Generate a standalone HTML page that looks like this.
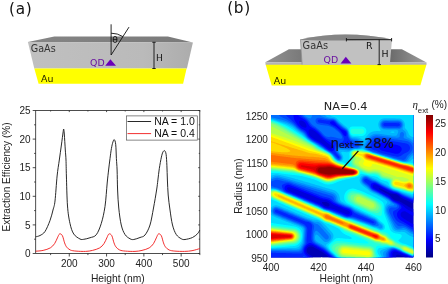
<!DOCTYPE html>
<html><head><meta charset="utf-8"><title>Figure</title>
<style>
html,body{margin:0;padding:0;background:#fff}
svg{display:block}
.dj{font-family:"DejaVu Sans","Liberation Sans",sans-serif}
.ar{font-family:"Liberation Sans",Arial,sans-serif}
</style></head><body>
<svg width="448" height="284" viewBox="0 0 448 284">
<defs>
<linearGradient id="jet" x1="0" y1="1" x2="0" y2="0">
<stop offset="0" stop-color="#000080"/><stop offset="0.125" stop-color="#0000ff"/><stop offset="0.375" stop-color="#00ffff"/><stop offset="0.625" stop-color="#ffff00"/><stop offset="0.875" stop-color="#ff0000"/><stop offset="1" stop-color="#800000"/>
</linearGradient>
<linearGradient id="gfront" x1="0" y1="0" x2="1" y2="0"><stop offset="0" stop-color="#c0c0c0"/><stop offset="0.7" stop-color="#bababa"/><stop offset="1" stop-color="#acacac"/></linearGradient>
<linearGradient id="gtop" x1="0" y1="0" x2="1" y2="0"><stop offset="0" stop-color="#858585"/><stop offset="1" stop-color="#7a7a7a"/></linearGradient>
<linearGradient id="gtopb" x1="0" y1="0" x2="1" y2="0"><stop offset="0" stop-color="#929292"/><stop offset="0.22" stop-color="#7a7a7a"/><stop offset="0.78" stop-color="#6c6c6c"/><stop offset="1" stop-color="#9c9c9c"/></linearGradient>
<linearGradient id="gtopc" x1="0" y1="0" x2="1" y2="0"><stop offset="0" stop-color="#6e6e6e"/><stop offset="1" stop-color="#929292"/></linearGradient>
<clipPath id="hc"><rect x="0" y="0" width="143" height="143"/></clipPath>
</defs>
<rect width="448" height="284" fill="#fff"/>
<g id="schemA">
<polygon points="27.9,42.1 54.3,36.4 167.9,36.4 192.9,42.4" fill="url(#gtop)"/>
<polygon points="27.9,42.1 192.9,42.4 186.9,68.6 34.3,68.4" fill="url(#gfront)"/>
<polygon points="34.3,68.4 186.6,68.6 183.1,83.7 38.6,83.7" fill="#ffff00"/>
<g stroke="#111" stroke-width="0.9" fill="none">
<line x1="111.1" y1="24.3" x2="111.1" y2="55"/>
<line x1="111.1" y1="55" x2="129" y2="27.1"/>
<path d="M111.1,33.2 A21.8,21.8 0 0 1 122.9,36.6"/>
<line x1="154" y1="42.3" x2="154" y2="68.5"/>
<line x1="152.3" y1="42.3" x2="155.7" y2="42.3"/>
<line x1="152.3" y1="68.5" x2="155.7" y2="68.5"/>
</g>
<polygon points="110.4,59.2 105.2,65.8 116,65.8" fill="#6a00b8"/>
<text class="dj" x="9.1" y="14" font-size="15.3" letter-spacing="0.7" fill="#111">(a)</text>
<text class="dj" x="30.8" y="52.2" font-size="9.6" fill="#333">GaAs</text>
<text class="dj" x="41" y="82.2" font-size="9.4" fill="#222200">Au</text>
<text class="dj" x="90" y="65.7" font-size="9.4" fill="#6a12a0">QD</text>
<text class="dj" x="112.3" y="42.8" font-size="9.2" fill="#111">θ</text>
<text class="dj" x="156" y="61" font-size="9" fill="#111">H</text>
</g>
<g id="schemB">
<polygon points="265.3,62.3 288.9,49.3 401.9,49.3 426.6,62.6" fill="url(#gtopb)"/>
<polygon points="265.3,62.2 426.6,62.4 426.4,64.9 265.7,64.9" fill="#b4b4b4"/>
<polygon points="265.7,64.8 426.4,64.8 420.4,85.3 271.7,85.5" fill="#ffff00"/>
<path d="M300.3,39.6 Q345.3,29.6 392,39.6 L389.8,64.8 L302,64.8 Z" fill="#c1c1c1"/>
<path d="M300.3,39.6 Q345.3,29.6 392,39.6 Q345.3,41.4 300.3,39.9 Z" fill="#858585"/>
<path d="M300.5,39.6 L302.1,64.6" stroke="#8a8a8a" stroke-width="0.7" fill="none"/>
<g stroke="#111" stroke-width="0.9" fill="none">
<line x1="346.4" y1="39.7" x2="391.6" y2="39.7"/>
<line x1="346.4" y1="38" x2="346.4" y2="41.4"/>
<line x1="391.6" y1="38" x2="391.6" y2="41.4"/>
<line x1="379.2" y1="39.7" x2="379.2" y2="64.6"/>
<line x1="377.5" y1="64.6" x2="380.9" y2="64.6"/>
</g>
<polygon points="345.8,56.7 340.6,63.4 351.4,63.4" fill="#6a00b8"/>
<text class="dj" x="227.2" y="12.7" font-size="15.3" letter-spacing="0.7" fill="#111">(b)</text>
<text class="dj" x="302.6" y="48.6" font-size="9.8" fill="#333">GaAs</text>
<text class="dj" x="273.8" y="84" font-size="9.4" fill="#222200">Au</text>
<text class="dj" x="323.5" y="63.2" font-size="9.4" fill="#6a12a0">QD</text>
<text class="dj" x="366" y="48.7" font-size="9.4" fill="#111">R</text>
<text class="dj" x="381.6" y="56.7" font-size="9.4" fill="#111">H</text>
</g>
<g id="chartA">
<rect x="35.7" y="110.5" width="164.1" height="143.0" fill="#fff" stroke="#222" stroke-width="0.8"/>
<path d="M50.62,253.5v1.6M50.62,110.5v1.0M69.27,253.5v3.0M69.27,110.5v1.6M87.92,253.5v1.6M87.92,110.5v1.0M106.57,253.5v3.0M106.57,110.5v1.6M125.22,253.5v1.6M125.22,110.5v1.0M143.87,253.5v3.0M143.87,110.5v1.6M162.52,253.5v1.6M162.52,110.5v1.0M181.17,253.5v3.0M181.17,110.5v1.6M199.82,253.5v1.6M199.82,110.5v1.0M35.7,253.50h-3.0M199.8,253.50h-1.6M35.7,239.20h-1.6M199.8,239.20h-1.0M35.7,224.90h-3.0M199.8,224.90h-1.6M35.7,210.60h-1.6M199.8,210.60h-1.0M35.7,196.30h-3.0M199.8,196.30h-1.6M35.7,182.00h-1.6M199.8,182.00h-1.0M35.7,167.70h-3.0M199.8,167.70h-1.6M35.7,153.40h-1.6M199.8,153.40h-1.0M35.7,139.10h-3.0M199.8,139.10h-1.6M35.7,124.80h-1.6M199.8,124.80h-1.0M35.7,110.50h-3.0M199.8,110.50h-1.6" stroke="#222" stroke-width="0.8" fill="none"/>
<path d="M35.70,236.80C36.42,236.58 38.45,236.38 40.00,235.50C41.55,234.62 43.33,234.00 45.00,231.50C46.67,229.00 48.67,224.08 50.00,220.50C51.33,216.92 52.17,213.25 53.00,210.00C53.83,206.75 54.32,206.67 55.00,201.00C55.68,195.33 56.38,182.83 57.10,176.00C57.82,169.17 58.58,165.17 59.30,160.00C60.02,154.83 60.75,149.75 61.40,145.00C62.05,140.25 62.82,134.13 63.20,131.50C63.58,128.87 63.52,128.78 63.70,129.20C63.88,129.62 64.03,130.53 64.30,134.00C64.57,137.47 65.02,145.67 65.30,150.00C65.58,154.33 65.82,155.67 66.00,160.00C66.18,164.33 66.15,168.33 66.40,176.00C66.65,183.67 66.90,198.08 67.50,206.00C68.10,213.92 68.96,218.83 70.00,223.50C71.04,228.17 72.08,231.42 73.75,234.00C75.42,236.58 78.33,238.12 80.00,239.00C81.67,239.88 82.08,239.51 83.75,239.30C85.42,239.09 87.92,238.51 90.00,237.75C92.08,236.99 94.38,237.12 96.25,234.75C98.12,232.38 99.79,228.21 101.25,223.50C102.71,218.79 104.01,213.25 105.00,206.50C105.99,199.75 106.60,189.08 107.20,183.00C107.80,176.92 108.13,174.07 108.60,170.00C109.07,165.93 109.53,162.17 110.00,158.60C110.47,155.03 110.92,151.35 111.40,148.60C111.88,145.85 112.42,143.58 112.90,142.10C113.38,140.62 113.83,139.33 114.30,139.70C114.77,140.07 115.35,141.15 115.70,144.30C116.05,147.45 116.17,154.32 116.40,158.60C116.63,162.88 116.90,164.77 117.10,170.00C117.30,175.23 117.32,183.67 117.60,190.00C117.88,196.33 118.14,202.17 118.75,208.00C119.36,213.83 120.21,220.58 121.25,225.00C122.29,229.42 123.54,232.21 125.00,234.50C126.46,236.79 128.54,237.92 130.00,238.75C131.46,239.58 132.08,239.71 133.75,239.50C135.42,239.29 138.12,238.25 140.00,237.50C141.88,236.75 143.33,237.08 145.00,235.00C146.67,232.92 148.58,229.50 150.00,225.00C151.42,220.50 152.40,213.83 153.50,208.00C154.60,202.17 155.87,194.67 156.60,190.00C157.33,185.33 157.45,183.57 157.90,180.00C158.35,176.43 158.72,172.42 159.30,168.60C159.88,164.78 160.80,159.85 161.40,157.10C162.00,154.35 162.37,153.17 162.90,152.10C163.43,151.03 164.07,150.33 164.60,150.70C165.13,151.07 165.72,151.80 166.10,154.30C166.48,156.80 166.68,161.42 166.90,165.70C167.12,169.98 167.18,175.12 167.40,180.00C167.62,184.88 167.77,190.00 168.20,195.00C168.63,200.00 169.28,205.00 170.00,210.00C170.72,215.00 171.46,220.92 172.50,225.00C173.54,229.08 174.79,232.21 176.25,234.50C177.71,236.79 179.79,237.92 181.25,238.75C182.71,239.58 183.12,239.71 185.00,239.50C186.88,239.29 190.42,238.46 192.50,237.50C194.58,236.54 196.28,235.00 197.50,233.75C198.72,232.50 199.42,230.62 199.80,230.00" stroke="#111" stroke-width="0.9" fill="none" stroke-linejoin="round"/>
<path d="M35.70,251.20C36.93,251.07 40.67,250.95 43.10,250.40C45.53,249.85 48.38,249.03 50.30,247.90C52.22,246.77 53.42,245.27 54.60,243.60C55.78,241.93 56.57,239.52 57.40,237.90C58.23,236.28 58.77,234.27 59.60,233.90C60.43,233.53 61.57,234.20 62.40,235.70C63.23,237.20 63.88,241.00 64.60,242.90C65.32,244.80 65.75,245.92 66.70,247.10C67.65,248.28 68.75,249.33 70.30,250.00C71.85,250.67 73.45,250.87 76.00,251.10C78.55,251.33 82.85,251.52 85.60,251.40C88.35,251.28 90.15,250.98 92.50,250.40C94.85,249.82 97.78,249.03 99.70,247.90C101.62,246.77 102.82,245.27 104.00,243.60C105.18,241.93 105.97,239.52 106.80,237.90C107.63,236.28 108.17,234.27 109.00,233.90C109.83,233.53 110.97,234.20 111.80,235.70C112.63,237.20 113.28,241.00 114.00,242.90C114.72,244.80 115.15,245.92 116.10,247.10C117.05,248.28 118.15,249.33 119.70,250.00C121.25,250.67 122.85,250.87 125.40,251.10C127.95,251.33 132.23,251.52 135.00,251.40C137.77,251.28 139.63,250.98 142.00,250.40C144.37,249.82 147.28,249.03 149.20,247.90C151.12,246.77 152.32,245.27 153.50,243.60C154.68,241.93 155.47,239.52 156.30,237.90C157.13,236.28 157.67,234.27 158.50,233.90C159.33,233.53 160.47,234.20 161.30,235.70C162.13,237.20 162.78,241.00 163.50,242.90C164.22,244.80 164.65,245.92 165.60,247.10C166.55,248.28 167.65,249.33 169.20,250.00C170.75,250.67 172.35,250.87 174.90,251.10C177.45,251.33 181.65,251.47 184.50,251.40C187.35,251.33 189.45,251.17 192.00,250.70C194.55,250.23 198.50,248.95 199.80,248.60" stroke="#f01818" stroke-width="0.9" fill="none" stroke-linejoin="round"/>
<text class="ar" x="69.3" y="266.6" font-size="10" text-anchor="middle" fill="#222">200</text>
<text class="ar" x="106.6" y="266.6" font-size="10" text-anchor="middle" fill="#222">300</text>
<text class="ar" x="143.9" y="266.6" font-size="10" text-anchor="middle" fill="#222">400</text>
<text class="ar" x="181.2" y="266.6" font-size="10" text-anchor="middle" fill="#222">500</text>
<text class="ar" x="30.6" y="257.1" font-size="10" text-anchor="end" fill="#222">0</text>
<text class="ar" x="30.6" y="228.5" font-size="10" text-anchor="end" fill="#222">5</text>
<text class="ar" x="30.6" y="199.9" font-size="10" text-anchor="end" fill="#222">10</text>
<text class="ar" x="30.6" y="171.3" font-size="10" text-anchor="end" fill="#222">15</text>
<text class="ar" x="30.6" y="142.7" font-size="10" text-anchor="end" fill="#222">20</text>
<text class="ar" x="30.6" y="114.1" font-size="10" text-anchor="end" fill="#222">25</text>
<text class="ar" x="117.8" y="282" font-size="10.3" text-anchor="middle" fill="#222">Height (nm)</text>
<text class="ar" transform="translate(10,177) rotate(-90)" font-size="10.1" text-anchor="middle" fill="#222">Extraction Efficiency (%)</text>
<rect x="126.5" y="115.9" width="70.8" height="24.2" fill="#fff" stroke="#555" stroke-width="0.7"/>
<line x1="127.5" y1="121.5" x2="151.1" y2="121.5" stroke="#111" stroke-width="0.9"/>
<line x1="127.5" y1="133.6" x2="151.1" y2="133.6" stroke="#f01818" stroke-width="0.9"/>
<text class="ar" x="154.2" y="125.1" font-size="10.5" fill="#111">NA = 1.0</text>
<text class="ar" x="154.2" y="137.2" font-size="10.5" fill="#111">NA = 0.4</text>
</g>
<g id="chartB">
<g transform="translate(271.0,115.0) scale(0.99650,0.99650)" clip-path="url(#hc)">
<rect x="0" y="0" width="143" height="143" fill="#000092"/>
<path fill="#0000b6" d="M0.5,0.0 1.5,0.0 2.5,0.0 3.5,0.0 4.5,0.0 5.5,0.0 6.5,0.0 7.5,0.0 8.5,0.0 9.5,0.0 10.5,0.0 11.5,0.0 12.5,0.0 13.5,0.0 14.5,0.0 15.5,0.0 16.5,0.0 17.5,0.0 18.5,0.0 19.5,0.0 20.5,0.0 21.5,0.0 22.5,0.0 23.5,0.0 24.5,0.0 25.5,0.0 26.5,0.0 27.5,0.0 28.5,0.0 29.5,0.0 30.5,0.0 31.5,0.0 32.5,0.0 33.5,0.0 34.5,0.0 35.5,0.0 36.5,0.0 37.5,0.0 38.5,0.0 39.5,0.0 40.5,0.0 41.5,0.0 42.5,0.0 43.5,0.0 44.5,0.0 45.5,0.0 46.5,0.0 47.5,0.0 48.5,0.0 49.5,0.0 50.5,0.0 51.5,0.0 52.5,0.0 53.5,0.0 54.5,0.0 55.5,0.0 56.5,0.0 57.5,0.0 58.5,0.0 59.5,0.0 60.5,0.0 61.5,0.0 62.5,0.0 63.5,0.0 64.5,0.0 65.5,0.0 66.5,0.0 67.5,0.0 68.5,0.0 69.5,0.0 70.5,0.0 71.5,0.0 72.5,0.0 73.5,0.0 74.5,0.0 75.5,0.0 76.5,0.0 77.5,0.0 78.5,0.0 79.5,0.0 80.5,0.0 81.5,0.0 82.5,0.0 83.5,0.0 84.5,0.0 85.5,0.0 86.5,0.0 87.5,0.0 88.5,0.0 89.5,0.0 90.5,0.0 91.5,0.0 92.5,0.0 93.5,0.0 94.5,0.0 95.5,0.0 96.5,0.0 97.5,0.0 98.5,0.0 99.5,0.0 100.5,0.0 101.5,0.0 102.5,0.0 103.5,0.0 104.5,0.0 105.5,0.0 106.5,0.0 107.5,0.0 108.5,0.0 109.5,0.0 110.5,0.0 111.5,0.0 112.5,0.0 113.5,0.0 114.5,0.0 115.5,0.0 116.5,0.0 117.5,0.0 118.5,0.0 119.5,0.0 120.5,0.0 121.5,0.0 122.5,0.0 123.5,0.0 124.5,0.0 125.5,0.0 126.5,0.0 127.5,0.0 128.5,0.0 129.5,0.0 130.5,0.0 131.5,0.0 132.5,0.0 133.5,0.0 134.5,0.0 135.5,0.0 136.5,0.0 137.5,0.0 138.5,0.0 139.5,0.0 140.5,0.0 141.5,0.0 142.5,0.0 143.0,0.0 143.0,0.5 143.0,1.5 143.0,2.5 143.0,3.5 143.0,4.5 143.0,5.5 143.0,6.5 143.0,7.5 143.0,8.5 143.0,9.5 143.0,10.5 143.0,11.5 143.0,12.5 143.0,13.5 143.0,14.5 143.0,15.5 143.0,16.5 143.0,17.5 143.0,18.5 143.0,19.5 143.0,20.5 143.0,21.5 143.0,22.5 143.0,23.5 143.0,24.5 143.0,25.5 143.0,26.5 143.0,27.5 143.0,28.5 143.0,29.5 143.0,30.5 143.0,31.5 143.0,32.5 143.0,33.5 143.0,34.5 143.0,35.5 143.0,36.5 143.0,37.5 143.0,38.5 143.0,39.5 143.0,40.5 143.0,41.5 143.0,42.5 143.0,43.5 143.0,44.5 143.0,45.5 143.0,46.5 143.0,47.5 143.0,48.5 143.0,49.5 143.0,50.5 143.0,51.5 143.0,52.5 143.0,53.5 143.0,54.5 143.0,55.5 143.0,56.5 143.0,57.5 143.0,58.5 143.0,59.5 143.0,60.5 143.0,61.5 143.0,62.5 143.0,63.5 143.0,64.5 143.0,65.5 143.0,66.5 143.0,67.5 143.0,68.5 143.0,69.5 143.0,70.5 143.0,71.5 143.0,72.5 143.0,73.5 143.0,74.5 143.0,75.5 143.0,76.5 143.0,77.5 143.0,78.5 143.0,79.5 143.0,80.5 143.0,81.5 143.0,82.5 143.0,83.5 143.0,84.5 143.0,85.5 143.0,86.5 143.0,87.5 143.0,88.5 143.0,89.5 143.0,90.5 143.0,91.5 143.0,92.5 143.0,93.5 143.0,94.5 143.0,95.5 143.0,96.5 143.0,97.5 143.0,98.5 143.0,99.5 143.0,100.5 143.0,101.5 143.0,102.5 143.0,103.5 143.0,104.5 143.0,105.5 143.0,106.5 143.0,107.5 143.0,108.5 143.0,109.5 143.0,110.5 143.0,111.5 143.0,112.5 143.0,113.5 143.0,114.5 143.0,115.5 143.0,116.5 143.0,117.5 143.0,118.5 143.0,119.5 143.0,120.5 143.0,121.5 143.0,122.5 143.0,123.5 143.0,124.5 143.0,125.5 143.0,126.5 143.0,127.5 143.0,128.5 143.0,129.5 143.0,130.5 143.0,131.5 143.0,132.5 143.0,133.5 143.0,134.5 143.0,135.5 143.0,136.5 143.0,137.5 143.0,138.5 143.0,139.5 143.0,140.5 143.0,141.5 143.0,142.5 143.0,143.0 142.5,143.0 141.5,143.0 140.5,143.0 139.5,143.0 138.5,143.0 137.5,143.0 136.5,143.0 135.5,143.0 134.5,143.0 133.5,143.0 132.5,143.0 131.5,143.0 130.5,143.0 129.5,143.0 128.5,143.0 127.5,143.0 126.5,143.0 125.5,143.0 124.5,143.0 123.5,143.0 122.5,143.0 121.5,143.0 120.5,143.0 119.5,143.0 118.5,143.0 117.5,143.0 116.5,143.0 115.5,143.0 114.5,143.0 113.5,143.0 112.5,143.0 111.5,143.0 110.5,143.0 109.5,143.0 108.5,143.0 107.5,143.0 106.5,143.0 105.5,143.0 104.5,143.0 103.5,143.0 102.5,143.0 101.5,143.0 100.5,143.0 99.5,143.0 98.5,143.0 97.5,143.0 96.5,143.0 95.5,143.0 94.5,143.0 93.5,143.0 92.5,143.0 91.5,143.0 90.5,143.0 89.5,143.0 88.5,143.0 87.5,143.0 86.5,143.0 85.5,143.0 84.5,143.0 83.5,143.0 82.5,143.0 81.5,143.0 80.5,143.0 79.5,143.0 78.5,143.0 77.5,143.0 76.5,143.0 75.5,143.0 74.5,143.0 73.5,143.0 72.5,143.0 71.5,143.0 70.5,143.0 69.5,143.0 68.5,143.0 67.5,143.0 66.5,143.0 65.5,143.0 64.5,143.0 63.5,143.0 62.5,143.0 61.5,143.0 60.5,143.0 59.5,143.0 58.5,143.0 57.5,143.0 56.5,143.0 55.5,143.0 54.5,143.0 53.5,143.0 52.5,143.0 51.5,143.0 51.4,143.0 51.4,142.5 50.5,142.1 50.2,142.5 50.2,143.0 49.5,143.0 48.5,143.0 47.5,143.0 46.5,143.0 45.5,143.0 44.5,143.0 43.5,143.0 42.5,143.0 41.5,143.0 40.5,143.0 39.5,143.0 38.5,143.0 37.5,143.0 36.5,143.0 35.5,143.0 34.5,143.0 33.5,143.0 32.5,143.0 31.5,143.0 30.5,143.0 29.5,143.0 28.5,143.0 27.5,143.0 26.5,143.0 25.5,143.0 24.5,143.0 23.5,143.0 22.5,143.0 21.5,143.0 20.5,143.0 19.5,143.0 18.5,143.0 17.5,143.0 16.5,143.0 15.5,143.0 14.5,143.0 13.5,143.0 12.5,143.0 11.5,143.0 10.5,143.0 9.5,143.0 8.5,143.0 7.5,143.0 6.5,143.0 5.5,143.0 4.5,143.0 3.5,143.0 2.5,143.0 1.5,143.0 0.5,143.0 0.0,143.0 0.0,142.5 0.0,141.5 0.0,140.5 0.0,139.5 0.0,138.5 0.0,137.5 0.0,136.5 0.0,135.5 0.0,134.5 0.0,133.5 0.0,132.5 0.0,131.5 0.0,130.5 0.0,129.5 0.0,128.5 0.0,127.5 0.0,126.5 0.0,125.5 0.0,124.5 0.0,123.5 0.0,122.5 0.0,121.5 0.0,120.5 0.0,119.5 0.0,118.5 0.0,117.5 0.0,116.5 0.0,115.5 0.0,114.5 0.0,113.5 0.0,112.5 0.0,111.5 0.0,110.5 0.0,109.5 0.0,108.5 0.0,107.5 0.0,106.5 0.0,105.5 0.0,104.5 0.0,103.5 0.0,102.5 0.0,101.5 0.0,100.5 0.0,99.5 0.0,98.5 0.0,97.5 0.0,96.5 0.0,95.5 0.0,94.5 0.0,93.5 0.0,92.5 0.0,91.5 0.0,90.5 0.0,89.5 0.0,88.5 0.0,87.5 0.0,86.5 0.0,85.5 0.0,84.5 0.0,83.5 0.0,82.5 0.0,81.5 0.0,80.5 0.0,79.5 0.0,78.5 0.0,77.5 0.0,76.5 0.0,75.5 0.0,74.5 0.0,73.5 0.0,72.5 0.0,71.5 0.0,70.5 0.0,69.5 0.0,68.5 0.0,67.5 0.0,66.5 0.0,65.5 0.0,64.5 0.0,63.5 0.0,62.5 0.0,61.5 0.0,60.5 0.0,59.5 0.0,58.5 0.0,57.5 0.0,56.5 0.0,55.5 0.0,54.5 0.0,53.5 0.0,52.5 0.0,51.5 0.0,50.5 0.0,49.5 0.0,48.5 0.0,47.5 0.0,46.5 0.0,45.5 0.0,44.5 0.0,43.5 0.0,42.5 0.0,41.5 0.0,40.5 0.0,39.5 0.0,38.5 0.0,37.5 0.0,36.5 0.0,35.5 0.0,34.5 0.0,33.5 0.0,32.5 0.0,31.5 0.0,30.5 0.0,29.5 0.0,28.5 0.0,27.5 0.0,26.5 0.0,25.5 0.0,24.5 0.0,23.5 0.0,22.5 0.0,21.5 0.0,20.5 0.0,19.5 0.0,18.5 0.0,17.5 0.0,16.5 0.0,15.5 0.0,14.5 0.0,13.5 0.0,12.5 0.0,11.5 0.0,10.5 0.0,9.5 0.0,8.5 0.0,7.5 0.0,6.5 0.0,5.5 0.0,4.5 0.0,3.5 0.0,2.5 0.0,1.5 0.0,0.5 0.0,0.0ZM42.3,137.5 42.5,137.6 42.9,137.5 42.5,137.4ZM44.3,138.5 44.5,138.6 44.7,138.5 44.5,138.4ZM46.3,139.5 46.5,139.6 46.6,139.5 46.5,139.5Z"/>
<path fill="#0000db" d="M0.5,0.0 1.5,0.0 2.5,0.0 3.5,0.0 4.5,0.0 5.5,0.0 6.5,0.0 7.5,0.0 8.5,0.0 9.5,0.0 10.5,0.0 11.5,0.0 12.5,0.0 13.5,0.0 14.5,0.0 15.5,0.0 16.5,0.0 17.5,0.0 18.5,0.0 19.5,0.0 20.5,0.0 21.5,0.0 22.5,0.0 23.5,0.0 24.5,0.0 25.5,0.0 26.5,0.0 27.5,0.0 28.5,0.0 29.5,0.0 30.5,0.0 31.5,0.0 32.5,0.0 33.5,0.0 34.5,0.0 35.5,0.0 36.5,0.0 37.5,0.0 38.5,0.0 39.5,0.0 40.5,0.0 41.5,0.0 42.5,0.0 43.5,0.0 44.5,0.0 45.5,0.0 46.5,0.0 47.5,0.0 48.5,0.0 49.5,0.0 50.5,0.0 51.5,0.0 52.5,0.0 53.5,0.0 54.5,0.0 55.5,0.0 56.5,0.0 57.5,0.0 58.5,0.0 59.5,0.0 60.5,0.0 61.5,0.0 62.5,0.0 63.5,0.0 64.5,0.0 65.5,0.0 66.5,0.0 67.5,0.0 68.5,0.0 69.5,0.0 70.5,0.0 71.5,0.0 72.5,0.0 73.5,0.0 74.5,0.0 75.5,0.0 76.5,0.0 77.5,0.0 78.5,0.0 79.5,0.0 80.5,0.0 81.5,0.0 82.5,0.0 83.5,0.0 84.5,0.0 85.5,0.0 86.5,0.0 87.5,0.0 88.5,0.0 89.5,0.0 90.5,0.0 91.5,0.0 92.5,0.0 93.5,0.0 94.5,0.0 95.5,0.0 96.5,0.0 97.5,0.0 98.5,0.0 99.5,0.0 100.5,0.0 101.5,0.0 102.5,0.0 103.5,0.0 104.5,0.0 105.5,0.0 106.5,0.0 107.5,0.0 108.5,0.0 109.5,0.0 110.5,0.0 111.5,0.0 112.5,0.0 113.5,0.0 114.5,0.0 115.5,0.0 116.5,0.0 117.5,0.0 118.5,0.0 119.5,0.0 120.5,0.0 121.5,0.0 122.5,0.0 123.5,0.0 124.5,0.0 125.5,0.0 126.5,0.0 127.5,0.0 128.5,0.0 129.5,0.0 130.5,0.0 131.5,0.0 132.5,0.0 133.5,0.0 134.5,0.0 135.5,0.0 136.5,0.0 137.5,0.0 138.5,0.0 139.5,0.0 140.5,0.0 141.5,0.0 142.5,0.0 143.0,0.0 143.0,0.5 143.0,1.5 143.0,2.5 143.0,3.5 143.0,4.5 143.0,5.5 143.0,6.5 143.0,7.5 143.0,8.5 143.0,9.5 143.0,10.5 143.0,11.5 143.0,12.5 143.0,13.5 143.0,14.5 143.0,15.5 143.0,16.5 143.0,17.5 143.0,18.5 143.0,19.5 143.0,20.5 143.0,21.5 143.0,22.5 143.0,23.5 143.0,24.5 143.0,25.5 143.0,26.5 143.0,27.5 143.0,28.5 143.0,29.5 143.0,30.5 143.0,31.5 143.0,32.5 143.0,33.5 143.0,34.5 143.0,35.5 143.0,36.5 143.0,37.5 143.0,38.5 143.0,39.5 143.0,40.5 143.0,41.5 143.0,42.5 143.0,43.5 143.0,44.5 143.0,45.5 143.0,46.5 143.0,47.5 143.0,48.5 143.0,49.5 143.0,50.5 143.0,51.5 143.0,52.5 143.0,53.5 143.0,54.5 143.0,55.5 143.0,56.5 143.0,57.5 143.0,58.5 143.0,59.5 143.0,60.5 143.0,61.5 143.0,62.5 143.0,63.5 143.0,64.5 143.0,65.5 143.0,66.5 143.0,67.5 143.0,68.5 143.0,69.5 143.0,70.5 143.0,71.5 143.0,72.5 143.0,73.5 143.0,74.5 143.0,75.5 143.0,76.5 143.0,77.5 143.0,78.5 143.0,79.5 143.0,80.5 143.0,81.5 143.0,82.5 143.0,83.5 143.0,84.5 143.0,85.5 143.0,86.5 143.0,87.5 143.0,88.4 142.5,88.4 141.5,88.2 140.5,87.7 140.1,87.5 139.5,87.3 138.5,86.8 137.9,86.5 137.5,86.4 136.5,85.9 135.7,85.5 135.5,85.4 134.5,85.0 133.5,84.5 133.5,84.5 132.5,84.1 131.5,83.5 131.5,83.5 130.5,83.0 129.9,82.5 129.5,82.2 128.7,81.5 128.5,81.4 127.5,80.6 127.3,80.5 126.5,80.1 125.5,79.6 125.1,79.5 124.5,79.4 123.5,79.2 122.5,79.1 121.5,79.0 120.5,78.8 119.6,78.5 119.5,78.5 118.5,78.1 117.5,77.6 117.4,77.5 116.5,77.2 115.5,76.6 115.4,76.5 114.5,76.2 113.5,75.5 113.5,75.5 112.5,75.1 111.5,74.5 111.5,74.5 110.5,74.2 109.5,73.7 108.9,73.5 108.5,73.4 108.1,73.5 108.5,74.5 108.5,74.5 109.5,75.1 110.0,75.5 110.5,75.7 111.5,76.3 111.8,76.5 112.5,76.8 113.5,77.4 113.6,77.5 114.5,77.9 115.5,78.5 115.5,78.5 116.5,78.9 117.3,79.5 117.5,79.6 118.5,80.2 118.8,80.5 119.5,81.0 120.0,81.5 120.5,82.0 120.9,82.5 121.5,83.2 121.8,83.5 122.5,84.2 122.9,84.5 123.5,84.9 124.5,85.5 124.6,85.5 125.5,85.8 126.5,86.0 127.5,86.3 128.0,86.5 128.5,86.6 129.5,87.0 130.4,87.5 130.5,87.6 131.5,88.1 132.1,88.5 132.5,88.7 133.5,89.3 133.8,89.5 134.5,89.9 135.4,90.5 135.5,90.6 136.5,91.1 137.1,91.5 137.5,91.7 138.5,92.3 138.9,92.5 139.5,92.8 140.5,93.3 140.8,93.5 141.5,93.9 142.5,94.3 143.0,94.3 143.0,94.5 143.0,95.5 143.0,96.5 143.0,97.5 143.0,98.5 143.0,99.5 143.0,100.5 143.0,101.5 143.0,102.5 143.0,103.5 143.0,104.5 143.0,105.5 143.0,106.5 143.0,107.5 143.0,108.5 143.0,109.5 143.0,110.5 143.0,111.5 143.0,112.5 143.0,113.5 143.0,114.5 143.0,115.5 143.0,116.5 143.0,117.5 143.0,118.5 143.0,119.5 143.0,120.5 143.0,121.5 143.0,122.5 143.0,123.5 143.0,124.5 143.0,125.5 143.0,126.5 143.0,127.5 143.0,128.5 143.0,129.5 143.0,130.5 143.0,131.5 143.0,132.5 143.0,133.5 143.0,134.5 143.0,135.5 143.0,136.5 143.0,137.5 143.0,138.5 143.0,139.5 143.0,140.5 143.0,141.5 143.0,142.5 143.0,143.0 142.5,143.0 141.5,143.0 140.5,143.0 139.5,143.0 138.5,143.0 137.5,143.0 136.5,143.0 135.5,143.0 134.5,143.0 134.0,143.0 134.0,142.5 133.5,142.2 132.5,141.7 132.0,141.5 131.5,141.3 130.5,140.9 129.5,140.5 129.4,140.5 128.5,140.3 127.5,140.1 126.5,140.2 125.9,140.5 125.5,141.5 125.6,142.5 125.6,143.0 125.5,143.0 124.5,143.0 123.5,143.0 122.5,143.0 121.5,143.0 120.5,143.0 119.5,143.0 118.5,143.0 117.5,143.0 116.5,143.0 115.5,143.0 114.5,143.0 113.5,143.0 112.5,143.0 111.5,143.0 110.5,143.0 109.5,143.0 108.5,143.0 107.5,143.0 106.5,143.0 105.5,143.0 104.5,143.0 103.5,143.0 102.5,143.0 101.5,143.0 100.5,143.0 99.5,143.0 98.5,143.0 97.5,143.0 96.5,143.0 95.5,143.0 94.5,143.0 93.5,143.0 92.5,143.0 91.5,143.0 90.5,143.0 89.5,143.0 88.5,143.0 87.5,143.0 86.5,143.0 85.5,143.0 84.5,143.0 83.5,143.0 82.5,143.0 81.5,143.0 80.5,143.0 79.5,143.0 78.5,143.0 77.5,143.0 76.5,143.0 75.5,143.0 74.5,143.0 73.5,143.0 72.5,143.0 71.5,143.0 70.5,143.0 69.5,143.0 68.5,143.0 67.5,143.0 66.5,143.0 65.5,143.0 64.5,143.0 63.5,143.0 62.5,143.0 61.5,143.0 60.5,143.0 59.5,143.0 58.5,143.0 57.8,143.0 57.8,142.5 57.5,142.2 56.7,141.5 56.5,141.3 55.5,140.5 55.5,140.5 54.5,139.7 54.2,139.5 53.5,139.0 52.8,138.5 52.5,138.3 51.5,137.7 51.3,137.5 50.5,137.1 49.6,136.5 49.5,136.4 48.5,135.9 47.9,135.5 47.5,135.3 46.5,134.8 46.1,134.5 45.5,134.2 44.5,133.6 44.3,133.5 43.5,133.1 42.5,132.5 42.4,132.5 41.5,132.1 40.5,131.9 39.5,131.9 38.5,132.1 37.8,132.5 37.5,132.7 36.7,133.5 36.5,133.8 36.1,134.5 35.9,135.5 35.9,136.5 36.2,137.5 36.5,138.2 36.7,138.5 37.5,139.3 37.7,139.5 38.5,140.0 39.3,140.5 39.5,140.6 40.5,141.2 41.0,141.5 41.5,141.9 42.2,142.5 42.2,143.0 41.5,143.0 40.5,143.0 39.5,143.0 38.5,143.0 37.5,143.0 36.5,143.0 35.5,143.0 34.5,143.0 33.5,143.0 32.5,143.0 31.5,143.0 30.5,143.0 29.5,143.0 28.5,143.0 27.5,143.0 26.5,143.0 25.5,143.0 24.5,143.0 23.5,143.0 22.5,143.0 21.5,143.0 20.5,143.0 19.5,143.0 18.5,143.0 17.5,143.0 16.5,143.0 15.5,143.0 14.5,143.0 13.5,143.0 12.5,143.0 11.5,143.0 10.5,143.0 9.5,143.0 8.5,143.0 7.5,143.0 6.5,143.0 5.5,143.0 4.5,143.0 3.5,143.0 2.5,143.0 1.5,143.0 0.5,143.0 0.0,143.0 0.0,142.5 0.0,141.5 0.0,140.5 0.0,139.5 0.0,138.5 0.0,137.5 0.0,136.5 0.0,135.5 0.0,134.5 0.0,133.5 0.0,132.5 0.0,131.5 0.0,130.5 0.0,129.5 0.0,128.5 0.0,127.5 0.0,126.5 0.0,125.5 0.0,124.5 0.0,123.5 0.0,122.5 0.0,121.5 0.0,120.5 0.0,119.5 0.0,118.5 0.0,117.5 0.0,116.5 0.0,115.5 0.0,114.5 0.0,113.5 0.0,112.5 0.0,111.5 0.0,110.5 0.0,109.5 0.0,108.5 0.0,107.5 0.0,106.5 0.0,105.5 0.0,104.5 0.0,103.5 0.0,102.5 0.0,101.5 0.0,100.5 0.0,99.5 0.0,98.5 0.0,97.5 0.0,96.5 0.0,95.5 0.0,94.5 0.0,93.5 0.0,92.5 0.0,91.5 0.0,90.5 0.0,89.5 0.0,88.5 0.0,87.5 0.0,86.5 0.0,85.5 0.0,84.5 0.0,83.5 0.0,82.5 0.0,81.5 0.0,80.5 0.0,79.5 0.0,78.5 0.0,77.5 0.0,76.5 0.0,75.5 0.0,74.5 0.0,73.5 0.0,72.5 0.0,71.5 0.0,70.5 0.0,69.5 0.0,68.5 0.0,67.5 0.0,66.5 0.0,65.5 0.0,64.5 0.0,63.5 0.0,62.5 0.0,61.5 0.0,60.5 0.0,59.5 0.0,58.5 0.0,57.5 0.0,56.5 0.0,55.5 0.0,54.5 0.0,53.5 0.0,52.5 0.0,51.5 0.0,50.5 0.0,49.5 0.0,48.5 0.0,47.5 0.0,46.5 0.0,45.5 0.0,44.5 0.0,43.5 0.0,42.5 0.0,41.5 0.0,40.5 0.0,39.5 0.0,38.5 0.0,37.5 0.0,36.5 0.0,35.5 0.0,34.5 0.0,33.5 0.0,32.5 0.0,31.5 0.0,30.5 0.0,29.5 0.0,28.5 0.0,27.5 0.0,26.5 0.0,25.5 0.0,24.5 0.0,23.5 0.0,22.5 0.0,21.5 0.0,20.5 0.0,19.5 0.0,18.5 0.0,17.5 0.0,16.5 0.0,15.5 0.0,14.5 0.0,13.5 0.0,12.5 0.0,11.5 0.0,10.5 0.0,9.5 0.0,8.5 0.0,7.5 0.0,6.5 0.0,5.5 0.0,4.5 0.0,3.5 0.0,2.5 0.0,1.5 0.0,0.5 0.0,0.0ZM51.1,87.5 51.3,88.5 51.5,88.6 52.2,89.5 52.5,89.7 53.4,90.5 53.5,90.6 54.5,91.2 55.1,91.5 55.5,91.6 56.5,91.7 57.5,91.7 58.0,91.5 58.5,91.0 58.8,90.5 58.6,89.5 58.5,89.4 57.8,88.5 57.5,88.3 56.5,87.8 55.8,87.5 55.5,87.4 54.5,87.3 53.5,87.3 52.5,87.3 51.5,87.4Z"/>
<path fill="#0000ff" d="M0.5,0.0 1.5,0.0 2.5,0.0 3.5,0.0 4.5,0.0 5.5,0.0 6.5,0.0 7.5,0.0 8.5,0.0 9.5,0.0 10.5,0.0 11.5,0.0 12.5,0.0 13.5,0.0 14.5,0.0 15.5,0.0 16.5,0.0 17.5,0.0 18.5,0.0 19.5,0.0 20.5,0.0 21.5,0.0 22.5,0.0 23.5,0.0 24.5,0.0 25.5,0.0 26.5,0.0 27.5,0.0 28.5,0.0 29.5,0.0 30.5,0.0 31.5,0.0 32.5,0.0 33.5,0.0 34.5,0.0 35.5,0.0 36.5,0.0 37.5,0.0 38.5,0.0 39.5,0.0 40.5,0.0 41.5,0.0 42.5,0.0 43.5,0.0 44.5,0.0 45.5,0.0 46.5,0.0 47.5,0.0 48.5,0.0 49.5,0.0 50.5,0.0 51.5,0.0 52.5,0.0 53.5,0.0 54.5,0.0 55.5,0.0 56.5,0.0 57.5,0.0 58.5,0.0 59.5,0.0 60.5,0.0 61.5,0.0 62.5,0.0 63.5,0.0 64.5,0.0 65.5,0.0 66.5,0.0 67.5,0.0 68.5,0.0 69.5,0.0 70.5,0.0 71.5,0.0 72.5,0.0 73.5,0.0 74.5,0.0 75.5,0.0 76.5,0.0 77.5,0.0 78.5,0.0 79.5,0.0 80.5,0.0 81.5,0.0 82.5,0.0 83.5,0.0 84.5,0.0 85.5,0.0 86.5,0.0 87.5,0.0 88.5,0.0 89.5,0.0 90.5,0.0 91.5,0.0 92.5,0.0 93.5,0.0 94.5,0.0 95.5,0.0 96.5,0.0 97.5,0.0 98.5,0.0 99.5,0.0 100.5,0.0 101.5,0.0 102.5,0.0 103.5,0.0 104.5,0.0 105.5,0.0 106.5,0.0 107.5,0.0 108.5,0.0 109.5,0.0 110.5,0.0 111.5,0.0 112.5,0.0 113.5,0.0 114.5,0.0 115.5,0.0 116.5,0.0 117.5,0.0 118.5,0.0 119.5,0.0 120.5,0.0 121.5,0.0 122.5,0.0 123.5,0.0 124.5,0.0 125.5,0.0 126.5,0.0 127.5,0.0 128.5,0.0 129.5,0.0 130.5,0.0 131.5,0.0 132.5,0.0 133.5,0.0 134.5,0.0 135.5,0.0 136.5,0.0 137.5,0.0 138.5,0.0 139.5,0.0 140.5,0.0 141.5,0.0 142.5,0.0 143.0,0.0 143.0,0.5 143.0,1.5 143.0,2.5 143.0,3.5 143.0,4.5 143.0,5.5 143.0,6.5 143.0,7.5 143.0,8.5 143.0,9.5 143.0,10.5 143.0,11.5 143.0,12.5 143.0,13.5 143.0,14.5 143.0,15.5 143.0,16.5 143.0,17.5 143.0,18.5 143.0,19.5 143.0,20.5 143.0,21.5 143.0,22.5 143.0,23.5 143.0,24.5 143.0,25.5 143.0,26.5 143.0,27.5 143.0,28.5 143.0,29.5 143.0,30.5 143.0,31.5 143.0,32.5 143.0,33.5 143.0,34.5 143.0,35.5 143.0,36.5 143.0,37.5 143.0,38.5 143.0,39.5 143.0,40.5 143.0,41.5 143.0,42.5 143.0,43.5 143.0,44.5 143.0,45.5 143.0,46.5 143.0,47.5 143.0,48.5 143.0,49.5 143.0,50.5 143.0,51.5 143.0,52.5 143.0,53.5 143.0,54.5 143.0,55.5 143.0,56.5 143.0,57.5 143.0,58.5 143.0,59.5 143.0,60.5 143.0,61.5 143.0,62.5 143.0,63.5 143.0,64.5 143.0,65.5 143.0,66.5 143.0,67.5 143.0,68.5 143.0,69.5 143.0,70.5 143.0,71.5 143.0,72.5 143.0,73.5 143.0,74.5 143.0,75.5 143.0,76.5 143.0,77.5 143.0,78.5 143.0,79.5 143.0,80.5 143.0,81.5 143.0,82.5 143.0,83.5 143.0,84.5 143.0,85.5 143.0,86.5 143.0,86.7 142.5,86.7 141.9,86.5 141.5,86.4 140.5,86.0 139.5,85.5 139.5,85.5 138.5,85.1 137.5,84.7 137.1,84.5 136.5,84.3 135.5,83.8 134.8,83.5 134.5,83.4 133.5,83.0 132.6,82.5 132.5,82.5 131.5,82.0 130.6,81.5 130.5,81.4 129.5,80.8 129.1,80.5 128.5,80.1 127.5,79.5 127.5,79.5 126.5,79.0 125.5,78.6 125.1,78.5 124.5,78.4 123.5,78.2 122.5,77.9 121.5,77.6 121.2,77.5 120.5,77.3 119.5,76.8 118.9,76.5 118.5,76.3 117.5,75.8 116.9,75.5 116.5,75.3 115.5,74.8 114.9,74.5 114.5,74.3 113.5,73.8 112.9,73.5 112.5,73.3 111.5,72.8 110.9,72.5 110.5,72.3 109.5,71.8 108.9,71.5 108.5,71.3 107.5,70.8 106.8,70.5 106.5,70.3 105.5,69.9 104.5,69.5 103.5,69.5 102.5,70.1 102.2,70.5 102.0,71.5 102.3,72.5 102.5,72.8 103.3,73.5 103.5,73.6 104.5,74.2 104.9,74.5 105.5,74.8 106.5,75.4 106.7,75.5 107.5,75.9 108.5,76.5 108.5,76.5 109.5,77.0 110.3,77.5 110.5,77.6 111.5,78.1 112.2,78.5 112.5,78.7 113.5,79.2 114.0,79.5 114.5,79.7 115.5,80.3 115.8,80.5 116.5,80.8 117.5,81.4 117.6,81.5 118.5,82.0 119.1,82.5 119.5,82.8 120.3,83.5 120.5,83.7 121.3,84.5 121.5,84.6 122.5,85.4 122.6,85.5 123.5,86.0 124.5,86.5 124.5,86.5 125.5,86.9 126.5,87.3 127.1,87.5 127.5,87.7 128.5,88.2 129.1,88.5 129.5,88.8 130.5,89.5 130.5,89.5 131.5,90.2 131.9,90.5 132.5,91.1 133.1,91.5 133.5,92.0 134.1,92.5 134.5,92.9 135.2,93.5 135.5,93.8 136.5,94.4 136.6,94.5 137.5,95.1 138.3,95.5 138.5,95.6 139.5,96.2 140.1,96.5 140.5,96.8 141.5,97.3 142.1,97.5 142.5,97.7 143.0,97.7 143.0,98.5 143.0,99.5 143.0,100.5 143.0,101.2 142.5,101.2 141.5,100.7 141.1,100.5 140.5,100.1 139.5,99.5 139.4,99.5 138.5,98.9 137.8,98.5 137.5,98.3 136.5,97.7 136.1,97.5 135.5,97.1 134.5,96.7 133.5,96.6 132.5,96.8 131.5,97.2 131.1,97.5 130.5,98.2 130.3,98.5 130.0,99.5 130.1,100.5 130.4,101.5 130.5,101.6 131.3,102.5 131.5,102.7 132.5,103.4 132.6,103.5 133.5,104.1 134.1,104.5 134.5,104.7 135.5,105.4 135.7,105.5 136.5,106.0 137.3,106.5 137.5,106.6 138.5,107.2 138.9,107.5 139.5,107.8 140.5,108.5 140.5,108.5 141.5,109.0 142.4,109.5 142.5,109.5 143.0,109.5 143.0,110.5 143.0,111.5 143.0,112.5 143.0,113.5 143.0,114.5 143.0,115.5 143.0,116.5 143.0,117.5 143.0,118.5 143.0,119.5 143.0,120.5 143.0,121.5 143.0,122.5 143.0,123.5 143.0,124.5 143.0,125.5 143.0,126.5 143.0,127.5 143.0,128.5 143.0,129.5 143.0,130.5 143.0,131.5 143.0,132.5 143.0,133.5 143.0,134.5 143.0,135.5 143.0,136.5 143.0,137.5 143.0,138.5 143.0,139.5 143.0,140.5 143.0,141.5 143.0,142.5 143.0,143.0 142.5,143.0 141.5,143.0 140.5,143.0 139.5,143.0 138.6,143.0 138.6,142.5 138.5,142.5 137.5,142.0 136.6,141.5 136.5,141.5 135.5,141.1 134.5,140.6 134.2,140.5 133.5,140.3 132.5,139.8 131.8,139.5 131.5,139.4 130.5,139.0 129.5,138.5 129.4,138.5 128.5,138.2 127.5,137.8 126.7,137.5 126.5,137.4 125.5,137.2 124.5,137.1 123.5,137.2 122.9,137.5 122.5,137.8 122.0,138.5 121.7,139.5 121.7,140.5 121.9,141.5 122.1,142.5 122.1,143.0 121.5,143.0 120.5,143.0 119.5,143.0 118.5,143.0 117.5,143.0 116.5,143.0 115.5,143.0 114.5,143.0 113.5,143.0 112.5,143.0 111.5,143.0 110.5,143.0 109.5,143.0 108.5,143.0 107.5,143.0 106.5,143.0 105.5,143.0 104.5,143.0 103.5,143.0 102.5,143.0 101.5,143.0 100.5,143.0 99.5,143.0 98.5,143.0 97.5,143.0 96.5,143.0 95.5,143.0 94.5,143.0 93.5,143.0 92.5,143.0 91.5,143.0 90.5,143.0 89.5,143.0 88.5,143.0 87.5,143.0 86.5,143.0 85.5,143.0 84.5,143.0 83.5,143.0 82.5,143.0 81.5,143.0 80.5,143.0 79.5,143.0 78.5,143.0 77.5,143.0 76.5,143.0 75.5,143.0 74.5,143.0 73.5,143.0 72.5,143.0 71.5,143.0 70.5,143.0 69.5,143.0 68.5,143.0 67.5,143.0 66.5,143.0 65.5,143.0 64.5,143.0 63.5,143.0 62.5,143.0 61.5,143.0 60.5,143.0 59.8,143.0 59.8,142.5 59.5,142.2 58.8,141.5 58.5,141.3 57.6,140.5 57.5,140.4 56.5,139.6 56.4,139.5 55.5,138.8 55.1,138.5 54.5,138.0 53.8,137.5 53.5,137.3 52.5,136.6 52.4,136.5 51.5,136.0 50.8,135.5 50.5,135.4 49.5,134.8 49.0,134.5 48.5,134.2 47.5,133.6 47.3,133.5 46.5,133.1 45.5,132.5 45.5,132.5 44.5,132.0 43.7,131.5 43.5,131.4 42.5,130.9 41.6,130.5 41.5,130.5 40.5,130.3 39.5,130.2 38.5,130.4 38.2,130.5 37.5,130.8 36.5,131.5 36.5,131.5 35.5,132.5 35.5,132.6 34.9,133.5 34.5,134.5 34.5,134.7 34.4,135.5 34.3,136.5 34.5,137.5 34.5,137.5 34.9,138.5 35.5,139.5 35.5,139.5 36.5,140.5 36.5,140.5 37.5,141.2 38.0,141.5 38.5,141.9 39.2,142.5 39.2,143.0 38.5,143.0 37.5,143.0 36.5,143.0 35.5,143.0 34.5,143.0 33.5,143.0 32.5,143.0 31.5,143.0 30.5,143.0 29.5,143.0 28.5,143.0 27.5,143.0 26.5,143.0 25.5,143.0 24.5,143.0 23.5,143.0 22.5,143.0 21.5,143.0 20.5,143.0 19.5,143.0 18.5,143.0 17.5,143.0 16.5,143.0 15.5,143.0 14.5,143.0 13.5,143.0 12.5,143.0 11.5,143.0 10.5,143.0 9.5,143.0 8.5,143.0 7.5,143.0 6.5,143.0 5.5,143.0 4.5,143.0 3.5,143.0 2.5,143.0 1.5,143.0 0.5,143.0 0.0,143.0 0.0,142.5 0.0,141.5 0.0,140.5 0.0,139.5 0.0,138.5 0.0,137.5 0.0,136.5 0.0,135.5 0.0,134.5 0.0,133.5 0.0,132.5 0.0,131.5 0.0,130.5 0.0,129.5 0.0,128.5 0.0,127.5 0.0,126.5 0.0,125.5 0.0,124.5 0.0,123.5 0.0,122.5 0.0,121.5 0.0,120.5 0.0,119.5 0.0,118.5 0.0,117.5 0.0,116.5 0.0,115.5 0.0,114.5 0.0,113.5 0.0,112.5 0.0,111.5 0.0,110.5 0.0,109.5 0.0,108.5 0.0,107.5 0.0,106.5 0.0,105.5 0.0,104.5 0.0,103.5 0.0,102.5 0.0,101.5 0.0,100.5 0.0,99.5 0.0,98.5 0.0,97.5 0.0,96.5 0.0,95.5 0.0,94.5 0.0,93.5 0.0,92.5 0.0,91.5 0.0,90.5 0.0,89.5 0.0,88.5 0.0,87.5 0.0,86.5 0.0,85.5 0.0,84.5 0.0,83.5 0.0,82.5 0.0,81.5 0.0,80.5 0.0,79.5 0.0,78.5 0.0,77.5 0.0,76.5 0.0,75.5 0.0,74.5 0.0,73.5 0.0,72.5 0.0,71.5 0.0,70.5 0.0,69.5 0.0,68.5 0.0,67.5 0.0,66.5 0.0,65.5 0.0,64.5 0.0,63.5 0.0,62.5 0.0,61.5 0.0,60.5 0.0,59.5 0.0,58.5 0.0,57.5 0.0,56.5 0.0,55.5 0.0,54.5 0.0,53.5 0.0,52.5 0.0,51.5 0.0,50.5 0.0,49.5 0.0,48.5 0.0,47.5 0.0,46.5 0.0,45.5 0.0,44.5 0.0,43.5 0.0,42.5 0.0,41.5 0.0,40.5 0.0,39.5 0.0,38.5 0.0,37.5 0.0,36.5 0.0,35.5 0.0,34.5 0.0,33.5 0.0,32.5 0.0,31.5 0.0,30.5 0.0,29.5 0.0,28.5 0.0,27.5 0.0,26.5 0.0,25.5 0.0,24.5 0.0,23.5 0.0,22.5 0.0,21.5 0.0,20.5 0.0,19.5 0.0,18.5 0.0,17.5 0.0,16.5 0.0,15.5 0.0,14.5 0.0,13.5 0.0,12.5 0.0,11.5 0.0,10.5 0.0,9.5 0.0,8.5 0.0,7.5 0.0,6.5 0.0,5.5 0.0,4.5 0.0,3.5 0.0,2.5 0.0,1.5 0.0,0.5 0.0,0.0ZM29.2,5.5 28.5,5.9 28.2,6.5 28.2,7.5 28.4,8.5 28.5,8.7 28.9,9.5 29.5,10.3 29.7,10.5 30.5,11.2 30.8,11.5 31.5,11.9 32.5,12.3 33.2,12.5 33.5,12.6 34.5,12.7 35.2,12.5 35.5,12.3 35.7,11.5 35.6,10.5 35.5,10.2 35.3,9.5 34.8,8.5 34.5,8.0 34.1,7.5 33.5,6.9 33.0,6.5 32.5,6.2 31.5,5.7 30.7,5.5 30.5,5.4 29.5,5.4ZM38.5,14.5 38.5,14.5 37.7,15.5 37.7,16.5 37.8,17.5 38.0,18.5 38.3,19.5 38.5,19.8 38.9,20.5 39.5,21.3 39.7,21.5 40.5,22.1 40.9,22.5 41.5,22.9 42.3,23.5 42.5,23.6 43.5,24.3 43.8,24.5 44.5,24.9 45.5,25.4 45.7,25.5 46.5,25.8 47.5,26.4 47.7,26.5 48.5,26.9 49.4,27.5 49.5,27.6 50.5,28.2 50.9,28.5 51.5,28.9 52.4,29.5 52.5,29.6 53.5,30.3 53.8,30.5 54.5,31.0 55.2,31.5 55.5,31.8 56.4,32.5 56.5,32.6 57.5,33.3 57.8,33.5 58.5,33.9 59.5,34.5 59.5,34.5 60.5,34.6 60.7,34.5 61.5,33.8 61.7,33.5 61.7,32.5 61.5,31.9 61.3,31.5 60.5,30.7 60.2,30.5 59.5,30.0 58.8,29.5 58.5,29.3 57.5,28.6 57.4,28.5 56.5,27.8 56.2,27.5 55.5,27.0 55.0,26.5 54.5,26.1 53.8,25.5 53.5,25.2 52.7,24.5 52.5,24.3 51.6,23.5 51.5,23.4 50.6,22.5 50.5,22.4 49.7,21.5 49.5,21.3 48.8,20.5 48.5,20.1 47.9,19.5 47.5,19.1 46.9,18.5 46.5,18.2 45.8,17.5 45.5,17.3 44.6,16.5 44.5,16.4 43.5,15.7 43.2,15.5 42.5,15.2 41.5,14.8 40.5,14.5 40.1,14.5 39.5,14.4ZM17.3,72.5 16.5,72.8 16.1,73.5 16.3,74.5 16.5,74.8 17.3,75.5 17.5,75.6 18.5,76.2 18.9,76.5 19.5,76.8 20.5,77.4 20.7,77.5 21.5,77.8 22.5,78.3 22.9,78.5 23.5,78.7 24.5,79.1 25.2,79.5 25.5,79.6 26.5,80.0 27.5,80.4 27.6,80.5 28.5,80.8 29.5,81.2 30.1,81.5 30.5,81.6 31.5,82.0 32.5,82.5 32.5,82.5 33.5,82.9 34.5,83.3 34.9,83.5 35.5,83.7 36.5,84.1 37.4,84.5 37.5,84.6 38.5,84.9 39.5,85.4 39.8,85.5 40.5,85.7 41.5,86.2 42.2,86.5 42.5,86.6 43.5,87.0 44.5,87.4 44.6,87.5 45.5,87.8 46.5,88.2 47.1,88.5 47.5,88.7 48.5,89.1 49.2,89.5 49.5,89.6 50.5,90.2 50.8,90.5 51.5,90.9 52.3,91.5 52.5,91.6 53.5,92.3 53.9,92.5 54.5,92.7 55.5,93.1 56.5,93.3 57.5,93.5 58.0,93.5 58.5,93.5 59.5,93.6 60.5,93.8 61.5,94.0 62.5,94.4 62.8,94.5 63.5,94.7 64.5,95.1 65.4,95.5 65.5,95.5 66.5,95.9 67.5,96.3 67.9,96.5 68.5,96.7 69.5,97.1 70.4,97.5 70.5,97.5 71.5,97.9 72.5,98.4 72.8,98.5 73.5,98.8 74.5,99.2 75.2,99.5 75.5,99.6 76.5,99.8 77.5,99.8 78.5,99.5 78.5,99.5 79.1,98.5 79.1,97.5 78.5,96.6 78.4,96.5 77.5,96.0 76.6,95.5 76.5,95.5 75.5,95.2 74.5,94.8 73.8,94.5 73.5,94.4 72.5,94.1 71.5,93.6 71.2,93.5 70.5,93.2 69.5,92.8 68.8,92.5 68.5,92.4 67.5,92.0 66.5,91.5 66.4,91.5 65.5,91.2 64.5,90.7 64.0,90.5 63.5,90.3 62.5,89.8 62.1,89.5 61.5,89.1 60.8,88.5 60.5,88.3 59.5,87.5 59.5,87.5 58.5,86.8 58.0,86.5 57.5,86.2 56.5,85.9 55.5,85.6 54.8,85.5 54.5,85.4 53.5,85.3 52.5,85.1 51.5,84.9 50.5,84.6 50.2,84.5 49.5,84.3 48.5,83.9 47.6,83.5 47.5,83.5 46.5,83.1 45.5,82.7 45.1,82.5 44.5,82.3 43.5,81.9 42.6,81.5 42.5,81.5 41.5,81.1 40.5,80.7 40.1,80.5 39.5,80.3 38.5,79.9 37.6,79.5 37.5,79.5 36.5,79.1 35.5,78.7 35.1,78.5 34.5,78.3 33.5,77.9 32.6,77.5 32.5,77.5 31.5,77.1 30.5,76.7 30.1,76.5 29.5,76.3 28.5,75.9 27.6,75.5 27.5,75.5 26.5,75.1 25.5,74.7 25.1,74.5 24.5,74.3 23.5,73.9 22.5,73.5 22.4,73.5 21.5,73.3 20.5,73.0 19.5,72.8 18.5,72.6 17.8,72.5 17.5,72.5Z"/>
<path fill="#0024ff" d="M0.5,0.0 1.5,0.0 2.5,0.0 3.5,0.0 4.5,0.0 5.5,0.0 6.5,0.0 7.5,0.0 8.5,0.0 9.5,0.0 10.5,0.0 11.5,0.0 12.5,0.0 13.5,0.0 14.5,0.0 15.5,0.0 16.5,0.0 17.5,0.0 18.5,0.0 19.5,0.0 20.5,0.0 21.5,0.0 22.5,0.0 22.6,0.0 22.6,0.5 22.6,1.5 22.8,2.5 23.0,3.5 23.3,4.5 23.5,4.8 23.8,5.5 24.4,6.5 24.5,6.7 25.0,7.5 25.5,8.1 25.7,8.5 26.4,9.5 26.5,9.6 27.2,10.5 27.5,10.8 28.1,11.5 28.5,11.9 29.2,12.5 29.5,12.8 30.5,13.5 30.6,13.5 31.5,14.0 32.4,14.5 32.5,14.6 33.5,15.1 34.1,15.5 34.5,15.8 35.2,16.5 35.5,16.8 35.9,17.5 36.4,18.5 36.5,18.6 36.9,19.5 37.5,20.5 37.5,20.6 38.2,21.5 38.5,21.8 39.2,22.5 39.5,22.8 40.4,23.5 40.5,23.6 41.5,24.3 41.8,24.5 42.5,24.9 43.4,25.5 43.5,25.6 44.5,26.1 45.2,26.5 45.5,26.6 46.5,27.1 47.1,27.5 47.5,27.7 48.5,28.3 48.8,28.5 49.5,28.9 50.3,29.5 50.5,29.6 51.5,30.3 51.8,30.5 52.5,31.0 53.1,31.5 53.5,31.8 54.4,32.5 54.5,32.6 55.5,33.4 55.6,33.5 56.5,34.1 57.1,34.5 57.5,34.8 58.5,35.4 58.6,35.5 59.5,35.9 60.5,36.3 61.5,36.5 62.5,36.2 62.9,35.5 63.1,34.5 63.3,33.5 63.3,32.5 63.2,31.5 62.8,30.5 62.5,30.1 62.0,29.5 61.5,29.0 60.9,28.5 60.5,28.2 59.5,27.5 59.5,27.5 58.5,26.8 58.0,26.5 57.5,26.2 56.5,25.5 56.4,25.5 55.5,24.9 55.0,24.5 54.5,24.2 53.7,23.5 53.5,23.4 52.5,22.5 52.5,22.5 51.5,21.6 51.4,21.5 50.5,20.5 50.5,20.5 49.7,19.5 49.5,19.3 48.7,18.5 48.5,18.3 47.7,17.5 47.5,17.3 46.6,16.5 46.5,16.4 45.5,15.6 45.4,15.5 44.5,14.8 44.1,14.5 43.5,14.1 42.5,13.5 42.4,13.5 41.5,13.0 40.6,12.5 40.5,12.4 39.5,11.7 39.2,11.5 38.5,10.7 38.4,10.5 37.7,9.5 37.5,9.2 37.1,8.5 36.5,7.5 36.5,7.5 35.7,6.5 35.5,6.3 34.7,5.5 34.5,5.3 33.5,4.5 33.5,4.5 32.5,3.9 31.8,3.5 31.5,3.3 30.5,2.8 30.0,2.5 29.5,2.2 28.5,1.5 28.5,1.5 27.5,0.6 27.4,0.5 27.4,0.0 27.5,0.0 28.5,0.0 29.5,0.0 30.5,0.0 31.5,0.0 32.5,0.0 33.5,0.0 34.5,0.0 35.5,0.0 36.5,0.0 37.5,0.0 38.5,0.0 39.5,0.0 40.5,0.0 41.5,0.0 42.5,0.0 43.5,0.0 44.5,0.0 45.5,0.0 46.5,0.0 47.5,0.0 48.5,0.0 49.5,0.0 50.5,0.0 51.5,0.0 52.5,0.0 53.5,0.0 54.5,0.0 55.5,0.0 56.5,0.0 57.5,0.0 58.5,0.0 59.5,0.0 60.5,0.0 61.5,0.0 62.5,0.0 63.5,0.0 64.5,0.0 65.5,0.0 66.5,0.0 67.5,0.0 68.5,0.0 69.5,0.0 70.5,0.0 71.5,0.0 72.5,0.0 73.5,0.0 74.5,0.0 75.5,0.0 76.5,0.0 77.5,0.0 78.5,0.0 79.5,0.0 80.5,0.0 81.5,0.0 82.5,0.0 83.5,0.0 84.5,0.0 85.5,0.0 86.5,0.0 87.5,0.0 88.5,0.0 89.5,0.0 90.5,0.0 91.5,0.0 92.5,0.0 93.5,0.0 94.5,0.0 95.5,0.0 96.5,0.0 97.5,0.0 98.5,0.0 99.5,0.0 100.5,0.0 101.5,0.0 102.5,0.0 103.5,0.0 104.5,0.0 105.5,0.0 106.5,0.0 107.5,0.0 108.5,0.0 109.5,0.0 110.5,0.0 111.5,0.0 112.5,0.0 113.5,0.0 114.5,0.0 115.5,0.0 116.5,0.0 117.5,0.0 118.5,0.0 119.5,0.0 120.5,0.0 121.5,0.0 122.5,0.0 123.5,0.0 124.5,0.0 125.5,0.0 126.5,0.0 127.5,0.0 128.5,0.0 129.5,0.0 130.5,0.0 131.5,0.0 132.5,0.0 133.5,0.0 134.5,0.0 135.5,0.0 136.5,0.0 137.5,0.0 138.5,0.0 139.5,0.0 140.5,0.0 141.5,0.0 142.5,0.0 143.0,0.0 143.0,0.5 143.0,1.5 143.0,2.5 143.0,3.5 143.0,4.5 143.0,5.5 143.0,6.5 143.0,7.5 143.0,8.5 143.0,9.5 143.0,10.5 143.0,11.5 143.0,12.5 143.0,13.5 143.0,14.5 143.0,15.5 143.0,16.5 143.0,17.5 143.0,18.5 143.0,19.5 143.0,20.5 143.0,21.5 143.0,22.5 143.0,23.5 143.0,24.5 143.0,25.5 143.0,26.5 143.0,27.5 143.0,28.5 143.0,29.5 143.0,30.5 143.0,31.5 143.0,32.5 143.0,33.5 143.0,34.5 143.0,35.5 143.0,36.5 143.0,37.5 143.0,38.5 143.0,39.5 143.0,40.5 143.0,41.5 143.0,42.5 143.0,43.5 143.0,44.5 143.0,45.5 143.0,46.5 143.0,47.5 143.0,48.5 143.0,49.5 143.0,50.5 143.0,51.5 143.0,52.5 143.0,53.5 143.0,54.5 143.0,55.5 143.0,56.5 143.0,57.5 143.0,58.5 143.0,59.5 143.0,60.5 143.0,61.5 143.0,62.5 143.0,63.5 143.0,64.5 143.0,65.5 143.0,66.5 143.0,67.5 143.0,68.5 143.0,69.5 143.0,70.5 143.0,71.5 143.0,72.5 143.0,73.5 143.0,74.5 143.0,75.5 143.0,76.5 143.0,77.5 143.0,78.5 143.0,79.5 143.0,80.5 143.0,81.5 143.0,82.5 143.0,83.5 143.0,84.5 143.0,85.5 143.0,85.6 142.5,85.6 142.1,85.5 141.5,85.3 140.5,85.0 139.5,84.5 139.5,84.5 138.5,84.1 137.5,83.7 137.1,83.5 136.5,83.3 135.5,82.9 134.7,82.5 134.5,82.4 133.5,82.0 132.5,81.6 132.4,81.5 131.5,81.1 130.5,80.5 130.5,80.5 129.5,79.9 128.8,79.5 128.5,79.3 127.5,78.8 127.0,78.5 126.5,78.3 125.5,78.0 124.5,77.7 123.9,77.5 123.5,77.4 122.5,77.1 121.5,76.8 120.9,76.5 120.5,76.4 119.5,75.9 118.7,75.5 118.5,75.4 117.5,74.9 116.7,74.5 116.5,74.4 115.5,73.9 114.7,73.5 114.5,73.4 113.5,72.9 112.7,72.5 112.5,72.4 111.5,71.9 110.7,71.5 110.5,71.4 109.5,70.9 108.8,70.5 108.5,70.3 107.5,69.8 107.0,69.5 106.5,69.2 105.5,68.7 105.0,68.5 104.5,68.4 103.5,68.2 102.5,68.2 101.5,68.4 101.2,68.5 100.5,69.1 100.2,69.5 100.2,70.5 100.4,71.5 100.5,71.7 100.9,72.5 101.5,73.4 101.6,73.5 102.5,74.3 102.9,74.5 103.5,74.8 104.5,75.3 104.8,75.5 105.5,75.8 106.5,76.3 106.8,76.5 107.5,76.8 108.5,77.4 108.7,77.5 109.5,77.9 110.5,78.5 110.5,78.5 111.5,79.0 112.3,79.5 112.5,79.6 113.5,80.1 114.1,80.5 114.5,80.7 115.5,81.2 116.0,81.5 116.5,81.8 117.5,82.4 117.7,82.5 118.5,83.0 119.1,83.5 119.5,83.8 120.3,84.5 120.5,84.7 121.5,85.5 121.5,85.5 122.5,86.2 122.9,86.5 123.5,86.8 124.5,87.3 125.0,87.5 125.5,87.7 126.5,88.2 127.1,88.5 127.5,88.7 128.5,89.4 128.7,89.5 129.5,90.2 129.8,90.5 130.5,91.4 130.6,91.5 131.0,92.5 130.8,93.5 130.5,93.8 129.8,94.5 129.5,94.7 128.6,95.5 128.5,95.6 127.7,96.5 127.5,96.8 127.0,97.5 126.6,98.5 126.5,99.2 126.5,99.5 126.5,100.5 126.5,100.6 126.7,101.5 127.1,102.5 127.5,103.2 127.7,103.5 128.5,104.4 128.6,104.5 129.5,105.2 129.9,105.5 130.5,105.9 131.5,106.5 131.5,106.5 132.5,107.1 133.2,107.5 133.5,107.7 134.5,108.3 134.9,108.5 135.5,108.9 136.5,109.5 136.5,109.5 137.5,110.1 138.2,110.5 138.5,110.7 139.5,111.3 139.8,111.5 140.5,111.9 141.4,112.5 141.5,112.5 142.5,113.0 143.0,113.0 143.0,113.5 143.0,114.5 143.0,115.5 143.0,116.5 143.0,117.5 143.0,118.5 143.0,119.5 143.0,120.5 143.0,121.5 143.0,122.5 143.0,123.5 143.0,124.5 143.0,125.5 143.0,126.5 143.0,127.5 143.0,128.5 143.0,129.5 143.0,130.5 143.0,131.5 143.0,132.5 143.0,133.5 143.0,134.5 143.0,135.5 143.0,136.5 143.0,137.5 143.0,138.5 143.0,139.5 143.0,140.5 143.0,141.5 143.0,142.5 143.0,143.0 142.5,143.0 141.5,143.0 140.7,143.0 140.7,142.5 140.5,142.4 139.5,142.0 138.7,141.5 138.5,141.4 137.5,141.1 136.5,140.6 136.3,140.5 135.5,140.2 134.5,139.8 133.9,139.5 133.5,139.4 132.5,139.0 131.6,138.5 131.5,138.5 130.5,138.1 129.5,137.5 129.4,137.5 128.5,137.2 127.5,136.7 127.0,136.5 126.5,136.3 125.5,136.0 124.5,135.8 123.5,135.8 122.5,136.0 121.5,136.5 121.5,136.5 120.6,137.5 120.5,137.6 120.1,138.5 119.9,139.5 119.8,140.5 119.9,141.5 120.0,142.5 120.0,143.0 119.5,143.0 118.5,143.0 117.5,143.0 116.5,143.0 115.5,143.0 114.5,143.0 113.5,143.0 112.5,143.0 111.5,143.0 110.5,143.0 109.5,143.0 108.5,143.0 107.5,143.0 106.5,143.0 105.5,143.0 104.5,143.0 103.5,143.0 102.5,143.0 101.5,143.0 100.5,143.0 99.5,143.0 98.5,143.0 97.5,143.0 96.5,143.0 95.5,143.0 94.5,143.0 93.5,143.0 92.5,143.0 91.5,143.0 90.5,143.0 89.5,143.0 88.5,143.0 87.5,143.0 86.5,143.0 85.5,143.0 84.5,143.0 83.5,143.0 82.5,143.0 81.5,143.0 80.5,143.0 79.5,143.0 78.5,143.0 77.5,143.0 76.5,143.0 75.5,143.0 74.5,143.0 73.5,143.0 72.5,143.0 71.5,143.0 70.5,143.0 69.5,143.0 68.5,143.0 67.5,143.0 66.5,143.0 65.5,143.0 64.5,143.0 63.5,143.0 62.5,143.0 61.5,143.0 61.2,143.0 61.2,142.5 60.5,141.8 60.2,141.5 59.5,140.9 59.0,140.5 58.5,140.1 57.8,139.5 57.5,139.3 56.6,138.5 56.5,138.4 55.5,137.6 55.4,137.5 54.5,136.8 54.1,136.5 53.5,136.1 52.7,135.5 52.5,135.4 51.5,134.7 51.1,134.5 50.5,134.1 49.5,133.5 49.4,133.5 48.5,133.0 47.7,132.5 47.5,132.4 46.5,131.9 45.9,131.5 45.5,131.3 44.5,130.7 44.1,130.5 43.5,130.2 42.5,129.6 42.2,129.5 41.5,129.1 40.5,128.7 39.6,128.5 39.5,128.5 38.5,128.5 38.5,128.5 37.5,128.9 36.9,129.5 36.5,129.8 35.8,130.5 35.5,130.8 34.9,131.5 34.5,132.1 34.2,132.5 33.7,133.5 33.5,134.2 33.4,134.5 33.2,135.5 33.1,136.5 33.2,137.5 33.4,138.5 33.5,138.7 33.8,139.5 34.5,140.3 34.7,140.5 35.5,141.2 35.9,141.5 36.5,142.1 37.0,142.5 37.0,143.0 36.5,143.0 35.5,143.0 34.5,143.0 33.5,143.0 32.5,143.0 31.5,143.0 30.5,143.0 29.5,143.0 28.5,143.0 27.5,143.0 26.5,143.0 25.5,143.0 24.5,143.0 23.5,143.0 22.5,143.0 21.5,143.0 20.5,143.0 19.5,143.0 18.5,143.0 17.5,143.0 16.5,143.0 15.5,143.0 14.5,143.0 13.5,143.0 12.5,143.0 11.5,143.0 10.5,143.0 9.5,143.0 8.5,143.0 7.5,143.0 6.5,143.0 5.5,143.0 4.5,143.0 3.5,143.0 2.5,143.0 1.5,143.0 0.5,143.0 0.0,143.0 0.0,142.5 0.0,141.5 0.0,140.5 0.0,139.5 0.0,138.5 0.0,137.5 0.0,136.5 0.0,135.5 0.0,134.5 0.0,133.5 0.0,132.5 0.0,131.5 0.0,130.5 0.0,129.5 0.0,128.5 0.0,127.5 0.0,126.5 0.0,125.5 0.0,124.5 0.0,123.5 0.0,122.5 0.0,121.5 0.0,120.5 0.0,119.5 0.0,118.5 0.0,117.5 0.0,116.5 0.0,115.5 0.0,114.5 0.0,113.5 0.0,112.5 0.0,111.5 0.0,110.5 0.0,109.5 0.0,108.5 0.0,107.5 0.0,106.5 0.0,105.5 0.0,104.5 0.0,103.5 0.0,102.5 0.0,101.5 0.0,100.5 0.0,99.5 0.0,98.5 0.0,97.5 0.0,96.5 0.0,95.5 0.0,94.5 0.0,93.5 0.0,92.5 0.0,91.5 0.0,90.5 0.0,89.5 0.0,88.5 0.0,87.5 0.0,86.5 0.0,85.5 0.0,84.5 0.0,83.5 0.0,82.5 0.0,81.5 0.0,80.5 0.0,79.5 0.0,78.5 0.0,77.5 0.0,76.5 0.0,75.5 0.0,74.5 0.0,73.5 0.0,72.5 0.0,71.5 0.0,70.5 0.0,69.5 0.0,68.5 0.0,67.5 0.0,66.5 0.0,65.5 0.0,64.5 0.0,63.5 0.0,62.5 0.0,61.5 0.0,60.5 0.0,59.5 0.0,58.5 0.0,57.5 0.0,56.5 0.0,55.5 0.0,54.5 0.0,53.5 0.0,52.5 0.0,51.5 0.0,50.5 0.0,49.5 0.0,48.5 0.0,47.5 0.0,46.5 0.0,45.5 0.0,44.5 0.0,43.5 0.0,42.5 0.0,41.5 0.0,40.5 0.0,39.5 0.0,38.5 0.0,37.5 0.0,36.5 0.0,35.5 0.0,34.5 0.0,33.5 0.0,32.5 0.0,31.5 0.0,30.5 0.0,29.5 0.0,28.5 0.0,27.5 0.0,26.5 0.0,25.5 0.0,24.5 0.0,23.5 0.0,22.5 0.0,21.5 0.0,20.5 0.0,19.5 0.0,18.5 0.0,17.5 0.0,16.5 0.0,15.5 0.0,14.5 0.0,13.5 0.0,12.5 0.0,11.5 0.0,10.5 0.0,9.5 0.0,8.5 0.0,7.5 0.0,6.5 0.0,5.5 0.0,4.5 0.0,3.5 0.0,2.5 0.0,1.5 0.0,0.5 0.0,0.0ZM60.2,6.5 59.5,7.1 59.1,7.5 59.5,8.4 59.5,8.5 60.5,9.3 60.8,9.5 61.5,9.9 62.5,10.4 62.8,10.5 63.5,10.8 64.5,11.3 64.9,11.5 65.5,11.9 66.3,12.5 66.5,12.7 67.4,13.5 67.5,13.5 68.5,14.4 68.6,14.5 69.5,15.3 69.7,15.5 70.5,16.5 70.5,16.6 71.2,17.5 71.5,18.0 71.9,18.5 72.5,19.4 72.5,19.5 73.4,20.5 73.5,20.6 74.5,21.4 75.5,20.9 75.6,20.5 75.7,19.5 75.8,18.5 75.6,17.5 75.5,17.3 74.9,16.5 74.5,16.1 73.5,15.5 73.5,15.5 72.5,15.1 71.5,14.5 71.5,14.5 70.5,14.0 69.9,13.5 69.5,13.2 68.7,12.5 68.5,12.4 67.5,11.5 67.5,11.5 66.5,10.6 66.4,10.5 65.5,9.5 65.5,9.4 64.8,8.5 64.5,8.1 64.0,7.5 63.5,6.9 62.9,6.5 62.5,6.3 61.5,6.3 60.5,6.4ZM76.3,26.5 76.1,27.5 76.5,28.4 77.5,27.6 77.5,27.5 77.5,27.5 76.7,26.5 76.5,26.2ZM112.4,27.5 111.5,27.6 110.5,27.9 109.5,28.4 109.3,28.5 108.5,29.4 108.4,29.5 108.0,30.5 108.0,31.5 108.3,32.5 108.5,32.9 108.8,33.5 109.5,34.5 109.5,34.5 110.5,35.3 110.8,35.5 111.5,35.8 112.5,36.2 113.5,36.4 113.9,36.5 114.5,36.6 115.5,36.8 116.5,37.1 117.5,37.3 118.4,37.5 118.5,37.5 119.5,37.7 120.5,37.9 121.5,38.2 122.5,38.4 123.0,38.5 123.5,38.6 124.5,38.8 125.5,39.0 126.5,39.0 127.5,38.8 128.2,38.5 128.5,38.3 129.5,37.6 129.6,37.5 130.4,36.5 130.5,36.3 130.9,35.5 131.2,34.5 131.1,33.5 130.7,32.5 130.5,32.3 129.8,31.5 129.5,31.3 128.5,30.8 127.8,30.5 127.5,30.4 126.5,30.1 125.5,29.9 124.5,29.7 123.5,29.5 123.5,29.5 122.5,29.3 121.5,29.1 120.5,28.9 119.5,28.7 118.7,28.5 118.5,28.5 117.5,28.3 116.5,28.1 115.5,27.9 114.5,27.7 113.5,27.5 113.0,27.5 112.5,27.5ZM15.3,70.5 14.5,71.1 14.1,71.5 13.7,72.5 13.6,73.5 13.8,74.5 14.4,75.5 14.5,75.6 15.5,76.4 15.6,76.5 16.5,76.9 17.5,77.3 17.8,77.5 18.5,77.7 19.5,78.2 20.1,78.5 20.5,78.6 21.5,79.0 22.5,79.5 22.5,79.5 23.5,79.8 24.5,80.3 25.0,80.5 25.5,80.7 26.5,81.1 27.4,81.5 27.5,81.5 28.5,81.9 29.5,82.3 29.9,82.5 30.5,82.7 31.5,83.1 32.4,83.5 32.5,83.6 33.5,83.9 34.5,84.4 34.8,84.5 35.5,84.7 36.5,85.2 37.3,85.5 37.5,85.6 38.5,86.0 39.5,86.4 39.7,86.5 40.5,86.8 41.5,87.2 42.2,87.5 42.5,87.6 43.5,88.0 44.5,88.5 44.6,88.5 45.5,88.8 46.5,89.3 47.0,89.5 47.5,89.7 48.5,90.1 49.1,90.5 49.5,90.7 50.5,91.3 50.8,91.5 51.5,91.9 52.3,92.5 52.5,92.6 53.5,93.1 54.2,93.5 54.5,93.6 55.5,93.9 56.5,94.1 57.5,94.4 58.2,94.5 58.5,94.6 59.5,94.8 60.5,95.0 61.5,95.4 61.7,95.5 62.5,95.8 63.5,96.1 64.3,96.5 64.5,96.6 65.5,96.9 66.5,97.3 66.9,97.5 67.5,97.7 68.5,98.1 69.4,98.5 69.5,98.5 70.5,98.9 71.5,99.4 71.8,99.5 72.5,99.8 73.5,100.2 74.0,100.5 74.5,100.7 75.5,101.0 76.5,101.2 77.5,101.3 78.5,101.2 79.5,101.0 80.5,100.6 80.8,100.5 81.5,99.8 81.7,99.5 81.6,98.5 81.5,98.2 81.2,97.5 80.6,96.5 80.5,96.4 79.6,95.5 79.5,95.4 78.5,94.8 77.9,94.5 77.5,94.4 76.5,94.0 75.5,93.7 75.0,93.5 74.5,93.3 73.5,93.0 72.5,92.6 72.3,92.5 71.5,92.2 70.5,91.8 69.9,91.5 69.5,91.4 68.5,91.0 67.5,90.5 67.5,90.5 66.5,90.1 65.5,89.6 65.3,89.5 64.5,89.1 63.5,88.6 63.3,88.5 62.5,88.0 61.8,87.5 61.5,87.3 60.5,86.5 60.5,86.5 59.5,85.8 59.0,85.5 58.5,85.2 57.5,84.8 56.5,84.5 56.5,84.5 55.5,84.2 54.5,84.1 53.5,83.9 52.5,83.7 51.9,83.5 51.5,83.4 50.5,83.0 49.5,82.7 49.1,82.5 48.5,82.2 47.5,81.8 46.6,81.5 46.5,81.4 45.5,81.0 44.5,80.6 44.2,80.5 43.5,80.2 42.5,79.8 41.7,79.5 41.5,79.4 40.5,79.0 39.5,78.6 39.3,78.5 38.5,78.2 37.5,77.8 36.8,77.5 36.5,77.4 35.5,77.0 34.5,76.6 34.3,76.5 33.5,76.2 32.5,75.8 31.9,75.5 31.5,75.4 30.5,75.0 29.5,74.6 29.4,74.5 28.5,74.2 27.5,73.8 26.9,73.5 26.5,73.3 25.5,73.0 24.5,72.5 24.4,72.5 23.5,72.2 22.5,71.8 21.8,71.5 21.5,71.4 20.5,71.0 19.5,70.7 19.1,70.5 18.5,70.3 17.5,70.1 16.5,70.1 15.5,70.4Z"/>
<path fill="#0049ff" d="M0.5,0.0 1.5,0.0 2.5,0.0 3.5,0.0 4.5,0.0 5.5,0.0 6.5,0.0 7.5,0.0 8.5,0.0 9.5,0.0 10.5,0.0 11.5,0.0 12.5,0.0 13.5,0.0 14.5,0.0 15.3,0.0 15.3,0.5 15.5,0.7 16.2,1.5 16.5,1.7 17.4,2.5 17.5,2.6 18.5,3.4 18.6,3.5 19.5,4.3 19.7,4.5 20.5,5.2 20.7,5.5 21.5,6.2 21.8,6.5 22.5,7.1 22.8,7.5 23.5,8.1 23.9,8.5 24.5,9.1 24.8,9.5 25.5,10.3 25.7,10.5 26.5,11.4 26.6,11.5 27.5,12.4 27.6,12.5 28.5,13.3 28.7,13.5 29.5,14.0 30.2,14.5 30.5,14.7 31.5,15.3 31.9,15.5 32.5,15.9 33.4,16.5 33.5,16.6 34.5,17.5 34.5,17.5 35.2,18.5 35.5,18.9 35.9,19.5 36.5,20.5 36.5,20.6 37.2,21.5 37.5,21.9 38.0,22.5 38.5,22.9 39.2,23.5 39.5,23.7 40.5,24.5 40.5,24.5 41.5,25.2 42.0,25.5 42.5,25.8 43.5,26.4 43.6,26.5 44.5,26.9 45.5,27.5 45.5,27.5 46.5,28.0 47.3,28.5 47.5,28.6 48.5,29.2 48.9,29.5 49.5,29.9 50.4,30.5 50.5,30.6 51.5,31.2 51.9,31.5 52.5,31.9 53.2,32.5 53.5,32.7 54.5,33.5 54.5,33.5 55.5,34.2 55.8,34.5 56.5,34.9 57.3,35.5 57.5,35.6 58.5,36.2 59.0,36.5 59.5,36.7 60.5,37.3 61.0,37.5 61.5,37.8 62.4,38.5 62.5,38.6 63.5,39.5 63.5,39.6 64.4,40.5 64.5,40.6 65.3,41.5 65.5,41.7 66.3,42.5 66.5,42.7 67.5,43.5 67.5,43.5 67.7,43.5 68.5,43.2 68.6,42.5 68.5,42.2 68.0,41.5 67.5,40.7 67.3,40.5 66.5,39.5 66.5,39.5 65.7,38.5 65.5,38.2 65.0,37.5 64.6,36.5 64.5,36.2 64.3,35.5 64.3,34.5 64.4,33.5 64.5,32.6 64.5,32.5 64.7,31.5 64.9,30.5 65.3,29.5 65.5,29.0 66.4,28.5 66.5,28.1 67.0,27.5 66.5,27.5 65.5,27.3 64.5,26.9 63.6,26.5 63.5,26.5 62.5,26.1 61.5,25.7 61.1,25.5 60.5,25.3 59.5,24.9 58.5,24.6 58.3,24.5 57.5,24.3 56.5,23.9 55.8,23.5 55.5,23.4 54.5,22.7 54.2,22.5 53.5,21.9 53.0,21.5 52.5,21.0 52.0,20.5 51.5,20.0 51.0,19.5 50.5,18.9 50.2,18.5 49.5,17.8 49.2,17.5 48.5,16.8 48.1,16.5 47.5,15.9 47.0,15.5 46.5,15.0 45.9,14.5 45.5,14.2 44.6,13.5 44.5,13.4 43.5,12.8 43.0,12.5 42.5,12.2 41.5,11.5 41.5,11.5 40.5,10.7 40.3,10.5 39.5,9.7 39.4,9.5 38.6,8.5 38.5,8.3 38.0,7.5 37.5,6.9 37.2,6.5 36.5,5.6 36.4,5.5 35.5,4.6 35.4,4.5 34.5,3.8 34.1,3.5 33.5,3.1 32.6,2.5 32.5,2.5 31.5,1.8 31.1,1.5 30.5,0.8 30.2,0.5 30.2,0.0 30.5,0.0 31.5,0.0 32.5,0.0 33.5,0.0 34.5,0.0 35.5,0.0 36.5,0.0 37.5,0.0 38.5,0.0 39.5,0.0 40.5,0.0 41.5,0.0 42.5,0.0 43.5,0.0 44.5,0.0 45.5,0.0 46.5,0.0 47.5,0.0 48.5,0.0 49.5,0.0 50.5,0.0 51.5,0.0 52.5,0.0 53.5,0.0 54.5,0.0 55.5,0.0 56.5,0.0 57.5,0.0 58.5,0.0 59.5,0.0 60.5,0.0 61.5,0.0 62.5,0.0 63.5,0.0 64.5,0.0 65.5,0.0 66.5,0.0 67.5,0.0 68.5,0.0 69.5,0.0 70.5,0.0 71.5,0.0 72.5,0.0 73.5,0.0 74.5,0.0 75.5,0.0 76.5,0.0 77.5,0.0 78.5,0.0 79.5,0.0 80.5,0.0 81.5,0.0 82.5,0.0 83.5,0.0 84.5,0.0 85.5,0.0 86.5,0.0 87.5,0.0 88.5,0.0 89.5,0.0 90.5,0.0 91.5,0.0 92.5,0.0 93.5,0.0 94.5,0.0 95.5,0.0 96.5,0.0 97.5,0.0 98.5,0.0 99.5,0.0 100.5,0.0 101.5,0.0 102.5,0.0 103.5,0.0 104.5,0.0 105.5,0.0 106.5,0.0 107.5,0.0 108.5,0.0 109.5,0.0 110.5,0.0 111.5,0.0 112.5,0.0 113.5,0.0 114.5,0.0 115.5,0.0 116.5,0.0 117.5,0.0 118.5,0.0 119.5,0.0 120.5,0.0 121.5,0.0 122.5,0.0 123.5,0.0 124.5,0.0 125.5,0.0 126.5,0.0 127.5,0.0 128.5,0.0 129.5,0.0 130.5,0.0 131.5,0.0 132.5,0.0 133.5,0.0 134.5,0.0 135.5,0.0 136.5,0.0 137.5,0.0 138.5,0.0 139.5,0.0 140.5,0.0 141.5,0.0 142.5,0.0 143.0,0.0 143.0,0.5 143.0,1.5 143.0,2.5 143.0,3.5 143.0,4.5 143.0,5.5 143.0,6.5 143.0,7.5 143.0,8.5 143.0,9.5 143.0,10.5 143.0,11.5 143.0,12.5 143.0,13.5 143.0,14.5 143.0,15.5 143.0,16.5 143.0,17.5 143.0,18.5 143.0,19.5 143.0,20.5 143.0,21.5 143.0,22.5 143.0,23.5 143.0,24.5 143.0,25.5 143.0,26.5 143.0,27.5 143.0,28.5 143.0,29.5 143.0,30.5 143.0,31.5 143.0,32.5 143.0,33.5 143.0,34.5 143.0,35.5 143.0,36.5 143.0,37.5 143.0,38.5 143.0,39.5 143.0,40.5 143.0,41.5 143.0,42.5 143.0,43.5 143.0,44.5 143.0,45.5 143.0,46.5 143.0,47.5 143.0,48.5 143.0,49.5 143.0,50.5 143.0,51.5 143.0,52.5 143.0,53.5 143.0,54.5 143.0,55.5 143.0,56.5 143.0,57.5 143.0,58.5 143.0,59.5 143.0,60.5 143.0,61.5 143.0,62.5 143.0,63.5 143.0,64.5 143.0,65.5 143.0,66.5 143.0,67.5 143.0,68.5 143.0,69.5 143.0,70.5 143.0,71.5 143.0,72.5 143.0,73.5 143.0,74.5 143.0,75.5 143.0,76.5 143.0,77.5 143.0,78.5 143.0,79.5 143.0,80.5 143.0,81.5 143.0,82.5 143.0,83.5 143.0,84.5 143.0,84.8 142.5,84.8 141.5,84.5 141.5,84.5 140.5,84.1 139.5,83.7 139.0,83.5 138.5,83.3 137.5,82.9 136.5,82.5 136.5,82.5 135.5,82.1 134.5,81.7 134.1,81.5 133.5,81.3 132.5,80.8 131.9,80.5 131.5,80.3 130.5,79.8 130.0,79.5 129.5,79.2 128.5,78.6 128.2,78.5 127.5,78.1 126.5,77.7 125.9,77.5 125.5,77.4 124.5,77.1 123.5,76.8 122.6,76.5 122.5,76.5 121.5,76.1 120.5,75.7 120.2,75.5 119.5,75.2 118.5,74.7 118.2,74.5 117.5,74.2 116.5,73.7 116.2,73.5 115.5,73.2 114.5,72.7 114.1,72.5 113.5,72.2 112.5,71.7 112.1,71.5 111.5,71.2 110.5,70.7 110.2,70.5 109.5,70.1 108.5,69.6 108.4,69.5 107.5,69.0 106.7,68.5 106.5,68.4 105.5,67.9 104.5,67.5 104.4,67.5 103.5,67.3 102.5,67.1 101.5,66.9 100.5,66.6 100.2,66.5 99.5,66.2 98.5,65.6 98.4,65.5 97.5,65.0 96.7,64.5 96.5,64.4 95.5,64.0 94.5,64.1 93.9,64.5 93.5,65.2 93.4,65.5 93.5,65.8 93.8,66.5 94.5,67.3 94.7,67.5 95.5,68.0 96.1,68.5 96.5,68.7 97.4,69.5 97.5,69.6 98.4,70.5 98.5,70.6 99.2,71.5 99.5,72.0 99.8,72.5 100.5,73.5 100.5,73.5 101.5,74.5 101.5,74.5 102.5,75.1 103.2,75.5 103.5,75.6 104.5,76.1 105.4,76.5 105.5,76.6 106.5,77.0 107.4,77.5 107.5,77.6 108.5,78.1 109.2,78.5 109.5,78.7 110.5,79.2 111.0,79.5 111.5,79.8 112.5,80.3 112.8,80.5 113.5,80.9 114.5,81.4 114.6,81.5 115.5,82.0 116.4,82.5 116.5,82.6 117.5,83.1 118.0,83.5 118.5,83.8 119.4,84.5 119.5,84.6 120.5,85.5 120.5,85.5 121.5,86.3 121.8,86.5 122.5,87.0 123.5,87.5 123.5,87.5 124.5,88.0 125.5,88.5 125.5,88.5 126.5,89.1 127.1,89.5 127.5,89.8 128.2,90.5 128.5,91.1 128.7,91.5 128.6,92.5 128.5,92.7 127.8,93.5 127.5,93.8 126.5,94.5 126.5,94.5 125.5,95.1 124.7,95.5 124.5,95.7 123.5,96.2 122.9,96.5 122.5,97.2 122.4,97.5 122.4,98.5 122.5,98.9 122.6,99.5 122.9,100.5 123.3,101.5 123.5,102.0 123.7,102.5 124.3,103.5 124.5,103.9 124.9,104.5 125.5,105.3 125.6,105.5 126.5,106.4 126.6,106.5 127.5,107.2 128.0,107.5 128.5,107.8 129.5,108.2 130.2,108.5 130.5,108.6 131.5,109.0 132.5,109.5 132.6,109.5 133.5,109.9 134.5,110.4 134.7,110.5 135.5,110.9 136.4,111.5 136.5,111.5 137.5,112.1 138.1,112.5 138.5,112.7 139.5,113.4 139.7,113.5 140.5,114.0 141.4,114.5 141.5,114.6 142.5,115.0 143.0,115.0 143.0,115.5 143.0,116.5 143.0,117.5 143.0,118.5 143.0,119.5 143.0,120.5 143.0,121.5 143.0,122.5 143.0,123.5 143.0,124.5 143.0,125.5 143.0,126.5 143.0,127.5 143.0,128.5 143.0,129.5 143.0,130.5 143.0,131.5 143.0,132.5 143.0,133.5 143.0,134.5 143.0,135.5 143.0,136.5 143.0,137.5 143.0,138.5 143.0,139.5 143.0,140.5 143.0,141.5 143.0,142.5 143.0,143.0 142.5,143.0 142.3,143.0 142.3,142.5 141.5,142.3 140.5,141.8 139.9,141.5 139.5,141.3 138.5,140.9 137.6,140.5 137.5,140.5 136.5,140.1 135.5,139.6 135.2,139.5 134.5,139.2 133.5,138.8 132.9,138.5 132.5,138.4 131.5,137.9 130.8,137.5 130.5,137.4 129.5,136.9 128.7,136.5 128.5,136.4 127.5,136.0 126.5,135.6 126.2,135.5 125.5,135.3 124.5,135.0 123.5,134.9 122.5,135.0 121.5,135.3 121.0,135.5 120.5,135.9 119.8,136.5 119.5,136.9 119.1,137.5 118.7,138.5 118.5,139.3 118.5,139.5 118.4,140.5 118.4,141.5 118.4,142.5 118.4,143.0 117.5,143.0 116.5,143.0 115.5,143.0 114.5,143.0 113.5,143.0 112.5,143.0 111.5,143.0 110.5,143.0 109.5,143.0 108.5,143.0 107.5,143.0 106.5,143.0 105.5,143.0 104.5,143.0 103.5,143.0 102.5,143.0 101.5,143.0 100.5,143.0 99.5,143.0 98.5,143.0 97.5,143.0 96.5,143.0 95.5,143.0 94.5,143.0 93.5,143.0 92.5,143.0 91.5,143.0 90.5,143.0 89.5,143.0 88.5,143.0 87.5,143.0 86.5,143.0 85.5,143.0 84.5,143.0 83.5,143.0 82.5,143.0 81.5,143.0 80.5,143.0 79.5,143.0 78.5,143.0 77.5,143.0 76.5,143.0 75.5,143.0 74.5,143.0 73.5,143.0 72.5,143.0 71.5,143.0 70.5,143.0 69.5,143.0 68.5,143.0 67.5,143.0 66.5,143.0 65.5,143.0 64.5,143.0 63.5,143.0 62.5,143.0 62.2,143.0 62.2,142.5 61.5,141.7 61.3,141.5 60.5,140.8 60.1,140.5 59.5,140.0 58.9,139.5 58.5,139.2 57.7,138.5 57.5,138.3 56.6,137.5 56.5,137.4 55.5,136.6 55.4,136.5 54.5,135.8 54.2,135.5 53.5,135.0 52.8,134.5 52.5,134.3 51.5,133.7 51.2,133.5 50.5,133.1 49.5,132.5 49.5,132.5 48.5,131.9 47.8,131.5 47.5,131.4 46.5,130.8 46.0,130.5 45.5,130.2 44.5,129.7 44.2,129.5 43.5,129.0 42.7,128.5 42.5,128.4 41.5,127.5 41.5,127.5 40.9,126.5 40.7,125.5 40.5,124.5 40.5,123.8 40.5,123.5 40.5,122.5 40.5,121.5 40.5,121.5 40.5,120.5 40.6,119.5 40.7,118.5 40.7,117.5 40.8,116.5 40.9,115.5 41.0,114.5 41.2,113.5 41.3,112.5 41.3,111.5 41.0,110.5 40.5,109.5 40.5,109.5 39.5,108.5 39.5,108.5 38.5,107.9 37.5,107.5 37.5,107.5 36.5,107.3 35.5,107.1 34.5,106.8 33.7,106.5 33.5,106.4 32.5,106.1 31.5,105.7 31.1,105.5 30.5,105.3 29.5,104.9 28.7,104.5 28.5,104.4 27.5,104.1 26.5,103.6 26.2,103.5 25.5,103.2 24.5,102.9 23.8,102.5 23.5,102.4 22.5,102.0 21.5,101.6 21.4,101.5 20.5,101.2 19.5,100.8 18.9,100.5 18.5,100.4 17.5,100.0 16.5,99.5 16.5,99.5 15.5,99.2 14.5,98.7 14.0,98.5 13.5,98.3 12.5,97.9 11.6,97.5 11.5,97.5 10.5,97.1 9.5,96.7 9.1,96.5 8.5,96.3 7.5,95.9 6.7,95.5 6.5,95.4 5.5,95.2 4.5,95.4 4.3,95.5 3.9,96.5 4.4,97.5 4.5,97.6 5.5,98.1 6.2,98.5 6.5,98.6 7.5,98.9 8.5,99.4 8.7,99.5 9.5,99.8 10.5,100.2 11.1,100.5 11.5,100.6 12.5,101.0 13.5,101.5 13.5,101.5 14.5,101.8 15.5,102.2 16.0,102.5 16.5,102.7 17.5,103.0 18.4,103.5 18.5,103.5 19.5,103.9 20.5,104.3 20.9,104.5 21.5,104.7 22.5,105.1 23.3,105.5 23.5,105.6 24.5,105.9 25.5,106.4 25.8,106.5 26.5,106.7 27.5,107.1 28.2,107.5 28.5,107.6 29.5,108.0 30.5,108.4 30.6,108.5 31.5,108.8 32.5,109.3 32.7,109.5 33.5,109.9 34.1,110.5 34.5,110.9 35.0,111.5 35.5,112.2 35.7,112.5 36.2,113.5 36.4,114.5 36.5,115.5 36.5,116.5 36.4,117.5 36.3,118.5 36.3,119.5 36.2,120.5 36.1,121.5 36.0,122.5 35.9,123.5 35.8,124.5 35.7,125.5 35.7,126.5 35.8,127.5 35.6,128.5 35.5,128.7 35.2,129.5 34.5,130.4 34.4,130.5 33.8,131.5 33.5,131.9 33.2,132.5 32.7,133.5 32.5,134.2 32.4,134.5 32.1,135.5 31.9,136.5 31.6,137.5 31.5,138.0 31.0,138.5 30.5,138.9 29.5,138.9 28.5,138.9 27.5,138.9 26.5,139.0 25.5,139.0 24.5,139.0 23.5,138.9 22.5,138.9 21.5,138.9 20.5,138.8 19.5,138.8 18.5,138.8 17.5,138.7 16.5,138.7 15.5,138.7 14.5,138.6 13.5,138.6 12.5,138.6 11.5,138.5 11.1,138.5 10.5,138.5 9.5,138.5 8.5,138.4 7.5,138.4 6.5,138.4 5.5,138.4 4.5,138.3 3.5,138.3 2.5,138.3 1.5,138.3 0.5,138.3 0.0,138.3 0.0,137.5 0.0,136.5 0.0,135.5 0.0,134.5 0.0,133.5 0.0,132.5 0.0,131.5 0.0,130.5 0.0,129.5 0.0,128.5 0.0,127.5 0.0,126.5 0.0,125.5 0.0,124.5 0.0,123.5 0.0,122.5 0.0,121.5 0.0,120.5 0.0,119.5 0.0,118.5 0.0,117.5 0.0,116.5 0.0,115.5 0.0,114.5 0.0,113.5 0.0,112.5 0.0,111.5 0.0,110.5 0.0,109.5 0.0,108.5 0.0,107.5 0.0,106.5 0.0,105.5 0.0,104.5 0.0,103.5 0.0,102.5 0.0,101.5 0.0,100.5 0.0,99.5 0.0,98.5 0.0,97.5 0.0,96.5 0.0,95.5 0.0,94.5 0.0,93.5 0.0,92.5 0.0,91.5 0.0,90.5 0.0,89.5 0.0,88.5 0.0,87.5 0.0,86.5 0.0,85.5 0.0,84.5 0.0,83.5 0.0,82.5 0.0,81.5 0.0,80.5 0.0,79.5 0.0,78.5 0.0,77.5 0.0,76.5 0.0,75.5 0.0,74.5 0.0,73.5 0.0,72.5 0.0,71.5 0.0,70.5 0.0,69.5 0.0,68.5 0.0,67.5 0.0,66.5 0.0,65.5 0.0,64.5 0.0,63.5 0.0,62.5 0.0,61.5 0.0,60.5 0.0,59.5 0.0,58.5 0.0,57.5 0.0,56.5 0.0,55.5 0.0,54.5 0.0,53.5 0.0,52.5 0.0,51.5 0.0,50.5 0.0,49.5 0.0,48.5 0.0,47.5 0.0,46.5 0.0,45.5 0.0,44.5 0.0,43.5 0.0,42.5 0.0,41.5 0.0,40.5 0.0,39.5 0.0,38.5 0.0,37.5 0.0,36.5 0.0,35.5 0.0,34.5 0.0,33.5 0.0,32.5 0.0,31.5 0.0,30.5 0.0,29.5 0.0,28.5 0.0,27.5 0.0,26.5 0.0,25.5 0.0,24.5 0.0,23.5 0.0,22.5 0.0,21.5 0.0,20.5 0.0,19.5 0.0,18.5 0.0,17.5 0.0,16.5 0.0,15.5 0.0,14.5 0.0,13.5 0.0,12.5 0.0,11.5 0.0,10.5 0.0,9.5 0.0,8.5 0.0,7.5 0.0,6.5 0.0,5.5 0.0,4.5 0.0,3.5 0.0,2.5 0.0,1.5 0.0,0.5 0.0,0.0ZM46.8,5.5 46.8,6.5 47.5,7.3 48.0,7.5 48.5,7.7 49.5,7.8 50.5,8.0 51.5,8.1 52.5,8.3 53.5,8.5 53.7,8.5 54.5,8.6 55.5,8.8 56.5,9.0 57.5,9.3 58.0,9.5 58.5,9.7 59.5,10.2 60.1,10.5 60.5,10.7 61.5,11.2 62.1,11.5 62.5,11.7 63.5,12.3 63.8,12.5 64.5,13.0 65.1,13.5 65.5,13.8 66.4,14.5 66.5,14.6 67.5,15.4 67.6,15.5 68.5,16.3 68.7,16.5 69.5,17.3 69.7,17.5 70.5,18.5 70.5,18.5 71.2,19.5 71.5,19.9 71.9,20.5 72.5,21.5 72.5,21.6 72.9,22.5 73.1,23.5 73.0,24.5 72.7,25.5 72.5,26.0 72.0,26.5 71.5,27.2 70.5,27.5 70.3,27.5 69.5,27.9 68.5,28.5 69.5,28.6 70.5,28.8 71.5,29.2 71.8,29.5 72.5,29.7 73.5,30.3 73.8,30.5 74.5,30.8 75.5,31.2 76.5,31.4 77.5,31.5 78.5,31.4 79.5,31.2 80.5,30.9 81.5,30.6 82.4,30.5 82.5,30.5 83.5,30.3 84.5,29.9 84.7,29.5 84.5,29.4 83.5,29.2 82.5,28.8 82.3,28.5 81.5,28.1 81.0,27.5 80.5,27.1 80.0,26.5 79.5,26.0 79.1,25.5 78.5,24.7 78.4,24.5 77.8,23.5 77.5,22.9 77.3,22.5 77.0,21.5 76.8,20.5 76.8,19.5 76.7,18.5 76.5,17.6 76.5,17.5 76.0,16.5 75.5,15.8 75.2,15.5 74.5,15.0 73.7,14.5 73.5,14.4 72.5,13.8 72.0,13.5 71.5,13.1 70.7,12.5 70.5,12.3 69.5,11.5 69.5,11.5 68.5,10.7 68.3,10.5 67.5,9.8 67.2,9.5 66.5,8.9 66.2,8.5 65.5,7.7 65.3,7.5 64.5,6.5 64.5,6.5 63.5,5.8 63.0,5.5 62.5,5.3 61.5,5.2 60.5,5.3 59.5,5.4 58.7,5.5 58.5,5.5 57.5,5.6 56.5,5.5 56.3,5.5 55.5,5.4 54.5,5.3 53.5,5.2 52.5,5.1 51.5,4.9 50.5,4.8 49.5,4.6 48.5,4.5 47.5,4.8ZM113.2,8.5 112.6,9.5 113.0,10.5 113.5,10.9 114.5,11.2 115.5,11.3 116.5,11.3 117.5,11.3 118.5,11.3 119.5,11.3 120.5,11.3 121.5,11.4 122.5,11.4 123.5,11.4 124.5,11.4 125.5,11.4 126.5,11.5 127.5,11.4 128.5,11.1 129.2,10.5 129.4,9.5 128.6,8.5 128.5,8.4 127.5,8.2 126.5,8.2 125.5,8.1 124.5,8.1 123.5,8.1 122.5,8.1 121.5,8.1 120.5,8.1 119.5,8.1 118.5,8.1 117.5,8.0 116.5,8.0 115.5,8.0 114.5,8.0 113.5,8.3ZM105.4,24.5 104.5,24.7 103.5,25.2 103.1,25.5 102.5,26.0 102.0,26.5 101.5,27.2 101.3,27.5 100.7,28.5 100.5,28.9 100.2,29.5 99.9,30.5 99.7,31.5 99.8,32.5 100.4,33.5 100.5,33.5 101.5,34.3 101.8,34.5 102.5,34.8 103.5,35.3 103.9,35.5 104.5,35.7 105.5,36.0 106.5,36.5 106.5,36.5 107.5,36.8 108.5,37.3 108.9,37.5 109.5,37.7 110.5,38.0 111.5,38.4 111.9,38.5 112.5,38.6 113.5,38.8 114.5,39.1 115.5,39.4 116.0,39.5 116.5,39.6 117.5,39.8 118.5,40.1 119.5,40.3 120.1,40.5 120.5,40.6 121.5,40.8 122.5,41.1 123.5,41.3 124.3,41.5 124.5,41.5 125.5,41.7 126.5,41.8 127.5,41.8 128.5,41.7 129.2,41.5 129.5,41.4 130.5,40.9 131.1,40.5 131.5,40.3 132.4,39.5 132.5,39.5 133.5,38.9 134.2,38.5 134.5,38.4 135.5,38.0 136.5,37.5 136.5,37.5 137.5,36.8 137.9,36.5 138.5,35.8 138.7,35.5 139.2,34.5 139.5,33.5 139.5,32.5 139.2,31.5 138.7,30.5 138.5,30.2 137.8,29.5 137.5,29.3 136.5,28.8 135.7,28.5 135.5,28.5 134.5,28.3 133.5,28.1 132.5,28.0 131.5,27.8 130.5,27.6 130.0,27.5 129.5,27.4 128.5,27.3 127.5,27.1 126.5,26.9 125.5,26.8 124.5,26.6 123.8,26.5 123.5,26.5 122.5,26.3 121.5,26.1 120.5,26.0 119.5,25.8 118.5,25.7 117.6,25.5 117.5,25.5 116.5,25.3 115.5,25.2 114.5,25.0 113.5,24.9 112.5,24.8 111.5,24.7 110.5,24.7 109.5,24.6 108.5,24.6 107.7,24.5 107.5,24.5 106.5,24.4 105.5,24.5ZM12.3,69.5 11.5,70.1 11.0,70.5 10.9,71.5 11.1,72.5 11.5,73.2 11.6,73.5 12.1,74.5 12.5,74.9 12.9,75.5 13.5,76.0 14.0,76.5 14.5,76.8 15.5,77.4 15.8,77.5 16.5,77.8 17.5,78.2 18.2,78.5 18.5,78.6 19.5,79.0 20.5,79.4 20.7,79.5 21.5,79.8 22.5,80.2 23.2,80.5 23.5,80.6 24.5,81.0 25.5,81.4 25.7,81.5 26.5,81.8 27.5,82.2 28.1,82.5 28.5,82.6 29.5,83.0 30.5,83.5 30.6,83.5 31.5,83.8 32.5,84.3 33.0,84.5 33.5,84.7 34.5,85.1 35.5,85.5 35.5,85.5 36.5,85.9 37.5,86.3 37.9,86.5 38.5,86.7 39.5,87.1 40.4,87.5 40.5,87.5 41.5,87.9 42.5,88.4 42.8,88.5 43.5,88.8 44.5,89.2 45.3,89.5 45.5,89.6 46.5,90.0 47.5,90.4 47.6,90.5 48.5,90.9 49.5,91.4 49.6,91.5 50.5,92.0 51.2,92.5 51.5,92.7 52.5,93.3 52.9,93.5 53.5,93.8 54.5,94.2 55.4,94.5 55.5,94.5 56.5,94.8 57.5,95.0 58.5,95.2 59.3,95.5 59.5,95.6 60.5,95.9 61.5,96.2 62.1,96.5 62.5,96.6 63.5,97.0 64.5,97.4 64.6,97.5 65.5,97.8 66.5,98.2 67.2,98.5 67.5,98.6 68.5,99.0 69.5,99.4 69.7,99.5 70.5,99.8 71.5,100.2 72.0,100.5 72.5,100.7 73.5,101.1 74.4,101.5 74.5,101.5 75.5,101.8 76.5,102.0 77.5,102.1 78.5,102.1 79.5,102.0 80.5,101.9 81.5,101.9 82.5,102.0 83.5,102.2 84.2,102.5 84.5,102.6 85.5,102.9 86.5,103.3 87.0,103.5 87.5,103.6 88.5,104.0 89.5,104.4 89.8,104.5 90.5,104.7 91.5,105.0 92.5,105.5 92.5,105.5 93.5,105.8 94.5,106.1 95.3,106.5 95.5,106.6 96.5,106.9 97.5,107.2 98.1,107.5 98.5,107.6 99.5,107.9 100.5,108.2 101.3,108.5 101.5,108.6 102.5,108.7 103.5,108.5 103.5,108.5 103.6,107.5 103.5,107.4 102.5,106.6 102.4,106.5 101.5,106.1 100.5,105.5 100.4,105.5 99.5,105.1 98.5,104.7 98.2,104.5 97.5,104.3 96.5,103.9 95.8,103.5 95.5,103.4 94.5,103.0 93.5,102.5 93.4,102.5 92.5,102.2 91.5,101.7 91.0,101.5 90.5,101.3 89.5,100.9 88.6,100.5 88.5,100.5 87.5,100.1 86.5,99.6 86.2,99.5 85.5,99.2 84.5,98.7 84.3,98.5 83.5,98.0 83.0,97.5 82.5,97.1 82.0,96.5 81.5,96.1 81.0,95.5 80.5,95.1 79.7,94.5 79.5,94.4 78.5,93.9 77.7,93.5 77.5,93.4 76.5,93.1 75.5,92.8 74.7,92.5 74.5,92.4 73.5,92.1 72.5,91.7 72.1,91.5 71.5,91.3 70.5,90.9 69.7,90.5 69.5,90.4 68.5,90.0 67.5,89.5 67.5,89.5 66.5,89.0 65.5,88.5 65.5,88.5 64.5,87.9 63.9,87.5 63.5,87.2 62.7,86.5 62.5,86.3 61.7,85.5 61.5,85.3 60.5,84.5 60.5,84.5 59.5,83.8 58.8,83.5 58.5,83.4 57.5,83.0 56.5,82.7 55.5,82.5 55.3,82.5 54.5,82.3 53.5,82.1 52.5,81.8 51.5,81.5 51.5,81.5 50.5,81.1 49.5,80.7 48.9,80.5 48.5,80.3 47.5,79.9 46.5,79.5 46.4,79.5 45.5,79.1 44.5,78.7 43.8,78.5 43.5,78.4 42.5,78.0 41.5,77.6 41.3,77.5 40.5,77.2 39.5,76.8 38.7,76.5 38.5,76.4 37.5,76.0 36.5,75.7 36.1,75.5 35.5,75.3 34.5,74.9 33.5,74.5 33.5,74.5 32.5,74.1 31.5,73.7 30.9,73.5 30.5,73.4 29.5,73.0 28.5,72.6 28.2,72.5 27.5,72.2 26.5,71.8 25.6,71.5 25.5,71.5 24.5,71.1 23.5,70.7 23.0,70.5 22.5,70.3 21.5,69.9 20.5,69.5 20.4,69.5 19.5,69.1 18.5,68.8 17.5,68.6 16.5,68.5 15.5,68.6 14.5,68.7 13.5,69.0 12.5,69.4ZM32.5,141.7 33.5,141.8 34.5,142.3 34.7,142.5 34.7,143.0 34.5,143.0 33.5,143.0 32.5,143.0 31.9,143.0 31.9,142.5Z"/>
<path fill="#006dff" d="M0.5,0.0 1.5,0.0 2.5,0.0 3.5,0.0 4.5,0.0 5.5,0.0 6.5,0.0 7.5,0.0 8.1,0.0 8.1,0.5 8.5,0.8 9.5,1.5 9.5,1.5 10.5,2.0 11.4,2.5 11.5,2.5 12.5,2.9 13.5,3.4 13.8,3.5 14.5,3.8 15.5,4.3 15.8,4.5 16.5,4.8 17.5,5.5 17.6,5.5 18.5,6.1 19.1,6.5 19.5,6.7 20.5,7.4 20.6,7.5 21.5,8.1 22.0,8.5 22.5,8.8 23.3,9.5 23.5,9.7 24.3,10.5 24.5,10.6 25.3,11.5 25.5,11.7 26.3,12.5 26.5,12.7 27.4,13.5 27.5,13.6 28.5,14.4 28.7,14.5 29.5,15.1 30.2,15.5 30.5,15.7 31.5,16.3 31.8,16.5 32.5,17.0 33.1,17.5 33.5,17.8 34.1,18.5 34.5,18.9 34.9,19.5 35.5,20.4 35.6,20.5 36.3,21.5 36.5,21.8 37.1,22.5 37.5,22.9 38.2,23.5 38.5,23.8 39.5,24.5 39.5,24.5 40.5,25.2 40.9,25.5 41.5,25.9 42.4,26.5 42.5,26.5 43.5,27.1 44.3,27.5 44.5,27.6 45.5,28.2 46.1,28.5 46.5,28.7 47.5,29.4 47.7,29.5 48.5,30.0 49.3,30.5 49.5,30.6 50.5,31.3 50.8,31.5 51.5,32.0 52.2,32.5 52.5,32.7 53.5,33.5 53.5,33.5 54.5,34.2 54.9,34.5 55.5,34.9 56.4,35.5 56.5,35.6 57.5,36.2 58.0,36.5 58.5,36.8 59.5,37.4 59.7,37.5 60.5,38.0 61.2,38.5 61.5,38.8 62.3,39.5 62.5,39.7 63.2,40.5 63.5,40.8 64.1,41.5 64.5,42.0 65.0,42.5 65.5,43.0 66.0,43.5 66.5,43.9 67.4,44.5 67.5,44.6 68.5,44.6 68.8,44.5 69.5,43.9 69.7,43.5 69.8,42.5 69.5,41.9 69.3,41.5 68.6,40.5 68.5,40.3 67.8,39.5 67.5,39.1 67.1,38.5 66.5,37.7 66.3,37.5 65.7,36.5 65.5,35.8 65.4,35.5 65.3,34.5 65.5,33.5 65.5,33.4 66.1,32.5 66.5,32.1 67.5,31.8 68.5,31.8 69.5,31.9 70.5,32.0 71.5,32.1 72.5,32.3 73.5,32.4 73.8,32.5 74.5,32.6 75.5,32.8 76.5,32.9 77.5,33.0 78.5,33.0 79.5,33.0 80.5,33.0 81.5,32.8 82.5,32.7 83.5,32.7 84.5,32.7 85.5,32.6 86.5,32.6 86.8,32.5 87.5,32.1 88.2,31.5 88.5,30.7 88.6,30.5 88.6,29.5 88.5,29.2 88.3,28.5 87.6,27.5 87.5,27.4 86.5,26.8 85.9,26.5 85.5,26.4 84.5,26.2 83.5,26.1 82.5,25.9 81.5,25.6 81.4,25.5 80.5,25.1 79.9,24.5 79.5,24.2 79.0,23.5 78.5,22.7 78.4,22.5 77.9,21.5 77.6,20.5 77.5,19.8 77.4,19.5 77.3,18.5 77.0,17.5 76.7,16.5 76.5,16.1 76.1,15.5 75.5,14.9 74.9,14.5 74.5,14.2 73.5,13.6 73.4,13.5 72.5,12.9 72.0,12.5 71.5,12.1 70.7,11.5 70.5,11.3 69.5,10.5 69.5,10.5 68.5,9.6 68.3,9.5 67.5,8.8 67.2,8.5 66.5,7.7 66.3,7.5 65.5,6.6 65.4,6.5 64.5,5.6 64.4,5.5 63.5,5.0 62.5,4.6 61.7,4.5 61.5,4.5 60.5,4.5 60.0,4.5 59.5,4.5 58.5,4.5 58.0,4.5 57.5,4.5 56.5,4.3 55.5,4.1 54.5,4.0 53.5,3.7 52.5,3.5 52.4,3.5 51.5,3.3 50.5,3.1 49.5,2.9 48.5,2.7 47.5,2.7 46.5,2.9 45.7,3.5 45.5,3.7 44.9,4.5 44.7,5.5 44.7,6.5 45.1,7.5 45.5,8.1 45.9,8.5 46.5,9.0 47.5,9.4 48.1,9.5 48.5,9.6 49.5,9.8 50.5,10.0 51.5,10.1 52.5,10.3 53.5,10.4 54.5,10.5 54.8,10.5 55.5,10.6 56.5,10.7 57.5,10.9 58.5,11.2 59.5,11.5 59.5,11.5 60.5,12.0 61.5,12.4 61.7,12.5 62.5,13.0 63.3,13.5 63.5,13.6 64.5,14.4 64.6,14.5 65.5,15.2 65.9,15.5 66.5,16.0 67.1,16.5 67.5,16.9 68.2,17.5 68.5,17.7 69.2,18.5 69.5,18.8 70.1,19.5 70.5,20.1 70.7,20.5 71.2,21.5 71.4,22.5 70.9,23.5 70.5,23.8 69.5,23.9 68.5,23.7 67.7,23.5 67.5,23.4 66.5,23.2 65.5,22.9 64.5,22.6 64.1,22.5 63.5,22.3 62.5,22.1 61.5,22.0 60.5,21.9 59.5,21.9 58.5,22.0 57.5,22.0 56.5,21.9 55.5,21.6 55.3,21.5 54.5,21.0 53.8,20.5 53.5,20.3 52.7,19.5 52.5,19.3 51.8,18.5 51.5,18.2 50.9,17.5 50.5,17.1 49.9,16.5 49.5,16.1 48.8,15.5 48.5,15.2 47.7,14.5 47.5,14.3 46.5,13.5 46.5,13.5 45.5,12.7 45.3,12.5 44.5,11.9 43.8,11.5 43.5,11.3 42.5,10.6 42.3,10.5 41.5,9.8 41.2,9.5 40.5,8.7 40.3,8.5 39.5,7.5 39.5,7.5 38.8,6.5 38.5,6.1 38.0,5.5 37.5,5.0 37.0,4.5 36.5,4.1 35.8,3.5 35.5,3.3 34.5,2.6 34.4,2.5 33.5,1.9 33.0,1.5 32.5,1.1 31.9,0.5 31.9,0.0 32.5,0.0 33.5,0.0 34.5,0.0 35.5,0.0 36.5,0.0 37.5,0.0 38.5,0.0 39.5,0.0 40.5,0.0 41.5,0.0 42.5,0.0 43.5,0.0 44.5,0.0 45.5,0.0 46.5,0.0 47.5,0.0 48.5,0.0 49.5,0.0 50.5,0.0 51.5,0.0 52.5,0.0 53.5,0.0 54.5,0.0 55.5,0.0 56.5,0.0 57.5,0.0 58.5,0.0 59.5,0.0 60.5,0.0 61.5,0.0 62.5,0.0 63.5,0.0 64.5,0.0 65.5,0.0 66.5,0.0 67.5,0.0 68.5,0.0 69.5,0.0 70.5,0.0 71.5,0.0 72.5,0.0 73.5,0.0 74.5,0.0 75.5,0.0 76.5,0.0 77.5,0.0 78.5,0.0 79.5,0.0 80.5,0.0 81.5,0.0 82.5,0.0 83.5,0.0 84.5,0.0 85.5,0.0 86.5,0.0 87.5,0.0 88.5,0.0 89.5,0.0 90.5,0.0 91.5,0.0 92.5,0.0 93.5,0.0 94.5,0.0 95.5,0.0 96.5,0.0 97.5,0.0 98.5,0.0 99.5,0.0 100.5,0.0 101.5,0.0 102.5,0.0 103.5,0.0 104.5,0.0 105.5,0.0 106.5,0.0 107.5,0.0 108.5,0.0 109.5,0.0 110.5,0.0 111.5,0.0 112.5,0.0 113.5,0.0 114.5,0.0 115.5,0.0 116.5,0.0 117.5,0.0 118.5,0.0 119.5,0.0 120.5,0.0 121.5,0.0 122.5,0.0 123.5,0.0 124.5,0.0 125.5,0.0 126.5,0.0 127.5,0.0 128.5,0.0 129.5,0.0 130.5,0.0 131.5,0.0 132.5,0.0 133.5,0.0 134.5,0.0 135.5,0.0 136.5,0.0 137.5,0.0 138.5,0.0 139.5,0.0 140.5,0.0 141.5,0.0 142.5,0.0 143.0,0.0 143.0,0.5 143.0,1.5 143.0,2.5 143.0,3.5 143.0,4.5 143.0,5.5 143.0,6.5 143.0,7.5 143.0,8.5 143.0,9.5 143.0,10.5 143.0,11.5 143.0,12.5 143.0,13.5 143.0,14.5 143.0,15.5 143.0,16.5 143.0,17.5 143.0,18.5 143.0,19.5 143.0,20.5 143.0,21.5 143.0,22.5 143.0,23.5 143.0,24.5 143.0,25.5 143.0,26.5 143.0,27.5 143.0,28.5 143.0,29.5 143.0,30.5 143.0,31.5 143.0,32.5 143.0,33.5 143.0,34.5 143.0,35.5 143.0,36.5 143.0,37.5 143.0,38.5 143.0,39.5 143.0,40.5 143.0,41.5 143.0,42.5 143.0,43.5 143.0,44.5 143.0,45.5 143.0,46.5 143.0,47.5 143.0,48.5 143.0,49.5 143.0,50.5 143.0,51.5 143.0,52.5 143.0,53.5 143.0,54.5 143.0,55.5 143.0,56.5 143.0,57.5 143.0,58.5 143.0,59.5 143.0,60.5 143.0,61.5 143.0,62.5 143.0,63.5 143.0,64.5 143.0,65.5 143.0,66.5 143.0,67.5 143.0,68.5 143.0,69.5 143.0,70.5 143.0,71.5 143.0,72.5 143.0,73.5 143.0,74.5 143.0,75.5 143.0,76.5 143.0,77.5 143.0,78.5 143.0,79.5 143.0,80.5 143.0,81.5 143.0,82.5 143.0,83.5 143.0,84.1 142.5,84.1 141.5,83.8 140.8,83.5 140.5,83.4 139.5,83.0 138.5,82.6 138.3,82.5 137.5,82.2 136.5,81.8 135.8,81.5 135.5,81.4 134.5,81.0 133.5,80.6 133.4,80.5 132.5,80.1 131.5,79.7 131.2,79.5 130.5,79.1 129.5,78.6 129.4,78.5 128.5,78.0 127.5,77.6 127.4,77.5 126.5,77.2 125.5,76.8 124.5,76.5 124.4,76.5 123.5,76.2 122.5,75.9 121.5,75.5 121.5,75.5 120.5,75.0 119.5,74.5 119.4,74.5 118.5,74.0 117.5,73.5 117.4,73.5 116.5,73.0 115.5,72.5 115.4,72.5 114.5,72.0 113.5,71.5 113.4,71.5 112.5,71.0 111.5,70.6 111.4,70.5 110.5,70.0 109.6,69.5 109.5,69.5 108.5,68.9 107.9,68.5 107.5,68.2 106.5,67.7 106.1,67.5 105.5,67.2 104.5,66.8 103.5,66.5 103.4,66.5 102.5,66.2 101.5,65.9 100.8,65.5 100.5,65.4 99.5,64.8 99.0,64.5 98.5,64.2 97.5,63.6 97.3,63.5 96.5,63.1 95.5,62.8 94.5,62.8 93.5,63.1 93.0,63.5 92.5,64.2 92.3,64.5 92.2,65.5 92.3,66.5 92.5,66.8 93.0,67.5 93.5,68.0 94.1,68.5 94.5,68.8 95.5,69.5 95.5,69.5 96.5,70.2 96.8,70.5 97.5,71.0 98.0,71.5 98.5,72.1 98.8,72.5 99.5,73.3 99.7,73.5 100.5,74.4 100.6,74.5 101.5,75.2 101.9,75.5 102.5,75.8 103.5,76.3 103.9,76.5 104.5,76.7 105.5,77.2 106.1,77.5 106.5,77.7 107.5,78.2 108.0,78.5 108.5,78.8 109.5,79.3 109.8,79.5 110.5,79.9 111.5,80.4 111.6,80.5 112.5,81.0 113.4,81.5 113.5,81.5 114.5,82.1 115.2,82.5 115.5,82.7 116.5,83.2 116.9,83.5 117.5,83.9 118.4,84.5 118.5,84.6 119.5,85.4 119.7,85.5 120.5,86.2 120.9,86.5 121.5,87.0 122.2,87.5 122.5,87.7 123.5,88.3 123.9,88.5 124.5,88.9 125.5,89.5 125.6,89.5 126.5,90.4 126.6,90.5 126.7,91.5 126.5,91.9 125.8,92.5 125.5,92.7 124.5,92.9 123.5,92.9 122.5,92.8 121.5,92.8 120.5,92.9 119.5,93.3 119.2,93.5 118.5,94.5 118.5,94.6 118.4,95.5 118.5,96.5 118.5,96.7 118.8,97.5 119.2,98.5 119.5,99.1 119.7,99.5 120.2,100.5 120.5,101.2 120.7,101.5 121.2,102.5 121.5,103.2 121.7,103.5 122.2,104.5 122.5,105.0 122.8,105.5 123.4,106.5 123.5,106.7 124.1,107.5 124.5,108.2 124.8,108.5 125.5,109.4 125.6,109.5 126.5,110.5 126.5,110.5 127.5,111.3 128.0,111.5 128.5,111.6 129.5,111.7 130.5,111.6 131.5,111.5 132.5,111.6 133.5,111.8 134.5,112.2 135.2,112.5 135.5,112.6 136.5,113.2 137.0,113.5 137.5,113.8 138.5,114.4 138.7,114.5 139.5,115.0 140.3,115.5 140.5,115.6 141.5,116.2 142.3,116.5 142.5,116.6 143.0,116.6 143.0,117.5 143.0,118.5 143.0,119.5 143.0,120.5 143.0,121.5 143.0,122.5 143.0,123.5 143.0,124.5 143.0,125.5 143.0,126.5 143.0,127.5 143.0,128.5 143.0,129.5 143.0,130.5 143.0,131.5 143.0,132.5 143.0,133.5 143.0,134.5 143.0,135.5 143.0,136.5 143.0,137.5 143.0,138.5 143.0,139.5 143.0,140.5 143.0,141.5 143.0,142.2 142.5,142.2 141.5,141.8 140.9,141.5 140.5,141.3 139.5,141.0 138.6,140.5 138.5,140.5 137.5,140.1 136.5,139.6 136.2,139.5 135.5,139.2 134.5,138.8 133.9,138.5 133.5,138.4 132.5,137.9 131.7,137.5 131.5,137.4 130.5,136.9 129.7,136.5 129.5,136.4 128.5,135.9 127.6,135.5 127.5,135.5 126.5,135.1 125.5,134.7 124.7,134.5 124.5,134.4 123.5,134.3 122.5,134.3 121.5,134.4 121.2,134.5 120.5,134.8 119.5,135.4 119.4,135.5 118.5,136.4 118.4,136.5 117.8,137.5 117.5,138.1 117.3,138.5 117.0,139.5 116.9,140.5 116.9,141.5 117.0,142.5 117.0,143.0 116.5,143.0 115.5,143.0 114.5,143.0 113.5,143.0 112.5,143.0 111.5,143.0 110.5,143.0 109.5,143.0 108.5,143.0 107.5,143.0 106.5,143.0 105.5,143.0 104.5,143.0 103.5,143.0 102.5,143.0 101.5,143.0 100.5,143.0 99.5,143.0 98.5,143.0 97.5,143.0 96.5,143.0 95.5,143.0 94.5,143.0 93.5,143.0 92.5,143.0 91.5,143.0 90.5,143.0 89.5,143.0 88.5,143.0 87.5,143.0 86.5,143.0 85.5,143.0 84.5,143.0 83.5,143.0 82.5,143.0 81.5,143.0 80.5,143.0 79.5,143.0 78.5,143.0 77.5,143.0 76.5,143.0 75.5,143.0 74.5,143.0 73.5,143.0 72.5,143.0 71.5,143.0 70.5,143.0 69.5,143.0 68.5,143.0 67.5,143.0 66.5,143.0 65.5,143.0 64.5,143.0 63.5,143.0 63.0,143.0 63.0,142.5 62.5,141.8 62.3,141.5 61.5,140.8 61.1,140.5 60.5,140.0 59.9,139.5 59.5,139.2 58.7,138.5 58.5,138.3 57.6,137.5 57.5,137.4 56.5,136.5 56.5,136.5 55.5,135.6 55.4,135.5 54.5,134.8 54.2,134.5 53.5,134.0 52.8,133.5 52.5,133.3 51.5,132.7 51.2,132.5 50.5,132.1 49.5,131.5 49.5,131.5 48.5,130.9 47.8,130.5 47.5,130.4 46.5,129.8 46.0,129.5 45.5,129.2 44.5,128.6 44.4,128.5 43.5,127.8 43.2,127.5 42.5,126.6 42.5,126.5 42.1,125.5 41.9,124.5 41.8,123.5 41.8,122.5 41.9,121.5 41.9,120.5 42.0,119.5 42.2,118.5 42.3,117.5 42.5,116.5 42.5,116.4 42.7,115.5 43.0,114.5 43.2,113.5 43.3,112.5 43.3,111.5 42.9,110.5 42.5,109.9 42.2,109.5 41.5,108.8 41.3,108.5 40.5,107.9 40.0,107.5 39.5,107.2 38.5,106.8 37.7,106.5 37.5,106.4 36.5,106.2 35.5,105.9 34.5,105.5 34.5,105.5 33.5,105.1 32.5,104.7 32.0,104.5 31.5,104.3 30.5,103.9 29.6,103.5 29.5,103.5 28.5,103.1 27.5,102.7 27.1,102.5 26.5,102.3 25.5,101.9 24.7,101.5 24.5,101.4 23.5,101.1 22.5,100.6 22.2,100.5 21.5,100.2 20.5,99.8 19.8,99.5 19.5,99.4 18.5,99.0 17.5,98.6 17.3,98.5 16.5,98.2 15.5,97.8 14.9,97.5 14.5,97.4 13.5,97.0 12.5,96.5 12.5,96.5 11.5,96.1 10.5,95.7 10.0,95.5 9.5,95.3 8.5,94.9 7.6,94.5 7.5,94.5 6.5,94.1 5.5,93.9 4.5,93.9 3.5,94.3 3.3,94.5 2.6,95.5 2.5,96.0 2.4,96.5 2.5,96.8 2.7,97.5 3.5,98.5 3.5,98.5 4.5,99.1 5.4,99.5 5.5,99.6 6.5,99.9 7.5,100.4 7.8,100.5 8.5,100.8 9.5,101.2 10.3,101.5 10.5,101.6 11.5,102.0 12.5,102.4 12.7,102.5 13.5,102.8 14.5,103.2 15.1,103.5 15.5,103.6 16.5,104.0 17.5,104.5 17.6,104.5 18.5,104.8 19.5,105.3 20.0,105.5 20.5,105.7 21.5,106.1 22.5,106.5 22.5,106.5 23.5,106.9 24.5,107.3 24.9,107.5 25.5,107.7 26.5,108.1 27.4,108.5 27.5,108.5 28.5,108.9 29.5,109.4 29.8,109.5 30.5,109.8 31.5,110.2 32.0,110.5 32.5,110.8 33.4,111.5 33.5,111.6 34.3,112.5 34.5,112.9 34.8,113.5 35.1,114.5 35.1,115.5 35.1,116.5 35.1,117.5 35.0,118.5 34.9,119.5 34.8,120.5 34.8,121.5 34.7,122.5 34.5,123.5 34.5,123.9 34.4,124.5 34.4,125.5 34.4,126.5 34.4,127.5 34.3,128.5 33.9,129.5 33.5,130.2 33.3,130.5 32.7,131.5 32.5,131.9 32.2,132.5 31.8,133.5 31.5,134.2 31.4,134.5 30.9,135.5 30.5,136.2 30.1,136.5 29.5,136.9 28.5,137.1 27.5,137.2 26.5,137.3 25.5,137.3 24.5,137.3 23.5,137.3 22.5,137.2 21.5,137.2 20.5,137.2 19.5,137.2 18.5,137.1 17.5,137.1 16.5,137.1 15.5,137.0 14.5,137.0 13.5,137.0 12.5,137.0 11.5,136.9 10.5,136.9 9.5,136.9 8.5,136.9 7.5,136.8 6.5,136.8 5.5,136.8 4.5,136.8 3.5,136.8 2.5,136.7 1.5,136.7 0.5,136.7 0.0,136.7 0.0,136.5 0.0,135.5 0.0,134.5 0.0,133.5 0.0,132.5 0.0,131.5 0.0,130.5 0.0,129.5 0.0,128.5 0.0,127.5 0.0,126.5 0.0,125.5 0.0,124.5 0.0,123.5 0.0,122.5 0.0,121.5 0.0,120.5 0.0,119.5 0.0,118.5 0.0,117.5 0.0,116.5 0.0,115.5 0.0,114.5 0.0,113.5 0.0,112.5 0.0,111.5 0.0,110.5 0.0,109.5 0.0,108.5 0.0,107.5 0.0,106.5 0.0,105.5 0.0,104.5 0.0,103.5 0.0,102.5 0.0,101.5 0.0,100.5 0.0,99.5 0.0,98.5 0.0,97.5 0.0,96.5 0.0,95.5 0.0,94.5 0.0,93.5 0.0,92.5 0.0,91.5 0.0,90.5 0.0,89.5 0.0,88.5 0.0,87.5 0.0,86.5 0.0,85.5 0.0,84.5 0.0,83.5 0.0,82.5 0.0,81.5 0.0,80.5 0.0,79.5 0.0,78.5 0.0,77.5 0.0,76.5 0.0,75.5 0.0,74.5 0.0,73.5 0.0,72.5 0.0,71.5 0.0,71.0 0.5,71.0 1.5,71.5 1.5,71.5 2.5,71.9 3.5,72.3 4.1,72.5 4.5,72.6 5.5,72.8 6.5,73.1 7.5,73.5 7.5,73.5 8.5,73.8 9.5,74.2 10.0,74.5 10.5,74.7 11.5,75.5 11.5,75.5 12.5,76.2 12.8,76.5 13.5,76.9 14.4,77.5 14.5,77.5 15.5,77.9 16.5,78.4 16.7,78.5 17.5,78.8 18.5,79.1 19.3,79.5 19.5,79.6 20.5,79.9 21.5,80.4 21.8,80.5 22.5,80.8 23.5,81.2 24.3,81.5 24.5,81.6 25.5,82.0 26.5,82.4 26.7,82.5 27.5,82.8 28.5,83.2 29.2,83.5 29.5,83.6 30.5,84.0 31.5,84.5 31.6,84.5 32.5,84.8 33.5,85.3 34.1,85.5 34.5,85.7 35.5,86.1 36.5,86.5 36.5,86.5 37.5,86.9 38.5,87.3 38.9,87.5 39.5,87.7 40.5,88.1 41.4,88.5 41.5,88.6 42.5,88.9 43.5,89.4 43.8,89.5 44.5,89.8 45.5,90.2 46.2,90.5 46.5,90.6 47.5,91.0 48.4,91.5 48.5,91.5 49.5,92.0 50.2,92.5 50.5,92.6 51.5,93.2 51.9,93.5 52.5,93.8 53.5,94.3 54.0,94.5 54.5,94.7 55.5,95.0 56.5,95.2 57.4,95.5 57.5,95.5 58.5,95.8 59.5,96.1 60.4,96.5 60.5,96.5 61.5,96.9 62.5,97.3 62.9,97.5 63.5,97.7 64.5,98.1 65.5,98.5 65.5,98.5 66.5,98.9 67.5,99.3 68.0,99.5 68.5,99.7 69.5,100.1 70.5,100.5 70.5,100.5 71.5,100.9 72.5,101.4 72.8,101.5 73.5,101.8 74.5,102.1 75.5,102.4 75.9,102.5 76.5,102.6 77.5,102.7 78.5,102.7 79.5,102.7 80.5,102.8 81.5,102.9 82.5,103.1 83.5,103.4 83.7,103.5 84.5,103.7 85.5,104.1 86.5,104.5 86.5,104.5 87.5,104.8 88.5,105.2 89.3,105.5 89.5,105.6 90.5,105.9 91.5,106.2 92.2,106.5 92.5,106.6 93.5,106.9 94.5,107.3 95.0,107.5 95.5,107.7 96.5,108.0 97.5,108.4 97.8,108.5 98.5,108.7 99.5,109.1 100.4,109.5 100.5,109.5 101.5,109.9 102.5,110.2 103.5,110.3 104.5,110.1 105.5,109.5 105.5,109.5 105.7,108.5 105.5,107.7 105.5,107.5 104.8,106.5 104.5,106.3 103.5,105.6 103.4,105.5 102.5,105.1 101.5,104.7 101.1,104.5 100.5,104.3 99.5,103.9 98.7,103.5 98.5,103.4 97.5,103.0 96.5,102.5 96.4,102.5 95.5,102.1 94.5,101.7 94.1,101.5 93.5,101.3 92.5,100.8 91.8,100.5 91.5,100.4 90.5,100.0 89.5,99.5 89.4,99.5 88.5,99.1 87.5,98.7 87.1,98.5 86.5,98.2 85.5,97.8 85.0,97.5 84.5,97.3 83.5,96.6 83.4,96.5 82.5,95.8 82.2,95.5 81.5,95.0 80.9,94.5 80.5,94.2 79.5,93.6 79.4,93.5 78.5,93.1 77.5,92.7 76.9,92.5 76.5,92.4 75.5,92.0 74.5,91.7 74.0,91.5 73.5,91.3 72.5,90.9 71.5,90.5 71.5,90.5 70.5,90.1 69.5,89.6 69.2,89.5 68.5,89.1 67.5,88.7 67.2,88.5 66.5,88.1 65.6,87.5 65.5,87.4 64.5,86.5 64.5,86.4 63.8,85.5 63.5,84.7 63.4,84.5 63.0,83.5 62.5,82.6 62.5,82.5 61.5,81.6 61.3,81.5 60.5,81.1 59.5,80.8 58.7,80.5 58.5,80.5 57.5,80.2 56.5,79.9 55.5,79.6 55.2,79.5 54.5,79.3 53.5,79.0 52.5,78.7 51.9,78.5 51.5,78.4 50.5,78.1 49.5,77.8 48.6,77.5 48.5,77.5 47.5,77.2 46.5,76.9 45.5,76.5 45.4,76.5 44.5,76.2 43.5,75.9 42.5,75.6 42.3,75.5 41.5,75.3 40.5,74.9 39.5,74.6 39.2,74.5 38.5,74.3 37.5,74.0 36.5,73.6 36.1,73.5 35.5,73.3 34.5,73.0 33.5,72.6 33.1,72.5 32.5,72.3 31.5,72.0 30.5,71.6 30.1,71.5 29.5,71.3 28.5,71.0 27.5,70.6 27.2,70.5 26.5,70.3 25.5,69.9 24.5,69.6 24.3,69.5 23.5,69.2 22.5,68.9 21.5,68.5 21.5,68.5 20.5,68.1 19.5,67.8 18.6,67.5 18.5,67.5 17.5,67.2 16.5,67.1 15.5,67.0 14.5,66.8 13.5,66.7 12.5,66.5 12.5,66.5 11.5,66.3 10.5,66.0 9.5,65.7 8.8,65.5 8.5,65.4 7.5,65.2 6.5,65.0 5.5,64.9 4.5,65.1 3.5,65.4 3.3,65.5 2.5,65.9 1.5,66.3 1.0,66.5 0.5,66.7 0.0,66.7 0.0,66.5 0.0,65.5 0.0,64.5 0.0,63.5 0.0,62.5 0.0,61.5 0.0,60.5 0.0,59.5 0.0,58.5 0.0,57.5 0.0,56.5 0.0,55.5 0.0,54.5 0.0,53.5 0.0,52.5 0.0,51.5 0.0,50.5 0.0,49.5 0.0,48.5 0.0,47.5 0.0,46.5 0.0,45.5 0.0,44.5 0.0,43.5 0.0,42.5 0.0,41.5 0.0,40.5 0.0,39.5 0.0,38.5 0.0,37.5 0.0,36.5 0.0,35.5 0.0,34.5 0.0,33.5 0.0,32.5 0.0,31.5 0.0,30.5 0.0,29.5 0.0,28.5 0.0,27.5 0.0,26.5 0.0,25.5 0.0,24.5 0.0,23.5 0.0,22.5 0.0,21.5 0.0,20.5 0.0,19.5 0.0,18.5 0.0,17.5 0.0,16.5 0.0,15.5 0.0,14.5 0.0,13.5 0.0,12.5 0.0,11.5 0.0,10.5 0.0,9.5 0.0,8.5 0.0,7.5 0.0,6.5 0.0,5.5 0.0,4.5 0.0,3.5 0.0,2.5 0.0,1.5 0.0,0.5 0.0,0.0ZM112.1,7.5 111.5,8.2 111.3,8.5 111.1,9.5 111.3,10.5 111.5,11.0 111.9,11.5 112.5,12.0 113.5,12.5 113.6,12.5 114.5,12.6 115.5,12.6 116.5,12.7 117.5,12.7 118.5,12.7 119.5,12.7 120.5,12.7 121.5,12.7 122.5,12.7 123.5,12.7 124.5,12.8 125.5,12.8 126.5,12.8 127.5,12.8 128.5,12.7 129.1,12.5 129.5,12.3 130.4,11.5 130.5,11.2 130.8,10.5 130.8,9.5 130.6,8.5 130.5,8.4 129.7,7.5 129.5,7.3 128.5,7.0 127.5,6.8 126.5,6.8 125.5,6.8 124.5,6.7 123.5,6.7 122.5,6.7 121.5,6.7 120.5,6.7 119.5,6.7 118.5,6.7 117.5,6.6 116.5,6.6 115.5,6.6 114.5,6.6 113.5,6.8 112.5,7.2ZM103.6,22.5 103.5,22.5 102.5,23.0 101.8,23.5 101.5,23.7 100.6,24.5 100.5,24.6 99.8,25.5 99.5,25.9 99.1,26.5 98.5,27.4 98.4,27.5 97.8,28.5 97.5,29.1 97.3,29.5 96.9,30.5 96.6,31.5 96.6,32.5 96.9,33.5 97.5,34.2 97.8,34.5 98.5,34.8 99.5,35.4 99.6,35.5 100.5,35.8 101.5,36.3 102.0,36.5 102.5,36.6 103.5,36.9 104.5,37.3 105.0,37.5 105.5,37.6 106.5,37.9 107.5,38.2 108.1,38.5 108.5,38.6 109.5,38.9 110.5,39.2 111.3,39.5 111.5,39.5 112.5,39.8 113.5,40.0 114.5,40.4 114.9,40.5 115.5,40.6 116.5,40.9 117.5,41.2 118.4,41.5 118.5,41.5 119.5,41.7 120.5,42.0 121.5,42.4 121.9,42.5 122.5,42.6 123.5,42.9 124.5,43.2 125.4,43.5 125.5,43.5 126.5,43.7 127.5,43.9 128.5,44.2 129.3,44.5 129.5,44.5 130.5,44.7 131.5,45.0 132.5,45.1 133.5,45.0 134.5,44.5 134.6,44.5 135.3,43.5 135.5,43.2 135.9,42.5 136.4,41.5 136.5,41.4 137.2,40.5 137.5,40.2 138.2,39.5 138.5,39.3 139.3,38.5 139.5,38.4 140.3,37.5 140.5,37.2 141.0,36.5 141.5,35.5 141.5,35.5 141.9,34.5 142.1,33.5 142.1,32.5 141.9,31.5 141.5,30.5 141.5,30.5 141.0,29.5 140.5,28.8 140.2,28.5 139.5,27.8 139.2,27.5 138.5,27.1 137.5,26.6 137.4,26.5 136.5,26.2 135.5,26.0 134.5,25.9 133.5,25.7 132.5,25.5 132.4,25.5 131.5,25.3 130.5,25.2 129.5,25.1 128.5,24.9 127.5,24.8 126.5,24.7 125.5,24.6 124.8,24.5 124.5,24.5 123.5,24.3 122.5,24.2 121.5,24.1 120.5,23.9 119.5,23.8 118.5,23.6 117.7,23.5 117.5,23.5 116.5,23.3 115.5,23.2 114.5,23.0 113.5,22.9 112.5,22.8 111.5,22.7 110.5,22.5 110.2,22.5 109.5,22.4 108.5,22.3 107.5,22.2 106.5,22.1 105.5,22.1 104.5,22.3Z"/>
<path fill="#0092ff" d="M34.5,0.0 35.5,0.0 36.5,0.0 37.5,0.0 38.5,0.0 39.5,0.0 40.5,0.0 41.3,0.0 41.3,0.5 40.9,1.5 40.5,2.4 40.5,2.5 39.5,3.5 38.5,3.3 37.5,2.9 36.7,2.5 36.5,2.4 35.5,1.8 35.0,1.5 34.5,1.2 33.7,0.5 33.7,0.0ZM50.5,0.0 51.5,0.0 52.5,0.0 53.5,0.0 54.5,0.0 55.5,0.0 56.5,0.0 57.5,0.0 58.5,0.0 59.5,0.0 60.5,0.0 61.5,0.0 62.5,0.0 63.5,0.0 64.5,0.0 65.5,0.0 66.5,0.0 67.5,0.0 68.5,0.0 69.5,0.0 70.5,0.0 71.5,0.0 72.5,0.0 73.5,0.0 74.5,0.0 75.5,0.0 76.5,0.0 77.5,0.0 78.5,0.0 79.5,0.0 80.5,0.0 81.5,0.0 82.5,0.0 83.5,0.0 84.5,0.0 85.5,0.0 86.5,0.0 87.5,0.0 88.5,0.0 89.5,0.0 90.5,0.0 91.5,0.0 92.5,0.0 93.5,0.0 94.5,0.0 95.5,0.0 96.5,0.0 97.5,0.0 98.5,0.0 99.5,0.0 100.5,0.0 101.5,0.0 102.5,0.0 103.5,0.0 104.5,0.0 105.5,0.0 106.5,0.0 107.5,0.0 108.5,0.0 109.5,0.0 110.5,0.0 111.5,0.0 112.5,0.0 113.5,0.0 114.5,0.0 115.5,0.0 116.5,0.0 117.5,0.0 118.5,0.0 119.5,0.0 120.5,0.0 121.5,0.0 122.5,0.0 123.5,0.0 124.5,0.0 125.5,0.0 126.5,0.0 127.5,0.0 128.5,0.0 129.5,0.0 130.5,0.0 131.5,0.0 132.5,0.0 133.5,0.0 134.5,0.0 135.5,0.0 136.5,0.0 137.5,0.0 138.5,0.0 139.5,0.0 140.5,0.0 141.5,0.0 142.5,0.0 143.0,0.0 143.0,0.5 143.0,1.5 143.0,2.5 143.0,3.5 143.0,4.5 143.0,5.5 143.0,6.5 143.0,7.5 143.0,8.5 143.0,9.5 143.0,10.5 143.0,11.5 143.0,12.5 143.0,13.5 143.0,14.5 143.0,15.5 143.0,16.5 143.0,17.5 143.0,18.5 143.0,19.5 143.0,20.5 143.0,21.5 143.0,22.5 143.0,23.5 143.0,24.5 143.0,25.5 143.0,26.5 143.0,27.5 143.0,28.2 142.5,28.2 141.8,27.5 141.5,27.3 140.7,26.5 140.5,26.3 139.5,25.6 139.3,25.5 138.5,25.1 137.5,24.7 136.8,24.5 136.5,24.4 135.5,24.1 134.5,23.7 134.0,23.5 133.5,23.0 133.0,22.5 133.1,21.5 133.4,20.5 133.5,20.2 133.6,19.5 133.5,19.0 133.4,18.5 132.6,17.5 132.5,17.4 131.5,17.1 130.5,17.3 130.3,17.5 129.5,18.5 129.5,18.5 129.3,19.5 129.2,20.5 129.2,21.5 128.5,22.4 128.3,22.5 127.5,22.7 126.5,22.8 125.5,22.8 124.5,22.7 123.5,22.6 122.5,22.5 122.5,22.5 121.5,22.4 120.5,22.2 119.5,22.1 118.5,21.9 117.5,21.8 116.5,21.7 115.5,21.5 115.3,21.5 114.5,21.4 113.5,21.2 112.5,21.1 111.5,21.0 110.5,20.8 109.5,20.7 108.5,20.6 107.9,20.5 107.5,20.5 106.5,20.4 105.5,20.4 104.5,20.5 104.5,20.5 103.5,20.7 102.5,21.1 101.7,21.5 101.5,21.6 100.5,22.3 100.3,22.5 99.5,23.2 99.3,23.5 98.5,24.4 98.5,24.5 97.8,25.5 97.5,25.9 97.1,26.5 96.6,27.5 96.5,27.6 96.0,28.5 95.5,29.5 95.5,29.6 95.2,30.5 95.0,31.5 94.9,32.5 95.2,33.5 95.5,33.9 96.0,34.5 96.5,34.7 97.5,35.3 97.9,35.5 98.5,35.7 99.5,36.1 100.2,36.5 100.5,36.6 101.5,36.9 102.5,37.3 102.9,37.5 103.5,37.7 104.5,37.9 105.5,38.3 106.1,38.5 106.5,38.6 107.5,38.9 108.5,39.2 109.3,39.5 109.5,39.6 110.5,39.8 111.5,40.1 112.5,40.4 112.6,40.5 113.5,40.7 114.5,41.0 115.5,41.3 116.1,41.5 116.5,41.6 117.5,41.8 118.5,42.1 119.4,42.5 119.5,42.5 120.5,42.7 121.5,43.0 122.5,43.4 122.8,43.5 123.5,43.7 124.5,43.9 125.5,44.2 126.2,44.5 126.5,44.6 127.5,44.8 128.5,45.1 129.5,45.5 129.6,45.5 130.5,45.7 131.5,45.9 132.5,46.1 133.5,46.2 134.5,46.1 135.5,45.8 136.0,45.5 136.5,45.0 136.9,44.5 137.5,43.5 137.5,43.4 138.1,42.5 138.5,41.9 138.8,41.5 139.5,40.8 139.8,40.5 140.5,39.8 140.8,39.5 141.5,38.8 141.8,38.5 142.5,37.8 143.0,37.8 143.0,38.5 143.0,39.5 143.0,40.5 143.0,41.5 143.0,42.5 143.0,43.5 143.0,44.5 143.0,45.5 143.0,46.5 143.0,47.5 143.0,48.5 143.0,49.5 143.0,50.5 143.0,51.5 143.0,52.5 143.0,53.5 143.0,54.5 143.0,55.5 143.0,56.5 143.0,57.5 143.0,58.5 143.0,59.5 143.0,60.5 143.0,61.5 143.0,62.5 143.0,63.5 143.0,64.5 143.0,65.5 143.0,66.5 143.0,67.5 143.0,68.5 143.0,69.5 143.0,70.5 143.0,71.5 143.0,72.5 143.0,73.5 143.0,74.5 143.0,75.5 143.0,76.5 143.0,77.5 143.0,78.5 143.0,79.5 143.0,80.5 143.0,81.5 143.0,82.5 143.0,83.3 142.5,83.3 141.5,83.0 140.5,82.6 140.2,82.5 139.5,82.2 138.5,81.8 137.7,81.5 137.5,81.4 136.5,81.0 135.5,80.7 135.1,80.5 134.5,80.3 133.5,79.9 132.6,79.5 132.5,79.4 131.5,79.0 130.5,78.5 130.5,78.5 129.5,77.9 128.6,77.5 128.5,77.5 127.5,77.0 126.5,76.6 126.1,76.5 125.5,76.3 124.5,76.0 123.5,75.7 122.9,75.5 122.5,75.4 121.5,74.9 120.6,74.5 120.5,74.4 119.5,73.9 118.7,73.5 118.5,73.4 117.5,72.9 116.8,72.5 116.5,72.4 115.5,71.9 114.7,71.5 114.5,71.4 113.5,70.9 112.7,70.5 112.5,70.4 111.5,69.9 110.8,69.5 110.5,69.3 109.5,68.8 109.1,68.5 108.5,68.1 107.5,67.5 107.4,67.5 106.5,67.0 105.5,66.5 105.4,66.5 104.5,66.1 103.5,65.8 102.8,65.5 102.5,65.4 101.5,64.9 100.7,64.5 100.5,64.4 99.5,63.8 99.0,63.5 98.5,63.2 97.5,62.7 97.1,62.5 96.5,62.2 95.5,62.0 94.5,61.9 93.5,62.2 92.9,62.5 92.5,62.8 91.9,63.5 91.5,64.2 91.4,64.5 91.2,65.5 91.4,66.5 91.5,66.8 91.8,67.5 92.5,68.3 92.7,68.5 93.5,69.2 94.0,69.5 94.5,69.9 95.3,70.5 95.5,70.6 96.5,71.4 96.7,71.5 97.5,72.2 97.8,72.5 98.5,73.2 98.7,73.5 99.5,74.3 99.7,74.5 100.5,75.3 100.8,75.5 101.5,76.0 102.5,76.5 102.5,76.5 103.5,77.0 104.5,77.4 104.7,77.5 105.5,77.9 106.5,78.3 106.8,78.5 107.5,78.9 108.5,79.4 108.6,79.5 109.5,80.0 110.4,80.5 110.5,80.5 111.5,81.1 112.2,81.5 112.5,81.7 113.5,82.2 114.0,82.5 114.5,82.8 115.5,83.4 115.7,83.5 116.5,84.0 117.4,84.5 117.5,84.6 118.5,85.3 118.7,85.5 119.5,86.2 119.9,86.5 120.5,87.1 121.0,87.5 121.5,88.0 122.3,88.5 122.5,88.8 123.5,89.5 123.5,89.6 123.8,90.5 123.5,90.6 122.5,90.8 121.5,90.9 120.5,91.0 119.5,91.2 118.7,91.5 118.5,91.6 117.5,92.5 117.5,92.5 117.0,93.5 116.7,94.5 116.7,95.5 116.9,96.5 117.1,97.5 117.5,98.5 117.5,98.5 118.0,99.5 118.5,100.5 118.5,100.6 119.0,101.5 119.4,102.5 119.5,102.7 119.9,103.5 120.4,104.5 120.5,104.7 120.9,105.5 121.4,106.5 121.5,106.6 122.0,107.5 122.5,108.5 122.5,108.5 123.1,109.5 123.5,110.3 123.6,110.5 124.2,111.5 124.5,112.0 124.9,112.5 125.5,113.2 126.0,113.5 126.5,113.8 127.5,114.1 128.5,114.1 129.5,114.0 130.5,113.9 131.5,113.6 132.5,113.5 132.5,113.5 132.6,113.5 133.5,113.5 134.5,113.8 135.5,114.2 136.0,114.5 136.5,114.8 137.5,115.4 137.7,115.5 138.5,116.0 139.3,116.5 139.5,116.6 140.5,117.2 141.1,117.5 141.5,117.7 142.5,118.0 143.0,118.0 143.0,118.5 143.0,119.5 143.0,120.5 143.0,121.5 143.0,122.5 143.0,123.5 143.0,124.5 143.0,125.5 143.0,126.5 143.0,127.5 143.0,128.5 143.0,129.5 143.0,130.5 143.0,131.5 143.0,132.5 143.0,133.5 143.0,134.5 143.0,135.5 143.0,136.5 143.0,137.5 143.0,138.5 143.0,139.5 143.0,140.5 143.0,141.5 143.0,141.8 142.5,141.8 141.8,141.5 141.5,141.4 140.5,141.0 139.5,140.6 139.4,140.5 138.5,140.2 137.5,139.7 137.0,139.5 136.5,139.3 135.5,138.9 134.7,138.5 134.5,138.4 133.5,138.0 132.5,137.5 132.4,137.5 131.5,137.1 130.5,136.5 130.5,136.5 129.5,136.0 128.6,135.5 128.5,135.5 127.5,135.1 126.5,134.7 126.1,134.5 125.5,134.3 124.5,134.0 123.5,133.8 122.5,133.7 121.5,133.8 120.5,134.0 119.5,134.4 119.2,134.5 118.5,135.0 117.9,135.5 117.5,135.9 116.9,136.5 116.5,137.0 116.1,137.5 115.5,138.5 115.5,138.6 115.2,139.5 115.1,140.5 115.2,141.5 115.3,142.5 115.3,143.0 114.5,143.0 113.5,143.0 112.5,143.0 111.5,143.0 110.5,143.0 109.5,143.0 108.5,143.0 107.5,143.0 106.5,143.0 105.5,143.0 104.5,143.0 103.5,143.0 102.5,143.0 101.5,143.0 100.5,143.0 99.5,143.0 98.5,143.0 97.5,143.0 96.5,143.0 95.5,143.0 94.5,143.0 93.5,143.0 92.5,143.0 91.5,143.0 90.5,143.0 89.5,143.0 88.5,143.0 87.5,143.0 86.5,143.0 85.5,143.0 84.5,143.0 83.5,143.0 82.5,143.0 81.5,143.0 80.5,143.0 79.5,143.0 78.5,143.0 77.5,143.0 76.5,143.0 75.5,143.0 74.5,143.0 73.5,143.0 72.5,143.0 71.5,143.0 70.5,143.0 69.5,143.0 68.5,143.0 67.5,143.0 66.5,143.0 65.5,143.0 64.5,143.0 63.8,143.0 63.8,142.5 63.5,142.0 63.1,141.5 62.5,140.9 62.0,140.5 61.5,140.1 60.8,139.5 60.5,139.3 59.6,138.5 59.5,138.4 58.5,137.5 58.5,137.5 57.5,136.5 57.5,136.5 56.5,135.5 56.4,135.5 55.5,134.6 55.4,134.5 54.5,133.7 54.2,133.5 53.5,132.9 52.9,132.5 52.5,132.2 51.5,131.6 51.4,131.5 50.5,131.0 49.7,130.5 49.5,130.4 48.5,129.8 47.9,129.5 47.5,129.3 46.5,128.7 46.1,128.5 45.5,128.1 44.7,127.5 44.5,127.3 43.8,126.5 43.5,126.0 43.3,125.5 43.0,124.5 42.9,123.5 42.9,122.5 43.0,121.5 43.1,120.5 43.3,119.5 43.5,118.5 43.5,118.5 44.0,117.5 44.5,116.6 44.8,116.5 45.5,116.2 46.2,116.5 46.5,116.6 47.5,117.5 47.5,117.5 48.5,118.5 48.5,118.5 49.5,119.5 49.5,119.5 50.4,120.5 50.5,120.6 51.3,121.5 51.5,121.7 52.2,122.5 52.5,122.8 53.2,123.5 53.5,123.8 54.3,124.5 54.5,124.7 55.5,125.0 56.5,124.9 57.1,124.5 57.5,124.1 57.9,123.5 58.0,122.5 57.7,121.5 57.5,121.2 57.0,120.5 56.5,119.9 56.1,119.5 55.5,118.8 55.2,118.5 54.5,117.7 54.3,117.5 53.5,116.6 53.4,116.5 52.5,115.5 52.5,115.5 51.6,114.5 51.5,114.4 50.7,113.5 50.5,113.3 49.8,112.5 49.5,112.2 48.9,111.5 48.5,111.1 47.9,110.5 47.5,110.1 46.5,109.5 46.4,109.5 45.5,109.3 44.5,109.0 43.5,108.6 43.4,108.5 42.5,108.0 41.7,107.5 41.5,107.4 40.5,106.8 40.0,106.5 39.5,106.2 38.5,105.9 37.5,105.6 37.3,105.5 36.5,105.2 35.5,104.9 34.5,104.5 34.4,104.5 33.5,104.1 32.5,103.7 31.9,103.5 31.5,103.3 30.5,102.9 29.5,102.5 29.5,102.5 28.5,102.1 27.5,101.7 27.0,101.5 26.5,101.3 25.5,100.9 24.6,100.5 24.5,100.5 23.5,100.1 22.5,99.7 22.1,99.5 21.5,99.2 20.5,98.8 19.7,98.5 19.5,98.4 18.5,98.0 17.5,97.6 17.2,97.5 16.5,97.2 15.5,96.8 14.8,96.5 14.5,96.4 13.5,96.0 12.5,95.6 12.4,95.5 11.5,95.1 10.5,94.7 9.9,94.5 9.5,94.3 8.5,93.9 7.5,93.5 7.5,93.5 6.5,93.1 5.5,92.9 4.5,92.9 3.5,93.2 3.1,93.5 2.5,94.0 2.1,94.5 1.6,95.5 1.5,96.2 1.5,96.5 1.5,96.7 1.7,97.5 2.2,98.5 2.5,98.8 3.3,99.5 3.5,99.6 4.5,100.1 5.5,100.5 5.5,100.5 6.5,100.9 7.5,101.3 7.9,101.5 8.5,101.7 9.5,102.1 10.3,102.5 10.5,102.6 11.5,103.0 12.5,103.4 12.8,103.5 13.5,103.8 14.5,104.2 15.2,104.5 15.5,104.6 16.5,105.0 17.5,105.4 17.7,105.5 18.5,105.8 19.5,106.2 20.1,106.5 20.5,106.7 21.5,107.1 22.5,107.5 22.6,107.5 23.5,107.9 24.5,108.3 25.1,108.5 25.5,108.7 26.5,109.1 27.5,109.5 27.5,109.5 28.5,109.9 29.5,110.3 29.9,110.5 30.5,110.8 31.5,111.3 31.9,111.5 32.5,111.9 33.1,112.5 33.5,113.1 33.8,113.5 34.0,114.5 34.1,115.5 34.1,116.5 34.0,117.5 34.0,118.5 33.9,119.5 33.9,120.5 33.8,121.5 33.7,122.5 33.6,123.5 33.5,124.3 33.5,124.5 33.4,125.5 33.4,126.5 33.3,127.5 33.2,128.5 32.8,129.5 32.5,130.0 32.2,130.5 31.7,131.5 31.5,131.8 31.1,132.5 30.7,133.5 30.5,133.9 30.1,134.5 29.5,135.2 29.0,135.5 28.5,135.7 27.5,135.9 26.5,136.0 25.5,136.1 24.5,136.1 23.5,136.1 22.5,136.0 21.5,136.0 20.5,136.0 19.5,136.0 18.5,135.9 17.5,135.9 16.5,135.9 15.5,135.9 14.5,135.8 13.5,135.8 12.5,135.8 11.5,135.8 10.5,135.8 9.5,135.8 8.5,135.7 7.5,135.7 6.5,135.7 5.5,135.7 4.5,135.7 3.5,135.7 2.5,135.7 1.5,135.7 0.5,135.7 0.0,135.7 0.0,135.5 0.0,134.5 0.0,133.5 0.0,132.5 0.0,131.5 0.0,130.5 0.0,129.5 0.0,128.5 0.0,127.5 0.0,126.5 0.0,125.5 0.0,124.5 0.0,123.5 0.0,122.5 0.0,121.5 0.0,120.5 0.0,119.5 0.0,118.5 0.0,117.5 0.0,116.5 0.0,115.5 0.0,114.5 0.0,113.5 0.0,112.5 0.0,111.5 0.0,110.5 0.0,109.5 0.0,108.5 0.0,107.5 0.0,106.5 0.0,105.5 0.0,104.5 0.0,103.5 0.0,102.5 0.0,101.5 0.0,100.5 0.0,99.5 0.0,98.5 0.0,97.5 0.0,96.5 0.0,95.5 0.0,94.5 0.0,93.5 0.0,92.5 0.0,91.5 0.0,90.5 0.0,89.5 0.0,88.5 0.0,87.5 0.0,86.5 0.0,85.5 0.0,84.5 0.0,83.5 0.0,82.5 0.0,81.5 0.0,80.5 0.0,79.5 0.0,78.5 0.0,77.5 0.0,76.5 0.0,75.5 0.0,74.5 0.0,73.5 0.0,72.7 0.5,72.7 1.5,72.9 2.5,73.1 3.5,73.4 3.8,73.5 4.5,73.6 5.5,73.8 6.5,74.1 7.4,74.5 7.5,74.5 8.5,74.9 9.5,75.3 9.9,75.5 10.5,75.8 11.5,76.3 11.7,76.5 12.5,76.9 13.4,77.5 13.5,77.5 14.5,78.0 15.5,78.5 15.5,78.5 16.5,78.8 17.5,79.2 18.1,79.5 18.5,79.6 19.5,80.0 20.5,80.4 20.6,80.5 21.5,80.8 22.5,81.2 23.1,81.5 23.5,81.6 24.5,82.0 25.5,82.5 25.5,82.5 26.5,82.9 27.5,83.3 28.0,83.5 28.5,83.7 29.5,84.1 30.4,84.5 30.5,84.5 31.5,84.9 32.5,85.3 32.8,85.5 33.5,85.7 34.5,86.2 35.3,86.5 35.5,86.6 36.5,87.0 37.5,87.4 37.7,87.5 38.5,87.8 39.5,88.2 40.1,88.5 40.5,88.6 41.5,89.0 42.5,89.5 42.5,89.5 43.5,89.9 44.5,90.3 45.0,90.5 45.5,90.7 46.5,91.1 47.3,91.5 47.5,91.6 48.5,92.0 49.3,92.5 49.5,92.6 50.5,93.1 51.1,93.5 51.5,93.7 52.5,94.3 53.0,94.5 53.5,94.7 54.5,95.1 55.5,95.4 55.8,95.5 56.5,95.7 57.5,95.9 58.5,96.2 59.2,96.5 59.5,96.6 60.5,97.0 61.5,97.5 61.6,97.5 62.5,97.8 63.5,98.3 64.1,98.5 64.5,98.7 65.5,99.0 66.5,99.5 66.6,99.5 67.5,99.8 68.5,100.2 69.1,100.5 69.5,100.6 70.5,101.0 71.5,101.5 71.5,101.5 72.5,101.9 73.5,102.3 74.0,102.5 74.5,102.6 75.5,102.9 76.5,103.1 77.5,103.2 78.5,103.2 79.5,103.3 80.5,103.4 80.8,103.5 81.5,103.6 82.5,103.9 83.5,104.2 84.3,104.5 84.5,104.6 85.5,104.9 86.5,105.2 87.2,105.5 87.5,105.6 88.5,105.9 89.5,106.3 90.0,106.5 90.5,106.7 91.5,107.0 92.5,107.4 92.9,107.5 93.5,107.7 94.5,108.1 95.5,108.4 95.7,108.5 96.5,108.8 97.5,109.1 98.5,109.5 98.5,109.5 99.5,109.9 100.5,110.3 101.0,110.5 101.5,110.7 102.5,111.0 103.5,111.2 104.5,111.2 105.5,111.3 106.5,111.3 107.5,111.3 108.3,110.5 107.7,109.5 107.5,109.2 107.1,108.5 106.6,107.5 106.5,107.4 105.9,106.5 105.5,106.1 104.9,105.5 104.5,105.2 103.5,104.7 103.1,104.5 102.5,104.2 101.5,103.8 100.8,103.5 100.5,103.4 99.5,103.0 98.5,102.5 98.5,102.5 97.5,102.1 96.5,101.6 96.2,101.5 95.5,101.2 94.5,100.8 93.9,100.5 93.5,100.3 92.5,99.9 91.7,99.5 91.5,99.4 90.5,99.0 89.5,98.6 89.4,98.5 88.5,98.1 87.5,97.7 87.1,97.5 86.5,97.2 85.5,96.8 85.0,96.5 84.5,96.2 83.5,95.6 83.4,95.5 82.5,94.8 82.1,94.5 81.5,94.1 80.7,93.5 80.5,93.4 79.5,92.8 78.7,92.5 78.5,92.4 77.5,92.0 76.5,91.7 76.0,91.5 75.5,91.3 74.5,91.0 73.5,90.6 73.3,90.5 72.5,90.1 71.5,89.7 71.0,89.5 70.5,89.3 69.5,88.8 68.9,88.5 68.5,88.3 67.5,87.7 67.2,87.5 66.5,86.9 66.1,86.5 65.5,85.5 65.5,85.4 65.2,84.5 65.0,83.5 64.8,82.5 64.5,81.9 64.3,81.5 63.5,80.5 63.5,80.5 62.5,79.7 62.1,79.5 61.5,79.2 60.5,78.9 59.5,78.6 59.2,78.5 58.5,78.3 57.5,78.0 56.5,77.7 55.8,77.5 55.5,77.4 54.5,77.1 53.5,76.8 52.5,76.5 52.4,76.5 51.5,76.2 50.5,75.9 49.5,75.6 49.1,75.5 48.5,75.3 47.5,75.0 46.5,74.7 45.7,74.5 45.5,74.4 44.5,74.1 43.5,73.9 42.5,73.5 42.4,73.5 41.5,73.2 40.5,73.0 39.5,72.6 39.0,72.5 38.5,72.3 37.5,72.0 36.5,71.7 35.7,71.5 35.5,71.4 34.5,71.1 33.5,70.8 32.5,70.5 32.4,70.5 31.5,70.2 30.5,69.9 29.5,69.6 29.2,69.5 28.5,69.3 27.5,69.0 26.5,68.7 26.0,68.5 25.5,68.4 24.5,68.0 23.5,67.7 22.8,67.5 22.5,67.4 21.5,67.1 20.5,66.7 19.8,66.5 19.5,66.4 18.5,66.1 17.5,65.9 16.5,65.6 16.0,65.5 15.5,65.4 14.5,65.1 13.5,64.9 12.5,64.6 12.1,64.5 11.5,64.3 10.5,64.0 9.5,63.7 8.7,63.5 8.5,63.5 7.5,63.2 6.5,63.0 5.5,63.0 4.5,63.2 3.5,63.4 3.3,63.5 2.5,63.8 1.5,64.3 0.7,64.5 0.5,64.6 0.0,64.6 0.0,64.5 0.0,63.5 0.0,62.5 0.0,61.5 0.0,60.5 0.0,59.5 0.0,58.5 0.0,57.5 0.0,56.5 0.0,55.5 0.0,54.5 0.0,53.5 0.0,52.5 0.0,51.5 0.0,50.5 0.0,49.5 0.0,48.5 0.0,47.5 0.0,46.5 0.0,45.5 0.0,44.5 0.0,43.5 0.0,42.5 0.0,41.5 0.0,40.5 0.0,39.5 0.0,38.5 0.0,37.5 0.0,36.5 0.0,35.5 0.0,34.5 0.0,33.5 0.0,32.5 0.0,31.5 0.0,30.5 0.0,29.5 0.0,28.5 0.0,27.5 0.0,26.5 0.0,25.5 0.0,24.5 0.0,23.5 0.0,22.5 0.0,21.5 0.0,20.5 0.0,19.5 0.0,18.5 0.0,17.5 0.0,16.5 0.0,15.5 0.0,14.5 0.0,13.5 0.0,12.5 0.0,11.5 0.0,10.5 0.0,9.5 0.0,8.5 0.0,7.5 0.0,6.5 0.0,5.5 0.0,4.5 0.0,3.5 0.0,2.5 0.0,2.2 0.5,2.2 1.5,2.4 1.7,2.5 2.5,2.7 3.5,2.9 4.5,3.2 5.4,3.5 5.5,3.5 6.5,3.7 7.5,4.0 8.5,4.3 9.2,4.5 9.5,4.6 10.5,4.8 11.5,5.1 12.5,5.3 13.1,5.5 13.5,5.6 14.5,5.9 15.5,6.3 16.0,6.5 16.5,6.7 17.5,7.2 18.1,7.5 18.5,7.7 19.5,8.3 19.9,8.5 20.5,8.8 21.5,9.5 21.5,9.5 22.5,10.2 22.9,10.5 23.5,11.0 24.0,11.5 24.5,11.9 25.1,12.5 25.5,12.9 26.2,13.5 26.5,13.8 27.4,14.5 27.5,14.6 28.5,15.4 28.7,15.5 29.5,16.0 30.2,16.5 30.5,16.7 31.5,17.3 31.7,17.5 32.5,18.1 33.0,18.5 33.5,19.0 33.9,19.5 34.5,20.2 34.7,20.5 35.5,21.5 35.5,21.5 36.3,22.5 36.5,22.7 37.3,23.5 37.5,23.7 38.5,24.5 38.5,24.5 39.5,25.2 40.0,25.5 40.5,25.9 41.4,26.5 41.5,26.5 42.5,27.1 43.1,27.5 43.5,27.7 44.5,28.2 45.0,28.5 45.5,28.8 46.5,29.4 46.6,29.5 47.5,30.0 48.2,30.5 48.5,30.7 49.5,31.3 49.8,31.5 50.5,32.0 51.3,32.5 51.5,32.6 52.5,33.3 52.7,33.5 53.5,34.0 54.1,34.5 54.5,34.8 55.5,35.4 55.6,35.5 56.5,36.0 57.2,36.5 57.5,36.7 58.5,37.2 58.9,37.5 59.5,37.9 60.4,38.5 60.5,38.6 61.5,39.5 61.5,39.5 62.4,40.5 62.5,40.6 63.3,41.5 63.5,41.7 64.2,42.5 64.5,42.9 65.1,43.5 65.5,43.9 66.2,44.5 66.5,44.7 67.5,45.2 68.5,45.3 69.5,45.0 70.0,44.5 70.5,43.6 70.5,43.5 70.6,42.5 70.5,42.3 70.2,41.5 69.5,40.5 69.5,40.4 68.8,39.5 68.5,39.1 68.1,38.5 67.5,37.7 67.4,37.5 66.8,36.5 66.5,35.7 66.4,35.5 66.4,34.5 66.5,34.4 67.5,33.5 67.5,33.5 68.5,33.4 69.5,33.4 70.5,33.5 70.6,33.5 71.5,33.6 72.5,33.7 73.5,33.8 74.5,34.0 75.5,34.1 76.5,34.2 77.5,34.3 78.5,34.3 79.5,34.2 80.5,34.0 81.5,33.8 82.5,33.6 83.5,33.5 83.5,33.5 84.5,33.4 85.5,33.5 86.5,33.4 87.5,33.2 88.5,32.9 89.2,32.5 89.5,32.1 89.9,31.5 90.1,30.5 90.1,29.5 89.9,28.5 89.5,27.6 89.4,27.5 88.7,26.5 88.5,26.3 87.5,25.6 87.3,25.5 86.5,25.2 85.5,24.9 84.5,24.8 83.5,24.7 82.6,24.5 82.5,24.5 81.5,24.2 80.5,23.7 80.3,23.5 79.5,22.8 79.3,22.5 78.7,21.5 78.5,21.0 78.3,20.5 78.0,19.5 77.8,18.5 77.6,17.5 77.5,17.3 77.3,16.5 76.8,15.5 76.5,15.1 75.9,14.5 75.5,14.1 74.6,13.5 74.5,13.4 73.5,12.8 73.1,12.5 72.5,12.0 71.8,11.5 71.5,11.2 70.6,10.5 70.5,10.4 69.5,9.6 69.4,9.5 68.5,8.7 68.3,8.5 67.5,7.8 67.2,7.5 66.5,6.7 66.3,6.5 65.5,5.7 65.3,5.5 64.5,4.8 64.0,4.5 63.5,4.2 62.5,3.9 61.5,3.8 60.5,3.7 59.5,3.7 58.5,3.7 57.5,3.5 57.5,3.5 56.5,3.3 55.5,3.0 54.5,2.7 53.8,2.5 53.5,2.4 52.5,2.0 51.5,1.6 51.2,1.5 50.5,1.1 49.6,0.5 49.6,0.0ZM111.7,6.5 111.5,6.7 110.8,7.5 110.5,8.0 110.3,8.5 110.1,9.5 110.2,10.5 110.5,11.2 110.6,11.5 111.4,12.5 111.5,12.6 112.5,13.2 113.5,13.5 113.6,13.5 114.5,13.6 115.5,13.6 116.5,13.6 117.5,13.7 118.5,13.7 119.5,13.7 120.5,13.7 121.5,13.7 122.5,13.7 123.5,13.7 124.5,13.8 125.5,13.8 126.5,13.9 127.5,13.9 128.5,14.0 129.5,13.8 129.9,13.5 130.5,13.1 131.0,12.5 131.5,11.6 131.5,11.5 131.8,10.5 131.9,9.5 131.7,8.5 131.5,8.2 131.1,7.5 130.5,6.9 130.0,6.5 129.5,6.2 128.5,5.9 127.5,5.8 126.5,5.8 125.5,5.8 124.5,5.8 123.5,5.8 122.5,5.7 121.5,5.7 120.5,5.7 119.5,5.7 118.5,5.7 117.5,5.7 116.5,5.7 115.5,5.6 114.5,5.7 113.5,5.7 112.5,6.0Z"/>
<path fill="#00b6ff" d="M54.5,0.0 55.5,0.0 56.5,0.0 57.5,0.0 58.5,0.0 59.5,0.0 60.5,0.0 61.5,0.0 62.5,0.0 63.5,0.0 64.5,0.0 65.5,0.0 66.5,0.0 67.5,0.0 68.5,0.0 69.5,0.0 70.5,0.0 71.5,0.0 72.5,0.0 73.5,0.0 74.5,0.0 75.5,0.0 76.5,0.0 77.5,0.0 78.5,0.0 79.5,0.0 80.5,0.0 81.5,0.0 82.5,0.0 83.5,0.0 84.5,0.0 85.5,0.0 86.5,0.0 87.5,0.0 88.5,0.0 89.5,0.0 90.5,0.0 91.5,0.0 92.5,0.0 93.5,0.0 94.5,0.0 95.5,0.0 96.5,0.0 97.5,0.0 98.5,0.0 99.5,0.0 100.5,0.0 101.5,0.0 102.5,0.0 103.5,0.0 104.5,0.0 105.5,0.0 106.5,0.0 107.5,0.0 108.5,0.0 109.5,0.0 110.5,0.0 111.5,0.0 112.5,0.0 113.5,0.0 114.5,0.0 115.5,0.0 116.5,0.0 117.5,0.0 118.5,0.0 119.5,0.0 120.5,0.0 121.5,0.0 122.5,0.0 123.5,0.0 124.5,0.0 125.5,0.0 126.5,0.0 127.5,0.0 128.5,0.0 129.5,0.0 130.5,0.0 131.5,0.0 132.5,0.0 133.5,0.0 134.5,0.0 135.5,0.0 136.5,0.0 137.5,0.0 138.5,0.0 139.5,0.0 140.5,0.0 141.5,0.0 142.5,0.0 143.0,0.0 143.0,0.5 143.0,1.5 143.0,2.5 143.0,3.5 143.0,4.5 143.0,5.5 143.0,6.5 143.0,7.5 143.0,8.5 143.0,9.5 143.0,10.5 143.0,11.5 143.0,12.5 143.0,13.5 143.0,14.5 143.0,15.5 143.0,16.5 143.0,17.5 143.0,18.5 143.0,19.5 143.0,20.5 143.0,21.5 143.0,22.5 143.0,23.5 143.0,24.5 143.0,25.5 143.0,25.6 142.5,25.6 142.4,25.5 141.5,24.9 140.9,24.5 140.5,24.2 139.5,23.7 139.1,23.5 138.5,23.2 137.5,22.7 137.1,22.5 136.5,22.0 136.2,21.5 135.9,20.5 135.8,19.5 135.7,18.5 135.5,18.0 135.3,17.5 134.7,16.5 134.5,16.3 133.6,15.5 133.5,15.4 132.5,14.7 132.3,14.5 132.0,13.5 132.3,12.5 132.5,12.0 132.6,11.5 132.9,10.5 132.9,9.5 132.7,8.5 132.5,8.0 132.3,7.5 131.6,6.5 131.5,6.4 130.5,5.6 130.2,5.5 129.5,5.2 128.5,4.9 127.5,4.8 126.5,4.8 125.5,4.8 124.5,4.8 123.5,4.8 122.5,4.8 121.5,4.7 120.5,4.7 119.5,4.7 118.5,4.7 117.5,4.7 116.5,4.7 115.5,4.7 114.5,4.7 113.5,4.7 112.5,5.0 111.5,5.4 111.4,5.5 110.5,6.2 110.3,6.5 109.6,7.5 109.5,7.8 109.2,8.5 109.1,9.5 109.2,10.5 109.5,11.4 109.5,11.5 110.1,12.5 110.5,13.0 111.0,13.5 111.5,13.9 112.5,14.3 113.4,14.5 113.5,14.5 114.5,14.6 115.5,14.7 116.5,14.7 117.5,14.7 118.5,14.7 119.5,14.7 120.5,14.7 121.5,14.7 122.5,14.7 123.5,14.8 124.5,14.8 125.5,14.9 126.5,15.1 127.5,15.5 127.5,15.5 127.8,16.5 127.5,17.3 127.5,17.5 127.1,18.5 126.7,19.5 126.5,19.9 125.9,20.5 125.5,20.7 124.5,20.9 123.5,20.9 122.5,20.8 121.5,20.7 120.5,20.5 120.3,20.5 119.5,20.4 118.5,20.2 117.5,20.1 116.5,20.0 115.5,19.8 114.5,19.7 113.5,19.6 113.1,19.5 112.5,19.4 111.5,19.3 110.5,19.1 109.5,19.0 108.5,18.9 107.5,18.7 106.5,18.7 105.5,18.7 104.5,18.8 103.5,19.0 102.5,19.3 102.0,19.5 101.5,19.7 100.5,20.2 100.1,20.5 99.5,21.0 98.9,21.5 98.5,21.9 97.9,22.5 97.5,23.0 97.1,23.5 96.5,24.5 96.5,24.5 95.9,25.5 95.5,26.2 95.3,26.5 94.7,27.5 94.5,28.0 94.1,28.5 93.6,29.5 93.5,29.8 92.9,30.5 92.8,31.5 93.1,32.5 93.5,33.0 93.7,33.5 94.5,34.3 94.7,34.5 95.5,34.9 96.5,35.5 96.5,35.5 97.5,35.8 98.5,36.2 99.1,36.5 99.5,36.6 100.5,37.0 101.5,37.5 101.6,37.5 102.5,37.8 103.5,38.1 104.5,38.5 104.6,38.5 105.5,38.7 106.5,39.0 107.5,39.3 107.9,39.5 108.5,39.7 109.5,39.9 110.5,40.2 111.2,40.5 111.5,40.6 112.5,40.8 113.5,41.1 114.5,41.5 114.6,41.5 115.5,41.7 116.5,42.0 117.5,42.3 117.9,42.5 118.5,42.6 119.5,42.9 120.5,43.2 121.3,43.5 121.5,43.6 122.5,43.8 123.5,44.1 124.5,44.5 124.6,44.5 125.5,44.7 126.5,45.0 127.5,45.3 127.9,45.5 128.5,45.6 129.5,45.9 130.5,46.2 131.3,46.5 131.5,46.5 132.5,46.7 133.5,46.8 134.5,46.8 135.5,46.7 136.5,46.5 136.7,46.5 137.5,45.9 138.0,45.5 138.5,44.8 138.7,44.5 139.4,43.5 139.5,43.3 140.2,42.5 140.5,42.2 141.2,41.5 141.5,41.2 142.5,40.5 142.5,40.5 143.0,40.5 143.0,40.5 143.0,41.5 143.0,42.5 143.0,43.5 143.0,44.5 143.0,45.5 143.0,46.5 143.0,47.5 143.0,48.5 143.0,49.5 143.0,50.5 143.0,51.5 143.0,52.5 143.0,53.5 143.0,54.5 143.0,55.5 143.0,56.5 143.0,57.5 143.0,58.5 143.0,59.5 143.0,60.5 143.0,61.5 143.0,62.5 143.0,63.5 143.0,64.5 143.0,65.5 143.0,66.5 143.0,67.5 143.0,68.5 143.0,69.5 143.0,70.5 143.0,71.5 143.0,72.5 143.0,73.5 143.0,74.5 143.0,75.5 143.0,76.5 143.0,77.5 143.0,78.5 143.0,79.5 143.0,80.5 143.0,81.5 143.0,82.4 142.5,82.4 141.5,82.0 140.5,81.7 139.9,81.5 139.5,81.3 138.5,80.9 137.5,80.6 137.3,80.5 136.5,80.2 135.5,79.8 134.6,79.5 134.5,79.5 133.5,79.1 132.5,78.7 132.1,78.5 131.5,78.2 130.5,77.8 130.0,77.5 129.5,77.3 128.5,76.8 127.7,76.5 127.5,76.4 126.5,76.1 125.5,75.8 124.5,75.5 124.5,75.5 123.5,75.2 122.5,74.8 121.8,74.5 121.5,74.4 120.5,73.8 119.9,73.5 119.5,73.2 118.5,72.7 118.2,72.5 117.5,72.1 116.5,71.6 116.3,71.5 115.5,71.0 114.5,70.6 114.3,70.5 113.5,70.1 112.5,69.6 112.3,69.5 111.5,69.1 110.5,68.6 110.4,68.5 109.5,67.9 108.8,67.5 108.5,67.3 107.5,66.7 107.1,66.5 106.5,66.2 105.5,65.7 104.9,65.5 104.5,65.3 103.5,64.9 102.6,64.5 102.5,64.5 101.5,63.9 100.7,63.5 100.5,63.4 99.5,62.9 98.8,62.5 98.5,62.4 97.5,61.9 96.5,61.5 96.5,61.5 95.5,61.3 94.5,61.2 93.5,61.3 93.0,61.5 92.5,61.7 91.5,62.5 91.5,62.5 90.8,63.5 90.5,64.4 90.5,64.5 90.3,65.5 90.5,66.5 90.5,66.6 90.8,67.5 91.5,68.5 91.5,68.6 92.5,69.5 92.5,69.5 93.5,70.3 93.8,70.5 94.5,71.0 95.2,71.5 95.5,71.7 96.5,72.5 96.5,72.5 97.5,73.4 97.6,73.5 98.5,74.4 98.6,74.5 99.5,75.3 99.7,75.5 100.5,76.2 101.0,76.5 101.5,76.8 102.5,77.3 103.0,77.5 103.5,77.8 104.5,78.2 105.3,78.5 105.5,78.6 106.5,79.2 107.2,79.5 107.5,79.7 108.5,80.2 109.0,80.5 109.5,80.8 110.5,81.4 110.8,81.5 111.5,81.9 112.5,82.5 112.6,82.5 113.5,83.1 114.3,83.5 114.5,83.6 115.5,84.2 116.0,84.5 116.5,84.9 117.5,85.5 117.5,85.5 118.5,86.4 118.7,86.5 119.5,87.4 119.6,87.5 120.1,88.5 119.5,89.3 119.1,89.5 118.5,89.7 117.5,90.3 117.2,90.5 116.5,91.2 116.3,91.5 115.8,92.5 115.5,93.5 115.5,93.8 115.4,94.5 115.5,95.5 115.5,95.8 115.6,96.5 115.9,97.5 116.2,98.5 116.5,99.2 116.6,99.5 117.1,100.5 117.5,101.4 117.5,101.5 118.0,102.5 118.5,103.5 118.5,103.6 118.9,104.5 119.4,105.5 119.5,105.7 119.9,106.5 120.3,107.5 120.5,107.9 120.8,108.5 121.3,109.5 121.5,110.0 121.8,110.5 122.2,111.5 122.5,112.1 122.7,112.5 123.3,113.5 123.5,113.8 124.2,114.5 124.5,114.8 125.5,115.3 126.2,115.5 126.5,115.6 127.5,115.7 128.5,115.7 129.5,115.7 130.5,115.5 130.8,115.5 131.5,115.4 132.5,115.3 133.5,115.3 134.4,115.5 134.5,115.5 135.5,116.0 136.5,116.5 136.5,116.5 137.5,117.2 138.1,117.5 138.5,117.8 139.5,118.4 139.7,118.5 140.5,119.0 141.5,119.4 141.9,119.5 142.5,119.7 143.0,119.7 143.0,120.5 143.0,121.5 143.0,122.5 143.0,123.5 143.0,124.5 143.0,125.5 143.0,126.5 143.0,127.5 143.0,128.5 143.0,129.5 143.0,130.5 143.0,131.5 143.0,132.5 143.0,133.5 143.0,134.5 143.0,135.5 143.0,136.5 143.0,137.5 143.0,138.5 143.0,139.5 143.0,140.5 143.0,141.4 142.5,141.4 141.5,141.1 140.5,140.7 140.1,140.5 139.5,140.3 138.5,139.8 137.8,139.5 137.5,139.4 136.5,139.0 135.5,138.5 135.4,138.5 134.5,138.1 133.5,137.7 133.1,137.5 132.5,137.2 131.5,136.7 131.2,136.5 130.5,136.1 129.5,135.6 129.4,135.5 128.5,135.1 127.5,134.7 127.1,134.5 126.5,134.3 125.5,133.9 124.5,133.6 124.1,133.5 123.5,133.4 122.5,133.2 121.5,133.2 120.5,133.3 119.5,133.5 119.4,133.5 118.5,133.9 117.5,134.4 117.3,134.5 116.5,135.1 115.7,135.5 115.5,135.7 114.5,136.3 114.2,136.5 113.5,137.1 113.0,137.5 112.5,138.5 112.5,138.7 112.4,139.5 112.5,139.8 112.6,140.5 112.9,141.5 113.2,142.5 113.2,143.0 112.5,143.0 111.5,143.0 110.5,143.0 109.5,143.0 108.5,143.0 107.5,143.0 106.5,143.0 105.5,143.0 104.5,143.0 103.5,143.0 102.5,143.0 101.5,143.0 100.5,143.0 99.5,143.0 98.5,143.0 97.5,143.0 96.5,143.0 95.5,143.0 94.5,143.0 93.5,143.0 92.5,143.0 91.5,143.0 90.5,143.0 89.5,143.0 88.5,143.0 87.5,143.0 86.5,143.0 85.5,143.0 84.5,143.0 83.5,143.0 82.5,143.0 81.5,143.0 80.5,143.0 79.5,143.0 78.5,143.0 77.5,143.0 76.5,143.0 75.5,143.0 74.5,143.0 73.5,143.0 72.5,143.0 71.5,143.0 70.5,143.0 69.5,143.0 68.5,143.0 67.5,143.0 66.5,143.0 65.5,143.0 64.6,143.0 64.6,142.5 64.5,142.3 63.9,141.5 63.5,141.1 62.9,140.5 62.5,140.2 61.7,139.5 61.5,139.3 60.5,138.5 60.5,138.5 59.5,137.6 59.4,137.5 58.5,136.6 58.4,136.5 57.5,135.6 57.4,135.5 56.5,134.5 56.5,134.5 55.5,133.5 55.5,133.5 54.5,132.5 54.5,132.5 53.5,131.6 53.4,131.5 52.5,130.8 52.1,130.5 51.5,130.1 50.5,129.5 50.4,129.5 49.5,129.0 48.5,128.5 48.5,128.5 47.5,127.9 46.8,127.5 46.5,127.3 45.5,126.6 45.4,126.5 44.6,125.5 44.5,125.2 44.3,124.5 44.1,123.5 44.1,122.5 44.3,121.5 44.5,120.8 44.7,120.5 45.5,119.9 46.5,120.3 46.8,120.5 47.5,121.1 47.9,121.5 48.5,122.2 48.8,122.5 49.5,123.3 49.7,123.5 50.5,124.4 50.6,124.5 51.5,125.5 51.5,125.5 52.5,126.5 52.5,126.5 53.5,127.2 54.5,127.5 54.7,127.5 55.5,127.5 55.6,127.5 56.5,127.3 57.5,126.9 58.1,126.5 58.5,126.2 59.2,125.5 59.5,125.2 59.9,124.5 60.4,123.5 60.5,122.8 60.5,122.5 60.5,122.0 60.4,121.5 60.1,120.5 59.5,119.6 59.4,119.5 58.6,118.5 58.5,118.4 57.7,117.5 57.5,117.3 56.8,116.5 56.5,116.2 55.9,115.5 55.5,115.1 55.0,114.5 54.5,114.0 54.0,113.5 53.5,112.9 53.1,112.5 52.5,111.8 52.2,111.5 51.5,110.7 51.3,110.5 50.5,109.6 50.4,109.5 49.5,108.6 49.4,108.5 48.5,107.9 47.7,107.5 47.5,107.4 46.5,107.1 45.5,107.0 44.5,107.0 43.5,106.8 42.5,106.6 42.3,106.5 41.5,106.1 40.5,105.7 40.0,105.5 39.5,105.3 38.5,104.9 37.5,104.6 37.0,104.5 36.5,104.3 35.5,103.9 34.5,103.6 34.3,103.5 33.5,103.2 32.5,102.8 31.8,102.5 31.5,102.4 30.5,101.9 29.5,101.5 29.4,101.5 28.5,101.1 27.5,100.7 26.9,100.5 26.5,100.3 25.5,99.9 24.5,99.5 24.5,99.5 23.5,99.1 22.5,98.7 22.1,98.5 21.5,98.2 20.5,97.8 19.6,97.5 19.5,97.5 18.5,97.0 17.5,96.6 17.2,96.5 16.5,96.2 15.5,95.8 14.7,95.5 14.5,95.4 13.5,95.0 12.5,94.6 12.3,94.5 11.5,94.1 10.5,93.8 9.8,93.5 9.5,93.3 8.5,92.9 7.5,92.6 7.3,92.5 6.5,92.2 5.5,92.0 4.5,92.0 3.5,92.2 3.0,92.5 2.5,92.7 1.6,93.5 1.5,93.7 0.9,94.5 0.5,95.3 0.0,95.3 0.0,94.5 0.0,93.5 0.0,92.5 0.0,91.5 0.0,90.5 0.0,89.5 0.0,88.5 0.0,87.5 0.0,86.5 0.0,85.5 0.0,84.5 0.0,83.5 0.0,82.5 0.0,81.5 0.0,80.5 0.0,79.5 0.0,78.5 0.0,77.5 0.0,76.5 0.0,75.5 0.0,74.5 0.0,73.6 0.5,73.6 1.5,73.7 2.5,73.8 3.5,74.0 4.5,74.2 5.5,74.5 5.6,74.5 6.5,74.8 7.5,75.1 8.3,75.5 8.5,75.6 9.5,75.9 10.5,76.4 10.6,76.5 11.5,76.9 12.5,77.5 12.6,77.5 13.5,77.9 14.5,78.5 14.6,78.5 15.5,78.8 16.5,79.2 17.1,79.5 17.5,79.7 18.5,80.0 19.5,80.4 19.6,80.5 20.5,80.8 21.5,81.2 22.1,81.5 22.5,81.7 23.5,82.0 24.5,82.5 24.5,82.5 25.5,82.9 26.5,83.3 27.0,83.5 27.5,83.7 28.5,84.1 29.4,84.5 29.5,84.5 30.5,84.9 31.5,85.4 31.8,85.5 32.5,85.8 33.5,86.2 34.2,86.5 34.5,86.6 35.5,87.0 36.5,87.4 36.6,87.5 37.5,87.8 38.5,88.3 39.0,88.5 39.5,88.7 40.5,89.1 41.4,89.5 41.5,89.5 42.5,89.9 43.5,90.4 43.8,90.5 44.5,90.8 45.5,91.2 46.2,91.5 46.5,91.6 47.5,92.0 48.4,92.5 48.5,92.5 49.5,93.0 50.3,93.5 50.5,93.6 51.5,94.1 52.2,94.5 52.5,94.7 53.5,95.1 54.5,95.5 54.6,95.5 55.5,95.7 56.5,96.0 57.5,96.3 58.1,96.5 58.5,96.6 59.5,97.0 60.5,97.5 60.6,97.5 61.5,97.9 62.5,98.3 62.9,98.5 63.5,98.7 64.5,99.1 65.4,99.5 65.5,99.6 66.5,99.9 67.5,100.3 67.9,100.5 68.5,100.7 69.5,101.1 70.3,101.5 70.5,101.6 71.5,102.0 72.5,102.4 72.8,102.5 73.5,102.8 74.5,103.1 75.5,103.3 76.3,103.5 76.5,103.5 77.5,103.7 78.5,103.7 79.5,103.8 80.5,104.0 81.5,104.2 82.4,104.5 82.5,104.5 83.5,104.9 84.5,105.2 85.3,105.5 85.5,105.6 86.5,105.9 87.5,106.3 88.2,106.5 88.5,106.6 89.5,107.0 90.5,107.3 91.0,107.5 91.5,107.7 92.5,108.0 93.5,108.4 93.9,108.5 94.5,108.7 95.5,109.1 96.5,109.4 96.7,109.5 97.5,109.8 98.5,110.1 99.4,110.5 99.5,110.5 100.5,110.9 101.5,111.3 102.0,111.5 102.5,111.7 103.5,111.9 104.5,112.1 105.5,112.3 106.2,112.5 106.5,112.6 107.5,113.0 108.5,113.5 108.5,113.5 109.5,113.8 110.5,113.7 111.0,113.5 111.5,112.9 111.7,112.5 111.6,111.5 111.5,111.3 110.9,110.5 110.5,110.1 109.8,109.5 109.5,109.3 108.6,108.5 108.5,108.4 107.7,107.5 107.5,107.3 106.9,106.5 106.5,106.0 106.0,105.5 105.5,105.0 104.7,104.5 104.5,104.3 103.5,103.8 102.7,103.5 102.5,103.4 101.5,103.0 100.5,102.6 100.4,102.5 99.5,102.1 98.5,101.6 98.2,101.5 97.5,101.2 96.5,100.7 95.9,100.5 95.5,100.3 94.5,99.8 93.7,99.5 93.5,99.4 92.5,98.9 91.5,98.5 91.5,98.5 90.5,98.1 89.5,97.6 89.2,97.5 88.5,97.2 87.5,96.7 87.0,96.5 86.5,96.2 85.5,95.8 85.0,95.5 84.5,95.2 83.5,94.6 83.4,94.5 82.5,93.9 81.9,93.5 81.5,93.2 80.5,92.6 80.3,92.5 79.5,92.1 78.5,91.7 78.0,91.5 77.5,91.3 76.5,90.9 75.5,90.6 75.3,90.5 74.5,90.1 73.5,89.7 73.0,89.5 72.5,89.3 71.5,88.8 70.8,88.5 70.5,88.3 69.5,87.8 69.0,87.5 68.5,87.1 67.8,86.5 67.5,86.1 67.2,85.5 66.9,84.5 66.8,83.5 66.6,82.5 66.5,82.3 66.2,81.5 65.7,80.5 65.5,80.2 65.0,79.5 64.5,79.0 63.8,78.5 63.5,78.3 62.5,77.8 61.8,77.5 61.5,77.4 60.5,77.1 59.5,76.8 58.5,76.5 58.5,76.5 57.5,76.2 56.5,75.9 55.5,75.6 55.1,75.5 54.5,75.3 53.5,75.0 52.5,74.7 51.7,74.5 51.5,74.4 50.5,74.1 49.5,73.8 48.5,73.5 48.4,73.5 47.5,73.2 46.5,72.9 45.5,72.6 45.0,72.5 44.5,72.3 43.5,72.0 42.5,71.8 41.6,71.5 41.5,71.5 40.5,71.2 39.5,70.9 38.5,70.6 38.2,70.5 37.5,70.3 36.5,70.0 35.5,69.7 34.9,69.5 34.5,69.4 33.5,69.1 32.5,68.8 31.5,68.5 31.5,68.5 30.5,68.2 29.5,67.9 28.5,67.6 28.2,67.5 27.5,67.3 26.5,67.0 25.5,66.7 24.8,66.5 24.5,66.4 23.5,66.1 22.5,65.8 21.5,65.5 21.5,65.5 20.5,65.2 19.5,64.9 18.5,64.6 18.1,64.5 17.5,64.3 16.5,64.0 15.5,63.8 14.5,63.5 14.5,63.5 13.5,63.2 12.5,62.9 11.5,62.6 11.0,62.5 10.5,62.4 9.5,62.1 8.5,61.8 7.5,61.6 6.9,61.5 6.5,61.4 5.5,61.4 4.9,61.5 4.5,61.5 3.5,61.8 2.5,62.1 1.7,62.5 1.5,62.6 0.5,62.9 0.0,62.9 0.0,62.5 0.0,61.5 0.0,60.5 0.0,59.5 0.0,58.5 0.0,57.5 0.0,56.5 0.0,55.5 0.0,54.5 0.0,53.5 0.0,52.5 0.0,51.5 0.0,50.5 0.0,49.5 0.0,48.5 0.0,47.5 0.0,46.5 0.0,45.5 0.0,44.5 0.0,43.5 0.0,42.5 0.0,41.5 0.0,40.5 0.0,39.5 0.0,38.5 0.0,37.5 0.0,36.5 0.0,35.5 0.0,34.5 0.0,33.5 0.0,32.5 0.0,31.5 0.0,30.5 0.0,29.5 0.0,28.5 0.0,27.5 0.0,26.5 0.0,25.5 0.0,24.5 0.0,23.5 0.0,22.5 0.0,21.5 0.0,20.5 0.0,19.5 0.0,18.5 0.0,17.5 0.0,16.5 0.0,15.5 0.0,14.5 0.0,13.5 0.0,12.5 0.0,11.5 0.0,10.5 0.0,9.5 0.0,8.5 0.0,7.5 0.0,6.5 0.0,5.5 0.0,4.5 0.0,3.5 0.5,3.5 1.5,3.7 2.5,4.0 3.5,4.3 4.1,4.5 4.5,4.6 5.5,4.9 6.5,5.2 7.4,5.5 7.5,5.5 8.5,5.8 9.5,6.1 10.5,6.4 10.9,6.5 11.5,6.6 12.5,6.9 13.5,7.2 14.5,7.5 14.5,7.5 15.5,7.8 16.5,8.2 17.1,8.5 17.5,8.7 18.5,9.1 19.2,9.5 19.5,9.7 20.5,10.2 21.0,10.5 21.5,10.8 22.5,11.5 22.5,11.5 23.5,12.3 23.7,12.5 24.5,13.2 24.8,13.5 25.5,14.1 26.0,14.5 26.5,14.9 27.3,15.5 27.5,15.7 28.5,16.4 28.7,16.5 29.5,17.1 30.2,17.5 30.5,17.7 31.5,18.4 31.6,18.5 32.5,19.2 32.8,19.5 33.5,20.2 33.7,20.5 34.5,21.4 34.6,21.5 35.5,22.5 35.5,22.5 36.4,23.5 36.5,23.5 37.5,24.4 37.6,24.5 38.5,25.1 39.1,25.5 39.5,25.8 40.5,26.5 40.5,26.5 41.5,27.1 42.1,27.5 42.5,27.7 43.5,28.3 43.9,28.5 44.5,28.8 45.5,29.4 45.6,29.5 46.5,30.1 47.2,30.5 47.5,30.7 48.5,31.4 48.7,31.5 49.5,32.0 50.3,32.5 50.5,32.6 51.5,33.2 51.9,33.5 52.5,33.9 53.4,34.5 53.5,34.6 54.5,35.2 54.9,35.5 55.5,35.9 56.5,36.5 56.5,36.5 57.5,37.1 58.2,37.5 58.5,37.7 59.5,38.3 59.8,38.5 60.5,39.1 61.0,39.5 61.5,40.1 61.9,40.5 62.5,41.2 62.7,41.5 63.5,42.5 63.5,42.5 64.4,43.5 64.5,43.6 65.5,44.5 65.5,44.5 66.5,45.3 67.0,45.5 67.5,45.7 68.5,45.9 69.5,45.7 70.0,45.5 70.5,45.1 71.0,44.5 71.3,43.5 71.3,42.5 71.1,41.5 70.5,40.6 70.5,40.5 69.8,39.5 69.5,39.1 69.1,38.5 68.5,37.6 68.4,37.5 68.0,36.5 67.9,35.5 68.5,35.0 69.5,34.8 70.5,34.9 71.5,35.0 72.5,35.1 73.5,35.2 74.5,35.3 75.5,35.4 76.5,35.5 76.8,35.5 77.5,35.5 78.0,35.5 78.5,35.5 79.5,35.2 80.5,34.8 81.4,34.5 81.5,34.5 82.5,34.1 83.5,34.0 84.5,33.9 85.5,33.9 86.5,33.9 87.5,33.9 88.5,33.7 89.4,33.5 89.5,33.4 90.5,32.8 91.1,32.5 91.5,31.9 92.1,31.5 92.3,30.5 92.0,29.5 91.5,28.5 91.5,28.4 91.1,27.5 90.5,26.6 90.5,26.5 89.6,25.5 89.5,25.4 88.5,24.7 88.2,24.5 87.5,24.1 86.5,23.8 85.5,23.7 84.5,23.5 84.3,23.5 83.5,23.4 82.5,23.3 81.5,23.0 80.5,22.5 80.5,22.5 79.6,21.5 79.5,21.4 79.0,20.5 78.6,19.5 78.5,19.2 78.3,18.5 78.1,17.5 77.8,16.5 77.5,15.7 77.4,15.5 76.8,14.5 76.5,14.1 75.8,13.5 75.5,13.2 74.5,12.6 74.4,12.5 73.5,11.8 73.1,11.5 72.5,11.0 71.8,10.5 71.5,10.2 70.6,9.5 70.5,9.4 69.5,8.6 69.4,8.5 68.5,7.7 68.3,7.5 67.5,6.7 67.3,6.5 66.5,5.6 66.4,5.5 65.5,4.7 65.3,4.5 64.5,3.9 63.7,3.5 63.5,3.4 62.5,3.1 61.5,2.9 60.5,2.9 59.5,2.8 58.5,2.6 58.1,2.5 57.5,2.3 56.5,1.9 55.7,1.5 55.5,1.4 54.5,0.6 54.4,0.5 54.4,0.0ZM0.5,97.5 1.0,98.5 1.5,99.1 1.8,99.5 2.5,100.1 3.2,100.5 3.5,100.6 4.5,101.1 5.5,101.5 5.5,101.5 6.5,101.9 7.5,102.3 8.0,102.5 8.5,102.7 9.5,103.1 10.4,103.5 10.5,103.5 11.5,104.0 12.5,104.4 12.9,104.5 13.5,104.8 14.5,105.2 15.3,105.5 15.5,105.6 16.5,106.0 17.5,106.4 17.8,106.5 18.5,106.8 19.5,107.2 20.2,107.5 20.5,107.6 21.5,108.0 22.5,108.4 22.7,108.5 23.5,108.8 24.5,109.2 25.2,109.5 25.5,109.6 26.5,110.0 27.5,110.4 27.7,110.5 28.5,110.9 29.5,111.3 30.0,111.5 30.5,111.8 31.5,112.3 31.7,112.5 32.5,113.3 32.6,113.5 33.0,114.5 33.1,115.5 33.1,116.5 33.1,117.5 33.0,118.5 33.0,119.5 33.0,120.5 32.9,121.5 32.8,122.5 32.7,123.5 32.6,124.5 32.5,125.5 32.5,125.5 32.4,126.5 32.3,127.5 32.0,128.5 31.6,129.5 31.5,129.6 31.0,130.5 30.5,131.4 30.4,131.5 29.9,132.5 29.5,133.1 29.2,133.5 28.5,134.1 27.8,134.5 27.5,134.6 26.5,134.8 25.5,134.9 24.5,134.9 23.5,134.9 22.5,134.9 21.5,134.9 20.5,134.8 19.5,134.8 18.5,134.8 17.5,134.8 16.5,134.8 15.5,134.8 14.5,134.8 13.5,134.8 12.5,134.7 11.5,134.7 10.5,134.7 9.5,134.7 8.5,134.7 7.5,134.7 6.5,134.8 5.5,134.8 4.5,134.8 3.5,134.8 2.5,134.8 1.5,134.8 0.5,134.8 0.0,134.8 0.0,134.5 0.0,133.5 0.0,132.5 0.0,131.5 0.0,130.5 0.0,129.5 0.0,128.5 0.0,127.5 0.0,126.5 0.0,125.5 0.0,124.5 0.0,123.5 0.0,122.5 0.0,121.5 0.0,120.5 0.0,119.5 0.0,118.5 0.0,117.5 0.0,116.5 0.0,115.5 0.0,114.5 0.0,113.5 0.0,112.5 0.0,111.5 0.0,110.5 0.0,109.5 0.0,108.5 0.0,107.5 0.0,106.5 0.0,105.5 0.0,104.5 0.0,103.5 0.0,102.5 0.0,101.5 0.0,100.5 0.0,99.5 0.0,98.5 0.0,97.5Z"/>
<path fill="#00dbff" d="M60.5,0.0 61.5,0.0 62.5,0.0 63.5,0.0 64.5,0.0 65.5,0.0 66.5,0.0 67.5,0.0 68.5,0.0 69.5,0.0 70.5,0.0 71.5,0.0 72.5,0.0 73.5,0.0 74.5,0.0 75.5,0.0 76.5,0.0 77.5,0.0 78.5,0.0 79.5,0.0 80.5,0.0 81.5,0.0 82.5,0.0 83.5,0.0 84.5,0.0 85.5,0.0 86.5,0.0 87.5,0.0 88.5,0.0 89.5,0.0 90.5,0.0 91.5,0.0 92.5,0.0 93.5,0.0 94.5,0.0 95.5,0.0 96.5,0.0 97.5,0.0 98.5,0.0 99.5,0.0 100.5,0.0 101.5,0.0 102.5,0.0 103.5,0.0 104.5,0.0 105.5,0.0 106.5,0.0 107.5,0.0 108.5,0.0 109.5,0.0 110.5,0.0 111.5,0.0 112.5,0.0 113.5,0.0 114.5,0.0 115.5,0.0 116.5,0.0 117.5,0.0 118.5,0.0 119.5,0.0 120.5,0.0 121.5,0.0 122.5,0.0 123.5,0.0 124.5,0.0 125.5,0.0 126.5,0.0 127.5,0.0 128.5,0.0 129.5,0.0 130.5,0.0 131.5,0.0 132.5,0.0 133.5,0.0 134.5,0.0 135.5,0.0 136.5,0.0 137.5,0.0 138.5,0.0 139.5,0.0 140.5,0.0 141.5,0.0 142.5,0.0 143.0,0.0 143.0,0.5 143.0,1.5 143.0,2.5 143.0,3.5 143.0,4.5 143.0,5.5 143.0,6.5 143.0,7.5 143.0,8.5 143.0,9.5 143.0,10.5 143.0,11.5 143.0,12.5 143.0,13.5 143.0,14.5 143.0,15.5 143.0,16.5 143.0,17.5 143.0,18.5 143.0,19.5 143.0,20.5 143.0,21.5 143.0,22.3 142.5,22.3 141.5,21.8 140.9,21.5 140.5,21.3 139.5,20.7 139.3,20.5 138.5,19.6 138.4,19.5 138.1,18.5 137.7,17.5 137.5,17.2 137.2,16.5 136.6,15.5 136.5,15.4 135.8,14.5 135.5,14.2 134.8,13.5 134.5,13.0 134.3,12.5 134.3,11.5 134.4,10.5 134.4,9.5 134.2,8.5 133.9,7.5 133.5,6.7 133.4,6.5 132.6,5.5 132.5,5.4 131.5,4.5 131.4,4.5 130.5,3.9 129.5,3.6 128.5,3.5 128.4,3.5 127.5,3.4 126.5,3.4 125.5,3.4 124.5,3.3 123.5,3.3 122.5,3.3 121.5,3.3 120.5,3.3 119.5,3.2 118.5,3.2 117.5,3.2 116.5,3.2 115.5,3.2 114.5,3.2 113.5,3.2 112.5,3.5 112.4,3.5 111.5,3.8 110.5,4.3 110.3,4.5 109.5,5.1 109.2,5.5 108.5,6.5 108.5,6.5 108.0,7.5 107.7,8.5 107.6,9.5 107.7,10.5 107.9,11.5 108.3,12.5 108.5,12.9 108.8,13.5 109.5,14.5 109.5,14.5 110.3,15.5 109.5,16.1 108.5,16.2 107.5,16.1 106.5,16.1 105.5,16.1 104.5,16.2 103.5,16.3 102.9,16.5 102.5,16.6 101.5,16.9 100.5,17.3 100.2,17.5 99.5,17.9 98.7,18.5 98.5,18.6 97.6,19.5 97.5,19.6 96.7,20.5 96.5,20.7 95.8,21.5 95.5,21.9 95.0,22.5 94.5,23.2 94.2,23.5 93.5,24.4 93.3,24.5 92.5,24.8 91.7,24.5 91.5,24.4 90.5,23.8 90.0,23.5 89.5,23.3 88.5,22.9 87.5,22.6 87.0,22.5 86.5,22.4 85.5,22.3 84.5,22.2 83.5,22.1 82.5,22.0 81.5,21.8 81.0,21.5 80.5,21.2 79.8,20.5 79.5,20.0 79.3,19.5 78.9,18.5 78.6,17.5 78.5,17.2 78.3,16.5 78.0,15.5 77.6,14.5 77.5,14.2 77.1,13.5 76.5,12.7 76.3,12.5 75.5,11.8 75.1,11.5 74.5,11.0 73.7,10.5 73.5,10.3 72.5,9.5 72.5,9.5 71.5,8.6 71.3,8.5 70.5,7.8 70.2,7.5 69.5,6.9 69.1,6.5 68.5,5.9 68.1,5.5 67.5,4.9 67.1,4.5 66.5,3.9 66.0,3.5 65.5,3.1 64.5,2.5 64.4,2.5 63.5,2.0 62.5,1.7 61.5,1.5 61.4,1.5 60.5,1.0 59.5,0.5 59.5,0.0ZM0.5,4.4 1.0,4.5 1.5,4.6 2.5,4.9 3.5,5.2 4.3,5.5 4.5,5.6 5.5,5.9 6.5,6.2 7.3,6.5 7.5,6.6 8.5,6.9 9.5,7.2 10.3,7.5 10.5,7.6 11.5,7.9 12.5,8.2 13.3,8.5 13.5,8.6 14.5,9.0 15.5,9.3 15.9,9.5 16.5,9.8 17.5,10.2 18.1,10.5 18.5,10.7 19.5,11.3 19.9,11.5 20.5,11.8 21.5,12.4 21.6,12.5 22.5,13.1 23.0,13.5 23.5,13.9 24.2,14.5 24.5,14.7 25.5,15.5 25.5,15.5 26.5,16.2 26.9,16.5 27.5,16.9 28.3,17.5 28.5,17.6 29.5,18.3 29.8,18.5 30.5,18.9 31.3,19.5 31.5,19.7 32.5,20.5 32.5,20.5 33.5,21.5 33.5,21.5 34.5,22.5 34.5,22.5 35.5,23.4 35.6,23.5 36.5,24.3 36.8,24.5 37.5,25.0 38.1,25.5 38.5,25.7 39.5,26.4 39.6,26.5 40.5,27.1 41.2,27.5 41.5,27.7 42.5,28.2 43.0,28.5 43.5,28.8 44.5,29.4 44.7,29.5 45.5,30.1 46.2,30.5 46.5,30.7 47.5,31.4 47.7,31.5 48.5,32.0 49.3,32.5 49.5,32.6 50.5,33.2 51.0,33.5 51.5,33.8 52.5,34.4 52.6,34.5 53.5,35.1 54.2,35.5 54.5,35.7 55.5,36.3 55.8,36.5 56.5,36.9 57.5,37.5 57.6,37.5 58.5,38.1 59.2,38.5 59.5,38.7 60.4,39.5 60.5,39.6 61.4,40.5 61.5,40.6 62.2,41.5 62.5,41.9 63.0,42.5 63.5,43.1 63.8,43.5 64.5,44.2 64.8,44.5 65.5,45.1 66.1,45.5 66.5,45.8 67.5,46.2 68.5,46.4 69.5,46.4 70.5,46.2 71.5,45.6 71.6,45.5 72.3,44.5 72.5,43.5 72.5,42.5 72.3,41.5 71.9,40.5 71.5,39.9 71.3,39.5 70.7,38.5 70.5,37.9 70.4,37.5 70.5,37.3 71.5,37.0 72.5,37.0 73.5,37.1 74.5,37.2 75.5,37.3 76.5,37.4 77.5,37.2 78.5,36.8 78.8,36.5 79.5,36.1 80.5,35.5 80.5,35.5 81.5,35.0 82.5,34.6 83.2,34.5 83.5,34.4 84.5,34.3 85.5,34.4 86.5,34.4 87.5,34.4 88.5,34.3 89.5,34.1 90.5,33.9 91.5,33.8 92.5,34.0 93.3,34.5 93.5,34.6 94.5,35.1 95.3,35.5 95.5,35.6 96.5,35.9 97.5,36.2 98.1,36.5 98.5,36.6 99.5,37.0 100.5,37.4 100.6,37.5 101.5,37.8 102.5,38.1 103.5,38.5 103.5,38.5 104.5,38.8 105.5,39.0 106.5,39.4 106.8,39.5 107.5,39.7 108.5,40.0 109.5,40.3 110.1,40.5 110.5,40.6 111.5,40.9 112.5,41.2 113.4,41.5 113.5,41.5 114.5,41.8 115.5,42.1 116.5,42.4 116.8,42.5 117.5,42.7 118.5,43.0 119.5,43.3 120.1,43.5 120.5,43.6 121.5,43.9 122.5,44.2 123.4,44.5 123.5,44.5 124.5,44.8 125.5,45.1 126.5,45.4 126.7,45.5 127.5,45.7 128.5,46.0 129.5,46.3 130.0,46.5 130.5,46.6 131.5,46.9 132.5,47.1 133.5,47.2 134.5,47.3 135.5,47.4 136.5,47.3 137.5,47.1 138.5,46.9 139.5,46.5 139.5,46.5 140.5,45.7 140.7,45.5 141.5,44.7 141.7,44.5 142.5,43.9 143.0,43.9 143.0,44.5 143.0,45.5 143.0,46.5 143.0,47.5 143.0,48.5 143.0,49.5 143.0,50.5 143.0,51.5 143.0,52.5 143.0,53.5 143.0,54.5 143.0,55.5 143.0,56.5 143.0,57.5 143.0,58.5 143.0,59.5 143.0,60.5 143.0,61.5 143.0,62.5 143.0,63.5 143.0,64.5 143.0,65.5 143.0,66.5 143.0,67.5 143.0,68.5 143.0,69.5 143.0,70.5 143.0,71.5 143.0,72.5 143.0,73.5 143.0,74.5 143.0,75.5 143.0,76.5 143.0,77.5 143.0,78.5 143.0,79.5 143.0,80.5 143.0,81.0 142.5,81.0 141.5,80.7 140.7,80.5 140.5,80.4 139.5,80.1 138.5,79.8 137.6,79.5 137.5,79.5 136.5,79.1 135.5,78.8 134.6,78.5 134.5,78.5 133.5,78.1 132.5,77.8 131.8,77.5 131.5,77.4 130.5,77.0 129.5,76.6 129.3,76.5 128.5,76.2 127.5,75.8 126.5,75.5 126.4,75.5 125.5,75.2 124.5,75.0 123.5,74.6 123.1,74.5 122.5,74.3 121.5,73.8 121.0,73.5 120.5,73.2 119.5,72.5 119.5,72.5 118.5,71.7 118.2,71.5 117.5,70.9 116.7,70.5 116.5,70.3 115.5,69.7 114.9,69.5 114.5,69.3 113.5,68.8 112.8,68.5 112.5,68.3 111.5,67.8 110.9,67.5 110.5,67.3 109.5,66.7 109.2,66.5 108.5,66.0 107.5,65.5 107.5,65.5 106.5,64.9 105.5,64.5 105.4,64.5 104.5,64.0 103.5,63.6 103.2,63.5 102.5,63.2 101.5,62.7 101.0,62.5 100.5,62.3 99.5,61.9 98.5,61.5 98.5,61.5 97.5,61.1 96.5,60.8 95.5,60.6 94.9,60.5 94.5,60.4 93.5,60.4 93.1,60.5 92.5,60.6 91.5,61.0 90.7,61.5 90.5,61.7 89.8,62.5 89.5,63.3 89.4,63.5 89.0,64.5 88.9,65.5 89.0,66.5 89.3,67.5 89.5,67.8 89.8,68.5 90.5,69.4 90.6,69.5 91.5,70.4 91.6,70.5 92.5,71.2 92.9,71.5 93.5,72.0 94.3,72.5 94.5,72.7 95.5,73.4 95.6,73.5 96.5,74.2 96.8,74.5 97.5,75.1 97.9,75.5 98.5,76.1 99.0,76.5 99.5,76.9 100.5,77.5 100.5,77.5 101.5,78.1 102.5,78.5 102.5,78.5 103.5,79.0 104.5,79.4 104.8,79.5 105.5,79.9 106.5,80.4 106.7,80.5 107.5,81.0 108.5,81.5 108.6,81.5 109.5,82.1 110.3,82.5 110.5,82.6 111.5,83.2 112.1,83.5 112.5,83.8 113.5,84.4 113.8,84.5 114.5,85.0 115.3,85.5 115.5,85.7 116.5,86.5 116.5,86.5 116.9,87.5 116.5,88.1 116.3,88.5 115.5,89.5 115.5,89.5 115.0,90.5 114.7,91.5 114.5,92.3 114.5,92.5 114.3,93.5 114.3,94.5 114.3,95.5 114.4,96.5 114.5,96.8 114.6,97.5 114.9,98.5 115.3,99.5 115.5,99.9 115.7,100.5 116.2,101.5 116.5,102.2 116.6,102.5 117.0,103.5 117.5,104.5 117.5,104.5 117.9,105.5 118.3,106.5 118.5,106.9 118.8,107.5 119.2,108.5 119.5,109.2 119.6,109.5 120.0,110.5 120.5,111.5 120.5,111.6 120.9,112.5 121.3,113.5 121.5,113.9 121.8,114.5 122.5,115.4 122.6,115.5 123.5,116.1 124.2,116.5 124.5,116.6 125.5,116.9 126.5,117.1 127.5,117.2 128.5,117.3 129.5,117.3 130.5,117.2 131.5,117.2 132.5,117.3 133.5,117.5 133.6,117.5 134.5,117.9 135.5,118.5 135.5,118.5 136.5,119.3 136.8,119.5 137.5,120.1 138.2,120.5 138.5,120.7 139.5,121.3 139.9,121.5 140.5,121.8 141.5,122.2 142.5,122.4 143.0,122.4 143.0,122.5 143.0,123.5 143.0,124.5 143.0,125.5 143.0,126.5 143.0,127.5 143.0,128.5 143.0,129.5 143.0,130.5 143.0,131.5 143.0,132.5 143.0,133.5 143.0,134.5 143.0,135.5 143.0,136.5 143.0,137.5 143.0,138.5 143.0,139.5 143.0,140.5 143.0,141.1 142.5,141.1 141.5,140.8 140.8,140.5 140.5,140.4 139.5,140.0 138.5,139.5 138.4,139.5 137.5,139.1 136.5,138.7 136.1,138.5 135.5,138.3 134.5,137.8 133.8,137.5 133.5,137.4 132.5,136.9 131.7,136.5 131.5,136.4 130.5,135.8 130.0,135.5 129.5,135.2 128.5,134.7 128.0,134.5 127.5,134.3 126.5,133.9 125.5,133.5 125.4,133.5 124.5,133.2 123.5,133.0 122.5,132.8 121.5,132.8 120.5,132.8 119.5,132.9 118.5,132.9 117.5,133.1 116.5,133.5 116.5,133.5 115.5,133.9 114.5,134.2 113.5,134.5 113.5,134.5 112.5,134.8 111.5,135.1 110.6,135.5 110.5,135.6 109.6,136.5 109.5,136.8 109.3,137.5 109.5,138.5 109.5,138.6 109.8,139.5 110.3,140.5 110.5,141.0 110.8,141.5 111.2,142.5 111.2,143.0 110.5,143.0 109.5,143.0 108.5,143.0 107.5,143.0 106.5,143.0 105.5,143.0 104.5,143.0 103.5,143.0 102.5,143.0 101.5,143.0 100.5,143.0 99.5,143.0 98.5,143.0 97.5,143.0 96.5,143.0 95.5,143.0 94.5,143.0 93.5,143.0 92.5,143.0 91.5,143.0 90.5,143.0 89.5,143.0 88.5,143.0 87.5,143.0 86.5,143.0 85.5,143.0 84.5,143.0 83.5,143.0 82.5,143.0 81.5,143.0 80.5,143.0 79.5,143.0 78.5,143.0 77.5,143.0 76.5,143.0 75.5,143.0 74.5,143.0 73.5,143.0 72.5,143.0 71.5,143.0 70.5,143.0 69.5,143.0 68.5,143.0 67.5,143.0 66.5,143.0 65.5,143.0 65.4,143.0 65.4,142.5 64.7,141.5 64.5,141.3 63.7,140.5 63.5,140.3 62.6,139.5 62.5,139.4 61.5,138.6 61.4,138.5 60.5,137.7 60.3,137.5 59.5,136.7 59.3,136.5 58.5,135.6 58.4,135.5 57.6,134.5 57.5,134.4 56.8,133.5 56.5,133.0 56.1,132.5 55.5,131.5 55.5,131.4 55.3,130.5 55.5,130.1 56.0,129.5 56.5,129.2 57.5,128.6 57.7,128.5 58.5,128.0 59.1,127.5 59.5,127.2 60.2,126.5 60.5,126.2 61.1,125.5 61.5,124.9 61.8,124.5 62.3,123.5 62.5,122.7 62.6,122.5 62.7,121.5 62.6,120.5 62.5,120.2 62.3,119.5 61.7,118.5 61.5,118.2 60.9,117.5 60.5,117.0 60.1,116.5 59.5,115.9 59.2,115.5 58.5,114.8 58.3,114.5 57.5,113.7 57.3,113.5 56.5,112.6 56.4,112.5 55.5,111.5 55.5,111.5 54.5,110.5 54.5,110.5 53.5,109.6 53.4,109.5 52.5,108.8 52.2,108.5 51.5,108.0 50.9,107.5 50.5,107.2 49.5,106.5 49.5,106.5 48.5,106.1 47.5,105.6 47.1,105.5 46.5,105.4 45.5,105.2 44.5,105.0 43.5,104.9 42.5,104.8 41.5,104.5 41.4,104.5 40.5,104.2 39.5,103.8 38.5,103.6 38.2,103.5 37.5,103.2 36.5,102.9 35.5,102.5 35.4,102.5 34.5,102.1 33.5,101.7 32.9,101.5 32.5,101.3 31.5,100.9 30.5,100.5 30.4,100.5 29.5,100.0 28.5,99.7 28.0,99.5 27.5,99.3 26.5,98.8 25.5,98.5 25.5,98.5 24.5,98.0 23.5,97.6 23.1,97.5 22.5,97.2 21.5,96.8 20.7,96.5 20.5,96.4 19.5,95.9 18.5,95.6 18.2,95.5 17.5,95.1 16.5,94.7 15.8,94.5 15.5,94.3 14.5,93.9 13.5,93.6 13.3,93.5 12.5,93.1 11.5,92.7 10.9,92.5 10.5,92.3 9.5,91.8 8.5,91.5 8.4,91.5 7.5,91.0 6.5,90.7 5.5,90.6 4.5,90.6 3.5,90.8 2.5,91.1 1.9,91.5 1.5,91.7 0.6,92.5 0.5,92.6 0.0,92.6 0.0,92.5 0.0,91.5 0.0,90.5 0.0,89.5 0.0,88.5 0.0,87.5 0.0,86.5 0.0,85.5 0.0,84.5 0.0,83.5 0.0,82.5 0.0,81.5 0.0,80.5 0.0,79.5 0.0,78.5 0.0,77.5 0.0,76.5 0.0,75.5 0.0,74.5 0.0,74.2 0.5,74.2 1.5,74.3 2.5,74.4 3.4,74.5 3.5,74.5 4.5,74.7 5.5,74.9 6.5,75.2 7.2,75.5 7.5,75.6 8.5,76.0 9.5,76.4 9.6,76.5 10.5,76.9 11.5,77.4 11.8,77.5 12.5,77.8 13.5,78.3 13.8,78.5 14.5,78.8 15.5,79.2 16.2,79.5 16.5,79.6 17.5,80.0 18.5,80.4 18.7,80.5 19.5,80.8 20.5,81.2 21.2,81.5 21.5,81.6 22.5,82.0 23.5,82.4 23.6,82.5 24.5,82.8 25.5,83.3 26.0,83.5 26.5,83.7 27.5,84.1 28.4,84.5 28.5,84.5 29.5,84.9 30.5,85.3 30.9,85.5 31.5,85.8 32.5,86.2 33.2,86.5 33.5,86.6 34.5,87.0 35.5,87.4 35.6,87.5 36.5,87.8 37.5,88.3 38.0,88.5 38.5,88.7 39.5,89.1 40.4,89.5 40.5,89.5 41.5,89.9 42.5,90.4 42.8,90.5 43.5,90.8 44.5,91.2 45.2,91.5 45.5,91.6 46.5,92.0 47.5,92.5 47.5,92.5 48.5,93.0 49.5,93.5 49.5,93.5 50.5,94.0 51.4,94.5 51.5,94.5 52.5,95.0 53.5,95.5 53.6,95.5 54.5,95.8 55.5,96.1 56.5,96.3 57.0,96.5 57.5,96.6 58.5,97.0 59.5,97.4 59.7,97.5 60.5,97.8 61.5,98.3 61.9,98.5 62.5,98.7 63.5,99.1 64.3,99.5 64.5,99.6 65.5,100.0 66.5,100.4 66.8,100.5 67.5,100.8 68.5,101.2 69.3,101.5 69.5,101.6 70.5,102.0 71.5,102.4 71.7,102.5 72.5,102.8 73.5,103.2 74.5,103.5 74.5,103.5 75.5,103.7 76.5,103.9 77.5,104.1 78.5,104.2 79.5,104.3 80.3,104.5 80.5,104.5 81.5,104.8 82.5,105.1 83.5,105.5 83.6,105.5 84.5,105.8 85.5,106.2 86.4,106.5 86.5,106.5 87.5,106.9 88.5,107.2 89.3,107.5 89.5,107.6 90.5,107.9 91.5,108.3 92.1,108.5 92.5,108.6 93.5,109.0 94.5,109.3 95.0,109.5 95.5,109.7 96.5,110.0 97.5,110.4 97.8,110.5 98.5,110.8 99.5,111.2 100.3,111.5 100.5,111.6 101.5,112.0 102.5,112.3 103.3,112.5 103.5,112.6 104.5,112.8 105.5,113.1 106.3,113.5 106.5,113.6 107.5,114.0 108.5,114.5 108.6,114.5 109.5,114.8 110.5,114.8 111.5,114.6 111.7,114.5 112.5,113.8 112.7,113.5 112.9,112.5 112.8,111.5 112.5,110.8 112.4,110.5 111.5,109.5 111.5,109.5 110.5,108.7 110.3,108.5 109.5,107.9 109.1,107.5 108.5,107.0 108.1,106.5 107.5,105.9 107.2,105.5 106.5,104.8 106.1,104.5 105.5,104.0 104.6,103.5 104.5,103.4 103.5,102.9 102.5,102.5 102.5,102.5 101.5,102.0 100.5,101.6 100.3,101.5 99.5,101.1 98.5,100.6 98.2,100.5 97.5,100.2 96.5,99.7 96.0,99.5 95.5,99.3 94.5,98.8 93.8,98.5 93.5,98.4 92.5,97.9 91.6,97.5 91.5,97.4 90.5,97.0 89.5,96.5 89.4,96.5 88.5,96.1 87.5,95.6 87.2,95.5 86.5,95.1 85.5,94.6 85.2,94.5 84.5,94.1 83.5,93.5 83.5,93.5 82.5,92.9 81.9,92.5 81.5,92.2 80.5,91.7 80.1,91.5 79.5,91.2 78.5,90.8 77.7,90.5 77.5,90.4 76.5,90.0 75.5,89.6 75.4,89.5 74.5,89.0 73.5,88.5 73.4,88.5 72.5,87.9 71.7,87.5 71.5,87.4 70.5,86.7 70.3,86.5 69.5,85.5 69.5,85.5 69.2,84.5 69.1,83.5 68.9,82.5 68.7,81.5 68.5,81.0 68.3,80.5 67.9,79.5 67.5,78.9 67.2,78.5 66.5,77.7 66.3,77.5 65.5,76.8 65.1,76.5 64.5,76.1 63.5,75.6 63.1,75.5 62.5,75.2 61.5,74.9 60.5,74.6 59.9,74.5 59.5,74.4 58.5,74.1 57.5,73.8 56.5,73.5 56.4,73.5 55.5,73.2 54.5,72.9 53.5,72.6 52.9,72.5 52.5,72.4 51.5,72.0 50.5,71.7 49.6,71.5 49.5,71.5 48.5,71.1 47.5,70.8 46.5,70.5 46.4,70.5 45.5,70.2 44.5,69.9 43.5,69.6 43.0,69.5 42.5,69.3 41.5,69.0 40.5,68.7 39.7,68.5 39.5,68.4 38.5,68.1 37.5,67.8 36.5,67.6 36.3,67.5 35.5,67.2 34.5,66.9 33.5,66.7 32.9,66.5 32.5,66.4 31.5,66.1 30.5,65.8 29.5,65.5 29.4,65.5 28.5,65.2 27.5,64.9 26.5,64.6 25.9,64.5 25.5,64.4 24.5,64.1 23.5,63.8 22.5,63.5 22.3,63.5 21.5,63.3 20.5,63.0 19.5,62.7 18.5,62.5 18.5,62.5 17.5,62.2 16.5,62.0 15.5,61.7 14.5,61.5 14.5,61.5 13.5,61.3 12.5,61.0 11.5,60.8 10.5,60.6 10.3,60.5 9.5,60.3 8.5,60.1 7.5,59.9 6.5,59.8 5.5,59.8 4.5,59.8 3.5,60.0 2.5,60.2 1.6,60.5 1.5,60.5 0.5,60.8 0.0,60.8 0.0,60.5 0.0,59.5 0.0,58.5 0.0,57.5 0.0,56.5 0.0,55.5 0.0,54.5 0.0,53.5 0.0,52.5 0.0,51.5 0.0,50.5 0.0,49.5 0.0,48.5 0.0,47.5 0.0,46.5 0.0,45.5 0.0,44.5 0.0,43.5 0.0,42.5 0.0,41.5 0.0,40.5 0.0,39.5 0.0,38.5 0.0,37.5 0.0,36.5 0.0,35.5 0.0,34.5 0.0,33.5 0.0,32.5 0.0,31.5 0.0,30.5 0.0,29.5 0.0,28.5 0.0,27.5 0.0,26.5 0.0,25.5 0.0,24.5 0.0,23.5 0.0,22.5 0.0,21.5 0.0,20.5 0.0,19.5 0.0,18.5 0.0,17.5 0.0,16.5 0.0,15.5 0.0,14.5 0.0,13.5 0.0,12.5 0.0,11.5 0.0,10.5 0.0,9.5 0.0,8.5 0.0,7.5 0.0,6.5 0.0,5.5 0.0,4.5 0.0,4.4ZM119.5,17.5 120.5,16.8 121.5,16.5 122.5,16.5 123.5,16.9 123.9,17.5 123.5,17.7 122.5,17.9 121.5,17.8 120.5,17.6 119.5,17.5 119.5,17.5ZM0.5,100.3 0.8,100.5 1.5,101.1 2.3,101.5 2.5,101.7 3.5,102.2 4.5,102.5 4.5,102.5 5.5,103.0 6.5,103.4 6.9,103.5 7.5,103.8 8.5,104.2 9.4,104.5 9.5,104.6 10.5,105.0 11.5,105.4 11.8,105.5 12.5,105.8 13.5,106.2 14.3,106.5 14.5,106.6 15.5,107.0 16.5,107.4 16.9,107.5 17.5,107.8 18.5,108.2 19.4,108.5 19.5,108.5 20.5,109.0 21.5,109.3 22.1,109.5 22.5,109.7 23.5,110.1 24.5,110.4 24.8,110.5 25.5,110.8 26.5,111.2 27.3,111.5 27.5,111.6 28.5,112.1 29.4,112.5 29.5,112.5 30.5,113.2 30.9,113.5 31.5,114.4 31.6,114.5 31.8,115.5 31.9,116.5 32.0,117.5 32.0,118.5 32.1,119.5 32.1,120.5 32.0,121.5 32.0,122.5 31.9,123.5 31.7,124.5 31.5,125.5 31.5,125.7 31.3,126.5 31.0,127.5 30.6,128.5 30.5,128.7 30.0,129.5 29.5,130.2 29.3,130.5 28.6,131.5 28.5,131.6 27.6,132.5 27.5,132.5 26.5,133.0 25.5,133.3 24.5,133.4 23.5,133.4 22.5,133.4 21.5,133.4 20.5,133.5 19.5,133.5 18.5,133.5 18.4,133.5 17.5,133.5 16.5,133.5 15.5,133.6 14.5,133.6 13.5,133.6 12.5,133.6 11.5,133.7 10.5,133.7 9.5,133.7 8.5,133.8 7.5,133.8 6.5,133.8 5.5,133.8 4.5,133.9 3.5,133.9 2.5,133.9 1.5,134.0 0.5,134.0 0.0,134.0 0.0,133.5 0.0,132.5 0.0,131.5 0.0,130.5 0.0,129.5 0.0,128.5 0.0,127.5 0.0,126.5 0.0,125.5 0.0,124.5 0.0,123.5 0.0,122.5 0.0,121.5 0.0,120.5 0.0,119.5 0.0,118.5 0.0,117.5 0.0,116.5 0.0,115.5 0.0,114.5 0.0,113.5 0.0,112.5 0.0,111.5 0.0,110.5 0.0,109.5 0.0,108.5 0.0,107.5 0.0,106.5 0.0,105.5 0.0,104.5 0.0,103.5 0.0,102.5 0.0,101.5 0.0,100.5 0.0,100.3Z"/>
<path fill="#00ffff" d="M0.5,5.1 1.5,5.4 1.9,5.5 2.5,5.7 3.5,6.0 4.5,6.4 4.8,6.5 5.5,6.7 6.5,7.1 7.5,7.5 7.6,7.5 8.5,7.8 9.5,8.2 10.2,8.5 10.5,8.6 11.5,9.0 12.5,9.5 12.6,9.5 13.5,9.9 14.5,10.4 14.8,10.5 15.5,10.9 16.5,11.4 16.7,11.5 17.5,11.9 18.5,12.5 18.5,12.5 19.5,13.1 20.2,13.5 20.5,13.7 21.5,14.3 21.7,14.5 22.5,15.0 23.2,15.5 23.5,15.7 24.5,16.3 24.7,16.5 25.5,17.0 26.2,17.5 26.5,17.7 27.5,18.3 27.7,18.5 28.5,19.0 29.3,19.5 29.5,19.6 30.5,20.3 30.8,20.5 31.5,21.0 32.1,21.5 32.5,21.8 33.4,22.5 33.5,22.6 34.5,23.4 34.6,23.5 35.5,24.2 35.8,24.5 36.5,25.0 37.2,25.5 37.5,25.7 38.5,26.4 38.7,26.5 39.5,27.0 40.3,27.5 40.5,27.6 41.5,28.2 42.0,28.5 42.5,28.8 43.5,29.4 43.7,29.5 44.5,30.0 45.2,30.5 45.5,30.7 46.5,31.4 46.6,31.5 47.5,32.1 48.2,32.5 48.5,32.7 49.5,33.2 50.0,33.5 50.5,33.8 51.5,34.3 51.7,34.5 52.5,34.9 53.4,35.5 53.5,35.5 54.5,36.1 55.2,36.5 55.5,36.7 56.5,37.2 56.9,37.5 57.5,37.8 58.5,38.4 58.6,38.5 59.5,39.2 59.9,39.5 60.5,40.1 60.9,40.5 61.5,41.2 61.8,41.5 62.5,42.5 62.5,42.5 63.3,43.5 63.5,43.8 64.2,44.5 64.5,44.8 65.3,45.5 65.5,45.6 66.5,46.3 67.1,46.5 67.5,46.7 68.5,47.0 69.5,47.1 70.5,47.2 71.5,47.4 71.7,47.5 72.5,47.7 73.5,48.0 74.5,48.5 74.5,48.5 75.5,48.7 76.5,48.9 77.5,48.9 77.8,48.5 77.8,47.5 77.9,46.5 78.0,45.5 78.3,44.5 78.5,43.9 78.6,43.5 78.8,42.5 78.8,41.5 78.7,40.5 78.6,39.5 78.7,38.5 79.2,37.5 79.5,37.2 80.0,36.5 80.5,36.1 81.4,35.5 81.5,35.5 82.5,35.0 83.5,34.8 84.5,34.7 85.5,34.7 86.5,34.8 87.5,34.8 88.5,34.7 89.5,34.7 90.5,34.6 91.5,34.6 92.5,34.8 93.5,35.2 94.0,35.5 94.5,35.6 95.5,35.9 96.5,36.2 97.2,36.5 97.5,36.6 98.5,36.9 99.5,37.3 99.9,37.5 100.5,37.7 101.5,38.1 102.5,38.5 102.6,38.5 103.5,38.8 104.5,39.0 105.5,39.4 105.8,39.5 106.5,39.7 107.5,40.0 108.5,40.3 109.1,40.5 109.5,40.6 110.5,40.9 111.5,41.2 112.4,41.5 112.5,41.5 113.5,41.8 114.5,42.1 115.5,42.4 115.8,42.5 116.5,42.7 117.5,43.0 118.5,43.3 119.1,43.5 119.5,43.6 120.5,43.9 121.5,44.2 122.4,44.5 122.5,44.5 123.5,44.8 124.5,45.1 125.5,45.4 125.7,45.5 126.5,45.7 127.5,46.0 128.5,46.3 128.9,46.5 129.5,46.6 130.5,46.9 131.5,47.2 132.5,47.5 132.7,47.5 133.5,47.6 134.5,47.7 135.5,47.8 136.5,47.8 137.5,47.8 138.5,47.8 139.5,47.9 140.5,48.0 141.5,48.3 142.3,48.5 142.5,48.5 143.0,48.5 143.0,49.5 143.0,50.5 143.0,51.5 143.0,52.5 143.0,53.5 143.0,54.5 143.0,55.5 143.0,56.5 143.0,57.5 143.0,58.5 143.0,59.5 143.0,60.5 143.0,61.5 143.0,62.5 143.0,63.5 143.0,64.5 143.0,65.5 143.0,66.5 143.0,67.5 143.0,68.5 143.0,69.5 143.0,70.5 143.0,71.5 143.0,72.5 143.0,73.5 143.0,74.5 143.0,75.5 143.0,76.5 143.0,77.5 143.0,78.5 143.0,79.4 142.5,79.4 141.5,79.2 140.5,79.0 139.5,78.8 138.5,78.5 138.5,78.5 137.5,78.3 136.5,78.0 135.5,77.7 134.8,77.5 134.5,77.4 133.5,77.2 132.5,76.8 131.5,76.5 131.5,76.5 130.5,76.2 129.5,75.9 128.5,75.6 128.3,75.5 127.5,75.3 126.5,75.0 125.5,74.7 124.8,74.5 124.5,74.4 123.5,74.1 122.5,73.7 122.1,73.5 121.5,73.2 120.6,72.5 120.5,72.4 119.5,71.5 119.5,71.4 118.8,70.5 118.5,69.6 118.4,69.5 118.1,68.5 117.7,67.5 117.5,67.2 116.5,66.7 116.1,66.5 115.5,66.4 114.5,66.2 113.5,65.9 112.5,65.6 112.1,65.5 111.5,65.4 110.5,65.0 109.7,64.5 109.5,64.4 108.5,63.7 108.3,63.5 107.5,62.9 106.9,62.5 106.5,62.3 105.5,61.9 104.5,61.6 104.2,61.5 103.5,61.4 102.5,61.2 101.5,61.1 100.5,61.0 99.5,60.8 98.5,60.6 98.2,60.5 97.5,60.3 96.5,60.1 95.5,59.8 94.5,59.6 93.7,59.5 93.5,59.5 92.5,59.3 91.5,59.1 90.5,59.0 89.8,59.5 89.5,59.7 88.9,60.5 88.5,60.9 87.8,61.5 87.5,61.7 86.5,62.3 85.5,62.5 85.2,62.5 84.5,62.8 83.5,63.1 82.5,63.3 81.5,63.4 80.5,63.5 80.5,63.5 79.5,63.8 78.5,64.1 77.5,64.3 76.5,64.4 75.9,64.5 75.5,64.6 74.5,65.0 73.5,65.2 72.5,65.4 71.8,65.5 71.5,65.6 70.5,66.0 69.5,66.3 68.5,66.5 68.5,66.5 67.5,67.0 66.5,67.3 66.0,67.5 65.5,67.8 64.5,68.2 63.5,68.5 63.5,68.5 62.5,68.9 61.5,69.2 60.5,69.4 59.7,69.5 59.5,69.6 58.5,69.7 57.5,69.8 56.5,69.8 55.5,69.6 55.2,69.5 54.5,69.4 53.5,69.1 52.5,68.7 52.2,68.5 51.5,68.3 50.5,67.8 49.9,67.5 49.5,67.4 48.5,66.9 47.7,66.5 47.5,66.4 46.5,66.0 45.5,65.5 45.4,65.5 44.5,65.2 43.5,64.8 42.7,64.5 42.5,64.4 41.5,64.2 40.5,63.9 39.5,63.5 39.5,63.5 38.5,63.3 37.5,63.0 36.5,62.7 35.9,62.5 35.5,62.4 34.5,62.2 33.5,62.0 32.5,61.7 31.7,61.5 31.5,61.5 30.5,61.3 29.5,61.2 28.5,61.0 27.5,60.8 26.5,60.7 25.5,60.5 25.4,60.5 24.5,60.4 23.5,60.3 22.5,60.2 21.5,60.1 20.5,60.0 19.5,59.9 18.5,59.7 17.5,59.6 16.8,59.5 16.5,59.5 15.5,59.4 14.5,59.3 13.5,59.1 12.5,59.0 11.5,58.9 10.5,58.7 9.5,58.6 9.0,58.5 8.5,58.4 7.5,58.3 6.5,58.2 5.5,58.2 4.5,58.1 3.5,58.1 2.5,58.1 1.5,58.2 0.5,58.2 0.0,58.2 0.0,57.5 0.0,56.5 0.0,55.5 0.0,54.5 0.0,53.5 0.0,52.5 0.0,51.5 0.0,50.5 0.0,49.5 0.0,48.5 0.0,47.5 0.0,46.5 0.0,45.5 0.0,44.5 0.0,43.5 0.0,42.5 0.0,41.5 0.0,40.5 0.0,39.5 0.0,38.5 0.0,37.5 0.0,36.5 0.0,35.5 0.0,34.5 0.0,33.5 0.0,32.5 0.0,31.5 0.0,30.5 0.0,29.5 0.0,28.5 0.0,27.5 0.0,26.5 0.0,25.5 0.0,24.5 0.0,23.5 0.0,22.5 0.0,21.5 0.0,20.5 0.0,19.5 0.0,18.5 0.0,17.5 0.0,16.5 0.0,15.5 0.0,14.5 0.0,13.5 0.0,12.5 0.0,11.5 0.0,10.5 0.0,9.5 0.0,8.5 0.0,7.5 0.0,6.5 0.0,5.5 0.0,5.1ZM79.5,12.3 80.5,11.8 81.5,11.6 82.5,11.5 83.5,11.5 84.5,11.5 85.5,11.5 86.5,11.5 87.5,11.5 88.5,11.5 89.5,11.5 90.5,11.5 91.5,11.6 92.5,11.8 93.5,12.3 93.8,12.5 94.5,13.1 94.8,13.5 95.4,14.5 95.5,14.9 95.7,15.5 95.7,16.5 95.5,17.4 95.5,17.5 95.1,18.5 94.5,19.3 94.3,19.5 93.5,20.2 93.0,20.5 92.5,20.8 91.5,21.1 90.5,21.1 89.5,21.1 88.5,21.0 87.5,20.9 86.5,20.8 85.5,20.8 84.5,20.8 83.5,20.7 82.5,20.7 81.7,20.5 81.5,20.5 80.5,19.9 80.2,19.5 79.6,18.5 79.5,18.3 79.3,17.5 79.0,16.5 78.8,15.5 78.6,14.5 78.7,13.5 79.3,12.5ZM79.5,74.2 80.5,74.0 81.5,73.8 82.5,73.8 83.5,74.0 84.5,74.2 85.4,74.5 85.5,74.5 86.5,74.9 87.5,75.2 88.2,75.5 88.5,75.6 89.5,75.9 90.5,76.3 90.9,76.5 91.5,76.7 92.5,77.1 93.2,77.5 93.5,77.6 94.5,78.0 95.4,78.5 95.5,78.6 96.5,79.0 97.5,79.5 97.5,79.5 98.5,79.9 99.5,80.4 99.7,80.5 100.5,80.8 101.5,81.3 101.9,81.5 102.5,81.7 103.5,82.2 104.0,82.5 104.5,82.7 105.5,83.2 106.0,83.5 106.5,83.7 107.5,84.3 107.8,84.5 108.5,84.9 109.5,85.5 109.5,85.5 110.5,86.1 111.1,86.5 111.5,86.9 112.1,87.5 112.5,88.0 112.8,88.5 113.1,89.5 113.2,90.5 113.2,91.5 113.2,92.5 113.1,93.5 113.1,94.5 113.1,95.5 113.2,96.5 113.3,97.5 113.5,98.4 113.5,98.5 113.8,99.5 114.1,100.5 114.5,101.4 114.5,101.5 114.9,102.5 115.3,103.5 115.5,104.0 115.7,104.5 116.1,105.5 116.5,106.5 116.5,106.5 116.8,107.5 117.2,108.5 117.5,109.3 117.6,109.5 117.9,110.5 118.2,111.5 118.5,112.2 118.6,112.5 118.9,113.5 119.3,114.5 119.5,115.0 119.7,115.5 120.5,116.5 120.5,116.5 121.5,117.4 121.7,117.5 122.5,117.9 123.5,118.3 124.3,118.5 124.5,118.6 125.5,118.8 126.5,119.0 127.5,119.1 128.5,119.3 129.5,119.5 129.5,119.5 130.5,120.1 131.0,120.5 131.2,121.5 131.0,122.5 130.5,123.3 130.4,123.5 129.5,124.3 129.3,124.5 128.5,125.1 127.9,125.5 128.0,126.5 128.5,126.8 129.3,127.5 129.5,127.6 130.5,128.0 131.2,128.5 131.5,128.6 132.5,128.9 133.5,129.2 134.5,129.5 134.5,129.5 135.5,129.7 136.5,130.1 137.3,130.5 137.5,130.6 138.5,130.9 139.5,131.5 139.5,131.5 140.5,131.8 141.5,132.3 141.9,132.5 142.5,132.6 143.0,132.6 143.0,133.5 143.0,134.5 143.0,135.5 143.0,136.5 143.0,137.5 143.0,138.5 143.0,139.5 143.0,140.5 143.0,140.9 142.5,140.9 141.5,140.5 141.4,140.5 140.5,140.1 139.5,139.7 139.1,139.5 138.5,139.3 137.5,138.8 136.7,138.5 136.5,138.4 135.5,138.0 134.5,137.5 134.4,137.5 133.5,137.1 132.5,136.6 132.3,136.5 131.5,136.0 130.7,135.5 130.5,135.4 129.5,134.8 128.8,134.5 128.5,134.3 127.5,133.9 126.5,133.5 126.5,133.5 125.5,133.1 124.5,132.8 123.5,132.6 123.0,132.5 122.5,132.4 121.5,132.3 120.5,132.3 119.5,132.3 118.5,132.2 117.5,132.2 116.5,132.2 115.5,132.4 114.8,132.5 114.5,132.6 113.5,132.8 112.5,133.0 111.5,133.1 110.5,133.2 109.5,133.3 108.5,133.5 108.5,133.5 107.5,134.2 107.3,134.5 106.9,135.5 106.7,136.5 106.8,137.5 107.1,138.5 107.5,139.5 107.5,139.5 108.2,140.5 108.5,141.0 108.8,141.5 109.3,142.5 109.3,143.0 108.5,143.0 107.5,143.0 106.5,143.0 105.5,143.0 104.5,143.0 103.5,143.0 102.5,143.0 101.5,143.0 100.5,143.0 99.5,143.0 98.5,143.0 97.5,143.0 96.5,143.0 95.5,143.0 94.5,143.0 93.5,143.0 92.5,143.0 91.5,143.0 90.5,143.0 89.5,143.0 88.5,143.0 87.5,143.0 86.5,143.0 85.5,143.0 84.5,143.0 83.5,143.0 82.5,143.0 81.5,143.0 80.5,143.0 79.5,143.0 78.5,143.0 77.5,143.0 76.5,143.0 75.5,143.0 74.5,143.0 73.5,143.0 72.5,143.0 71.5,143.0 70.5,143.0 69.5,143.0 68.5,143.0 67.5,143.0 66.5,143.0 66.3,143.0 66.3,142.5 65.6,141.5 65.5,141.4 64.6,140.5 64.5,140.4 63.6,139.5 63.5,139.4 62.5,138.6 62.4,138.5 61.5,137.7 61.3,137.5 60.5,136.7 60.3,136.5 59.5,135.6 59.4,135.5 58.7,134.5 58.5,134.1 58.1,133.5 57.7,132.5 57.5,131.5 57.9,130.5 58.5,129.8 58.8,129.5 59.5,128.9 59.9,128.5 60.5,128.0 61.0,127.5 61.5,127.1 62.1,126.5 62.5,126.1 63.2,125.5 63.5,125.2 64.4,124.5 64.5,124.4 65.5,123.8 66.5,123.6 67.5,123.5 68.5,123.5 69.5,123.6 70.5,123.7 71.5,123.8 72.5,123.9 73.5,124.0 74.5,124.1 75.5,124.2 76.5,124.3 77.5,124.3 78.5,124.4 79.5,124.4 80.5,124.3 81.5,123.5 80.5,122.9 80.1,122.5 79.5,122.3 78.5,121.7 78.1,121.5 77.5,121.2 76.5,120.8 76.0,120.5 75.5,120.3 74.5,119.9 73.9,119.5 73.5,119.3 72.5,118.6 72.3,118.5 71.5,117.8 71.2,117.5 70.5,116.8 70.3,116.5 69.5,115.6 69.4,115.5 68.5,114.7 68.3,114.5 67.5,114.0 66.8,113.5 66.5,113.4 65.5,112.9 64.8,112.5 64.5,112.4 63.5,112.0 62.5,111.5 62.5,111.5 61.5,111.2 60.5,110.7 60.1,110.5 59.5,110.3 58.5,109.9 57.7,109.5 57.5,109.5 56.5,109.2 55.5,108.8 54.9,108.5 54.5,108.4 53.5,108.0 52.8,107.5 52.5,107.3 51.5,106.7 51.2,106.5 50.5,106.1 49.6,105.5 49.5,105.4 48.5,105.0 47.5,104.5 47.4,104.5 46.5,104.2 45.5,103.9 44.6,103.5 44.5,103.5 43.5,103.2 42.5,102.8 41.9,102.5 41.5,102.4 40.5,102.0 39.5,101.5 39.5,101.5 38.5,101.2 37.5,100.7 37.1,100.5 36.5,100.3 35.5,99.9 34.8,99.5 34.5,99.4 33.5,99.0 32.5,98.5 32.5,98.5 31.5,98.2 30.5,97.7 30.2,97.5 29.5,97.3 28.5,96.9 27.9,96.5 27.5,96.4 26.5,96.0 25.6,95.5 25.5,95.5 24.5,95.1 23.5,94.6 23.2,94.5 22.5,94.3 21.5,93.8 20.9,93.5 20.5,93.4 19.5,93.0 18.6,92.5 18.5,92.5 17.5,92.1 16.5,91.6 16.3,91.5 15.5,91.2 14.5,90.8 14.0,90.5 13.5,90.3 12.5,89.9 11.7,89.5 11.5,89.4 10.5,89.1 9.5,88.6 9.4,88.5 8.5,88.2 7.5,87.8 7.0,87.5 6.5,87.3 5.5,86.9 4.7,86.5 4.5,86.4 3.5,86.1 2.5,85.6 2.3,85.5 1.5,85.2 0.5,84.8 0.0,84.8 0.0,84.5 0.0,83.5 0.0,82.5 0.0,81.5 0.0,80.5 0.0,79.5 0.0,78.5 0.0,77.5 0.0,76.5 0.0,75.5 0.0,74.7 0.5,74.7 1.5,74.7 2.5,74.8 3.5,74.9 4.5,75.0 5.5,75.3 6.1,75.5 6.5,75.6 7.5,76.0 8.5,76.4 8.6,76.5 9.5,76.8 10.5,77.3 11.0,77.5 11.5,77.7 12.5,78.2 13.1,78.5 13.5,78.7 14.5,79.1 15.4,79.5 15.5,79.6 16.5,79.9 17.5,80.3 17.9,80.5 18.5,80.7 19.5,81.1 20.4,81.5 20.5,81.6 21.5,82.0 22.5,82.4 22.8,82.5 23.5,82.8 24.5,83.2 25.2,83.5 25.5,83.6 26.5,84.0 27.5,84.5 27.6,84.5 28.5,84.9 29.5,85.3 30.0,85.5 30.5,85.7 31.5,86.1 32.4,86.5 32.5,86.6 33.5,87.0 34.5,87.4 34.8,87.5 35.5,87.8 36.5,88.2 37.1,88.5 37.5,88.7 38.5,89.1 39.5,89.5 39.5,89.5 40.5,89.9 41.5,90.3 41.9,90.5 42.5,90.8 43.5,91.2 44.3,91.5 44.5,91.6 45.5,92.0 46.5,92.5 46.6,92.5 47.5,92.9 48.5,93.4 48.8,93.5 49.5,93.9 50.5,94.4 50.7,94.5 51.5,94.9 52.5,95.4 52.8,95.5 53.5,95.8 54.5,96.1 55.5,96.4 55.9,96.5 56.5,96.6 57.5,96.9 58.5,97.3 59.0,97.5 59.5,97.7 60.5,98.2 61.1,98.5 61.5,98.7 62.5,99.1 63.4,99.5 63.5,99.6 64.5,99.9 65.5,100.4 65.8,100.5 66.5,100.7 67.5,101.1 68.3,101.5 68.5,101.6 69.5,102.0 70.5,102.4 70.8,102.5 71.5,102.8 72.5,103.2 73.3,103.5 73.5,103.6 74.5,103.9 75.5,104.1 76.5,104.3 77.5,104.5 77.5,104.5 78.5,104.7 79.5,104.8 80.5,105.1 81.5,105.4 81.8,105.5 82.5,105.8 83.5,106.1 84.5,106.4 84.6,106.5 85.5,106.8 86.5,107.2 87.5,107.5 87.5,107.5 88.5,107.9 89.5,108.2 90.3,108.5 90.5,108.6 91.5,108.9 92.5,109.3 93.2,109.5 93.5,109.6 94.5,110.0 95.5,110.3 96.0,110.5 96.5,110.7 97.5,111.1 98.5,111.4 98.7,111.5 99.5,111.8 100.5,112.2 101.2,112.5 101.5,112.6 102.5,113.0 103.5,113.3 104.2,113.5 104.5,113.6 105.5,114.0 106.5,114.4 106.6,114.5 107.5,114.9 108.5,115.3 109.1,115.5 109.5,115.6 110.5,115.8 111.5,115.7 112.5,115.5 112.5,115.5 113.5,114.9 113.9,114.5 114.3,113.5 114.4,112.5 114.2,111.5 113.9,110.5 113.5,109.9 113.2,109.5 112.5,108.7 112.3,108.5 111.5,107.8 111.1,107.5 110.5,107.0 109.9,106.5 109.5,106.1 108.8,105.5 108.5,105.2 107.8,104.5 107.5,104.2 106.7,103.5 106.5,103.3 105.5,102.7 105.2,102.5 104.5,102.1 103.5,101.6 103.2,101.5 102.5,101.1 101.5,100.6 101.2,100.5 100.5,100.1 99.5,99.7 99.1,99.5 98.5,99.3 97.5,98.8 96.8,98.5 96.5,98.3 95.5,97.9 94.7,97.5 94.5,97.4 93.5,97.0 92.5,96.5 92.5,96.5 91.5,96.0 90.5,95.6 90.4,95.5 89.5,95.1 88.5,94.6 88.2,94.5 87.5,94.2 86.5,93.7 86.1,93.5 85.5,93.2 84.5,92.7 84.1,92.5 83.5,92.2 82.5,91.6 82.3,91.5 81.5,91.0 80.5,90.5 80.4,90.5 79.5,90.0 78.5,89.6 78.3,89.5 77.5,89.1 76.5,88.5 76.5,88.5 75.5,87.7 75.3,87.5 74.5,86.5 74.5,86.5 73.9,85.5 73.6,84.5 73.5,83.6 73.5,83.5 73.4,82.5 73.5,81.5 73.5,81.3 73.6,80.5 73.9,79.5 74.3,78.5 74.5,78.3 74.9,77.5 75.5,76.8 75.8,76.5 76.5,75.8 77.0,75.5 77.5,75.1 78.5,74.6 78.8,74.5ZM0.5,108.4 1.0,108.5 1.5,108.5 2.5,108.7 3.5,108.8 4.5,108.9 5.5,109.1 6.5,109.3 7.5,109.4 7.9,109.5 8.5,109.6 9.5,109.7 10.5,109.8 11.5,110.0 12.5,110.1 13.5,110.3 14.5,110.5 14.6,110.5 15.5,110.6 16.5,110.7 17.5,110.9 18.5,111.0 19.5,111.2 20.5,111.4 21.0,111.5 21.5,111.6 22.5,111.7 23.5,111.9 24.5,112.1 25.5,112.5 25.5,112.5 26.5,112.9 27.5,113.5 27.5,113.5 28.5,114.2 28.9,114.5 29.5,115.2 29.7,115.5 30.3,116.5 30.5,117.1 30.6,117.5 30.9,118.5 31.0,119.5 31.1,120.5 31.1,121.5 31.1,122.5 30.9,123.5 30.7,124.5 30.5,125.3 30.5,125.5 30.1,126.5 29.5,127.5 29.5,127.5 28.8,128.5 28.5,128.8 27.8,129.5 27.5,129.7 26.5,130.4 26.3,130.5 25.5,130.9 24.5,131.3 23.5,131.4 22.8,131.5 22.5,131.5 21.5,131.6 20.5,131.7 19.5,131.8 18.5,131.9 17.5,132.0 16.5,132.1 15.5,132.2 14.5,132.3 13.5,132.4 12.5,132.4 11.5,132.5 11.5,132.5 10.5,132.6 9.5,132.6 8.5,132.7 7.5,132.8 6.5,132.8 5.5,132.9 4.5,133.0 3.5,133.0 2.5,133.1 1.5,133.1 0.5,133.2 0.0,133.2 0.0,132.5 0.0,131.5 0.0,130.5 0.0,129.5 0.0,128.5 0.0,127.5 0.0,126.5 0.0,125.5 0.0,124.5 0.0,123.5 0.0,122.5 0.0,121.5 0.0,120.5 0.0,119.5 0.0,118.5 0.0,117.5 0.0,116.5 0.0,115.5 0.0,114.5 0.0,113.5 0.0,112.5 0.0,111.5 0.0,110.5 0.0,109.5 0.0,108.5 0.0,108.4Z"/>
<path fill="#24ffdb" d="M0.5,5.9 1.5,6.1 2.5,6.4 2.7,6.5 3.5,6.8 4.5,7.2 5.4,7.5 5.5,7.5 6.5,7.9 7.5,8.4 7.9,8.5 8.5,8.8 9.5,9.2 10.1,9.5 10.5,9.7 11.5,10.2 12.2,10.5 12.5,10.7 13.5,11.2 14.1,11.5 14.5,11.7 15.5,12.3 15.9,12.5 16.5,12.9 17.5,13.5 17.6,13.5 18.5,14.1 19.2,14.5 19.5,14.7 20.5,15.3 20.8,15.5 21.5,15.9 22.4,16.5 22.5,16.5 23.5,17.1 24.0,17.5 24.5,17.8 25.5,18.4 25.6,18.5 26.5,19.0 27.2,19.5 27.5,19.7 28.5,20.3 28.8,20.5 29.5,20.9 30.4,21.5 30.5,21.5 31.5,22.2 31.9,22.5 32.5,22.9 33.4,23.5 33.5,23.6 34.5,24.3 34.7,24.5 35.5,25.0 36.2,25.5 36.5,25.7 37.5,26.4 37.7,26.5 38.5,27.0 39.3,27.5 39.5,27.6 40.5,28.2 41.0,28.5 41.5,28.8 42.5,29.4 42.7,29.5 43.5,30.0 44.3,30.5 44.5,30.7 45.5,31.4 45.6,31.5 46.5,32.2 47.0,32.5 47.5,32.8 48.5,33.4 48.8,33.5 49.5,33.9 50.5,34.4 50.7,34.5 51.5,34.9 52.5,35.4 52.6,35.5 53.5,36.0 54.4,36.5 54.5,36.5 55.5,37.1 56.3,37.5 56.5,37.6 57.5,38.2 58.0,38.5 58.5,38.8 59.4,39.5 59.5,39.6 60.5,40.5 60.5,40.5 61.3,41.5 61.5,41.8 62.1,42.5 62.5,43.1 62.8,43.5 63.5,44.4 63.6,44.5 64.5,45.4 64.7,45.5 65.5,46.1 66.1,46.5 66.5,46.7 67.5,47.1 68.5,47.5 68.6,47.5 69.5,47.7 70.5,48.0 71.5,48.4 71.7,48.5 72.5,48.7 73.5,49.1 74.5,49.5 74.5,49.5 75.5,49.8 76.5,50.0 77.5,50.4 78.1,50.5 78.5,50.6 79.5,50.5 79.6,50.5 79.8,49.5 79.6,48.5 79.5,47.5 79.5,46.5 79.7,45.5 79.9,44.5 80.2,43.5 80.3,42.5 80.0,41.5 79.8,40.5 79.6,39.5 79.7,38.5 80.0,37.5 80.5,36.9 80.8,36.5 81.5,35.9 82.3,35.5 82.5,35.4 83.5,35.1 84.5,35.0 85.5,35.1 86.5,35.1 87.5,35.1 88.5,35.1 89.5,35.1 90.5,35.1 91.5,35.2 92.5,35.4 92.6,35.5 93.5,35.7 94.5,36.0 95.5,36.3 96.1,36.5 96.5,36.6 97.5,36.8 98.5,37.2 99.2,37.5 99.5,37.6 100.5,38.0 101.5,38.4 101.8,38.5 102.5,38.7 103.5,39.0 104.5,39.3 105.0,39.5 105.5,39.6 106.5,39.9 107.5,40.2 108.3,40.5 108.5,40.6 109.5,40.8 110.5,41.1 111.5,41.5 111.6,41.5 112.5,41.7 113.5,42.0 114.5,42.4 114.9,42.5 115.5,42.7 116.5,42.9 117.5,43.2 118.2,43.5 118.5,43.6 119.5,43.9 120.5,44.2 121.5,44.5 121.5,44.5 122.5,44.8 123.5,45.1 124.5,45.4 124.8,45.5 125.5,45.7 126.5,46.0 127.5,46.3 128.1,46.5 128.5,46.6 129.5,46.9 130.5,47.2 131.4,47.5 131.5,47.5 132.5,47.7 133.5,47.9 134.5,48.0 135.5,48.1 136.5,48.2 137.5,48.3 138.5,48.5 138.7,48.5 139.5,48.6 140.5,48.8 141.5,49.1 142.5,49.3 143.0,49.3 143.0,49.5 143.0,50.5 143.0,51.5 143.0,52.5 143.0,53.5 143.0,54.5 143.0,55.5 143.0,56.5 143.0,57.5 143.0,58.5 143.0,59.5 143.0,60.5 143.0,61.5 143.0,62.5 143.0,63.5 143.0,64.5 143.0,65.5 143.0,66.5 143.0,67.5 143.0,68.5 143.0,69.5 143.0,70.5 143.0,71.5 143.0,72.5 143.0,73.5 143.0,74.5 143.0,75.5 143.0,76.5 143.0,77.5 143.0,78.4 142.5,78.4 141.5,78.3 140.5,78.1 139.5,77.9 138.5,77.7 137.8,77.5 137.5,77.4 136.5,77.2 135.5,77.0 134.5,76.6 134.1,76.5 133.5,76.4 132.5,76.1 131.5,75.8 130.5,75.5 130.4,75.5 129.5,75.3 128.5,75.0 127.5,74.7 126.8,74.5 126.5,74.4 125.5,74.2 124.5,73.9 123.5,73.6 123.3,73.5 122.5,73.2 121.5,72.5 121.5,72.5 120.5,71.6 120.4,71.5 119.8,70.5 119.5,69.6 119.5,69.5 119.3,68.5 119.1,67.5 118.8,66.5 118.5,66.2 117.5,65.6 117.1,65.5 116.5,65.3 115.5,65.1 114.5,64.9 113.5,64.6 113.0,64.5 112.5,64.4 111.5,64.1 110.5,63.6 110.4,63.5 109.5,62.9 109.1,62.5 108.5,61.9 108.0,61.5 107.5,61.1 106.5,60.5 106.4,60.5 105.5,60.2 104.5,60.0 103.5,59.8 102.5,59.8 101.5,59.8 100.5,59.8 99.5,59.8 98.5,59.7 97.5,59.6 97.3,59.5 96.5,59.3 95.5,59.1 94.5,58.8 93.7,58.5 93.5,58.4 92.5,58.1 91.5,57.7 91.0,57.5 90.5,57.3 90.2,57.5 89.5,58.0 89.3,58.5 88.8,59.5 88.5,59.9 88.0,60.5 87.5,60.9 86.5,61.4 86.3,61.5 85.5,61.9 84.5,62.1 83.5,62.3 82.5,62.5 82.2,62.5 81.5,62.7 80.5,62.9 79.5,63.1 78.5,63.2 77.5,63.4 76.6,63.5 76.5,63.5 75.5,63.8 74.5,64.0 73.5,64.2 72.5,64.4 71.8,64.5 71.5,64.6 70.5,64.9 69.5,65.1 68.5,65.4 68.0,65.5 67.5,65.7 66.5,66.1 65.5,66.4 65.2,66.5 64.5,66.8 63.5,67.2 62.5,67.5 62.4,67.5 61.5,67.8 60.5,68.1 59.5,68.3 58.5,68.4 57.5,68.4 56.5,68.4 55.5,68.3 54.5,68.0 53.5,67.7 53.2,67.5 52.5,67.3 51.5,66.9 50.8,66.5 50.5,66.4 49.5,66.0 48.6,65.5 48.5,65.5 47.5,65.1 46.5,64.6 46.2,64.5 45.5,64.3 44.5,63.9 43.5,63.5 43.5,63.5 42.5,63.2 41.5,62.9 40.5,62.6 40.3,62.5 39.5,62.3 38.5,62.0 37.5,61.7 36.8,61.5 36.5,61.4 35.5,61.2 34.5,61.0 33.5,60.7 32.9,60.5 32.5,60.4 31.5,60.2 30.5,60.0 29.5,59.8 28.5,59.6 28.1,59.5 27.5,59.4 26.5,59.3 25.5,59.1 24.5,58.9 23.5,58.7 22.5,58.5 22.2,58.5 21.5,58.4 20.5,58.3 19.5,58.3 18.5,58.2 17.5,58.1 16.5,58.0 15.5,57.9 14.5,57.8 13.5,57.7 12.5,57.6 11.9,57.5 11.5,57.5 10.5,57.4 9.5,57.3 8.5,57.2 7.5,57.1 6.5,57.0 5.5,56.9 4.5,56.8 3.5,56.8 2.5,56.7 1.5,56.6 0.5,56.6 0.0,56.6 0.0,56.5 0.0,55.5 0.0,54.5 0.0,53.5 0.0,52.5 0.0,51.5 0.0,50.5 0.0,49.5 0.0,48.5 0.0,47.5 0.0,46.5 0.0,45.5 0.0,44.5 0.0,43.5 0.0,42.5 0.0,41.5 0.0,40.5 0.0,39.5 0.0,38.5 0.0,37.5 0.0,36.5 0.0,35.5 0.0,34.5 0.0,33.5 0.0,32.5 0.0,31.5 0.0,30.5 0.0,29.5 0.0,28.5 0.0,27.5 0.0,26.5 0.0,25.5 0.0,24.5 0.0,23.5 0.0,22.5 0.0,21.5 0.0,20.5 0.0,19.5 0.0,18.5 0.0,17.5 0.0,16.5 0.0,15.5 0.0,14.5 0.0,13.5 0.0,12.5 0.0,11.5 0.0,10.5 0.0,9.5 0.0,8.5 0.0,7.5 0.0,6.5 0.0,5.9ZM80.5,14.4 81.5,13.9 82.5,13.7 83.5,13.7 84.5,13.7 85.5,13.7 86.5,13.7 87.5,13.7 88.5,13.7 89.5,13.7 90.5,13.7 91.5,13.9 92.5,14.3 92.7,14.5 93.4,15.5 93.5,16.0 93.6,16.5 93.5,16.8 93.3,17.5 92.5,18.5 92.4,18.5 91.5,18.9 90.5,19.1 89.5,19.1 88.5,19.1 87.5,19.1 86.5,19.0 85.5,19.0 84.5,19.0 83.5,19.0 82.5,19.0 81.5,18.7 81.2,18.5 80.5,17.8 80.3,17.5 80.1,16.5 80.0,15.5 80.4,14.5ZM0.5,75.2 1.5,75.2 2.5,75.2 3.5,75.2 4.5,75.4 5.0,75.5 5.5,75.6 6.5,76.0 7.5,76.4 7.8,76.5 8.5,76.8 9.5,77.2 10.2,77.5 10.5,77.6 11.5,78.1 12.4,78.5 12.5,78.6 13.5,79.0 14.5,79.5 14.6,79.5 15.5,79.9 16.5,80.3 17.1,80.5 17.5,80.7 18.5,81.1 19.5,81.5 19.6,81.5 20.5,81.9 21.5,82.3 22.0,82.5 22.5,82.7 23.5,83.1 24.4,83.5 24.5,83.5 25.5,84.0 26.5,84.4 26.8,84.5 27.5,84.8 28.5,85.2 29.2,85.5 29.5,85.6 30.5,86.1 31.5,86.5 31.5,86.5 32.5,86.9 33.5,87.3 33.9,87.5 34.5,87.7 35.5,88.2 36.3,88.5 36.5,88.6 37.5,89.0 38.5,89.4 38.6,89.5 39.5,89.9 40.5,90.3 41.0,90.5 41.5,90.7 42.5,91.1 43.4,91.5 43.5,91.6 44.5,92.0 45.5,92.4 45.7,92.5 46.5,92.8 47.5,93.3 48.0,93.5 48.5,93.7 49.5,94.2 50.0,94.5 50.5,94.7 51.5,95.2 52.1,95.5 52.5,95.7 53.5,96.1 54.5,96.4 54.9,96.5 55.5,96.7 56.5,96.9 57.5,97.2 58.2,97.5 58.5,97.6 59.5,98.0 60.4,98.5 60.5,98.5 61.5,99.0 62.5,99.5 62.5,99.5 63.5,99.9 64.5,100.3 65.0,100.5 65.5,100.7 66.5,101.1 67.4,101.5 67.5,101.5 68.5,101.9 69.5,102.3 69.9,102.5 70.5,102.7 71.5,103.1 72.4,103.5 72.5,103.5 73.5,103.9 74.5,104.2 75.5,104.5 75.5,104.5 76.5,104.7 77.5,104.9 78.5,105.1 79.5,105.4 80.0,105.5 80.5,105.7 81.5,106.0 82.5,106.4 82.8,106.5 83.5,106.7 84.5,107.1 85.5,107.5 85.6,107.5 86.5,107.8 87.5,108.2 88.4,108.5 88.5,108.5 89.5,108.9 90.5,109.3 91.1,109.5 91.5,109.6 92.5,110.0 93.5,110.4 93.9,110.5 94.5,110.7 95.5,111.1 96.5,111.4 96.7,111.5 97.5,111.8 98.5,112.2 99.3,112.5 99.5,112.6 100.5,113.0 101.5,113.4 101.9,113.5 102.5,113.7 103.5,114.1 104.5,114.5 104.6,114.5 105.5,114.9 106.5,115.3 106.9,115.5 107.5,115.7 108.5,116.1 109.5,116.5 109.6,116.5 110.5,116.7 111.5,116.9 112.5,117.0 113.5,117.2 114.5,117.5 114.6,117.5 115.5,117.8 116.5,118.4 116.6,118.5 117.5,119.2 117.8,119.5 118.5,120.3 118.7,120.5 119.4,121.5 119.5,121.7 120.1,122.5 120.5,122.9 121.1,123.5 121.5,123.7 122.4,124.5 122.5,124.5 123.5,125.3 123.7,125.5 124.5,126.1 124.9,126.5 125.5,126.8 126.5,127.4 126.6,127.5 127.5,127.9 128.5,128.4 128.7,128.5 129.5,128.8 130.5,129.3 131.0,129.5 131.5,129.7 132.5,129.9 133.5,130.1 134.5,130.3 135.0,130.5 135.5,130.6 136.5,131.0 137.5,131.5 137.5,131.5 138.5,131.9 139.5,132.3 139.8,132.5 140.5,132.8 141.5,133.2 142.3,133.5 142.5,133.6 143.0,133.6 143.0,134.5 143.0,135.5 143.0,136.5 143.0,137.5 143.0,138.5 143.0,139.5 143.0,140.5 143.0,140.6 142.5,140.6 142.3,140.5 141.5,140.2 140.5,139.8 139.7,139.5 139.5,139.4 138.5,139.0 137.5,138.6 137.4,138.5 136.5,138.1 135.5,137.7 135.0,137.5 134.5,137.2 133.5,136.8 132.8,136.5 132.5,136.3 131.5,135.7 131.2,135.5 130.5,135.0 129.6,134.5 129.5,134.4 128.5,133.9 127.5,133.5 127.4,133.5 126.5,133.1 125.5,132.7 124.7,132.5 124.5,132.4 123.5,132.2 122.5,132.0 121.5,132.0 120.5,131.9 119.5,131.9 118.5,131.7 117.8,131.5 117.5,131.4 116.5,131.2 115.5,131.2 114.5,131.2 113.5,131.4 112.5,131.5 111.5,131.5 110.5,131.4 109.5,131.3 108.5,131.2 107.5,131.3 106.5,131.5 106.4,131.5 105.5,132.5 105.5,132.5 105.2,133.5 105.2,134.5 105.1,135.5 105.2,136.5 105.3,137.5 105.5,138.5 105.5,138.5 105.8,139.5 106.3,140.5 106.5,140.9 106.9,141.5 107.4,142.5 107.4,143.0 106.5,143.0 105.5,143.0 104.5,143.0 103.5,143.0 102.5,143.0 101.5,143.0 100.5,143.0 99.5,143.0 98.5,143.0 97.5,143.0 96.5,143.0 95.5,143.0 94.5,143.0 93.5,143.0 92.5,143.0 91.5,143.0 90.5,143.0 89.5,143.0 88.5,143.0 87.5,143.0 86.5,143.0 85.5,143.0 84.5,143.0 83.5,143.0 82.5,143.0 81.5,143.0 80.5,143.0 79.5,143.0 78.5,143.0 77.5,143.0 76.5,143.0 75.5,143.0 74.5,143.0 73.5,143.0 72.5,143.0 71.5,143.0 70.5,143.0 69.5,143.0 68.5,143.0 67.5,143.0 67.3,143.0 67.3,142.5 66.6,141.5 66.5,141.4 65.7,140.5 65.5,140.3 64.6,139.5 64.5,139.4 63.5,138.5 63.5,138.5 62.5,137.6 62.4,137.5 61.5,136.6 61.4,136.5 60.6,135.5 60.5,135.3 60.0,134.5 59.6,133.5 59.5,133.2 59.4,132.5 59.5,131.6 59.5,131.5 60.1,130.5 60.5,130.0 61.0,129.5 61.5,129.0 62.2,128.5 62.5,128.2 63.5,127.5 63.5,127.5 64.5,127.0 65.5,126.7 66.4,126.5 66.5,126.5 67.5,126.5 68.3,126.5 68.5,126.5 69.5,126.6 70.5,126.7 71.5,126.8 72.5,126.9 73.5,126.9 74.5,127.1 75.5,127.2 76.5,127.3 77.5,127.4 78.1,127.5 78.5,127.5 79.5,127.6 80.5,127.7 81.5,127.9 82.5,128.0 83.5,128.1 84.5,128.2 85.5,128.3 86.5,128.4 87.3,128.5 87.5,128.5 88.5,128.6 89.5,128.7 90.5,128.8 91.5,128.8 92.5,128.9 93.5,128.9 94.5,129.0 95.5,129.0 96.5,128.9 97.5,128.7 98.0,128.5 97.5,127.8 97.4,127.5 96.5,127.0 95.8,126.5 95.5,126.4 94.5,125.9 93.9,125.5 93.5,125.3 92.5,124.9 91.7,124.5 91.5,124.4 90.5,124.0 89.5,123.5 89.5,123.5 88.5,123.1 87.5,122.7 87.1,122.5 86.5,122.3 85.5,121.9 84.7,121.5 84.5,121.4 83.5,121.0 82.5,120.6 82.3,120.5 81.5,120.2 80.5,119.8 79.8,119.5 79.5,119.4 78.5,119.0 77.5,118.6 77.3,118.5 76.5,118.2 75.5,117.9 74.8,117.5 74.5,117.4 73.5,116.8 73.1,116.5 72.5,116.1 71.7,115.5 71.5,115.3 70.5,114.6 70.4,114.5 69.5,113.9 68.9,113.5 68.5,113.3 67.5,112.8 66.9,112.5 66.5,112.3 65.5,111.9 64.7,111.5 64.5,111.4 63.5,111.1 62.5,110.6 62.3,110.5 61.5,110.2 60.5,109.8 59.9,109.5 59.5,109.4 58.5,109.0 57.5,108.6 57.3,108.5 56.5,108.3 55.5,108.0 54.5,107.6 54.3,107.5 53.5,107.2 52.5,106.6 52.4,106.5 51.5,106.0 50.8,105.5 50.5,105.3 49.5,104.8 49.0,104.5 48.5,104.3 47.5,103.9 46.6,103.5 46.5,103.4 45.5,103.1 44.5,102.7 44.1,102.5 43.5,102.3 42.5,101.9 41.7,101.5 41.5,101.4 40.5,101.0 39.5,100.5 39.4,100.5 38.5,100.2 37.5,99.7 37.1,99.5 36.5,99.3 35.5,98.9 34.8,98.5 34.5,98.4 33.5,98.0 32.5,97.5 32.5,97.5 31.5,97.1 30.5,96.7 30.1,96.5 29.5,96.3 28.5,95.8 27.8,95.5 27.5,95.4 26.5,95.0 25.5,94.5 25.5,94.5 24.5,94.1 23.5,93.6 23.2,93.5 22.5,93.2 21.5,92.8 20.9,92.5 20.5,92.4 19.5,92.0 18.6,91.5 18.5,91.5 17.5,91.1 16.5,90.6 16.3,90.5 15.5,90.2 14.5,89.8 14.0,89.5 13.5,89.3 12.5,88.9 11.7,88.5 11.5,88.4 10.5,88.1 9.5,87.6 9.4,87.5 8.5,87.2 7.5,86.7 7.0,86.5 6.5,86.3 5.5,85.9 4.7,85.5 4.5,85.4 3.5,85.1 2.5,84.6 2.3,84.5 1.5,84.2 0.5,83.6 0.0,83.6 0.0,83.5 0.0,82.5 0.0,81.5 0.0,80.5 0.0,79.5 0.0,78.5 0.0,77.5 0.0,76.5 0.0,75.5 0.0,75.2ZM80.5,76.2 81.5,76.0 82.5,76.0 83.5,76.1 84.5,76.4 84.9,76.5 85.5,76.6 86.5,76.9 87.5,77.1 88.5,77.4 88.9,77.5 89.5,77.6 90.5,78.0 91.5,78.4 91.6,78.5 92.5,78.9 93.5,79.4 93.8,79.5 94.5,79.8 95.5,80.3 96.0,80.5 96.5,80.7 97.5,81.2 98.1,81.5 98.5,81.7 99.5,82.1 100.3,82.5 100.5,82.6 101.5,83.0 102.5,83.5 102.5,83.5 103.5,83.9 104.5,84.5 104.5,84.5 105.5,85.0 106.2,85.5 106.5,85.7 107.5,86.5 107.5,86.5 108.5,87.2 109.0,87.5 109.5,87.9 110.2,88.5 110.5,88.8 111.0,89.5 111.5,90.4 111.5,90.5 111.8,91.5 111.9,92.5 111.9,93.5 111.8,94.5 111.7,95.5 111.6,96.5 111.5,97.4 111.5,97.5 111.3,98.5 111.2,99.5 110.8,100.5 110.5,101.0 109.5,101.3 108.5,101.1 107.5,100.9 106.5,100.7 105.9,100.5 105.5,100.4 104.5,100.1 103.5,99.7 103.1,99.5 102.5,99.3 101.5,98.9 100.5,98.5 100.5,98.5 99.5,98.1 98.5,97.7 98.0,97.5 97.5,97.3 96.5,96.8 95.8,96.5 95.5,96.4 94.5,95.9 93.6,95.5 93.5,95.4 92.5,95.0 91.5,94.5 91.4,94.5 90.5,94.1 89.5,93.6 89.3,93.5 88.5,93.2 87.5,92.7 87.1,92.5 86.5,92.2 85.5,91.8 85.0,91.5 84.5,91.3 83.5,90.7 83.1,90.5 82.5,90.2 81.5,89.6 81.3,89.5 80.5,89.0 79.5,88.5 79.5,88.5 78.5,87.9 78.0,87.5 77.5,87.1 76.9,86.5 76.5,85.9 76.3,85.5 75.8,84.5 75.6,83.5 75.5,82.5 75.6,81.5 75.8,80.5 76.3,79.5 76.5,79.1 76.9,78.5 77.5,77.9 77.9,77.5 78.5,77.1 79.5,76.5 79.6,76.5ZM0.5,110.5 0.8,110.5 1.5,110.6 2.5,110.7 3.5,110.8 4.5,110.9 5.5,111.1 6.5,111.2 7.5,111.3 8.5,111.5 8.6,111.5 9.5,111.6 10.5,111.7 11.5,111.8 12.5,112.0 13.5,112.1 14.5,112.2 15.5,112.4 16.4,112.5 16.5,112.5 17.5,112.6 18.5,112.7 19.5,112.9 20.5,113.0 21.5,113.1 22.5,113.2 23.5,113.4 23.9,113.5 24.5,113.6 25.5,114.0 26.4,114.5 26.5,114.6 27.5,115.3 27.7,115.5 28.5,116.3 28.6,116.5 29.3,117.5 29.5,118.0 29.7,118.5 30.0,119.5 30.2,120.5 30.2,121.5 30.2,122.5 30.0,123.5 29.7,124.5 29.5,125.1 29.4,125.5 28.8,126.5 28.5,126.9 28.0,127.5 27.5,128.0 26.9,128.5 26.5,128.8 25.5,129.4 25.1,129.5 24.5,129.8 23.5,130.0 22.5,130.2 21.5,130.3 20.5,130.4 19.5,130.5 19.2,130.5 18.5,130.6 17.5,130.7 16.5,130.8 15.5,130.9 14.5,131.1 13.5,131.2 12.5,131.3 11.5,131.4 10.5,131.5 10.0,131.5 9.5,131.6 8.5,131.7 7.5,131.8 6.5,131.8 5.5,131.9 4.5,132.0 3.5,132.1 2.5,132.2 1.5,132.3 0.5,132.3 0.0,132.3 0.0,131.5 0.0,130.5 0.0,129.5 0.0,128.5 0.0,127.5 0.0,126.5 0.0,125.5 0.0,124.5 0.0,123.5 0.0,122.5 0.0,121.5 0.0,120.5 0.0,119.5 0.0,118.5 0.0,117.5 0.0,116.5 0.0,115.5 0.0,114.5 0.0,113.5 0.0,112.5 0.0,111.5 0.0,110.5 0.0,110.5Z"/>
<path fill="#49ffb6" d="M0.5,6.6 1.5,6.9 2.5,7.2 3.2,7.5 3.5,7.6 4.5,8.0 5.5,8.4 5.7,8.5 6.5,8.9 7.5,9.3 8.0,9.5 8.5,9.8 9.5,10.3 10.0,10.5 10.5,10.8 11.5,11.3 11.9,11.5 12.5,11.8 13.5,12.4 13.7,12.5 14.5,13.0 15.4,13.5 15.5,13.6 16.5,14.2 17.1,14.5 17.5,14.8 18.5,15.4 18.7,15.5 19.5,16.0 20.4,16.5 20.5,16.6 21.5,17.2 22.0,17.5 22.5,17.8 23.5,18.4 23.7,18.5 24.5,19.0 25.3,19.5 25.5,19.6 26.5,20.2 27.0,20.5 27.5,20.8 28.5,21.4 28.6,21.5 29.5,22.0 30.3,22.5 30.5,22.6 31.5,23.2 31.9,23.5 32.5,23.9 33.5,24.5 33.5,24.5 34.5,25.2 35.0,25.5 35.5,25.8 36.5,26.5 36.6,26.5 37.5,27.1 38.2,27.5 38.5,27.7 39.5,28.3 39.9,28.5 40.5,28.9 41.5,29.4 41.7,29.5 42.5,30.0 43.3,30.5 43.5,30.6 44.5,31.4 44.7,31.5 45.5,32.2 45.9,32.5 46.5,32.9 47.5,33.5 47.5,33.5 48.5,34.0 49.5,34.5 49.5,34.5 50.5,34.9 51.5,35.4 51.6,35.5 52.5,35.9 53.5,36.4 53.6,36.5 54.5,37.0 55.5,37.5 55.6,37.5 56.5,38.0 57.4,38.5 57.5,38.5 58.5,39.2 58.9,39.5 59.5,40.0 60.0,40.5 60.5,41.1 60.9,41.5 61.5,42.4 61.6,42.5 62.3,43.5 62.5,43.8 63.0,44.5 63.5,45.0 64.0,45.5 64.5,45.9 65.4,46.5 65.5,46.6 66.5,47.1 67.3,47.5 67.5,47.6 68.5,48.0 69.5,48.3 70.0,48.5 70.5,48.7 71.5,49.0 72.5,49.4 72.8,49.5 73.5,49.7 74.5,50.0 75.5,50.3 75.9,50.5 76.5,50.6 77.5,50.9 78.5,51.1 79.5,51.4 80.2,51.5 80.5,51.5 81.5,51.5 81.5,51.5 81.6,50.5 81.5,50.3 81.1,49.5 80.8,48.5 80.6,47.5 80.6,46.5 80.7,45.5 81.0,44.5 81.3,43.5 81.2,42.5 80.9,41.5 80.5,40.5 80.5,40.5 80.3,39.5 80.3,38.5 80.5,37.9 80.6,37.5 81.4,36.5 81.5,36.4 82.5,35.8 83.4,35.5 83.5,35.5 84.5,35.4 85.5,35.4 86.5,35.5 87.5,35.5 88.0,35.5 88.5,35.5 89.5,35.5 90.5,35.6 91.5,35.7 92.5,35.9 93.5,36.2 94.5,36.4 94.8,36.5 95.5,36.6 96.5,36.8 97.5,37.1 98.5,37.5 98.6,37.5 99.5,37.8 100.5,38.2 101.2,38.5 101.5,38.6 102.5,38.9 103.5,39.3 104.2,39.5 104.5,39.6 105.5,39.9 106.5,40.2 107.5,40.5 107.5,40.5 108.5,40.8 109.5,41.1 110.5,41.4 110.8,41.5 111.5,41.7 112.5,42.0 113.5,42.3 114.1,42.5 114.5,42.6 115.5,42.9 116.5,43.2 117.4,43.5 117.5,43.5 118.5,43.8 119.5,44.1 120.5,44.4 120.7,44.5 121.5,44.7 122.5,45.0 123.5,45.3 124.0,45.5 124.5,45.6 125.5,45.9 126.5,46.2 127.3,46.5 127.5,46.6 128.5,46.9 129.5,47.2 130.5,47.5 130.5,47.5 131.5,47.7 132.5,48.0 133.5,48.1 134.5,48.3 135.5,48.4 136.1,48.5 136.5,48.5 137.5,48.7 138.5,48.8 139.5,49.1 140.5,49.4 140.9,49.5 141.5,49.6 142.5,49.8 143.0,49.8 143.0,50.5 143.0,51.5 143.0,52.5 143.0,53.5 143.0,54.5 143.0,55.5 143.0,56.5 143.0,57.5 143.0,58.5 143.0,59.5 143.0,60.5 143.0,61.5 143.0,62.5 143.0,63.5 143.0,64.5 143.0,65.5 143.0,66.5 143.0,67.5 143.0,68.5 143.0,69.5 143.0,70.5 143.0,71.5 143.0,72.5 143.0,73.5 143.0,74.5 143.0,75.5 143.0,76.5 143.0,77.5 143.0,77.8 142.5,77.8 141.5,77.7 140.7,77.5 140.5,77.5 139.5,77.3 138.5,77.1 137.5,76.9 136.5,76.6 136.1,76.5 135.5,76.3 134.5,76.0 133.5,75.8 132.6,75.5 132.5,75.5 131.5,75.2 130.5,75.0 129.5,74.7 128.7,74.5 128.5,74.4 127.5,74.2 126.5,73.9 125.5,73.7 124.8,73.5 124.5,73.4 123.5,73.1 122.5,72.6 122.3,72.5 121.5,71.9 121.1,71.5 120.5,70.5 120.5,70.5 120.1,69.5 119.9,68.5 119.9,67.5 119.8,66.5 119.5,65.8 119.2,65.5 118.5,65.1 117.5,64.7 116.6,64.5 116.5,64.5 115.5,64.2 114.5,64.0 113.5,63.8 112.5,63.5 112.5,63.5 111.5,63.2 110.5,62.6 110.4,62.5 109.5,61.6 109.4,61.5 108.5,60.6 108.4,60.5 107.5,59.9 106.7,59.5 106.5,59.4 105.5,59.1 104.5,58.9 103.5,58.8 102.5,58.8 101.5,58.8 100.5,58.9 99.5,58.9 98.5,58.9 97.5,58.8 96.5,58.6 96.3,58.5 95.5,58.2 94.5,57.9 93.6,57.5 93.5,57.5 92.5,57.1 91.5,56.6 91.2,56.5 90.5,56.2 89.5,56.2 89.4,56.5 89.2,57.5 88.8,58.5 88.5,59.1 88.3,59.5 87.5,60.4 87.3,60.5 86.5,61.1 85.5,61.4 85.0,61.5 84.5,61.7 83.5,62.0 82.5,62.2 81.5,62.3 80.5,62.4 79.8,62.5 79.5,62.6 78.5,62.8 77.5,63.0 76.5,63.1 75.5,63.3 74.5,63.4 74.0,63.5 73.5,63.6 72.5,63.9 71.5,64.1 70.5,64.3 69.5,64.4 69.2,64.5 68.5,64.7 67.5,65.0 66.5,65.3 66.0,65.5 65.5,65.7 64.5,66.1 63.5,66.4 63.2,66.5 62.5,66.8 61.5,67.1 60.5,67.3 59.5,67.5 59.2,67.5 58.5,67.6 57.5,67.7 56.5,67.6 55.8,67.5 55.5,67.4 54.5,67.2 53.5,66.9 52.7,66.5 52.5,66.4 51.5,66.1 50.5,65.6 50.4,65.5 49.5,65.1 48.5,64.7 48.1,64.5 47.5,64.3 46.5,63.9 45.6,63.5 45.5,63.5 44.5,63.2 43.5,62.8 42.7,62.5 42.5,62.5 41.5,62.2 40.5,61.9 39.5,61.6 39.3,61.5 38.5,61.3 37.5,61.1 36.5,60.8 35.6,60.5 35.5,60.5 34.5,60.2 33.5,60.0 32.5,59.7 31.6,59.5 31.5,59.5 30.5,59.3 29.5,59.1 28.5,58.9 27.5,58.6 27.0,58.5 26.5,58.4 25.5,58.2 24.5,58.0 23.5,57.7 22.5,57.6 22.1,57.5 21.5,57.4 20.5,57.3 19.5,57.3 18.5,57.2 17.5,57.1 16.5,57.0 15.5,56.9 14.5,56.8 13.5,56.7 12.5,56.6 11.8,56.5 11.5,56.5 10.5,56.4 9.5,56.3 8.5,56.2 7.5,56.1 6.5,56.0 5.5,55.9 4.5,55.8 3.5,55.8 2.5,55.7 1.5,55.6 0.5,55.5 0.0,55.5 0.0,55.5 0.0,54.5 0.0,53.5 0.0,52.5 0.0,51.5 0.0,50.5 0.0,49.5 0.0,48.5 0.0,47.5 0.0,46.5 0.0,45.5 0.0,44.5 0.0,43.5 0.0,42.5 0.0,41.5 0.0,40.5 0.0,39.5 0.0,38.5 0.0,37.5 0.0,36.5 0.0,35.5 0.0,34.5 0.0,33.5 0.0,32.5 0.0,31.5 0.0,30.5 0.0,29.5 0.0,28.5 0.0,27.5 0.0,26.5 0.0,25.5 0.0,24.5 0.0,23.5 0.0,22.5 0.0,21.5 0.0,20.5 0.0,19.5 0.0,18.5 0.0,17.5 0.0,16.5 0.0,15.5 0.0,14.5 0.0,13.5 0.0,12.5 0.0,11.5 0.0,10.5 0.0,9.5 0.0,8.5 0.0,7.5 0.0,6.6ZM0.5,75.7 1.5,75.6 2.5,75.6 3.5,75.6 4.5,75.7 5.5,76.0 6.5,76.3 6.9,76.5 7.5,76.7 8.5,77.1 9.4,77.5 9.5,77.6 10.5,78.0 11.5,78.4 11.7,78.5 12.5,78.9 13.5,79.3 13.9,79.5 14.5,79.8 15.5,80.2 16.3,80.5 16.5,80.6 17.5,81.0 18.5,81.4 18.8,81.5 19.5,81.8 20.5,82.2 21.2,82.5 21.5,82.6 22.5,83.0 23.5,83.5 23.6,83.5 24.5,83.9 25.5,84.3 26.0,84.5 26.5,84.7 27.5,85.1 28.4,85.5 28.5,85.6 29.5,86.0 30.5,86.4 30.7,86.5 31.5,86.8 32.5,87.2 33.1,87.5 33.5,87.7 34.5,88.1 35.5,88.5 35.5,88.5 36.5,88.9 37.5,89.4 37.8,89.5 38.5,89.8 39.5,90.2 40.2,90.5 40.5,90.6 41.5,91.1 42.5,91.5 42.5,91.5 43.5,91.9 44.5,92.3 44.9,92.5 45.5,92.8 46.5,93.2 47.2,93.5 47.5,93.7 48.5,94.1 49.3,94.5 49.5,94.6 50.5,95.1 51.4,95.5 51.5,95.6 52.5,96.0 53.5,96.4 53.9,96.5 54.5,96.7 55.5,96.9 56.5,97.2 57.5,97.5 57.5,97.5 58.5,97.9 59.5,98.4 59.8,98.5 60.5,98.9 61.5,99.3 61.8,99.5 62.5,99.8 63.5,100.2 64.2,100.5 64.5,100.6 65.5,101.0 66.5,101.4 66.6,101.5 67.5,101.8 68.5,102.2 69.1,102.5 69.5,102.7 70.5,103.1 71.5,103.5 71.5,103.5 72.5,103.9 73.5,104.2 74.3,104.5 74.5,104.6 75.5,104.9 76.5,105.1 77.5,105.3 78.2,105.5 78.5,105.6 79.5,105.9 80.5,106.2 81.2,106.5 81.5,106.6 82.5,107.0 83.5,107.4 83.7,107.5 84.5,107.8 85.5,108.2 86.4,108.5 86.5,108.5 87.5,108.9 88.5,109.3 89.1,109.5 89.5,109.6 90.5,110.0 91.5,110.4 91.8,110.5 92.5,110.8 93.5,111.1 94.4,111.5 94.5,111.5 95.5,111.9 96.5,112.3 97.1,112.5 97.5,112.6 98.5,113.0 99.5,113.4 99.7,113.5 100.5,113.8 101.5,114.2 102.3,114.5 102.5,114.6 103.5,115.0 104.5,115.4 104.8,115.5 105.5,115.7 106.5,116.1 107.4,116.5 107.5,116.5 108.5,116.9 109.5,117.4 109.9,117.5 110.5,117.7 111.5,118.1 112.4,118.5 112.5,118.5 113.5,118.9 114.5,119.3 114.8,119.5 115.5,119.9 116.2,120.5 116.5,120.7 117.2,121.5 117.5,121.8 118.2,122.5 118.5,122.8 119.2,123.5 119.5,123.7 120.5,124.3 120.7,124.5 121.5,124.9 122.4,125.5 122.5,125.6 123.5,126.3 123.7,126.5 124.5,127.2 125.0,127.5 125.5,127.8 126.5,128.3 126.9,128.5 127.5,128.8 128.5,129.2 129.1,129.5 129.5,129.7 130.5,130.1 131.5,130.4 131.9,130.5 132.5,130.6 133.5,130.7 134.5,130.9 135.5,131.2 136.2,131.5 136.5,131.6 137.5,132.0 138.5,132.5 138.5,132.5 139.5,132.9 140.5,133.4 140.8,133.5 141.5,133.8 142.5,134.1 143.0,134.1 143.0,134.5 143.0,135.5 143.0,136.5 143.0,137.5 143.0,138.5 143.0,139.5 143.0,140.3 142.5,140.3 141.5,140.0 140.5,139.6 140.4,139.5 139.5,139.1 138.5,138.7 138.0,138.5 137.5,138.2 136.5,137.8 135.7,137.5 135.5,137.4 134.5,137.0 133.5,136.5 133.4,136.5 132.5,136.0 131.7,135.5 131.5,135.3 130.5,134.6 130.4,134.5 129.5,133.9 128.5,133.5 128.5,133.5 127.5,133.0 126.5,132.7 126.0,132.5 125.5,132.3 124.5,131.9 123.5,131.7 122.5,131.6 121.5,131.6 120.5,131.5 120.1,131.5 119.5,131.4 118.5,131.2 117.5,130.9 116.5,130.5 116.4,130.5 115.5,130.3 114.5,130.2 113.5,130.2 112.5,130.2 111.5,130.2 110.5,130.0 109.5,129.7 108.8,129.5 108.5,129.4 107.5,129.2 106.5,128.9 105.5,128.6 105.2,128.5 104.5,128.3 103.5,128.0 102.6,127.5 102.5,127.5 101.5,127.0 100.5,126.5 100.5,126.5 99.5,126.1 98.5,125.7 98.2,125.5 97.5,125.3 96.5,124.9 95.8,124.5 95.5,124.4 94.5,124.0 93.5,123.6 93.3,123.5 92.5,123.2 91.5,122.8 90.8,122.5 90.5,122.4 89.5,122.0 88.5,121.6 88.3,121.5 87.5,121.2 86.5,120.8 85.8,120.5 85.5,120.4 84.5,120.0 83.5,119.6 83.3,119.5 82.5,119.2 81.5,118.8 80.8,118.5 80.5,118.4 79.5,118.1 78.5,117.6 78.2,117.5 77.5,117.3 76.5,116.9 75.5,116.5 75.4,116.5 74.5,116.1 73.5,115.6 73.4,115.5 72.5,115.0 71.8,114.5 71.5,114.3 70.5,113.7 70.2,113.5 69.5,113.2 68.5,112.6 68.3,112.5 67.5,112.2 66.5,111.7 66.0,111.5 65.5,111.3 64.5,110.9 63.7,110.5 63.5,110.4 62.5,110.1 61.5,109.6 61.3,109.5 60.5,109.2 59.5,108.8 58.8,108.5 58.5,108.4 57.5,108.1 56.5,107.8 55.8,107.5 55.5,107.4 54.5,107.1 53.5,106.6 53.3,106.5 52.5,106.1 51.7,105.5 51.5,105.4 50.5,104.8 50.0,104.5 49.5,104.2 48.5,103.8 47.9,103.5 47.5,103.3 46.5,102.9 45.6,102.5 45.5,102.5 44.5,102.1 43.5,101.7 43.1,101.5 42.5,101.2 41.5,100.8 40.8,100.5 40.5,100.4 39.5,100.0 38.5,99.5 38.5,99.5 37.5,99.1 36.5,98.7 36.2,98.5 35.5,98.2 34.5,97.8 33.9,97.5 33.5,97.4 32.5,96.9 31.6,96.5 31.5,96.5 30.5,96.1 29.5,95.6 29.3,95.5 28.5,95.2 27.5,94.8 26.9,94.5 26.5,94.3 25.5,93.9 24.6,93.5 24.5,93.4 23.5,93.0 22.5,92.6 22.3,92.5 21.5,92.2 20.5,91.7 20.0,91.5 19.5,91.3 18.5,90.9 17.7,90.5 17.5,90.4 16.5,90.0 15.5,89.6 15.4,89.5 14.5,89.2 13.5,88.7 13.1,88.5 12.5,88.3 11.5,87.9 10.8,87.5 10.5,87.4 9.5,87.0 8.5,86.5 8.5,86.5 7.5,86.1 6.5,85.7 6.1,85.5 5.5,85.3 4.5,84.9 3.7,84.5 3.5,84.4 2.5,84.0 1.6,83.5 1.5,83.4 0.5,82.9 0.0,82.9 0.0,82.5 0.0,81.5 0.0,80.5 0.0,79.5 0.0,78.5 0.0,77.5 0.0,76.5 0.0,75.7ZM79.5,78.5 80.5,78.0 81.5,77.8 82.5,77.7 83.5,77.8 84.5,77.9 85.5,78.1 86.5,78.2 87.5,78.3 88.5,78.5 88.5,78.5 89.5,78.8 90.5,79.1 91.3,79.5 91.5,79.6 92.5,80.0 93.5,80.5 93.5,80.5 94.5,80.9 95.5,81.4 95.7,81.5 96.5,81.9 97.5,82.3 97.9,82.5 98.5,82.8 99.5,83.2 100.0,83.5 100.5,83.7 101.5,84.2 102.2,84.5 102.5,84.6 103.5,85.1 104.2,85.5 104.5,85.7 105.5,86.4 105.6,86.5 106.5,87.2 106.8,87.5 107.5,88.2 107.9,88.5 108.5,89.1 108.9,89.5 109.5,90.3 109.7,90.5 110.1,91.5 110.3,92.5 110.3,93.5 110.2,94.5 109.9,95.5 109.5,96.3 109.4,96.5 108.5,97.4 108.4,97.5 107.5,98.0 106.5,98.3 105.5,98.3 104.5,98.1 103.5,97.9 102.5,97.7 101.9,97.5 101.5,97.4 100.5,97.2 99.5,96.9 98.6,96.5 98.5,96.5 97.5,96.0 96.5,95.6 96.4,95.5 95.5,95.1 94.5,94.6 94.2,94.5 93.5,94.2 92.5,93.7 92.0,93.5 91.5,93.3 90.5,92.8 89.8,92.5 89.5,92.3 88.5,91.9 87.7,91.5 87.5,91.4 86.5,91.0 85.5,90.5 85.5,90.5 84.5,90.0 83.7,89.5 83.5,89.4 82.5,88.7 82.2,88.5 81.5,88.0 80.8,87.5 80.5,87.3 79.5,86.6 79.3,86.5 78.5,85.7 78.3,85.5 77.7,84.5 77.5,83.9 77.4,83.5 77.3,82.5 77.4,81.5 77.5,81.1 77.7,80.5 78.4,79.5 78.5,79.3 79.5,78.5ZM0.5,111.6 1.5,111.7 2.5,111.9 3.5,112.0 4.5,112.1 5.5,112.2 6.5,112.4 7.4,112.5 7.5,112.5 8.5,112.6 9.5,112.7 10.5,112.9 11.5,113.0 12.5,113.1 13.5,113.2 14.5,113.4 15.5,113.5 15.6,113.5 16.5,113.6 17.5,113.7 18.5,113.8 19.5,113.9 20.5,114.0 21.5,114.1 22.5,114.3 23.5,114.4 23.7,114.5 24.5,114.7 25.5,115.2 26.0,115.5 26.5,115.8 27.3,116.5 27.5,116.7 28.1,117.5 28.5,118.2 28.7,118.5 29.0,119.5 29.3,120.5 29.3,121.5 29.3,122.5 29.1,123.5 28.8,124.5 28.5,125.1 28.3,125.5 27.6,126.5 27.5,126.6 26.6,127.5 26.5,127.6 25.5,128.2 24.9,128.5 24.5,128.7 23.5,129.0 22.5,129.1 21.5,129.2 20.5,129.3 19.5,129.4 19.0,129.5 18.5,129.6 17.5,129.7 16.5,129.8 15.5,129.9 14.5,130.0 13.5,130.1 12.5,130.2 11.5,130.4 10.5,130.5 10.1,130.5 9.5,130.6 8.5,130.7 7.5,130.8 6.5,130.9 5.5,131.0 4.5,131.1 3.5,131.2 2.5,131.3 1.5,131.4 0.8,131.5 0.5,131.5 0.0,131.5 0.0,131.5 0.0,130.5 0.0,129.5 0.0,128.5 0.0,127.5 0.0,126.5 0.0,125.5 0.0,124.5 0.0,123.5 0.0,122.5 0.0,121.5 0.0,120.5 0.0,119.5 0.0,118.5 0.0,117.5 0.0,116.5 0.0,115.5 0.0,114.5 0.0,113.5 0.0,112.5 0.0,111.6ZM64.5,129.4 65.5,129.0 66.5,128.8 67.5,128.8 68.5,128.7 69.5,128.7 70.5,128.7 71.5,128.7 72.5,128.7 73.5,128.7 74.5,128.8 75.5,128.9 76.5,129.0 77.5,129.1 78.5,129.3 79.5,129.4 80.5,129.5 80.5,129.5 81.5,129.6 82.5,129.7 83.5,129.8 84.5,129.9 85.5,130.0 86.5,130.1 87.5,130.2 88.5,130.4 89.5,130.5 89.7,130.5 90.5,130.6 91.5,130.7 92.5,130.8 93.5,130.9 94.5,131.0 95.5,131.1 96.5,131.2 97.5,131.3 98.5,131.4 99.3,131.5 99.5,131.5 100.5,131.7 101.5,132.1 102.1,132.5 102.5,132.8 103.1,133.5 103.5,134.4 103.6,134.5 103.8,135.5 104.0,136.5 104.2,137.5 104.4,138.5 104.5,139.1 104.6,139.5 104.9,140.5 105.2,141.5 105.5,142.5 105.5,143.0 104.5,143.0 103.5,143.0 102.5,143.0 101.5,143.0 100.5,143.0 99.5,143.0 98.5,143.0 97.5,143.0 96.5,143.0 95.5,143.0 94.5,143.0 93.5,143.0 92.5,143.0 91.5,143.0 90.5,143.0 89.5,143.0 88.5,143.0 87.5,143.0 86.5,143.0 85.5,143.0 84.5,143.0 83.5,143.0 82.5,143.0 81.5,143.0 80.5,143.0 79.5,143.0 78.5,143.0 77.5,143.0 76.5,143.0 75.5,143.0 74.5,143.0 73.5,143.0 72.5,143.0 71.5,143.0 70.5,143.0 69.5,143.0 68.6,143.0 68.6,142.5 68.5,142.4 67.8,141.5 67.5,141.2 66.8,140.5 66.5,140.1 65.9,139.5 65.5,139.1 64.9,138.5 64.5,138.1 63.9,137.5 63.5,137.1 62.9,136.5 62.5,135.9 62.2,135.5 61.6,134.5 61.5,134.0 61.4,133.5 61.4,132.5 61.5,132.4 61.9,131.5 62.5,130.8 62.8,130.5 63.5,130.0 64.3,129.5Z"/>
<path fill="#6dff92" d="M0.5,7.5 0.5,7.5 1.5,7.8 2.5,8.2 3.4,8.5 3.5,8.6 4.5,9.0 5.5,9.4 5.7,9.5 6.5,9.9 7.5,10.4 7.7,10.5 8.5,10.9 9.5,11.4 9.6,11.5 10.5,12.0 11.4,12.5 11.5,12.5 12.5,13.1 13.2,13.5 13.5,13.7 14.5,14.3 14.9,14.5 15.5,14.9 16.5,15.5 16.6,15.5 17.5,16.1 18.3,16.5 18.5,16.7 19.5,17.2 19.9,17.5 20.5,17.8 21.5,18.4 21.6,18.5 22.5,19.0 23.3,19.5 23.5,19.6 24.5,20.2 25.0,20.5 25.5,20.8 26.5,21.4 26.7,21.5 27.5,22.0 28.4,22.5 28.5,22.5 29.5,23.1 30.2,23.5 30.5,23.7 31.5,24.3 31.8,24.5 32.5,24.9 33.5,25.5 33.5,25.5 34.5,26.1 35.2,26.5 35.5,26.7 36.5,27.3 36.9,27.5 37.5,27.9 38.5,28.4 38.6,28.5 39.5,29.0 40.4,29.5 40.5,29.5 41.5,30.1 42.2,30.5 42.5,30.7 43.5,31.4 43.7,31.5 44.5,32.2 44.9,32.5 45.5,33.0 46.2,33.5 46.5,33.7 47.5,34.2 48.2,34.5 48.5,34.7 49.5,35.1 50.5,35.5 50.5,35.5 51.5,36.0 52.5,36.4 52.6,36.5 53.5,36.9 54.5,37.4 54.7,37.5 55.5,37.9 56.5,38.4 56.7,38.5 57.5,38.9 58.4,39.5 58.5,39.6 59.5,40.4 59.6,40.5 60.4,41.5 60.5,41.6 61.1,42.5 61.5,43.1 61.8,43.5 62.5,44.5 62.5,44.5 63.4,45.5 63.5,45.6 64.5,46.4 64.6,46.5 65.5,47.0 66.4,47.5 66.5,47.6 67.5,48.0 68.5,48.4 68.7,48.5 69.5,48.8 70.5,49.1 71.5,49.5 71.5,49.5 72.5,49.8 73.5,50.1 74.5,50.5 74.6,50.5 75.5,50.7 76.5,51.0 77.5,51.3 78.0,51.5 78.5,51.6 79.5,51.8 80.5,52.0 81.5,52.2 82.5,52.4 82.9,52.5 83.5,52.6 84.5,52.6 85.5,52.5 84.5,51.8 84.3,51.5 83.5,50.9 83.1,50.5 82.5,49.8 82.3,49.5 81.8,48.5 81.6,47.5 81.5,46.5 81.8,45.5 82.1,44.5 82.3,43.5 82.1,42.5 81.6,41.5 81.5,41.3 81.1,40.5 80.8,39.5 80.8,38.5 81.1,37.5 81.5,37.0 82.1,36.5 82.5,36.2 83.5,35.9 84.5,35.7 85.5,35.7 86.5,35.8 87.5,35.9 88.5,35.9 89.5,35.9 90.5,36.0 91.5,36.1 92.5,36.3 93.2,36.5 93.5,36.6 94.5,36.8 95.5,36.9 96.5,37.1 97.5,37.3 97.9,37.5 98.5,37.7 99.5,38.1 100.5,38.5 100.5,38.5 101.5,38.8 102.5,39.2 103.5,39.5 103.5,39.5 104.5,39.8 105.5,40.1 106.5,40.4 106.8,40.5 107.5,40.7 108.5,41.0 109.5,41.3 110.1,41.5 110.5,41.6 111.5,41.9 112.5,42.2 113.4,42.5 113.5,42.5 114.5,42.8 115.5,43.1 116.5,43.4 116.7,43.5 117.5,43.7 118.5,44.0 119.5,44.3 120.0,44.5 120.5,44.7 121.5,44.9 122.5,45.3 123.2,45.5 123.5,45.6 124.5,45.9 125.5,46.2 126.5,46.5 126.5,46.5 127.5,46.8 128.5,47.1 129.5,47.4 129.8,47.5 130.5,47.7 131.5,48.0 132.5,48.2 133.5,48.4 134.1,48.5 134.5,48.6 135.5,48.7 136.5,48.8 137.5,49.0 138.5,49.2 139.5,49.5 139.5,49.5 140.5,49.7 141.5,50.0 142.5,50.2 143.0,50.2 143.0,50.5 143.0,51.5 143.0,52.5 143.0,53.5 143.0,54.5 143.0,55.5 143.0,56.5 143.0,57.5 143.0,58.5 143.0,59.5 143.0,60.5 143.0,61.5 143.0,62.5 143.0,63.5 143.0,64.5 143.0,65.5 143.0,66.5 143.0,67.5 143.0,68.5 143.0,69.5 143.0,70.5 143.0,71.5 143.0,72.5 143.0,73.5 143.0,74.5 143.0,75.5 143.0,76.5 143.0,77.3 142.5,77.3 141.5,77.2 140.5,77.0 139.5,76.8 138.5,76.6 138.0,76.5 137.5,76.4 136.5,76.1 135.5,75.8 134.5,75.5 134.5,75.5 133.5,75.2 132.5,75.0 131.5,74.7 130.7,74.5 130.5,74.4 129.5,74.2 128.5,74.0 127.5,73.7 126.7,73.5 126.5,73.5 125.5,73.2 124.5,72.9 123.5,72.6 123.3,72.5 122.5,72.1 121.8,71.5 121.5,71.1 121.1,70.5 120.7,69.5 120.5,68.5 120.5,67.5 120.6,66.5 120.5,65.9 120.4,65.5 119.5,64.6 119.3,64.5 118.5,64.2 117.5,63.9 116.5,63.7 115.7,63.5 115.5,63.4 114.5,63.2 113.5,63.0 112.5,62.7 112.0,62.5 111.5,62.2 110.5,61.5 110.5,61.5 109.6,60.5 109.5,60.4 108.6,59.5 108.5,59.4 107.5,58.8 106.7,58.5 106.5,58.4 105.5,58.2 104.5,58.0 103.5,57.9 102.5,57.9 101.5,57.9 100.5,58.0 99.5,58.1 98.5,58.1 97.5,58.0 96.5,57.8 95.7,57.5 95.5,57.4 94.5,57.0 93.5,56.6 93.3,56.5 92.5,56.2 91.5,55.7 91.1,55.5 90.5,55.2 89.5,54.8 88.7,55.5 88.8,56.5 88.7,57.5 88.5,58.1 88.4,58.5 87.9,59.5 87.5,60.0 86.8,60.5 86.5,60.7 85.5,61.1 84.5,61.4 83.8,61.5 83.5,61.6 82.5,61.9 81.5,62.0 80.5,62.2 79.5,62.3 78.5,62.4 77.7,62.5 77.5,62.5 76.5,62.7 75.5,62.9 74.5,63.1 73.5,63.2 72.5,63.4 71.8,63.5 71.5,63.6 70.5,63.8 69.5,64.0 68.5,64.2 67.5,64.5 67.4,64.5 66.5,64.8 65.5,65.2 64.5,65.5 64.4,65.5 63.5,65.9 62.5,66.2 61.5,66.4 61.3,66.5 60.5,66.7 59.5,66.9 58.5,67.1 57.5,67.1 56.5,67.1 55.5,66.9 54.5,66.6 54.3,66.5 53.5,66.2 52.5,65.9 51.7,65.5 51.5,65.4 50.5,65.0 49.5,64.5 49.5,64.5 48.5,64.1 47.5,63.7 47.0,63.5 46.5,63.3 45.5,63.0 44.5,62.6 44.3,62.5 43.5,62.2 42.5,61.9 41.5,61.6 41.2,61.5 40.5,61.3 39.5,61.1 38.5,60.8 37.6,60.5 37.5,60.5 36.5,60.2 35.5,60.0 34.5,59.7 33.8,59.5 33.5,59.4 32.5,59.2 31.5,59.0 30.5,58.7 29.6,58.5 29.5,58.5 28.5,58.3 27.5,58.1 26.5,57.8 25.5,57.5 25.5,57.5 24.5,57.2 23.5,57.0 22.5,56.8 21.5,56.7 20.5,56.5 20.2,56.5 19.5,56.4 18.5,56.3 17.5,56.3 16.5,56.2 15.5,56.1 14.5,56.0 13.5,55.9 12.5,55.8 11.5,55.7 10.5,55.6 9.7,55.5 9.5,55.5 8.5,55.4 7.5,55.3 6.5,55.2 5.5,55.1 4.5,55.0 3.5,54.9 2.5,54.8 1.5,54.8 0.5,54.7 0.0,54.7 0.0,54.5 0.0,53.5 0.0,52.5 0.0,51.5 0.0,50.5 0.0,49.5 0.0,48.5 0.0,47.5 0.0,46.5 0.0,45.5 0.0,44.5 0.0,43.5 0.0,42.5 0.0,41.5 0.0,40.5 0.0,39.5 0.0,38.5 0.0,37.5 0.0,36.5 0.0,35.5 0.0,34.5 0.0,33.5 0.0,32.5 0.0,31.5 0.0,30.5 0.0,29.5 0.0,28.5 0.0,27.5 0.0,26.5 0.0,25.5 0.0,24.5 0.0,23.5 0.0,22.5 0.0,21.5 0.0,20.5 0.0,19.5 0.0,18.5 0.0,17.5 0.0,16.5 0.0,15.5 0.0,14.5 0.0,13.5 0.0,12.5 0.0,11.5 0.0,10.5 0.0,9.5 0.0,8.5 0.0,7.5 0.0,7.5ZM0.5,76.2 1.5,76.1 2.5,75.9 3.5,75.9 4.5,76.0 5.5,76.3 6.1,76.5 6.5,76.7 7.5,77.1 8.5,77.5 8.6,77.5 9.5,77.9 10.5,78.3 10.9,78.5 11.5,78.8 12.5,79.2 13.2,79.5 13.5,79.6 14.5,80.1 15.5,80.5 15.6,80.5 16.5,80.9 17.5,81.3 18.0,81.5 18.5,81.7 19.5,82.1 20.5,82.5 20.5,82.5 21.5,82.9 22.5,83.4 22.8,83.5 23.5,83.8 24.5,84.2 25.2,84.5 25.5,84.6 26.5,85.1 27.5,85.5 27.6,85.5 28.5,85.9 29.5,86.3 29.9,86.5 30.5,86.7 31.5,87.2 32.3,87.5 32.5,87.6 33.5,88.0 34.5,88.4 34.6,88.5 35.5,88.9 36.5,89.3 37.0,89.5 37.5,89.7 38.5,90.1 39.3,90.5 39.5,90.6 40.5,91.0 41.5,91.4 41.7,91.5 42.5,91.9 43.5,92.3 44.0,92.5 44.5,92.7 45.5,93.1 46.3,93.5 46.5,93.6 47.5,94.0 48.5,94.5 48.6,94.5 49.5,94.9 50.5,95.4 50.7,95.5 51.5,95.9 52.5,96.3 53.0,96.5 53.5,96.7 54.5,97.0 55.5,97.2 56.5,97.4 56.7,97.5 57.5,97.8 58.5,98.2 59.2,98.5 59.5,98.7 60.5,99.2 61.2,99.5 61.5,99.7 62.5,100.1 63.4,100.5 63.5,100.5 64.5,100.9 65.5,101.4 65.9,101.5 66.5,101.8 67.5,102.2 68.3,102.5 68.5,102.6 69.5,103.0 70.5,103.4 70.7,103.5 71.5,103.8 72.5,104.2 73.3,104.5 73.5,104.6 74.5,104.9 75.5,105.2 76.5,105.5 76.6,105.5 77.5,105.7 78.5,106.0 79.5,106.4 79.7,106.5 80.5,106.8 81.5,107.2 82.1,107.5 82.5,107.6 83.5,108.0 84.5,108.4 84.7,108.5 85.5,108.8 86.5,109.2 87.3,109.5 87.5,109.6 88.5,109.9 89.5,110.3 89.9,110.5 90.5,110.7 91.5,111.1 92.5,111.5 92.5,111.5 93.5,111.8 94.5,112.2 95.1,112.5 95.5,112.6 96.5,113.0 97.5,113.4 97.7,113.5 98.5,113.8 99.5,114.2 100.3,114.5 100.5,114.6 101.5,114.9 102.5,115.4 102.8,115.5 103.5,115.7 104.5,116.1 105.5,116.5 105.6,116.5 106.5,116.8 107.5,117.1 108.2,117.5 108.5,117.6 109.5,118.1 110.2,118.5 110.5,118.6 111.5,119.1 112.3,119.5 112.5,119.6 113.5,119.9 114.5,120.4 114.6,120.5 115.5,121.0 116.0,121.5 116.5,121.9 117.1,122.5 117.5,122.9 118.1,123.5 118.5,123.8 119.5,124.5 119.5,124.5 120.5,125.0 121.3,125.5 121.5,125.6 122.5,126.3 122.8,126.5 123.5,127.2 123.9,127.5 124.5,128.1 125.2,128.5 125.5,128.7 126.5,129.2 127.2,129.5 127.5,129.6 128.5,130.1 129.5,130.5 129.6,130.5 130.5,130.9 131.5,131.1 132.5,131.2 133.5,131.2 134.5,131.4 134.9,131.5 135.5,131.7 136.5,132.1 137.4,132.5 137.5,132.5 138.5,133.0 139.5,133.4 139.7,133.5 140.5,133.9 141.5,134.3 142.1,134.5 142.5,134.6 143.0,134.6 143.0,135.5 143.0,136.5 143.0,137.5 143.0,138.5 143.0,139.5 143.0,140.0 142.5,140.0 141.5,139.7 141.1,139.5 140.5,139.2 139.5,138.8 138.7,138.5 138.5,138.4 137.5,137.9 136.5,137.5 136.4,137.5 135.5,137.1 134.5,136.7 134.1,136.5 133.5,136.2 132.5,135.6 132.3,135.5 131.5,134.8 131.0,134.5 130.5,134.0 129.7,133.5 129.5,133.4 128.5,132.8 127.5,132.5 127.5,132.5 126.5,132.0 125.5,131.7 124.7,131.5 124.5,131.4 123.5,131.2 122.5,131.1 121.5,131.1 120.5,131.1 119.5,131.0 118.5,130.7 117.9,130.5 117.5,130.3 116.5,130.0 115.5,129.7 114.6,129.5 114.5,129.5 113.5,129.4 112.5,129.3 111.5,129.2 110.5,128.9 109.5,128.5 109.5,128.5 108.5,128.2 107.5,128.0 106.5,127.7 105.7,127.5 105.5,127.5 104.5,127.2 103.5,126.9 102.7,126.5 102.5,126.4 101.5,126.0 100.6,125.5 100.5,125.5 99.5,125.1 98.5,124.7 98.2,124.5 97.5,124.3 96.5,123.9 95.7,123.5 95.5,123.4 94.5,123.1 93.5,122.7 93.1,122.5 92.5,122.3 91.5,121.9 90.6,121.5 90.5,121.5 89.5,121.1 88.5,120.7 88.0,120.5 87.5,120.3 86.5,120.0 85.5,119.5 85.5,119.5 84.5,119.2 83.5,118.8 82.9,118.5 82.5,118.4 81.5,118.0 80.5,117.5 80.4,117.5 79.5,117.2 78.5,116.8 77.7,116.5 77.5,116.4 76.5,116.1 75.5,115.7 75.0,115.5 74.5,115.3 73.5,114.8 73.0,114.5 72.5,114.2 71.5,113.7 71.2,113.5 70.5,113.2 69.5,112.6 69.3,112.5 68.5,112.2 67.5,111.7 67.1,111.5 66.5,111.3 65.5,110.8 64.8,110.5 64.5,110.4 63.5,110.0 62.5,109.6 62.4,109.5 61.5,109.2 60.5,108.8 59.9,108.5 59.5,108.3 58.5,108.0 57.5,107.6 57.1,107.5 56.5,107.3 55.5,107.0 54.5,106.7 54.1,106.5 53.5,106.2 52.5,105.6 52.3,105.5 51.5,104.9 50.8,104.5 50.5,104.3 49.5,103.8 49.0,103.5 48.5,103.3 47.5,102.9 46.7,102.5 46.5,102.4 45.5,102.0 44.5,101.6 44.3,101.5 43.5,101.2 42.5,100.8 42.0,100.5 41.5,100.3 40.5,99.9 39.6,99.5 39.5,99.4 38.5,99.0 37.5,98.6 37.3,98.5 36.5,98.2 35.5,97.7 35.0,97.5 34.5,97.3 33.5,96.9 32.7,96.5 32.5,96.4 31.5,96.0 30.5,95.5 30.4,95.5 29.5,95.1 28.5,94.7 28.1,94.5 27.5,94.3 26.5,93.8 25.8,93.5 25.5,93.4 24.5,93.0 23.5,92.5 23.5,92.5 22.5,92.1 21.5,91.7 21.2,91.5 20.5,91.2 19.5,90.8 18.8,90.5 18.5,90.4 17.5,89.9 16.5,89.5 16.5,89.5 15.5,89.1 14.5,88.6 14.2,88.5 13.5,88.2 12.5,87.8 11.9,87.5 11.5,87.3 10.5,86.9 9.6,86.5 9.5,86.5 8.5,86.0 7.5,85.6 7.3,85.5 6.5,85.2 5.5,84.8 4.9,84.5 4.5,84.3 3.5,83.9 2.6,83.5 2.5,83.4 1.5,82.9 0.8,82.5 0.5,82.3 0.0,82.3 0.0,81.5 0.0,80.5 0.0,79.5 0.0,78.5 0.0,77.5 0.0,76.5 0.0,76.2ZM84.5,79.5 85.5,79.4 86.5,79.3 87.5,79.3 88.5,79.5 88.6,79.5 89.5,79.8 90.5,80.1 91.3,80.5 91.5,80.6 92.5,81.0 93.5,81.5 93.5,81.5 94.5,82.0 95.5,82.4 95.7,82.5 96.5,82.9 97.5,83.3 97.8,83.5 98.5,83.8 99.5,84.3 100.0,84.5 100.5,84.7 101.5,85.2 102.2,85.5 102.5,85.7 103.5,86.2 104.0,86.5 104.5,86.9 105.2,87.5 105.5,87.8 106.1,88.5 106.5,89.1 106.9,89.5 107.5,90.5 107.5,90.6 108.0,91.5 108.2,92.5 108.1,93.5 107.7,94.5 107.5,94.8 106.8,95.5 106.5,95.7 105.5,96.1 104.5,96.2 103.5,96.2 102.5,96.2 101.5,96.1 100.5,96.0 99.5,95.7 99.0,95.5 98.5,95.3 97.5,94.9 96.7,94.5 96.5,94.4 95.5,93.9 94.5,93.5 94.5,93.5 93.5,93.0 92.5,92.6 92.4,92.5 91.5,92.1 90.5,91.6 90.2,91.5 89.5,91.2 88.5,90.7 88.0,90.5 87.5,90.2 86.5,89.8 85.9,89.5 85.5,89.3 84.5,88.7 84.2,88.5 83.5,87.9 83.0,87.5 82.5,86.9 82.0,86.5 81.5,85.9 81.1,85.5 80.5,84.8 80.3,84.5 79.8,83.5 79.6,82.5 79.8,81.5 80.5,80.6 80.6,80.5 81.5,80.0 82.5,79.7 83.5,79.6 84.1,79.5ZM0.5,112.6 1.5,112.6 2.5,112.8 3.5,112.9 4.5,113.0 5.5,113.1 6.5,113.3 7.5,113.4 8.1,113.5 8.5,113.5 9.5,113.7 10.5,113.8 11.5,113.9 12.5,114.0 13.5,114.1 14.5,114.2 15.5,114.4 16.5,114.5 16.6,114.5 17.5,114.6 18.5,114.7 19.5,114.8 20.5,114.9 21.5,115.0 22.5,115.1 23.5,115.3 24.0,115.5 24.5,115.7 25.5,116.2 25.9,116.5 26.5,117.0 27.0,117.5 27.5,118.2 27.7,118.5 28.1,119.5 28.4,120.5 28.5,121.4 28.5,121.5 28.5,121.7 28.5,122.5 28.3,123.5 27.9,124.5 27.5,125.2 27.3,125.5 26.5,126.4 26.4,126.5 25.5,127.2 25.0,127.5 24.5,127.7 23.5,128.1 22.5,128.3 21.5,128.4 20.5,128.5 20.3,128.5 19.5,128.6 18.5,128.7 17.5,128.8 16.5,128.9 15.5,129.0 14.5,129.1 13.5,129.3 12.5,129.4 11.5,129.5 11.3,129.5 10.5,129.6 9.5,129.7 8.5,129.9 7.5,130.0 6.5,130.1 5.5,130.2 4.5,130.3 3.5,130.4 2.9,130.5 2.5,130.6 1.5,130.7 0.5,130.8 0.0,130.8 0.0,130.5 0.0,129.5 0.0,128.5 0.0,127.5 0.0,126.5 0.0,125.5 0.0,124.5 0.0,123.5 0.0,122.5 0.0,121.5 0.0,120.5 0.0,119.5 0.0,118.5 0.0,117.5 0.0,116.5 0.0,115.5 0.0,114.5 0.0,113.5 0.0,112.6ZM69.5,130.5 70.5,130.2 71.5,130.1 72.5,130.0 73.5,130.0 74.5,130.1 75.5,130.2 76.5,130.3 77.5,130.4 78.2,130.5 78.5,130.5 79.5,130.6 80.5,130.7 81.5,130.8 82.5,130.9 83.5,131.0 84.5,131.1 85.5,131.3 86.5,131.4 87.5,131.5 87.7,131.5 88.5,131.6 89.5,131.7 90.5,131.8 91.5,131.9 92.5,132.0 93.5,132.1 94.5,132.2 95.5,132.3 96.5,132.4 97.3,132.5 97.5,132.5 98.5,132.6 99.5,132.8 100.5,133.2 101.0,133.5 101.5,133.8 102.1,134.5 102.5,135.1 102.7,135.5 103.1,136.5 103.3,137.5 103.5,138.5 103.5,138.7 103.6,139.5 103.7,140.5 103.8,141.5 103.8,142.5 103.8,143.0 103.5,143.0 102.5,143.0 101.5,143.0 100.5,143.0 99.5,143.0 98.5,143.0 97.5,143.0 96.5,143.0 95.5,143.0 94.5,143.0 93.5,143.0 92.5,143.0 91.5,143.0 90.5,143.0 89.5,143.0 88.5,143.0 87.5,143.0 86.5,143.0 85.5,143.0 84.5,143.0 83.5,143.0 82.5,143.0 81.5,143.0 80.5,143.0 79.5,143.0 78.5,143.0 77.5,143.0 76.5,143.0 75.5,143.0 74.5,143.0 73.5,143.0 72.5,143.0 71.5,143.0 70.5,143.0 70.4,143.0 70.4,142.5 69.5,141.8 69.2,141.5 68.5,140.9 68.1,140.5 67.5,139.8 67.2,139.5 66.5,138.6 66.4,138.5 65.7,137.5 65.5,137.1 65.1,136.5 64.5,135.5 64.5,135.3 64.3,134.5 64.4,133.5 64.5,133.4 65.2,132.5 65.5,132.2 66.5,131.6 66.7,131.5 67.5,131.2 68.5,130.8 69.5,130.5Z"/>
<path fill="#92ff6d" d="M0.5,8.8 1.5,9.1 2.5,9.4 2.6,9.5 3.5,9.9 4.5,10.4 4.8,10.5 5.5,10.9 6.5,11.4 6.8,11.5 7.5,11.9 8.5,12.4 8.6,12.5 9.5,13.0 10.4,13.5 10.5,13.6 11.5,14.1 12.2,14.5 12.5,14.7 13.5,15.3 13.9,15.5 14.5,15.9 15.5,16.4 15.7,16.5 16.5,17.0 17.4,17.5 17.5,17.6 18.5,18.1 19.1,18.5 19.5,18.7 20.5,19.3 20.9,19.5 21.5,19.9 22.5,20.4 22.7,20.5 23.5,21.0 24.4,21.5 24.5,21.5 25.5,22.1 26.2,22.5 26.5,22.7 27.5,23.2 28.0,23.5 28.5,23.8 29.5,24.3 29.8,24.5 30.5,24.9 31.5,25.4 31.6,25.5 32.5,26.0 33.4,26.5 33.5,26.6 34.5,27.1 35.2,27.5 35.5,27.7 36.5,28.2 37.0,28.5 37.5,28.8 38.5,29.3 38.9,29.5 39.5,29.8 40.5,30.4 40.8,30.5 41.5,30.9 42.5,31.5 42.5,31.5 43.5,32.3 43.8,32.5 44.5,33.1 45.1,33.5 45.5,33.8 46.5,34.4 46.7,34.5 47.5,34.9 48.5,35.3 49.0,35.5 49.5,35.7 50.5,36.1 51.5,36.5 51.5,36.5 52.5,37.0 53.5,37.4 53.7,37.5 54.5,37.9 55.5,38.3 55.9,38.5 56.5,38.8 57.5,39.3 57.7,39.5 58.5,40.1 59.0,40.5 59.5,41.0 59.9,41.5 60.5,42.3 60.7,42.5 61.3,43.5 61.5,43.9 61.9,44.5 62.5,45.2 62.7,45.5 63.5,46.2 63.9,46.5 64.5,46.9 65.5,47.5 65.6,47.5 66.5,48.0 67.5,48.4 67.7,48.5 68.5,48.8 69.5,49.2 70.3,49.5 70.5,49.6 71.5,49.9 72.5,50.2 73.4,50.5 73.5,50.5 74.5,50.8 75.5,51.1 76.5,51.4 76.8,51.5 77.5,51.7 78.5,51.9 79.5,52.1 80.5,52.4 80.8,52.5 81.5,52.6 82.5,52.8 83.5,53.0 84.5,53.4 84.8,53.5 85.5,53.6 86.5,53.9 87.3,54.5 87.5,54.7 88.1,55.5 88.3,56.5 88.4,57.5 88.2,58.5 87.6,59.5 87.5,59.6 86.5,60.4 86.3,60.5 85.5,60.9 84.5,61.1 83.5,61.4 82.7,61.5 82.5,61.6 81.5,61.7 80.5,61.9 79.5,62.0 78.5,62.1 77.5,62.3 76.5,62.4 75.8,62.5 75.5,62.6 74.5,62.7 73.5,62.9 72.5,63.1 71.5,63.2 70.5,63.4 69.9,63.5 69.5,63.6 68.5,63.8 67.5,64.1 66.5,64.3 66.0,64.5 65.5,64.7 64.5,65.0 63.5,65.4 63.0,65.5 62.5,65.7 61.5,66.0 60.5,66.2 59.5,66.4 58.8,66.5 58.5,66.6 57.5,66.6 56.5,66.5 56.3,66.5 55.5,66.4 54.5,66.1 53.5,65.7 53.0,65.5 52.5,65.3 51.5,64.9 50.6,64.5 50.5,64.4 49.5,64.0 48.5,63.6 48.3,63.5 47.5,63.2 46.5,62.8 45.6,62.5 45.5,62.5 44.5,62.1 43.5,61.8 42.7,61.5 42.5,61.4 41.5,61.2 40.5,60.9 39.5,60.6 39.2,60.5 38.5,60.3 37.5,60.1 36.5,59.8 35.5,59.5 35.5,59.5 34.5,59.3 33.5,59.0 32.5,58.8 31.5,58.5 31.5,58.5 30.5,58.3 29.5,58.1 28.5,57.8 27.5,57.6 27.3,57.5 26.5,57.3 25.5,57.0 24.5,56.6 24.1,56.5 23.5,56.3 22.5,56.1 21.5,56.0 20.5,55.8 19.5,55.7 18.5,55.6 17.5,55.5 17.1,55.5 16.5,55.4 15.5,55.3 14.5,55.3 13.5,55.2 12.5,55.1 11.5,55.0 10.5,54.9 9.5,54.8 8.5,54.7 7.5,54.6 6.8,54.5 6.5,54.5 5.5,54.4 4.5,54.3 3.5,54.2 2.5,54.1 1.5,54.0 0.5,53.9 0.0,53.9 0.0,53.5 0.0,52.5 0.0,51.5 0.0,50.5 0.0,49.5 0.0,48.5 0.0,47.5 0.0,46.5 0.0,45.5 0.0,44.5 0.0,43.5 0.0,42.5 0.0,41.5 0.0,40.5 0.0,39.5 0.0,38.5 0.0,37.5 0.0,36.5 0.0,35.5 0.0,34.5 0.0,33.5 0.0,32.5 0.0,31.5 0.0,30.5 0.0,29.5 0.0,28.5 0.0,27.5 0.0,26.5 0.0,25.5 0.0,24.5 0.0,23.5 0.0,22.5 0.0,21.5 0.0,20.5 0.0,19.5 0.0,18.5 0.0,17.5 0.0,16.5 0.0,15.5 0.0,14.5 0.0,13.5 0.0,12.5 0.0,11.5 0.0,10.5 0.0,9.5 0.0,8.8ZM83.5,36.2 84.5,36.1 85.5,36.1 86.5,36.2 87.5,36.2 88.5,36.2 89.5,36.3 90.5,36.4 91.2,36.5 91.5,36.6 92.5,36.8 93.5,36.9 94.5,37.1 95.5,37.2 96.5,37.3 97.1,37.5 97.5,37.6 98.5,37.9 99.5,38.3 100.0,38.5 100.5,38.7 101.5,39.1 102.5,39.4 102.8,39.5 103.5,39.7 104.5,40.0 105.5,40.3 106.1,40.5 106.5,40.6 107.5,40.9 108.5,41.2 109.4,41.5 109.5,41.5 110.5,41.8 111.5,42.1 112.5,42.4 112.7,42.5 113.5,42.7 114.5,43.0 115.5,43.3 116.0,43.5 116.5,43.7 117.5,44.0 118.5,44.3 119.3,44.5 119.5,44.6 120.5,44.9 121.5,45.2 122.5,45.5 122.5,45.5 123.5,45.8 124.5,46.1 125.5,46.4 125.8,46.5 126.5,46.7 127.5,47.0 128.5,47.3 129.0,47.5 129.5,47.6 130.5,47.9 131.5,48.2 132.5,48.4 132.8,48.5 133.5,48.6 134.5,48.8 135.5,48.9 136.5,49.1 137.5,49.3 138.3,49.5 138.5,49.5 139.5,49.8 140.5,50.1 141.5,50.4 142.0,50.5 142.5,50.6 143.0,50.6 143.0,51.5 143.0,52.5 143.0,53.5 143.0,54.5 143.0,55.5 143.0,56.5 143.0,57.5 143.0,58.5 143.0,59.5 143.0,60.5 143.0,61.5 143.0,62.5 143.0,63.5 143.0,64.5 143.0,65.5 143.0,66.5 143.0,67.5 143.0,68.5 143.0,69.5 143.0,70.5 143.0,71.5 143.0,72.5 143.0,73.5 143.0,74.5 143.0,75.5 143.0,76.5 143.0,76.8 142.5,76.8 141.5,76.7 140.5,76.5 140.4,76.5 139.5,76.4 138.5,76.2 137.5,76.0 136.5,75.7 135.9,75.5 135.5,75.4 134.5,75.0 133.5,74.7 132.6,74.5 132.5,74.5 131.5,74.2 130.5,74.0 129.5,73.7 128.6,73.5 128.5,73.5 127.5,73.2 126.5,73.0 125.5,72.7 124.6,72.5 124.5,72.5 123.5,72.1 122.5,71.5 122.5,71.5 121.6,70.5 121.5,70.3 121.2,69.5 121.0,68.5 121.1,67.5 121.2,66.5 121.3,65.5 121.0,64.5 120.5,64.1 119.5,63.6 119.2,63.5 118.5,63.3 117.5,63.0 116.5,62.8 115.5,62.5 115.3,62.5 114.5,62.3 113.5,62.0 112.5,61.7 112.1,61.5 111.5,61.1 110.8,60.5 110.5,60.1 110.0,59.5 109.5,59.0 108.9,58.5 108.5,58.2 107.5,57.8 106.6,57.5 106.5,57.5 105.5,57.2 104.5,57.0 103.5,56.9 102.5,56.9 101.5,57.0 100.5,57.1 99.5,57.2 98.5,57.2 97.5,57.1 96.5,56.9 95.5,56.5 95.4,56.5 94.5,56.1 93.5,55.7 93.0,55.5 92.5,55.3 91.5,54.8 90.9,54.5 90.5,54.3 89.5,53.7 89.2,53.5 88.5,53.1 87.7,52.5 87.5,52.3 86.5,51.6 86.3,51.5 85.5,50.9 84.8,50.5 84.5,50.3 83.6,49.5 83.5,49.4 82.9,48.5 82.6,47.5 82.6,46.5 82.9,45.5 83.3,44.5 83.5,43.5 83.5,43.5 83.5,43.5 83.1,42.5 82.5,41.8 82.3,41.5 81.7,40.5 81.5,40.0 81.3,39.5 81.3,38.5 81.5,37.9 81.7,37.5 82.5,36.7 82.8,36.5ZM2.5,76.3 3.5,76.3 4.5,76.4 5.1,76.5 5.5,76.6 6.5,77.0 7.5,77.4 7.8,77.5 8.5,77.8 9.5,78.2 10.2,78.5 10.5,78.7 11.5,79.1 12.5,79.5 12.5,79.5 13.5,80.0 14.5,80.4 14.8,80.5 15.5,80.8 16.5,81.2 17.2,81.5 17.5,81.6 18.5,82.0 19.5,82.4 19.7,82.5 20.5,82.9 21.5,83.3 22.0,83.5 22.5,83.7 23.5,84.1 24.4,84.5 24.5,84.5 25.5,85.0 26.5,85.4 26.8,85.5 27.5,85.8 28.5,86.2 29.1,86.5 29.5,86.7 30.5,87.1 31.5,87.5 31.5,87.5 32.5,88.0 33.5,88.4 33.8,88.5 34.5,88.8 35.5,89.2 36.2,89.5 36.5,89.7 37.5,90.1 38.5,90.5 38.5,90.5 39.5,90.9 40.5,91.4 40.8,91.5 41.5,91.8 42.5,92.2 43.2,92.5 43.5,92.6 44.5,93.1 45.5,93.5 45.5,93.5 46.5,93.9 47.5,94.4 47.8,94.5 48.5,94.8 49.5,95.3 49.9,95.5 50.5,95.8 51.5,96.2 52.2,96.5 52.5,96.6 53.5,97.0 54.5,97.2 55.5,97.5 55.7,97.5 56.5,97.7 57.5,98.0 58.5,98.4 58.6,98.5 59.5,99.0 60.5,99.5 60.6,99.5 61.5,100.0 62.5,100.4 62.7,100.5 63.5,100.8 64.5,101.3 65.1,101.5 65.5,101.7 66.5,102.1 67.5,102.5 67.5,102.5 68.5,102.9 69.5,103.3 70.0,103.5 70.5,103.7 71.5,104.1 72.5,104.5 72.5,104.5 73.5,104.9 74.5,105.2 75.3,105.5 75.5,105.6 76.5,105.9 77.5,106.2 78.4,106.5 78.5,106.5 79.5,106.9 80.5,107.4 80.8,107.5 81.5,107.8 82.5,108.2 83.3,108.5 83.5,108.6 84.5,108.9 85.5,109.4 85.8,109.5 86.5,109.7 87.5,110.1 88.4,110.5 88.5,110.5 89.5,110.9 90.5,111.3 91.0,111.5 91.5,111.7 92.5,112.0 93.5,112.5 93.6,112.5 94.5,112.8 95.5,113.2 96.2,113.5 96.5,113.6 97.5,114.0 98.5,114.4 98.7,114.5 99.5,114.8 100.5,115.1 101.3,115.5 101.5,115.6 102.5,115.9 103.5,116.3 104.0,116.5 104.5,116.7 105.5,116.9 106.5,117.3 107.0,117.5 107.5,117.7 108.5,118.2 109.1,118.5 109.5,118.7 110.5,119.3 110.8,119.5 111.5,119.8 112.5,120.3 113.0,120.5 113.5,120.7 114.5,121.1 115.1,121.5 115.5,121.8 116.3,122.5 116.5,122.7 117.3,123.5 117.5,123.7 118.5,124.5 118.5,124.5 119.5,125.1 120.3,125.5 120.5,125.6 121.5,126.2 122.0,126.5 122.5,127.0 123.0,127.5 123.5,128.2 123.9,128.5 124.5,129.4 124.7,129.5 124.5,130.2 123.5,130.5 123.4,130.5 122.5,130.6 121.5,130.7 120.5,130.7 119.5,130.6 119.2,130.5 118.5,130.2 117.5,129.8 116.7,129.5 116.5,129.4 115.5,129.1 114.5,128.9 113.5,128.8 112.5,128.7 111.9,128.5 111.5,128.4 110.5,128.1 109.5,127.8 108.8,127.5 108.5,127.4 107.5,127.2 106.5,127.1 105.5,126.9 104.5,126.6 104.3,126.5 103.5,126.2 102.5,125.8 101.9,125.5 101.5,125.3 100.5,124.9 99.7,124.5 99.5,124.4 98.5,124.1 97.5,123.6 97.2,123.5 96.5,123.2 95.5,122.9 94.7,122.5 94.5,122.4 93.5,122.1 92.5,121.7 92.1,121.5 91.5,121.3 90.5,120.9 89.6,120.5 89.5,120.5 88.5,120.1 87.5,119.7 87.0,119.5 86.5,119.3 85.5,119.0 84.5,118.5 84.5,118.5 83.5,118.2 82.5,117.8 81.9,117.5 81.5,117.4 80.5,117.0 79.5,116.6 79.3,116.5 78.5,116.2 77.5,115.9 76.7,115.5 76.5,115.4 75.5,115.1 74.5,114.7 74.2,114.5 73.5,114.2 72.5,113.7 72.2,113.5 71.5,113.2 70.5,112.7 70.2,112.5 69.5,112.2 68.5,111.7 68.0,111.5 67.5,111.3 66.5,110.9 65.7,110.5 65.5,110.4 64.5,110.0 63.5,109.6 63.3,109.5 62.5,109.2 61.5,108.8 60.9,108.5 60.5,108.3 59.5,108.0 58.5,107.6 58.3,107.5 57.5,107.3 56.5,107.0 55.5,106.7 55.1,106.5 54.5,106.3 53.5,105.8 53.0,105.5 52.5,105.2 51.5,104.5 51.5,104.5 50.5,103.9 49.8,103.5 49.5,103.3 48.5,102.9 47.7,102.5 47.5,102.4 46.5,102.0 45.5,101.6 45.3,101.5 44.5,101.1 43.5,100.7 43.0,100.5 42.5,100.3 41.5,99.9 40.7,99.5 40.5,99.4 39.5,99.0 38.5,98.6 38.4,98.5 37.5,98.1 36.5,97.7 36.1,97.5 35.5,97.3 34.5,96.8 33.8,96.5 33.5,96.4 32.5,96.0 31.5,95.5 31.4,95.5 30.5,95.1 29.5,94.7 29.1,94.5 28.5,94.2 27.5,93.8 26.8,93.5 26.5,93.4 25.5,92.9 24.5,92.5 24.5,92.5 23.5,92.1 22.5,91.6 22.2,91.5 21.5,91.2 20.5,90.8 19.9,90.5 19.5,90.3 18.5,89.9 17.6,89.5 17.5,89.5 16.5,89.0 15.5,88.6 15.3,88.5 14.5,88.2 13.5,87.7 13.0,87.5 12.5,87.3 11.5,86.9 10.6,86.5 10.5,86.4 9.5,86.0 8.5,85.6 8.3,85.5 7.5,85.1 6.5,84.7 6.0,84.5 5.5,84.3 4.5,83.9 3.6,83.5 3.5,83.4 2.5,83.0 1.7,82.5 1.5,82.3 0.5,81.6 0.0,81.6 0.0,81.5 0.0,80.5 0.0,79.5 0.0,78.5 0.0,77.5 0.0,76.8 0.5,76.8 1.5,76.5 1.5,76.5ZM87.5,80.4 88.1,80.5 88.5,80.5 89.5,80.8 90.5,81.2 91.1,81.5 91.5,81.7 92.5,82.2 93.3,82.5 93.5,82.6 94.5,83.1 95.5,83.5 95.5,83.5 96.5,84.0 97.5,84.4 97.6,84.5 98.5,84.9 99.5,85.4 99.8,85.5 100.5,85.8 101.5,86.3 101.9,86.5 102.5,86.8 103.5,87.4 103.6,87.5 104.5,88.4 104.6,88.5 105.2,89.5 105.5,90.3 105.6,90.5 105.7,91.5 105.5,92.5 105.5,92.5 104.9,93.5 104.5,93.9 103.5,94.5 103.4,94.5 102.5,94.7 101.5,94.8 100.5,94.7 99.6,94.5 99.5,94.5 98.5,94.0 97.5,93.6 97.3,93.5 96.5,93.1 95.5,92.7 95.1,92.5 94.5,92.2 93.5,91.8 92.9,91.5 92.5,91.3 91.5,90.8 90.7,90.5 90.5,90.4 89.5,89.9 88.6,89.5 88.5,89.5 87.5,89.0 86.5,88.5 86.5,88.5 85.5,87.9 84.9,87.5 84.5,87.1 84.0,86.5 83.5,85.6 83.4,85.5 83.1,84.5 83.0,83.5 83.3,82.5 83.5,82.3 84.2,81.5 84.5,81.3 85.5,80.8 86.5,80.5 86.9,80.5ZM0.5,113.3 1.5,113.4 2.3,113.5 2.5,113.5 3.5,113.6 4.5,113.8 5.5,113.9 6.5,114.0 7.5,114.2 8.5,114.3 9.5,114.4 10.1,114.5 10.5,114.5 11.5,114.7 12.5,114.8 13.5,114.9 14.5,115.0 15.5,115.1 16.5,115.3 17.5,115.4 18.5,115.5 18.6,115.5 19.5,115.6 20.5,115.7 21.5,115.8 22.5,115.9 23.5,116.2 24.3,116.5 24.5,116.6 25.5,117.2 25.8,117.5 26.5,118.2 26.7,118.5 27.2,119.5 27.5,120.3 27.5,120.5 27.7,121.5 27.6,122.5 27.5,123.0 27.4,123.5 26.9,124.5 26.5,125.1 26.2,125.5 25.5,126.2 25.0,126.5 24.5,126.8 23.5,127.2 22.5,127.5 22.1,127.5 21.5,127.6 20.5,127.7 19.5,127.8 18.5,127.9 17.5,128.0 16.5,128.2 15.5,128.3 14.5,128.4 13.5,128.5 13.3,128.5 12.5,128.6 11.5,128.7 10.5,128.9 9.5,129.0 8.5,129.1 7.5,129.2 6.5,129.4 5.5,129.5 5.2,129.5 4.5,129.6 3.5,129.7 2.5,129.9 1.5,130.0 0.5,130.1 0.0,130.1 0.0,129.5 0.0,128.5 0.0,127.5 0.0,126.5 0.0,125.5 0.0,124.5 0.0,123.5 0.0,122.5 0.0,121.5 0.0,120.5 0.0,119.5 0.0,118.5 0.0,117.5 0.0,116.5 0.0,115.5 0.0,114.5 0.0,113.5 0.0,113.3ZM71.5,131.2 72.5,131.1 73.5,131.1 74.5,131.2 75.5,131.3 76.5,131.4 77.5,131.5 77.8,131.5 78.5,131.6 79.5,131.7 80.5,131.8 81.5,131.9 82.5,132.0 83.5,132.1 84.5,132.2 85.5,132.3 86.5,132.4 87.5,132.5 87.6,132.5 88.5,132.6 89.5,132.7 90.5,132.8 91.5,132.9 92.5,133.0 93.5,133.1 94.5,133.2 95.5,133.3 96.5,133.4 97.3,133.5 97.5,133.5 98.5,133.7 99.5,133.9 100.5,134.4 100.6,134.5 101.5,135.3 101.6,135.5 102.1,136.5 102.5,137.5 102.5,137.7 102.7,138.5 102.7,139.5 102.7,140.5 102.6,141.5 102.5,141.9 102.4,142.5 102.4,143.0 101.5,143.0 100.5,143.0 99.5,143.0 98.5,143.0 97.5,143.0 96.5,143.0 95.5,143.0 94.5,143.0 93.5,143.0 92.5,143.0 91.5,143.0 90.5,143.0 89.5,143.0 88.5,143.0 87.5,143.0 86.5,143.0 85.5,143.0 84.5,143.0 83.5,143.0 82.5,143.0 81.5,143.0 80.5,143.0 79.5,143.0 78.5,143.0 77.5,143.0 76.5,143.0 75.5,143.0 75.3,143.0 75.3,142.5 74.5,142.4 73.5,142.2 72.5,142.0 71.5,141.7 71.2,141.5 70.5,141.2 69.5,140.5 69.5,140.5 68.6,139.5 68.5,139.4 67.9,138.5 67.5,137.7 67.4,137.5 67.1,136.5 67.1,135.5 67.3,134.5 67.5,134.2 67.9,133.5 68.5,132.8 68.8,132.5 69.5,132.1 70.5,131.5 70.6,131.5ZM130.5,132.3 131.5,132.0 132.5,131.8 133.5,131.8 134.5,131.9 135.5,132.2 136.3,132.5 136.5,132.6 137.5,133.0 138.5,133.5 138.6,133.5 139.5,133.9 140.5,134.4 140.9,134.5 141.5,134.8 142.5,135.1 143.0,135.1 143.0,135.5 143.0,136.5 143.0,137.5 143.0,138.5 143.0,139.5 143.0,139.6 142.5,139.6 142.0,139.5 141.5,139.3 140.5,138.9 139.5,138.5 139.5,138.5 138.5,138.0 137.5,137.6 137.2,137.5 136.5,137.1 135.5,136.7 134.9,136.5 134.5,136.3 133.5,135.8 132.9,135.5 132.5,135.2 131.7,134.5 131.5,134.2 130.8,133.5 130.5,132.7 130.1,132.5Z"/>
<path fill="#b6ff49" d="M0.5,11.4 0.9,11.5 1.5,11.7 2.5,12.2 3.2,12.5 3.5,12.7 4.5,13.2 5.2,13.5 5.5,13.7 6.5,14.2 7.2,14.5 7.5,14.7 8.5,15.2 9.1,15.5 9.5,15.7 10.5,16.2 11.0,16.5 11.5,16.8 12.5,17.3 13.0,17.5 13.5,17.8 14.5,18.3 14.9,18.5 15.5,18.8 16.5,19.3 16.8,19.5 17.5,19.9 18.5,20.4 18.8,20.5 19.5,20.9 20.5,21.4 20.7,21.5 21.5,21.9 22.5,22.4 22.7,22.5 23.5,22.9 24.5,23.4 24.7,23.5 25.5,23.9 26.5,24.4 26.7,24.5 27.5,24.9 28.5,25.4 28.7,25.5 29.5,25.9 30.5,26.4 30.7,26.5 31.5,26.9 32.5,27.4 32.7,27.5 33.5,27.9 34.5,28.4 34.7,28.5 35.5,28.9 36.5,29.4 36.7,29.5 37.5,29.9 38.5,30.4 38.7,30.5 39.5,30.9 40.5,31.4 40.7,31.5 41.5,31.9 42.5,32.5 42.5,32.5 43.5,33.3 43.8,33.5 44.5,34.0 45.3,34.5 45.5,34.6 46.5,35.1 47.4,35.5 47.5,35.6 48.5,36.0 49.5,36.3 49.9,36.5 50.5,36.7 51.5,37.1 52.5,37.5 52.5,37.5 53.5,37.9 54.5,38.3 54.9,38.5 55.5,38.8 56.5,39.3 57.0,39.5 57.5,39.8 58.5,40.5 58.5,40.5 59.4,41.5 59.5,41.6 60.1,42.5 60.5,43.1 60.7,43.5 61.3,44.5 61.5,44.7 62.1,45.5 62.5,45.9 63.3,46.5 63.5,46.7 64.5,47.3 64.8,47.5 65.5,47.9 66.5,48.4 66.8,48.5 67.5,48.8 68.5,49.2 69.3,49.5 69.5,49.6 70.5,49.9 71.5,50.2 72.3,50.5 72.5,50.5 73.5,50.8 74.5,51.1 75.5,51.4 75.8,51.5 76.5,51.7 77.5,51.9 78.5,52.2 79.5,52.5 79.6,52.5 80.5,52.7 81.5,52.9 82.5,53.1 83.5,53.5 83.6,53.5 84.5,53.7 85.5,54.0 86.5,54.5 86.5,54.5 87.5,55.4 87.6,55.5 88.1,56.5 88.1,57.5 87.9,58.5 87.5,59.2 87.3,59.5 86.5,60.2 85.7,60.5 85.5,60.6 84.5,60.9 83.5,61.2 82.5,61.3 81.5,61.5 81.3,61.5 80.5,61.6 79.5,61.8 78.5,61.9 77.5,62.0 76.5,62.2 75.5,62.3 74.5,62.4 73.9,62.5 73.5,62.6 72.5,62.7 71.5,62.9 70.5,63.1 69.5,63.2 68.5,63.4 68.2,63.5 67.5,63.7 66.5,64.0 65.5,64.3 64.7,64.5 64.5,64.6 63.5,64.9 62.5,65.3 61.6,65.5 61.5,65.5 60.5,65.8 59.5,66.0 58.5,66.1 57.5,66.2 56.5,66.1 55.5,65.9 54.5,65.6 54.2,65.5 53.5,65.3 52.5,64.9 51.7,64.5 51.5,64.4 50.5,64.0 49.5,63.6 49.3,63.5 48.5,63.2 47.5,62.8 46.8,62.5 46.5,62.4 45.5,62.1 44.5,61.7 44.0,61.5 43.5,61.3 42.5,61.0 41.5,60.7 40.7,60.5 40.5,60.4 39.5,60.2 38.5,59.9 37.5,59.6 37.0,59.5 36.5,59.4 35.5,59.1 34.5,58.9 33.5,58.6 33.1,58.5 32.5,58.3 31.5,58.1 30.5,57.9 29.5,57.6 29.0,57.5 28.5,57.4 27.5,57.1 26.5,56.8 25.7,56.5 25.5,56.4 24.5,56.1 23.5,55.7 22.6,55.5 22.5,55.5 21.5,55.3 20.5,55.2 19.5,55.1 18.5,55.0 17.5,54.9 16.5,54.8 15.5,54.7 14.5,54.6 13.8,54.5 13.5,54.5 12.5,54.4 11.5,54.3 10.5,54.2 9.5,54.1 8.5,54.0 7.5,53.9 6.5,53.8 5.5,53.7 4.5,53.6 3.5,53.5 3.5,53.5 2.5,53.4 1.5,53.3 0.5,53.2 0.0,53.2 0.0,52.5 0.0,51.5 0.0,50.5 0.0,49.5 0.0,48.5 0.0,47.5 0.0,46.5 0.0,45.5 0.0,44.5 0.0,43.5 0.0,42.5 0.0,41.5 0.0,40.5 0.0,39.5 0.0,38.5 0.0,37.5 0.0,36.5 0.0,35.5 0.0,34.5 0.0,33.5 0.0,32.5 0.0,31.5 0.0,30.5 0.0,29.5 0.0,28.5 0.0,27.5 0.0,26.5 0.0,25.5 0.0,24.5 0.0,23.5 0.0,22.5 0.0,21.5 0.0,20.5 0.0,19.5 0.0,18.5 0.0,17.5 0.0,16.5 0.0,15.5 0.0,14.5 0.0,13.5 0.0,12.5 0.0,11.5 0.0,11.4ZM84.5,36.4 85.5,36.4 86.4,36.5 86.5,36.5 87.5,36.6 88.5,36.7 89.5,36.7 90.5,36.9 91.5,37.0 92.5,37.2 93.5,37.3 94.5,37.4 95.5,37.5 95.8,37.5 96.5,37.6 97.5,37.8 98.5,38.2 99.4,38.5 99.5,38.5 100.5,38.9 101.5,39.3 102.1,39.5 102.5,39.6 103.5,39.9 104.5,40.2 105.4,40.5 105.5,40.5 106.5,40.8 107.5,41.1 108.5,41.4 108.7,41.5 109.5,41.8 110.5,42.1 111.5,42.3 112.0,42.5 112.5,42.7 113.5,43.0 114.5,43.3 115.3,43.5 115.5,43.6 116.5,43.9 117.5,44.2 118.5,44.5 118.6,44.5 119.5,44.8 120.5,45.1 121.5,45.4 121.8,45.5 122.5,45.7 123.5,46.0 124.5,46.3 125.1,46.5 125.5,46.6 126.5,46.9 127.5,47.2 128.3,47.5 128.5,47.6 129.5,47.9 130.5,48.2 131.5,48.4 131.8,48.5 132.5,48.7 133.5,48.9 134.5,49.0 135.5,49.2 136.5,49.4 137.1,49.5 137.5,49.6 138.5,49.8 139.5,50.1 140.5,50.4 140.9,50.5 141.5,50.7 142.5,50.9 143.0,50.9 143.0,51.5 143.0,52.5 143.0,53.5 143.0,54.5 143.0,55.5 143.0,56.5 143.0,57.5 143.0,58.5 143.0,59.5 143.0,60.5 143.0,61.5 143.0,62.5 143.0,63.5 143.0,64.5 143.0,65.5 143.0,66.5 143.0,67.5 143.0,68.5 143.0,69.5 143.0,70.5 143.0,71.5 143.0,72.5 143.0,73.5 143.0,74.5 143.0,75.5 143.0,76.3 142.5,76.3 141.5,76.2 140.5,76.1 139.5,76.0 138.5,75.8 137.5,75.6 137.3,75.5 136.5,75.3 135.5,74.9 134.5,74.6 134.2,74.5 133.5,74.2 132.5,74.0 131.5,73.7 130.6,73.5 130.5,73.5 129.5,73.2 128.5,73.0 127.5,72.7 126.5,72.5 126.4,72.5 125.5,72.3 124.5,72.0 123.5,71.6 123.3,71.5 122.5,70.8 122.2,70.5 121.7,69.5 121.5,68.5 121.6,67.5 121.9,66.5 122.2,65.5 122.5,64.5 122.1,63.5 121.5,63.0 120.5,62.6 120.2,62.5 119.5,62.3 118.5,62.0 117.5,61.7 116.6,61.5 116.5,61.5 115.5,61.2 114.5,60.9 113.5,60.6 113.1,60.5 112.5,60.2 111.7,59.5 111.5,59.3 110.8,58.5 110.5,58.2 109.6,57.5 109.5,57.5 108.5,57.0 107.5,56.6 107.0,56.5 106.5,56.3 105.5,56.1 104.5,55.9 103.5,55.9 102.5,55.9 101.5,56.0 100.5,56.2 99.5,56.3 98.5,56.3 97.5,56.2 96.5,55.9 95.5,55.5 95.4,55.5 94.5,55.1 93.5,54.7 93.0,54.5 92.5,54.2 91.5,53.7 91.1,53.5 90.5,53.1 89.5,52.5 89.5,52.5 88.5,51.7 88.2,51.5 87.5,50.9 87.0,50.5 86.5,50.1 85.6,49.5 85.5,49.4 84.5,48.5 84.5,48.4 84.1,47.5 84.1,46.5 84.5,45.5 84.5,45.4 85.3,44.5 85.5,43.5 84.5,42.5 84.5,42.5 83.5,41.8 83.2,41.5 82.5,40.8 82.3,40.5 81.9,39.5 81.8,38.5 82.3,37.5 82.5,37.3 83.5,36.6 84.0,36.5ZM1.5,77.2 2.5,76.8 3.5,76.7 4.5,76.7 5.5,77.0 6.5,77.4 6.9,77.5 7.5,77.8 8.5,78.2 9.3,78.5 9.5,78.6 10.5,79.0 11.5,79.4 11.7,79.5 12.5,79.9 13.5,80.3 14.0,80.5 14.5,80.7 15.5,81.2 16.4,81.5 16.5,81.5 17.5,82.0 18.5,82.4 18.8,82.5 19.5,82.8 20.5,83.2 21.2,83.5 21.5,83.6 22.5,84.1 23.5,84.5 23.6,84.5 24.5,84.9 25.5,85.3 25.9,85.5 26.5,85.8 27.5,86.2 28.3,86.5 28.5,86.6 29.5,87.1 30.5,87.5 30.6,87.5 31.5,87.9 32.5,88.3 32.9,88.5 33.5,88.8 34.5,89.2 35.3,89.5 35.5,89.6 36.5,90.0 37.5,90.4 37.6,90.5 38.5,90.9 39.5,91.3 40.0,91.5 40.5,91.8 41.5,92.2 42.3,92.5 42.5,92.6 43.5,93.0 44.5,93.5 44.6,93.5 45.5,93.9 46.5,94.3 46.9,94.5 47.5,94.8 48.5,95.2 49.1,95.5 49.5,95.7 50.5,96.1 51.3,96.5 51.5,96.6 52.5,97.0 53.5,97.3 54.4,97.5 54.5,97.5 55.5,97.8 56.5,98.0 57.5,98.3 58.0,98.5 58.5,98.8 59.5,99.3 60.0,99.5 60.5,99.8 61.5,100.3 62.0,100.5 62.5,100.7 63.5,101.2 64.3,101.5 64.5,101.6 65.5,102.0 66.5,102.4 66.8,102.5 67.5,102.8 68.5,103.2 69.2,103.5 69.5,103.6 70.5,104.0 71.5,104.4 71.7,104.5 72.5,104.9 73.5,105.2 74.3,105.5 74.5,105.6 75.5,106.0 76.5,106.3 77.2,106.5 77.5,106.6 78.5,107.0 79.5,107.4 79.7,107.5 80.5,107.8 81.5,108.2 82.1,108.5 82.5,108.6 83.5,109.0 84.5,109.4 84.6,109.5 85.5,109.8 86.5,110.2 87.2,110.5 87.5,110.6 88.5,111.0 89.5,111.4 89.8,111.5 90.5,111.7 91.5,112.1 92.4,112.5 92.5,112.5 93.5,112.9 94.5,113.3 95.0,113.5 95.5,113.7 96.5,114.1 97.5,114.5 97.5,114.5 98.5,114.8 99.5,115.2 100.1,115.5 100.5,115.6 101.5,116.0 102.5,116.4 102.7,116.5 103.5,116.8 104.5,117.1 105.5,117.4 105.7,117.5 106.5,117.7 107.5,118.1 108.2,118.5 108.5,118.7 109.5,119.3 109.8,119.5 110.5,119.9 111.5,120.4 111.7,120.5 112.5,120.8 113.5,121.2 114.1,121.5 114.5,121.7 115.5,122.4 115.6,122.5 116.5,123.4 116.6,123.5 117.5,124.4 117.7,124.5 118.5,125.1 119.2,125.5 119.5,125.7 120.5,126.2 121.0,126.5 121.5,126.9 122.2,127.5 122.5,128.0 122.8,128.5 122.7,129.5 122.5,129.6 121.5,130.1 120.5,130.2 119.5,130.0 118.5,129.7 118.0,129.5 117.5,129.3 116.5,128.9 115.5,128.6 115.2,128.5 114.5,128.4 113.5,128.3 112.5,128.1 111.5,127.9 110.5,127.5 110.5,127.5 109.5,127.2 108.5,126.9 107.5,126.7 106.5,126.5 106.4,126.5 105.5,126.4 104.5,126.2 103.5,125.8 103.0,125.5 102.5,125.3 101.5,124.8 100.9,124.5 100.5,124.3 99.5,124.0 98.5,123.5 98.5,123.5 97.5,123.2 96.5,122.8 95.9,122.5 95.5,122.4 94.5,122.0 93.5,121.6 93.4,121.5 92.5,121.2 91.5,120.8 90.8,120.5 90.5,120.4 89.5,120.0 88.5,119.6 88.2,119.5 87.5,119.2 86.5,118.9 85.7,118.5 85.5,118.4 84.5,118.1 83.5,117.7 83.1,117.5 82.5,117.3 81.5,116.9 80.5,116.5 80.5,116.5 79.5,116.2 78.5,115.8 77.9,115.5 77.5,115.3 76.5,114.9 75.5,114.5 75.5,114.5 74.5,114.1 73.5,113.7 73.2,113.5 72.5,113.2 71.5,112.7 71.1,112.5 70.5,112.2 69.5,111.8 68.9,111.5 68.5,111.3 67.5,110.9 66.6,110.5 66.5,110.5 65.5,110.1 64.5,109.6 64.2,109.5 63.5,109.2 62.5,108.8 61.8,108.5 61.5,108.4 60.5,108.0 59.5,107.6 59.3,107.5 58.5,107.2 57.5,106.9 56.5,106.6 56.1,106.5 55.5,106.3 54.5,105.9 53.6,105.5 53.5,105.4 52.5,104.8 52.1,104.5 51.5,104.1 50.6,103.5 50.5,103.4 49.5,102.9 48.7,102.5 48.5,102.4 47.5,102.0 46.5,101.6 46.4,101.5 45.5,101.1 44.5,100.7 44.0,100.5 43.5,100.3 42.5,99.8 41.7,99.5 41.5,99.4 40.5,99.0 39.5,98.6 39.4,98.5 38.5,98.1 37.5,97.7 37.1,97.5 36.5,97.2 35.5,96.8 34.8,96.5 34.5,96.4 33.5,95.9 32.5,95.5 32.4,95.5 31.5,95.1 30.5,94.7 30.1,94.5 29.5,94.2 28.5,93.8 27.8,93.5 27.5,93.3 26.5,92.9 25.5,92.5 25.5,92.5 24.5,92.0 23.5,91.6 23.2,91.5 22.5,91.2 21.5,90.8 20.9,90.5 20.5,90.3 19.5,89.9 18.6,89.5 18.5,89.5 17.5,89.0 16.5,88.6 16.3,88.5 15.5,88.2 14.5,87.7 14.0,87.5 13.5,87.3 12.5,86.9 11.7,86.5 11.5,86.4 10.5,86.0 9.5,85.6 9.3,85.5 8.5,85.1 7.5,84.7 7.0,84.5 6.5,84.3 5.5,83.8 4.7,83.5 4.5,83.4 3.5,82.9 2.6,82.5 2.5,82.5 1.5,81.7 1.2,81.5 0.5,80.7 0.0,80.7 0.0,80.5 0.0,79.5 0.0,78.5 0.0,77.7 0.5,77.7 0.7,77.5ZM86.5,82.3 87.5,82.0 88.5,82.0 89.5,82.3 90.1,82.5 90.5,82.7 91.5,83.2 92.3,83.5 92.5,83.6 93.5,84.1 94.5,84.5 94.5,84.5 95.5,85.0 96.5,85.5 96.6,85.5 97.5,86.0 98.5,86.4 98.8,86.5 99.5,86.9 100.5,87.3 100.9,87.5 101.5,87.8 102.5,88.4 102.6,88.5 103.4,89.5 103.5,89.7 103.7,90.5 103.6,91.5 103.5,91.6 102.9,92.5 102.5,92.8 101.5,93.1 100.5,93.1 99.5,92.8 98.7,92.5 98.5,92.4 97.5,91.9 96.5,91.5 96.5,91.5 95.5,91.0 94.5,90.6 94.3,90.5 93.5,90.1 92.5,89.6 92.2,89.5 91.5,89.2 90.5,88.7 90.0,88.5 89.5,88.3 88.5,87.8 87.8,87.5 87.5,87.3 86.5,86.7 86.2,86.5 85.5,85.6 85.5,85.5 85.2,84.5 85.4,83.5 85.5,83.3 86.2,82.5ZM0.5,113.9 1.5,114.0 2.5,114.2 3.5,114.3 4.5,114.4 5.0,114.5 5.5,114.6 6.5,114.7 7.5,114.8 8.5,114.9 9.5,115.1 10.5,115.2 11.5,115.3 12.5,115.5 12.8,115.5 13.5,115.6 14.5,115.7 15.5,115.8 16.5,115.9 17.5,116.0 18.5,116.2 19.5,116.3 20.5,116.4 21.2,116.5 21.5,116.5 22.5,116.7 23.5,117.1 24.4,117.5 24.5,117.6 25.5,118.4 25.6,118.5 26.2,119.5 26.5,120.2 26.6,120.5 26.8,121.5 26.7,122.5 26.5,123.2 26.4,123.5 25.9,124.5 25.5,124.9 24.9,125.5 24.5,125.8 23.5,126.3 23.1,126.5 22.5,126.7 21.5,126.9 20.5,127.0 19.5,127.1 18.5,127.2 17.5,127.3 16.5,127.5 16.1,127.5 15.5,127.6 14.5,127.7 13.5,127.8 12.5,128.0 11.5,128.1 10.5,128.2 9.5,128.3 8.5,128.4 8.1,128.5 7.5,128.6 6.5,128.7 5.5,128.8 4.5,129.0 3.5,129.1 2.5,129.2 1.5,129.3 0.5,129.4 0.0,129.4 0.0,128.5 0.0,127.5 0.0,126.5 0.0,125.5 0.0,124.5 0.0,123.5 0.0,122.5 0.0,121.5 0.0,120.5 0.0,119.5 0.0,118.5 0.0,117.5 0.0,116.5 0.0,115.5 0.0,114.5 0.0,113.9ZM71.5,132.3 72.5,132.1 73.5,132.1 74.5,132.2 75.5,132.2 76.5,132.3 77.5,132.4 78.1,132.5 78.5,132.5 79.5,132.7 80.5,132.8 81.5,132.9 82.5,133.0 83.5,133.1 84.5,133.2 85.5,133.3 86.5,133.4 87.5,133.5 88.0,133.5 88.5,133.6 89.5,133.7 90.5,133.8 91.5,133.9 92.5,134.0 93.5,134.1 94.5,134.2 95.5,134.3 96.5,134.4 97.5,134.5 97.7,134.5 98.5,134.6 99.5,135.0 100.3,135.5 100.5,135.6 101.2,136.5 101.5,137.2 101.6,137.5 101.8,138.5 101.9,139.5 101.7,140.5 101.5,141.3 101.4,141.5 101.0,142.5 101.0,143.0 100.5,143.0 99.5,143.0 98.5,143.0 97.5,143.0 96.5,143.0 95.5,143.0 94.5,143.0 93.5,143.0 92.5,143.0 91.5,143.0 90.5,143.0 89.5,143.0 88.5,143.0 87.5,143.0 86.5,143.0 85.5,143.0 84.6,143.0 84.6,142.5 84.5,142.5 83.5,142.3 82.5,142.2 81.5,142.0 80.5,141.9 79.5,141.8 78.5,141.6 77.5,141.5 77.5,141.5 76.5,141.4 75.5,141.3 74.5,141.2 73.5,141.0 72.5,140.9 71.5,140.6 71.3,140.5 70.5,140.0 69.9,139.5 69.5,139.0 69.1,138.5 68.7,137.5 68.5,136.5 68.6,135.5 68.9,134.5 69.5,133.7 69.7,133.5 70.5,132.8 71.1,132.5ZM133.5,132.3 134.5,132.4 134.9,132.5 135.5,132.7 136.5,133.2 137.4,133.5 137.5,133.6 138.5,134.1 139.5,134.4 139.6,134.5 140.5,134.9 141.5,135.3 142.1,135.5 142.5,135.6 143.0,135.6 143.0,136.5 143.0,137.5 143.0,138.5 143.0,139.2 142.5,139.2 141.5,138.8 140.5,138.5 140.5,138.5 139.5,138.0 138.5,137.6 138.2,137.5 137.5,137.1 136.5,136.7 135.9,136.5 135.5,136.3 134.5,135.8 133.7,135.5 133.5,135.3 132.5,134.6 132.4,134.5 131.9,133.5 132.5,132.6 132.7,132.5Z"/>
<path fill="#dbff24" d="M0.5,18.2 1.5,18.5 1.6,18.5 2.5,18.8 3.5,19.1 4.5,19.5 4.6,19.5 5.5,19.8 6.5,20.1 7.5,20.5 7.6,20.5 8.5,20.8 9.5,21.1 10.5,21.4 10.7,21.5 11.5,21.7 12.5,22.1 13.5,22.4 13.7,22.5 14.5,22.7 15.5,23.1 16.5,23.5 16.6,23.5 17.5,23.8 18.5,24.1 19.5,24.5 19.5,24.5 20.5,24.8 21.5,25.2 22.3,25.5 22.5,25.6 23.5,25.9 24.5,26.3 25.0,26.5 25.5,26.7 26.5,27.1 27.5,27.4 27.6,27.5 28.5,27.8 29.5,28.2 30.2,28.5 30.5,28.6 31.5,29.0 32.5,29.4 32.7,29.5 33.5,29.8 34.5,30.3 35.1,30.5 35.5,30.7 36.5,31.1 37.5,31.5 37.5,31.5 38.5,31.9 39.5,32.3 39.9,32.5 40.5,32.8 41.5,33.3 41.9,33.5 42.5,33.8 43.5,34.4 43.6,34.5 44.5,35.0 45.5,35.5 45.6,35.5 46.5,35.9 47.5,36.3 48.1,36.5 48.5,36.7 49.5,37.0 50.5,37.4 50.8,37.5 51.5,37.8 52.5,38.1 53.5,38.5 53.5,38.5 54.5,38.9 55.5,39.3 55.9,39.5 56.5,39.8 57.5,40.4 57.7,40.5 58.5,41.2 58.8,41.5 59.5,42.4 59.6,42.5 60.2,43.5 60.5,44.1 60.8,44.5 61.5,45.5 61.5,45.5 62.5,46.4 62.6,46.5 63.5,47.1 64.1,47.5 64.5,47.7 65.5,48.3 66.0,48.5 66.5,48.8 67.5,49.2 68.3,49.5 68.5,49.6 69.5,49.9 70.5,50.2 71.3,50.5 71.5,50.6 72.5,50.8 73.5,51.1 74.5,51.4 74.8,51.5 75.5,51.7 76.5,51.9 77.5,52.2 78.5,52.5 78.6,52.5 79.5,52.7 80.5,52.9 81.5,53.2 82.5,53.4 82.7,53.5 83.5,53.7 84.5,54.0 85.5,54.4 85.8,54.5 86.5,54.8 87.2,55.5 87.5,56.0 87.8,56.5 87.9,57.5 87.7,58.5 87.5,58.8 87.0,59.5 86.5,59.9 85.5,60.4 85.1,60.5 84.5,60.7 83.5,61.0 82.5,61.2 81.5,61.3 80.5,61.4 79.6,61.5 79.5,61.5 78.5,61.7 77.5,61.8 76.5,61.9 75.5,62.0 74.5,62.2 73.5,62.3 72.5,62.4 72.0,62.5 71.5,62.6 70.5,62.8 69.5,62.9 68.5,63.1 67.5,63.3 66.8,63.5 66.5,63.6 65.5,63.9 64.5,64.2 63.6,64.5 63.5,64.5 62.5,64.9 61.5,65.1 60.5,65.4 59.9,65.5 59.5,65.6 58.5,65.7 57.5,65.8 56.5,65.7 55.6,65.5 55.5,65.5 54.5,65.2 53.5,64.8 52.7,64.5 52.5,64.4 51.5,64.0 50.5,63.6 50.3,63.5 49.5,63.2 48.5,62.8 47.8,62.5 47.5,62.4 46.5,62.0 45.5,61.7 45.1,61.5 44.5,61.3 43.5,61.0 42.5,60.6 42.0,60.5 41.5,60.3 40.5,60.1 39.5,59.8 38.5,59.5 38.4,59.5 37.5,59.3 36.5,59.0 35.5,58.7 34.6,58.5 34.5,58.5 33.5,58.2 32.5,58.0 31.5,57.7 30.6,57.5 30.5,57.5 29.5,57.2 28.5,57.0 27.5,56.7 26.8,56.5 26.5,56.4 25.5,55.9 24.5,55.5 24.5,55.5 23.5,55.1 22.5,54.8 21.5,54.6 20.5,54.5 20.4,54.5 19.5,54.4 18.5,54.3 17.5,54.2 16.5,54.1 15.5,54.0 14.5,53.9 13.5,53.8 12.5,53.7 11.5,53.6 10.5,53.5 10.5,53.5 9.5,53.4 8.5,53.3 7.5,53.2 6.5,53.1 5.5,53.0 4.5,52.9 3.5,52.8 2.5,52.7 1.5,52.6 0.5,52.5 0.0,52.5 0.0,52.5 0.0,51.5 0.0,50.5 0.0,49.5 0.0,48.5 0.0,47.5 0.0,46.5 0.0,45.5 0.0,44.5 0.0,43.5 0.0,42.5 0.0,41.5 0.0,40.5 0.0,39.5 0.0,38.5 0.0,37.5 0.0,36.5 0.0,35.5 0.0,34.5 0.0,33.5 0.0,32.5 0.0,31.5 0.0,30.5 0.0,29.5 0.0,28.5 0.0,27.5 0.0,26.5 0.0,25.5 0.0,24.5 0.0,23.5 0.0,22.5 0.0,21.5 0.0,20.5 0.0,19.5 0.0,18.5 0.0,18.2ZM83.5,37.2 84.5,36.9 85.5,36.9 86.5,37.0 87.5,37.1 88.5,37.1 89.5,37.2 90.5,37.3 91.5,37.5 91.6,37.5 92.5,37.6 93.5,37.7 94.5,37.7 95.5,37.8 96.5,37.9 97.5,38.1 98.5,38.4 98.8,38.5 99.5,38.8 100.5,39.2 101.5,39.5 101.5,39.5 102.5,39.8 103.5,40.1 104.5,40.4 104.7,40.5 105.5,40.8 106.5,41.1 107.5,41.4 108.0,41.5 108.5,41.7 109.5,42.0 110.5,42.3 111.3,42.5 111.5,42.6 112.5,42.9 113.5,43.2 114.5,43.5 114.6,43.5 115.5,43.8 116.5,44.1 117.5,44.4 117.9,44.5 118.5,44.7 119.5,45.0 120.5,45.3 121.1,45.5 121.5,45.6 122.5,45.9 123.5,46.2 124.4,46.5 124.5,46.5 125.5,46.9 126.5,47.2 127.5,47.5 127.6,47.5 128.5,47.8 129.5,48.1 130.5,48.4 131.0,48.5 131.5,48.7 132.5,48.9 133.5,49.1 134.5,49.3 135.5,49.4 135.9,49.5 136.5,49.6 137.5,49.8 138.5,50.1 139.5,50.4 139.9,50.5 140.5,50.7 141.5,51.0 142.5,51.2 143.0,51.2 143.0,51.5 143.0,52.5 143.0,53.5 143.0,54.5 143.0,55.5 143.0,56.5 143.0,57.5 143.0,58.5 143.0,59.5 143.0,60.5 143.0,61.5 143.0,62.5 143.0,63.5 143.0,64.5 143.0,65.5 143.0,66.5 143.0,67.5 143.0,68.5 143.0,69.5 143.0,70.5 143.0,71.5 143.0,72.5 143.0,73.5 143.0,74.5 143.0,75.5 143.0,75.8 142.5,75.8 141.5,75.8 140.5,75.7 139.5,75.6 139.1,75.5 138.5,75.4 137.5,75.2 136.5,74.8 135.5,74.5 135.5,74.5 134.5,74.1 133.5,73.7 132.6,73.5 132.5,73.5 131.5,73.2 130.5,72.9 129.5,72.7 128.6,72.5 128.5,72.5 127.5,72.2 126.5,72.0 125.5,71.7 124.6,71.5 124.5,71.5 123.5,71.0 122.9,70.5 122.5,69.9 122.3,69.5 122.1,68.5 122.2,67.5 122.5,66.7 122.6,66.5 123.4,65.5 123.5,65.3 124.5,64.6 125.2,64.5 125.5,64.3 126.5,64.4 126.6,64.5 127.5,64.7 128.5,65.1 129.1,65.5 129.5,65.6 130.5,66.0 131.5,66.3 132.3,66.5 132.5,66.5 133.5,66.7 134.5,66.7 135.5,66.6 136.0,66.5 136.5,66.3 137.5,65.8 138.4,65.5 138.2,64.5 137.5,64.2 136.5,63.7 135.8,63.5 135.5,63.4 134.5,63.1 133.5,62.8 132.5,62.5 132.4,62.5 131.5,62.3 130.5,62.2 129.5,62.2 128.5,62.3 127.5,62.3 126.5,62.1 125.5,61.8 125.0,61.5 124.5,61.3 123.5,60.9 122.5,60.6 122.3,60.5 121.5,60.2 120.5,59.9 119.5,59.5 119.4,59.5 118.5,59.2 117.5,58.9 116.5,58.6 116.3,58.5 115.5,58.2 114.5,57.9 113.5,57.5 113.5,57.5 112.5,57.0 111.5,56.5 111.5,56.5 110.5,56.0 109.5,55.7 109.0,55.5 108.5,55.3 107.5,55.0 106.5,54.8 105.5,54.6 104.8,54.5 104.5,54.5 103.5,54.4 102.6,54.5 102.5,54.5 101.5,54.6 100.5,54.8 99.5,54.9 98.5,55.0 97.5,54.8 96.5,54.5 96.4,54.5 95.5,54.1 94.5,53.8 93.8,53.5 93.5,53.4 92.5,52.9 91.8,52.5 91.5,52.3 90.5,51.6 90.4,51.5 89.5,50.7 89.3,50.5 88.5,49.5 88.5,49.5 87.9,48.5 87.8,47.5 88.5,46.7 88.7,46.5 89.5,45.9 90.0,45.5 90.5,44.5 89.8,43.5 89.5,43.4 88.5,42.9 87.5,42.5 87.4,42.5 86.5,42.2 85.5,41.9 84.7,41.5 84.5,41.4 83.5,40.9 83.1,40.5 82.5,39.6 82.5,39.5 82.4,38.5 82.5,38.3 83.0,37.5ZM2.5,77.3 3.5,77.1 4.5,77.2 5.5,77.4 5.8,77.5 6.5,77.8 7.5,78.2 8.4,78.5 8.5,78.6 9.5,79.0 10.5,79.4 10.8,79.5 11.5,79.8 12.5,80.3 13.1,80.5 13.5,80.7 14.5,81.1 15.5,81.5 15.5,81.5 16.5,82.0 17.5,82.3 17.9,82.5 18.5,82.8 19.5,83.2 20.3,83.5 20.5,83.6 21.5,84.1 22.5,84.4 22.6,84.5 23.5,84.9 24.5,85.3 25.0,85.5 25.5,85.7 26.5,86.2 27.3,86.5 27.5,86.6 28.5,87.0 29.5,87.4 29.7,87.5 30.5,87.9 31.5,88.3 32.0,88.5 32.5,88.7 33.5,89.2 34.3,89.5 34.5,89.6 35.5,90.0 36.5,90.4 36.7,90.5 37.5,90.9 38.5,91.3 39.0,91.5 39.5,91.7 40.5,92.2 41.3,92.5 41.5,92.6 42.5,93.0 43.5,93.4 43.6,93.5 44.5,93.9 45.5,94.3 46.0,94.5 46.5,94.8 47.5,95.2 48.2,95.5 48.5,95.6 49.5,96.1 50.5,96.5 50.5,96.5 51.5,97.0 52.5,97.3 53.1,97.5 53.5,97.6 54.5,97.9 55.5,98.1 56.5,98.3 57.2,98.5 57.5,98.6 58.5,99.1 59.4,99.5 59.5,99.6 60.5,100.1 61.3,100.5 61.5,100.6 62.5,101.1 63.5,101.5 63.6,101.5 64.5,101.9 65.5,102.3 66.0,102.5 66.5,102.7 67.5,103.1 68.4,103.5 68.5,103.5 69.5,104.0 70.5,104.4 70.9,104.5 71.5,104.8 72.5,105.2 73.3,105.5 73.5,105.6 74.5,106.0 75.5,106.3 76.0,106.5 76.5,106.7 77.5,107.1 78.5,107.5 78.6,107.5 79.5,107.9 80.5,108.2 81.1,108.5 81.5,108.6 82.5,109.0 83.5,109.4 83.6,109.5 84.5,109.8 85.5,110.2 86.2,110.5 86.5,110.6 87.5,111.0 88.5,111.4 88.8,111.5 89.5,111.8 90.5,112.1 91.3,112.5 91.5,112.6 92.5,112.9 93.5,113.3 93.9,113.5 94.5,113.7 95.5,114.1 96.5,114.5 96.5,114.5 97.5,114.9 98.5,115.3 99.0,115.5 99.5,115.7 100.5,116.0 101.5,116.5 101.6,116.5 102.5,116.8 103.5,117.2 104.5,117.5 104.5,117.5 105.5,117.8 106.5,118.1 107.4,118.5 107.5,118.5 108.5,119.1 109.1,119.5 109.5,119.8 110.5,120.4 110.7,120.5 111.5,120.9 112.5,121.3 113.0,121.5 113.5,121.7 114.5,122.2 114.9,122.5 115.5,123.0 116.0,123.5 116.5,124.1 116.9,124.5 117.5,125.1 118.1,125.5 118.5,125.8 119.5,126.4 119.8,126.5 120.5,127.0 121.2,127.5 121.5,128.1 121.7,128.5 121.5,128.9 120.7,129.5 120.5,129.6 119.9,129.5 119.5,129.4 118.5,129.0 117.5,128.6 117.1,128.5 116.5,128.3 115.5,128.0 114.5,127.9 113.5,127.8 112.5,127.7 111.9,127.5 111.5,127.4 110.5,127.0 109.5,126.7 108.9,126.5 108.5,126.4 107.5,126.2 106.5,126.1 105.5,126.0 104.5,125.8 103.9,125.5 103.5,125.4 102.5,124.9 101.8,124.5 101.5,124.4 100.5,123.9 99.5,123.5 99.5,123.5 98.5,123.1 97.5,122.7 96.9,122.5 96.5,122.3 95.5,122.0 94.5,121.6 94.4,121.5 93.5,121.2 92.5,120.8 91.8,120.5 91.5,120.4 90.5,120.0 89.5,119.6 89.2,119.5 88.5,119.2 87.5,118.8 86.7,118.5 86.5,118.4 85.5,118.1 84.5,117.7 84.1,117.5 83.5,117.3 82.5,116.9 81.6,116.5 81.5,116.5 80.5,116.1 79.5,115.7 78.9,115.5 78.5,115.3 77.5,114.9 76.6,114.5 76.5,114.4 75.5,114.0 74.5,113.6 74.3,113.5 73.5,113.2 72.5,112.7 72.1,112.5 71.5,112.3 70.5,111.8 69.8,111.5 69.5,111.4 68.5,111.0 67.5,110.5 67.4,110.5 66.5,110.1 65.5,109.7 65.0,109.5 64.5,109.3 63.5,108.9 62.6,108.5 62.5,108.4 61.5,108.0 60.5,107.6 60.2,107.5 59.5,107.2 58.5,106.9 57.5,106.6 57.3,106.5 56.5,106.3 55.5,106.0 54.5,105.6 54.3,105.5 53.5,105.0 52.7,104.5 52.5,104.4 51.5,103.6 51.3,103.5 50.5,102.9 49.6,102.5 49.5,102.4 48.5,102.0 47.5,101.5 47.4,101.5 46.5,101.1 45.5,100.7 45.1,100.5 44.5,100.2 43.5,99.8 42.8,99.5 42.5,99.4 41.5,98.9 40.5,98.5 40.4,98.5 39.5,98.1 38.5,97.7 38.1,97.5 37.5,97.2 36.5,96.8 35.8,96.5 35.5,96.3 34.5,95.9 33.5,95.5 33.5,95.5 32.5,95.0 31.5,94.6 31.2,94.5 30.5,94.2 29.5,93.8 28.9,93.5 28.5,93.3 27.5,92.9 26.6,92.5 26.5,92.5 25.5,92.0 24.5,91.6 24.3,91.5 23.5,91.1 22.5,90.7 22.0,90.5 21.5,90.3 20.5,89.9 19.6,89.5 19.5,89.4 18.5,89.0 17.5,88.6 17.3,88.5 16.5,88.1 15.5,87.7 15.0,87.5 14.5,87.3 13.5,86.8 12.7,86.5 12.5,86.4 11.5,86.0 10.5,85.5 10.4,85.5 9.5,85.1 8.5,84.7 8.1,84.5 7.5,84.2 6.5,83.8 5.8,83.5 5.5,83.3 4.5,82.9 3.6,82.5 3.5,82.4 2.5,81.8 2.1,81.5 1.5,80.8 1.2,80.5 0.8,79.5 1.0,78.5 1.5,78.1 2.1,77.5ZM0.5,114.5 1.5,114.6 2.5,114.7 3.5,114.9 4.5,115.0 5.5,115.1 6.5,115.3 7.5,115.4 8.3,115.5 8.5,115.5 9.5,115.6 10.5,115.8 11.5,115.9 12.5,116.0 13.5,116.1 14.5,116.3 15.5,116.4 16.2,116.5 16.5,116.5 17.5,116.6 18.5,116.8 19.5,116.9 20.5,117.0 21.5,117.2 22.5,117.5 22.5,117.5 23.5,118.0 24.3,118.5 24.5,118.8 25.1,119.5 25.5,120.3 25.6,120.5 25.7,121.5 25.7,122.5 25.5,123.0 25.3,123.5 24.7,124.5 24.5,124.7 23.5,125.4 23.4,125.5 22.5,125.9 21.5,126.2 20.5,126.4 19.5,126.5 19.5,126.5 18.5,126.6 17.5,126.8 16.5,126.9 15.5,127.0 14.5,127.1 13.5,127.3 12.5,127.4 11.5,127.5 11.4,127.5 10.5,127.6 9.5,127.8 8.5,127.9 7.5,128.0 6.5,128.1 5.5,128.3 4.5,128.4 3.6,128.5 3.5,128.5 2.5,128.7 1.5,128.8 0.5,128.9 0.0,128.9 0.0,128.5 0.0,127.5 0.0,126.5 0.0,125.5 0.0,124.5 0.0,123.5 0.0,122.5 0.0,121.5 0.0,120.5 0.0,119.5 0.0,118.5 0.0,117.5 0.0,116.5 0.0,115.5 0.0,114.5ZM72.5,133.2 73.5,133.2 74.5,133.2 75.5,133.3 76.5,133.4 77.4,133.5 77.5,133.5 78.5,133.6 79.5,133.7 80.5,133.8 81.5,133.9 82.5,134.0 83.5,134.1 84.5,134.2 85.5,134.3 86.5,134.4 87.5,134.5 87.5,134.5 88.5,134.6 89.5,134.7 90.5,134.8 91.5,134.9 92.5,135.0 93.5,135.1 94.5,135.2 95.5,135.3 96.5,135.4 97.3,135.5 97.5,135.5 98.5,135.7 99.5,136.2 99.8,136.5 100.5,137.4 100.6,137.5 100.8,138.5 100.9,139.5 100.6,140.5 100.5,140.8 100.0,141.5 99.5,142.1 98.9,142.5 98.9,143.0 98.5,143.0 97.5,143.0 96.5,143.0 95.5,143.0 94.9,143.0 94.9,142.5 94.5,142.4 93.5,142.3 92.5,142.1 91.5,142.0 90.5,141.8 89.5,141.7 88.5,141.6 88.1,141.5 87.5,141.4 86.5,141.3 85.5,141.2 84.5,141.1 83.5,141.0 82.5,140.9 81.5,140.8 80.5,140.7 79.5,140.6 78.6,140.5 78.5,140.5 77.5,140.4 76.5,140.3 75.5,140.2 74.5,140.1 73.5,139.9 72.5,139.8 71.7,139.5 71.5,139.4 70.5,138.6 70.4,138.5 69.9,137.5 69.8,136.5 69.9,135.5 70.4,134.5 70.5,134.4 71.5,133.6 71.7,133.5ZM133.5,133.3 134.5,133.2 135.5,133.4 135.7,133.5 136.5,133.9 137.5,134.3 138.0,134.5 138.5,134.8 139.5,135.2 140.2,135.5 140.5,135.7 141.5,136.1 142.5,136.4 143.0,136.4 143.0,136.5 143.0,137.5 143.0,138.5 143.0,138.6 142.5,138.6 142.1,138.5 141.5,138.2 140.5,137.8 139.7,137.5 139.5,137.4 138.5,136.9 137.5,136.5 137.4,136.5 136.5,136.0 135.5,135.6 135.1,135.5 134.5,135.1 133.5,134.6 133.4,134.5 133.2,133.5Z"/>
<path fill="#ffff00" d="M0.5,20.2 1.5,20.5 1.5,20.5 2.5,20.9 3.5,21.2 4.3,21.5 4.5,21.6 5.5,21.9 6.5,22.3 7.1,22.5 7.5,22.6 8.5,23.0 9.5,23.4 9.9,23.5 10.5,23.7 11.5,24.1 12.5,24.4 12.7,24.5 13.5,24.8 14.5,25.2 15.4,25.5 15.5,25.5 16.5,25.9 17.5,26.2 18.2,26.5 18.5,26.6 19.5,27.0 20.5,27.3 21.0,27.5 21.5,27.7 22.5,28.0 23.5,28.4 23.8,28.5 24.5,28.8 25.5,29.1 26.5,29.5 26.5,29.5 27.5,29.8 28.5,30.2 29.3,30.5 29.5,30.6 30.5,30.9 31.5,31.3 32.0,31.5 32.5,31.7 33.5,32.0 34.5,32.4 34.8,32.5 35.5,32.8 36.5,33.1 37.5,33.5 37.5,33.5 38.5,33.9 39.5,34.2 40.3,34.5 40.5,34.6 41.5,34.9 42.5,35.3 43.0,35.5 43.5,35.7 44.5,36.1 45.5,36.4 45.7,36.5 46.5,36.8 47.5,37.1 48.5,37.5 48.6,37.5 49.5,37.8 50.5,38.2 51.5,38.5 51.5,38.5 52.5,38.9 53.5,39.2 54.3,39.5 54.5,39.6 55.5,40.0 56.5,40.4 56.7,40.5 57.5,41.1 58.0,41.5 58.5,42.0 58.9,42.5 59.5,43.4 59.5,43.5 60.1,44.5 60.5,45.1 60.8,45.5 61.5,46.2 61.9,46.5 62.5,46.9 63.3,47.5 63.5,47.6 64.5,48.1 65.2,48.5 65.5,48.7 66.5,49.1 67.4,49.5 67.5,49.5 68.5,49.9 69.5,50.2 70.3,50.5 70.5,50.6 71.5,50.9 72.5,51.1 73.5,51.4 73.8,51.5 74.5,51.7 75.5,51.9 76.5,52.2 77.5,52.5 77.6,52.5 78.5,52.7 79.5,52.9 80.5,53.2 81.5,53.4 81.7,53.5 82.5,53.7 83.5,53.9 84.5,54.3 85.1,54.5 85.5,54.6 86.5,55.2 86.9,55.5 87.5,56.5 87.5,56.6 87.6,57.5 87.5,58.1 87.4,58.5 86.7,59.5 86.5,59.6 85.5,60.2 84.5,60.5 84.4,60.5 83.5,60.8 82.5,61.0 81.5,61.1 80.5,61.2 79.5,61.3 78.5,61.4 77.8,61.5 77.5,61.5 76.5,61.7 75.5,61.8 74.5,61.9 73.5,62.0 72.5,62.2 71.5,62.3 70.5,62.4 70.1,62.5 69.5,62.6 68.5,62.8 67.5,63.0 66.5,63.2 65.5,63.5 65.5,63.5 64.5,63.8 63.5,64.1 62.5,64.5 62.3,64.5 61.5,64.8 60.5,65.0 59.5,65.2 58.5,65.3 57.5,65.4 56.5,65.3 55.5,65.1 54.5,64.8 53.7,64.5 53.5,64.4 52.5,64.0 51.5,63.6 51.3,63.5 50.5,63.2 49.5,62.8 48.8,62.5 48.5,62.4 47.5,62.0 46.5,61.7 46.1,61.5 45.5,61.3 44.5,60.9 43.5,60.6 43.3,60.5 42.5,60.3 41.5,60.0 40.5,59.7 39.8,59.5 39.5,59.4 38.5,59.1 37.5,58.9 36.5,58.6 36.0,58.5 35.5,58.4 34.5,58.1 33.5,57.9 32.5,57.6 32.0,57.5 31.5,57.4 30.5,57.1 29.5,56.9 28.5,56.6 28.0,56.5 27.5,56.3 26.5,55.9 25.6,55.5 25.5,55.5 24.5,54.9 23.5,54.5 23.5,54.5 22.5,54.2 21.5,54.0 20.5,53.8 19.5,53.7 18.5,53.6 17.5,53.5 17.4,53.5 16.5,53.4 15.5,53.3 14.5,53.2 13.5,53.1 12.5,53.0 11.5,52.9 10.5,52.8 9.5,52.7 8.5,52.6 7.6,52.5 7.5,52.5 6.5,52.4 5.5,52.3 4.5,52.2 3.5,52.1 2.5,52.0 1.5,51.9 0.5,51.8 0.0,51.8 0.0,51.5 0.0,50.5 0.0,49.5 0.0,48.5 0.0,47.5 0.0,46.5 0.0,45.5 0.0,44.5 0.0,43.5 0.0,42.5 0.0,41.5 0.0,40.5 0.0,39.5 0.0,38.5 0.0,37.5 0.0,36.5 0.0,35.5 0.0,34.5 0.0,33.5 0.0,32.5 0.0,31.5 0.0,30.5 0.0,29.5 0.0,28.5 0.0,27.5 0.0,26.5 0.0,25.5 0.0,24.5 0.0,23.5 0.0,22.5 0.0,21.5 0.0,20.5 0.0,20.2ZM84.5,37.5 85.5,37.5 86.2,37.5 86.5,37.5 87.5,37.6 88.5,37.7 89.5,37.9 90.5,38.0 91.5,38.1 92.5,38.2 93.5,38.2 94.5,38.1 95.5,38.1 96.5,38.1 97.5,38.3 98.1,38.5 98.5,38.6 99.5,39.0 100.5,39.4 100.9,39.5 101.5,39.7 102.5,40.1 103.5,40.4 104.0,40.5 104.5,40.7 105.5,41.0 106.5,41.3 107.3,41.5 107.5,41.6 108.5,41.9 109.5,42.2 110.5,42.5 110.6,42.5 111.5,42.8 112.5,43.1 113.5,43.4 113.9,43.5 114.5,43.7 115.5,44.0 116.5,44.3 117.1,44.5 117.5,44.6 118.5,44.9 119.5,45.2 120.4,45.5 120.5,45.5 121.5,45.9 122.5,46.2 123.5,46.5 123.7,46.5 124.5,46.8 125.5,47.1 126.5,47.4 126.9,47.5 127.5,47.7 128.5,48.0 129.5,48.3 130.2,48.5 130.5,48.6 131.5,48.9 132.5,49.1 133.5,49.3 134.5,49.5 134.6,49.5 135.5,49.7 136.5,49.9 137.5,50.1 138.5,50.4 138.9,50.5 139.5,50.7 140.5,51.0 141.5,51.2 142.5,51.5 143.0,51.5 143.0,51.5 143.0,52.5 143.0,53.5 143.0,54.5 143.0,55.5 143.0,56.5 143.0,57.5 143.0,58.5 143.0,59.5 143.0,60.5 143.0,61.2 142.5,61.2 141.5,61.0 140.5,60.6 140.3,60.5 139.5,60.3 138.5,60.1 137.5,59.7 137.1,59.5 136.5,59.4 135.5,59.1 134.5,58.8 133.9,58.5 133.5,58.4 132.5,58.2 131.5,57.8 130.7,57.5 130.5,57.5 129.5,57.2 128.5,56.9 127.6,56.5 127.5,56.5 126.5,56.3 125.5,56.0 124.5,55.5 124.4,55.5 123.5,55.3 122.5,55.0 121.5,54.6 121.2,54.5 120.5,54.4 119.5,54.1 118.5,53.7 118.0,53.5 117.5,53.4 116.5,53.1 115.5,52.8 114.9,52.5 114.5,52.4 113.5,52.2 112.5,51.9 111.7,51.5 111.5,51.5 110.5,51.2 109.5,50.9 108.6,50.5 108.5,50.5 107.5,50.3 106.5,50.0 105.5,49.7 105.1,49.5 104.5,49.4 103.5,49.3 102.5,49.2 101.5,49.4 101.3,49.5 101.3,50.5 100.6,51.5 100.5,51.5 99.5,51.9 98.5,52.0 97.5,51.9 96.5,51.6 95.9,51.5 95.5,51.4 94.5,51.0 93.5,50.6 93.4,50.5 92.5,49.5 92.5,49.5 92.4,48.5 92.5,48.3 93.0,47.5 93.5,46.8 93.7,46.5 93.5,46.1 93.4,45.5 92.8,44.5 92.5,44.2 91.9,43.5 91.5,43.1 90.7,42.5 90.5,42.4 89.5,42.0 88.5,41.7 87.8,41.5 87.5,41.4 86.5,41.1 85.5,40.8 84.5,40.5 84.5,40.5 83.5,39.8 83.3,39.5 83.2,38.5 83.5,38.1 84.4,37.5ZM124.5,65.9 125.5,65.8 126.5,65.9 127.5,66.2 128.5,66.5 128.6,66.5 129.5,66.7 130.5,67.0 131.5,67.2 132.5,67.5 132.8,67.5 133.5,67.6 134.5,67.7 135.5,67.5 135.6,67.5 136.5,67.2 137.5,66.9 138.5,66.8 139.5,66.8 140.5,67.0 141.4,67.5 141.5,67.6 142.5,68.1 143.0,68.1 143.0,68.5 143.0,69.5 143.0,70.5 143.0,71.5 143.0,72.5 143.0,73.5 143.0,74.5 143.0,75.3 142.5,75.3 141.5,75.2 140.5,75.2 139.5,75.1 138.5,75.0 137.5,74.7 136.8,74.5 136.5,74.4 135.5,74.0 134.5,73.6 134.3,73.5 133.5,73.1 132.5,72.8 131.5,72.6 131.1,72.5 130.5,72.3 129.5,72.1 128.5,71.8 127.5,71.6 126.9,71.5 126.5,71.4 125.5,71.1 124.5,70.8 123.9,70.5 123.5,70.2 123.0,69.5 122.7,68.5 122.9,67.5 123.5,66.5 123.6,66.5ZM2.5,78.2 3.5,77.7 4.5,77.7 5.5,78.0 6.5,78.3 7.1,78.5 7.5,78.6 8.5,79.1 9.5,79.4 9.7,79.5 10.5,79.9 11.5,80.3 12.1,80.5 12.5,80.7 13.5,81.2 14.4,81.5 14.5,81.5 15.5,82.0 16.5,82.4 16.8,82.5 17.5,82.8 18.5,83.2 19.2,83.5 19.5,83.6 20.5,84.1 21.5,84.5 21.6,84.5 22.5,84.9 23.5,85.3 23.9,85.5 24.5,85.8 25.5,86.2 26.2,86.5 26.5,86.6 27.5,87.1 28.5,87.5 28.6,87.5 29.5,87.9 30.5,88.3 30.9,88.5 31.5,88.8 32.5,89.2 33.2,89.5 33.5,89.6 34.5,90.1 35.5,90.5 35.6,90.5 36.5,91.0 37.5,91.4 37.9,91.5 38.5,91.8 39.5,92.2 40.2,92.5 40.5,92.6 41.5,93.1 42.5,93.5 42.5,93.5 43.5,94.0 44.5,94.4 44.8,94.5 45.5,94.8 46.5,95.2 47.1,95.5 47.5,95.7 48.5,96.1 49.4,96.5 49.5,96.5 50.5,97.0 51.5,97.4 51.8,97.5 52.5,97.8 53.5,98.0 54.5,98.2 55.5,98.3 56.3,98.5 56.5,98.6 57.5,98.9 58.5,99.4 58.8,99.5 59.5,99.9 60.5,100.4 60.6,100.5 61.5,101.0 62.5,101.4 62.8,101.5 63.5,101.8 64.5,102.2 65.2,102.5 65.5,102.6 66.5,103.1 67.5,103.5 67.6,103.5 68.5,103.9 69.5,104.3 70.0,104.5 70.5,104.7 71.5,105.1 72.4,105.5 72.5,105.5 73.5,106.0 74.5,106.4 74.9,106.5 75.5,106.8 76.5,107.1 77.4,107.5 77.5,107.5 78.5,107.9 79.5,108.3 80.1,108.5 80.5,108.6 81.5,109.0 82.5,109.4 82.7,109.5 83.5,109.8 84.5,110.2 85.2,110.5 85.5,110.6 86.5,111.0 87.5,111.4 87.8,111.5 88.5,111.8 89.5,112.1 90.4,112.5 90.5,112.5 91.5,112.9 92.5,113.3 93.0,113.5 93.5,113.7 94.5,114.1 95.5,114.5 95.5,114.5 96.5,114.9 97.5,115.2 98.1,115.5 98.5,115.6 99.5,116.0 100.5,116.4 100.7,116.5 101.5,116.8 102.5,117.2 103.4,117.5 103.5,117.5 104.5,117.8 105.5,118.1 106.5,118.5 106.6,118.5 107.5,118.9 108.5,119.5 108.5,119.5 109.5,120.2 109.9,120.5 110.5,120.9 111.5,121.4 111.9,121.5 112.5,121.8 113.5,122.1 114.2,122.5 114.5,122.7 115.4,123.5 115.5,123.7 116.2,124.5 116.5,125.1 117.0,125.5 117.5,126.2 118.0,126.5 118.5,127.1 119.0,127.5 118.5,127.8 117.5,127.7 116.5,127.5 116.5,127.5 115.5,127.4 114.5,127.4 113.5,127.3 112.5,127.2 111.5,126.9 110.5,126.6 110.3,126.5 109.5,126.2 108.5,126.0 107.5,125.9 106.5,125.8 105.5,125.6 105.0,125.5 104.5,125.4 103.5,125.0 102.5,124.5 102.5,124.5 101.5,124.0 100.5,123.6 100.4,123.5 99.5,123.2 98.5,122.8 97.9,122.5 97.5,122.4 96.5,122.0 95.5,121.6 95.3,121.5 94.5,121.2 93.5,120.8 92.7,120.5 92.5,120.4 91.5,120.0 90.5,119.6 90.2,119.5 89.5,119.2 88.5,118.9 87.6,118.5 87.5,118.5 86.5,118.1 85.5,117.7 85.0,117.5 84.5,117.3 83.5,116.9 82.5,116.5 82.5,116.5 81.5,116.1 80.5,115.8 79.9,115.5 79.5,115.4 78.5,115.0 77.5,114.5 77.5,114.5 76.5,114.0 75.5,113.5 75.4,113.5 74.5,113.1 73.5,112.7 73.1,112.5 72.5,112.2 71.5,111.8 70.7,111.5 70.5,111.4 69.5,111.0 68.5,110.6 68.3,110.5 67.5,110.1 66.5,109.7 65.9,109.5 65.5,109.3 64.5,108.9 63.5,108.5 63.5,108.5 62.5,108.1 61.5,107.7 61.1,107.5 60.5,107.2 59.5,106.9 58.5,106.5 58.4,106.5 57.5,106.2 56.5,105.9 55.5,105.6 55.2,105.5 54.5,105.2 53.5,104.7 53.3,104.5 52.5,103.9 52.0,103.5 51.5,103.1 50.5,102.5 50.5,102.5 49.5,101.9 48.5,101.5 48.5,101.5 47.5,101.0 46.5,100.6 46.3,100.5 45.5,100.1 44.5,99.7 43.9,99.5 43.5,99.3 42.5,98.8 41.6,98.5 41.5,98.4 40.5,98.0 39.5,97.6 39.3,97.5 38.5,97.1 37.5,96.7 37.0,96.5 36.5,96.3 35.5,95.8 34.7,95.5 34.5,95.4 33.5,94.9 32.5,94.6 32.4,94.5 31.5,94.1 30.5,93.7 30.1,93.5 29.5,93.2 28.5,92.8 27.7,92.5 27.5,92.4 26.5,91.9 25.5,91.5 25.4,91.5 24.5,91.1 23.5,90.6 23.1,90.5 22.5,90.2 21.5,89.8 20.8,89.5 20.5,89.3 19.5,88.9 18.5,88.5 18.5,88.5 17.5,88.0 16.5,87.6 16.2,87.5 15.5,87.2 14.5,86.7 13.9,86.5 13.5,86.3 12.5,85.9 11.6,85.5 11.5,85.5 10.5,85.0 9.5,84.6 9.3,84.5 8.5,84.1 7.5,83.7 7.0,83.5 6.5,83.2 5.5,82.8 4.9,82.5 4.5,82.3 3.5,81.8 3.1,81.5 2.5,81.0 2.1,80.5 1.9,79.5 2.2,78.5ZM0.5,115.1 1.5,115.1 2.5,115.3 3.5,115.4 4.2,115.5 4.5,115.5 5.5,115.7 6.5,115.8 7.5,115.9 8.5,116.0 9.5,116.2 10.5,116.3 11.5,116.4 12.1,116.5 12.5,116.5 13.5,116.7 14.5,116.8 15.5,116.9 16.5,117.0 17.5,117.1 18.5,117.3 19.5,117.4 20.2,117.5 20.5,117.5 21.5,117.8 22.5,118.2 23.1,118.5 23.5,118.9 24.1,119.5 24.5,120.4 24.6,120.5 24.8,121.5 24.7,122.5 24.5,123.0 24.3,123.5 23.5,124.5 23.5,124.5 22.5,125.2 21.9,125.5 21.5,125.6 20.5,125.9 19.5,126.0 18.5,126.1 17.5,126.3 16.5,126.4 15.5,126.5 15.3,126.5 14.5,126.6 13.5,126.7 12.5,126.9 11.5,127.0 10.5,127.1 9.5,127.2 8.5,127.4 7.5,127.5 7.4,127.5 6.5,127.6 5.5,127.7 4.5,127.9 3.5,128.0 2.5,128.1 1.5,128.2 0.5,128.3 0.0,128.3 0.0,127.5 0.0,126.5 0.0,125.5 0.0,124.5 0.0,123.5 0.0,122.5 0.0,121.5 0.0,120.5 0.0,119.5 0.0,118.5 0.0,117.5 0.0,116.5 0.0,115.5 0.0,115.1ZM72.5,134.9 73.5,134.7 74.5,134.7 75.5,134.8 76.5,134.9 77.5,135.0 78.5,135.1 79.5,135.2 80.5,135.3 81.5,135.4 82.5,135.5 82.8,135.5 83.5,135.6 84.5,135.7 85.5,135.8 86.5,135.9 87.5,136.0 88.5,136.1 89.5,136.2 90.5,136.3 91.5,136.4 92.5,136.5 93.0,136.5 93.5,136.6 94.5,136.7 95.5,136.8 96.5,136.9 97.5,137.1 98.5,137.4 98.7,137.5 99.4,138.5 99.4,139.5 98.6,140.5 98.5,140.6 97.5,140.8 96.5,140.8 95.5,140.7 94.5,140.6 93.5,140.5 93.4,140.5 92.5,140.4 91.5,140.3 90.5,140.2 89.5,140.0 88.5,139.9 87.5,139.9 86.5,139.8 85.5,139.7 84.5,139.6 83.5,139.5 83.3,139.5 82.5,139.4 81.5,139.3 80.5,139.2 79.5,139.1 78.5,139.0 77.5,138.9 76.5,138.8 75.5,138.7 74.5,138.6 73.5,138.5 73.5,138.5 72.5,138.2 71.7,137.5 71.5,137.1 71.4,136.5 71.5,135.9 71.7,135.5Z"/>
<path fill="#ffdb00" d="M0.5,22.2 1.5,22.4 1.7,22.5 2.5,22.8 3.5,23.2 4.5,23.5 4.5,23.5 5.5,23.9 6.5,24.2 7.3,24.5 7.5,24.6 8.5,25.0 9.5,25.3 10.1,25.5 10.5,25.7 11.5,26.0 12.5,26.4 12.8,26.5 13.5,26.8 14.5,27.1 15.5,27.5 15.6,27.5 16.5,27.8 17.5,28.2 18.3,28.5 18.5,28.6 19.5,28.9 20.5,29.3 21.1,29.5 21.5,29.7 22.5,30.0 23.5,30.4 23.8,30.5 24.5,30.8 25.5,31.1 26.5,31.5 26.5,31.5 27.5,31.9 28.5,32.2 29.2,32.5 29.5,32.6 30.5,33.0 31.5,33.3 32.0,33.5 32.5,33.7 33.5,34.1 34.5,34.4 34.7,34.5 35.5,34.8 36.5,35.2 37.5,35.5 37.5,35.5 38.5,35.9 39.5,36.2 40.5,36.4 40.8,36.5 41.5,36.7 42.5,36.8 43.5,37.1 44.5,37.3 45.3,37.5 45.5,37.6 46.5,37.9 47.5,38.2 48.5,38.5 48.5,38.5 49.5,38.8 50.5,39.2 51.5,39.5 51.7,39.5 52.5,39.8 53.5,40.1 54.5,40.4 54.7,40.5 55.5,40.8 56.5,41.3 56.9,41.5 57.5,42.0 58.0,42.5 58.5,43.2 58.7,43.5 59.3,44.5 59.5,44.7 60.1,45.5 60.5,45.9 61.1,46.5 61.5,46.8 62.5,47.4 62.6,47.5 63.5,48.0 64.4,48.5 64.5,48.5 65.5,49.0 66.5,49.5 66.5,49.5 67.5,49.9 68.5,50.2 69.3,50.5 69.5,50.6 70.5,50.9 71.5,51.1 72.5,51.4 72.8,51.5 73.5,51.7 74.5,51.9 75.5,52.2 76.5,52.4 76.7,52.5 77.5,52.7 78.5,52.9 79.5,53.2 80.5,53.4 80.8,53.5 81.5,53.7 82.5,53.9 83.5,54.2 84.4,54.5 84.5,54.5 85.5,54.9 86.5,55.5 86.5,55.5 87.2,56.5 87.4,57.5 87.2,58.5 86.5,59.4 86.3,59.5 85.5,60.0 84.5,60.3 83.7,60.5 83.5,60.6 82.5,60.8 81.5,60.9 80.5,61.0 79.5,61.1 78.5,61.2 77.5,61.3 76.5,61.4 75.9,61.5 75.5,61.5 74.5,61.7 73.5,61.8 72.5,61.9 71.5,62.0 70.5,62.2 69.5,62.3 68.5,62.5 68.3,62.5 67.5,62.7 66.5,62.9 65.5,63.2 64.5,63.4 64.3,63.5 63.5,63.8 62.5,64.1 61.5,64.4 60.9,64.5 60.5,64.6 59.5,64.8 58.5,64.9 57.5,65.0 56.5,64.9 55.5,64.7 54.9,64.5 54.5,64.4 53.5,64.0 52.5,63.6 52.2,63.5 51.5,63.2 50.5,62.8 49.7,62.5 49.5,62.4 48.5,62.0 47.5,61.7 47.0,61.5 46.5,61.3 45.5,60.9 44.5,60.5 44.4,60.5 43.5,60.2 42.5,59.9 41.5,59.6 41.2,59.5 40.5,59.3 39.5,59.0 38.5,58.8 37.5,58.5 37.4,58.5 36.5,58.3 35.5,58.0 34.5,57.8 33.5,57.5 33.5,57.5 32.5,57.2 31.5,57.0 30.5,56.8 29.5,56.5 29.4,56.5 28.5,56.3 27.5,55.9 26.5,55.5 26.5,55.5 25.5,54.9 24.7,54.5 24.5,54.3 23.5,53.8 22.6,53.5 22.5,53.5 21.5,53.2 20.5,53.1 19.5,52.9 18.5,52.8 17.5,52.7 16.5,52.6 15.5,52.5 15.2,52.5 14.5,52.4 13.5,52.3 12.5,52.2 11.5,52.1 10.5,52.0 9.5,51.9 8.5,51.8 7.5,51.7 6.5,51.6 5.5,51.5 5.5,51.5 4.5,51.4 3.5,51.3 2.5,51.2 1.5,51.1 0.5,51.0 0.0,51.0 0.0,50.5 0.0,49.5 0.0,48.5 0.0,47.5 0.0,46.5 0.0,45.5 0.0,44.5 0.0,43.5 0.0,42.5 0.0,41.5 0.0,40.5 0.0,39.5 0.0,38.5 0.0,37.5 0.0,36.5 0.0,35.5 0.0,34.5 0.0,33.5 0.0,32.5 0.0,31.5 0.0,30.5 0.0,29.5 0.0,28.5 0.0,27.5 0.0,26.5 0.0,25.5 0.0,24.5 0.0,23.5 0.0,22.5 0.0,22.2ZM94.5,38.4 95.5,38.3 96.5,38.4 97.2,38.5 97.5,38.6 98.5,38.9 99.5,39.3 100.2,39.5 100.5,39.6 101.5,40.0 102.5,40.3 103.2,40.5 103.5,40.6 104.5,40.9 105.5,41.2 106.5,41.5 106.5,41.5 107.5,41.8 108.5,42.1 109.5,42.4 109.8,42.5 110.5,42.7 111.5,43.0 112.5,43.3 113.1,43.5 113.5,43.6 114.5,44.0 115.5,44.2 116.4,44.5 116.5,44.5 117.5,44.9 118.5,45.2 119.5,45.5 119.7,45.5 120.5,45.8 121.5,46.1 122.5,46.4 122.9,46.5 123.5,46.7 124.5,47.0 125.5,47.3 126.2,47.5 126.5,47.6 127.5,47.9 128.5,48.2 129.4,48.5 129.5,48.5 130.5,48.9 131.5,49.1 132.5,49.3 133.3,49.5 133.5,49.5 134.5,49.7 135.5,49.9 136.5,50.1 137.5,50.4 138.0,50.5 138.5,50.7 139.5,51.0 140.5,51.2 141.4,51.5 141.5,51.5 142.5,51.8 143.0,51.8 143.0,52.5 143.0,53.5 143.0,54.5 143.0,55.5 143.0,56.5 143.0,57.5 143.0,58.5 143.0,59.5 142.5,59.5 141.5,59.3 140.5,59.1 139.5,58.7 138.9,58.5 138.5,58.4 137.5,58.1 136.5,57.8 135.7,57.5 135.5,57.4 134.5,57.2 133.5,56.9 132.5,56.5 132.5,56.5 131.5,56.2 130.5,55.9 129.5,55.6 129.3,55.5 128.5,55.3 127.5,55.0 126.5,54.7 126.1,54.5 125.5,54.4 124.5,54.1 123.5,53.7 122.9,53.5 122.5,53.4 121.5,53.1 120.5,52.8 119.7,52.5 119.5,52.5 118.5,52.2 117.5,51.9 116.5,51.5 116.5,51.5 115.5,51.3 114.5,51.0 113.5,50.6 113.2,50.5 112.5,50.3 111.5,50.0 110.5,49.7 110.0,49.5 109.5,49.4 108.5,49.1 107.5,48.8 106.8,48.5 106.5,48.4 105.5,48.2 104.5,47.9 103.5,47.5 103.5,47.5 102.5,47.2 101.5,47.0 100.5,46.6 100.2,46.5 99.5,46.3 98.5,46.1 97.5,45.8 96.5,45.5 96.5,45.5 95.5,45.2 94.5,44.7 94.3,44.5 93.5,43.8 93.3,43.5 92.5,42.6 92.4,42.5 91.5,41.6 91.3,41.5 90.5,40.9 89.5,40.6 89.2,40.5 88.5,40.2 87.5,39.9 86.5,39.6 85.9,39.5 86.5,39.0 87.5,38.9 88.5,39.0 89.5,39.0 90.5,39.1 91.5,39.1 92.5,38.9 93.5,38.7 94.1,38.5ZM124.5,67.1 125.5,67.0 126.5,67.1 127.5,67.3 128.4,67.5 128.5,67.5 129.5,67.8 130.5,68.0 131.5,68.2 132.5,68.4 133.3,68.5 133.5,68.5 133.9,68.5 134.5,68.5 135.5,68.3 136.5,68.0 137.5,67.7 138.5,67.5 139.5,67.5 140.5,67.8 141.5,68.4 141.6,68.5 142.5,69.1 143.0,69.1 143.0,69.5 143.0,70.5 143.0,71.5 143.0,72.5 143.0,73.5 143.0,74.5 143.0,74.7 142.5,74.7 141.5,74.7 140.5,74.7 139.5,74.7 138.5,74.5 138.3,74.5 137.5,74.3 136.5,73.9 135.6,73.5 135.5,73.4 134.5,72.8 133.6,72.5 133.5,72.4 132.5,72.0 131.5,71.7 130.5,71.5 130.3,71.5 129.5,71.3 128.5,71.0 127.5,70.8 126.5,70.6 126.1,70.5 125.5,70.3 124.5,69.9 124.0,69.5 123.6,68.5 124.0,67.5ZM3.5,78.9 4.5,78.6 5.5,78.8 6.5,79.0 7.5,79.3 8.2,79.5 8.5,79.6 9.5,80.1 10.5,80.4 10.7,80.5 11.5,80.9 12.5,81.3 13.1,81.5 13.5,81.7 14.5,82.2 15.5,82.5 15.5,82.5 16.5,83.0 17.5,83.4 17.8,83.5 18.5,83.8 19.5,84.3 20.2,84.5 20.5,84.7 21.5,85.1 22.5,85.5 22.5,85.5 23.5,86.0 24.5,86.4 24.9,86.5 25.5,86.8 26.5,87.3 27.2,87.5 27.5,87.7 28.5,88.1 29.5,88.5 29.5,88.5 30.5,89.0 31.5,89.4 31.8,89.5 32.5,89.8 33.5,90.3 34.2,90.5 34.5,90.7 35.5,91.1 36.5,91.5 36.5,91.5 37.5,92.0 38.5,92.4 38.8,92.5 39.5,92.9 40.5,93.3 41.1,93.5 41.5,93.7 42.5,94.2 43.5,94.5 43.5,94.5 44.5,95.0 45.5,95.4 45.8,95.5 46.5,95.9 47.5,96.3 48.0,96.5 48.5,96.7 49.5,97.2 50.3,97.5 50.5,97.6 51.5,98.0 52.5,98.3 53.5,98.4 54.0,98.5 54.5,98.6 55.5,98.7 56.5,98.9 57.5,99.3 58.0,99.5 58.5,99.8 59.5,100.3 59.9,100.5 60.5,100.8 61.5,101.3 61.9,101.5 62.5,101.8 63.5,102.2 64.3,102.5 64.5,102.6 65.5,103.0 66.5,103.4 66.7,103.5 67.5,103.9 68.5,104.3 69.1,104.5 69.5,104.7 70.5,105.1 71.5,105.5 71.5,105.5 72.5,106.0 73.5,106.4 73.8,106.5 74.5,106.8 75.5,107.2 76.2,107.5 76.5,107.6 77.5,108.1 78.5,108.4 78.8,108.5 79.5,108.7 80.5,109.0 81.5,109.4 81.8,109.5 82.5,109.8 83.5,110.2 84.4,110.5 84.5,110.6 85.5,110.9 86.5,111.3 86.9,111.5 87.5,111.7 88.5,112.1 89.5,112.5 89.5,112.5 90.5,112.9 91.5,113.3 92.1,113.5 92.5,113.7 93.5,114.0 94.5,114.4 94.7,114.5 95.5,114.8 96.5,115.2 97.2,115.5 97.5,115.6 98.5,116.0 99.5,116.4 99.8,116.5 100.5,116.8 101.5,117.2 102.4,117.5 102.5,117.5 103.5,117.9 104.5,118.2 105.5,118.5 105.6,118.5 106.5,118.8 107.5,119.2 107.9,119.5 108.5,119.9 109.3,120.5 109.5,120.7 110.5,121.3 110.8,121.5 111.5,121.8 112.5,122.2 113.2,122.5 113.5,122.6 114.5,123.3 114.7,123.5 115.5,124.5 115.5,124.6 115.9,125.5 115.5,126.4 115.4,126.5 114.5,126.8 113.5,126.9 112.5,126.7 111.6,126.5 111.5,126.5 110.5,126.1 109.5,125.8 108.5,125.6 107.9,125.5 107.5,125.5 106.5,125.4 105.5,125.3 104.5,125.1 103.5,124.7 103.2,124.5 102.5,124.1 101.5,123.7 101.2,123.5 100.5,123.2 99.5,122.8 98.8,122.5 98.5,122.4 97.5,122.0 96.5,121.6 96.2,121.5 95.5,121.2 94.5,120.9 93.6,120.5 93.5,120.5 92.5,120.1 91.5,119.7 91.0,119.5 90.5,119.3 89.5,118.9 88.5,118.5 88.5,118.5 87.5,118.1 86.5,117.7 85.9,117.5 85.5,117.3 84.5,117.0 83.5,116.6 83.3,116.5 82.5,116.2 81.5,115.8 80.8,115.5 80.5,115.4 79.5,115.0 78.5,114.6 78.3,114.5 77.5,114.0 76.5,113.5 76.5,113.5 75.5,113.0 74.5,112.6 74.3,112.5 73.5,112.2 72.5,111.8 71.8,111.5 71.5,111.4 70.5,111.0 69.5,110.6 69.3,110.5 68.5,110.1 67.5,109.7 66.9,109.5 66.5,109.3 65.5,108.9 64.5,108.5 64.4,108.5 63.5,108.1 62.5,107.7 62.0,107.5 61.5,107.3 60.5,106.9 59.5,106.5 59.5,106.5 58.5,106.1 57.5,105.8 56.5,105.6 56.2,105.5 55.5,105.2 54.5,104.8 53.9,104.5 53.5,104.2 52.6,103.5 52.5,103.4 51.5,102.5 51.4,102.5 50.5,101.8 49.9,101.5 49.5,101.3 48.5,100.8 47.7,100.5 47.5,100.4 46.5,99.9 45.5,99.5 45.4,99.5 44.5,99.1 43.5,98.7 43.1,98.5 42.5,98.2 41.5,97.8 40.8,97.5 40.5,97.4 39.5,96.9 38.5,96.5 38.4,96.5 37.5,96.0 36.5,95.6 36.1,95.5 35.5,95.2 34.5,94.7 33.8,94.5 33.5,94.3 32.5,93.9 31.5,93.5 31.5,93.5 30.5,93.0 29.5,92.6 29.2,92.5 28.5,92.1 27.5,91.7 26.9,91.5 26.5,91.3 25.5,90.8 24.6,90.5 24.5,90.5 23.5,90.0 22.5,89.6 22.3,89.5 21.5,89.1 20.5,88.7 20.0,88.5 19.5,88.3 18.5,87.8 17.6,87.5 17.5,87.4 16.5,86.9 15.5,86.6 15.3,86.5 14.5,86.1 13.5,85.7 13.0,85.5 12.5,85.2 11.5,84.8 10.7,84.5 10.5,84.4 9.5,83.9 8.5,83.5 8.4,83.5 7.5,83.0 6.5,82.6 6.3,82.5 5.5,82.0 4.6,81.5 4.5,81.4 3.5,80.6 3.4,80.5 3.1,79.5ZM0.5,115.6 1.5,115.7 2.5,115.8 3.5,115.9 4.5,116.0 5.5,116.1 6.5,116.3 7.5,116.4 8.3,116.5 8.5,116.5 9.5,116.6 10.5,116.8 11.5,116.9 12.5,117.0 13.5,117.1 14.5,117.2 15.5,117.4 16.5,117.5 16.5,117.5 17.5,117.6 18.5,117.7 19.5,117.8 20.5,118.0 21.5,118.3 22.0,118.5 22.5,118.8 23.2,119.5 23.5,119.9 23.8,120.5 24.0,121.5 24.0,122.5 23.5,123.5 23.5,123.5 22.6,124.5 22.5,124.6 21.5,125.1 20.5,125.4 19.8,125.5 19.5,125.5 18.5,125.7 17.5,125.8 16.5,125.9 15.5,126.0 14.5,126.2 13.5,126.3 12.5,126.4 11.6,126.5 11.5,126.5 10.5,126.6 9.5,126.8 8.5,126.9 7.5,127.0 6.5,127.1 5.5,127.3 4.5,127.4 3.5,127.5 3.5,127.5 2.5,127.6 1.5,127.7 0.5,127.8 0.0,127.8 0.0,127.5 0.0,126.5 0.0,125.5 0.0,124.5 0.0,123.5 0.0,122.5 0.0,121.5 0.0,120.5 0.0,119.5 0.0,118.5 0.0,117.5 0.0,116.5 0.0,115.6Z"/>
<path fill="#ffb600" d="M0.5,26.4 1.1,26.5 1.5,26.8 2.5,27.2 3.5,27.4 4.3,27.5 4.5,27.7 5.5,28.1 6.5,28.3 7.5,28.5 7.5,28.5 8.5,29.0 9.5,29.3 10.5,29.5 10.6,29.5 11.5,29.9 12.5,30.2 13.5,30.4 13.8,30.5 14.5,30.8 15.5,31.1 16.5,31.4 17.0,31.5 17.5,31.7 18.5,32.1 19.5,32.3 20.3,32.5 20.5,32.6 21.5,33.0 22.5,33.2 23.5,33.5 23.5,33.5 24.5,33.9 25.5,34.2 26.5,34.4 26.7,34.5 27.5,34.8 28.5,35.1 29.5,35.4 29.9,35.5 30.5,35.7 31.5,36.0 32.5,36.3 33.1,36.5 33.5,36.6 34.5,37.0 35.5,37.3 36.3,37.5 36.5,37.6 37.5,37.9 38.5,38.2 39.5,38.4 40.3,38.5 40.5,38.5 41.5,38.6 42.5,38.7 43.5,38.9 44.5,39.0 45.5,39.2 46.5,39.5 46.6,39.5 47.5,39.7 48.5,40.0 49.5,40.3 50.4,40.5 50.5,40.5 51.5,40.8 52.5,41.1 53.5,41.3 54.1,41.5 54.5,41.6 55.5,42.0 56.5,42.5 56.5,42.5 57.5,43.4 57.5,43.5 58.3,44.5 58.5,44.7 59.1,45.5 59.5,45.8 60.3,46.5 60.5,46.7 61.5,47.3 61.8,47.5 62.5,47.9 63.5,48.4 63.6,48.5 64.5,49.0 65.5,49.4 65.7,49.5 66.5,49.9 67.5,50.2 68.2,50.5 68.5,50.6 69.5,50.9 70.5,51.2 71.5,51.4 71.7,51.5 72.5,51.7 73.5,51.9 74.5,52.2 75.5,52.4 75.7,52.5 76.5,52.7 77.5,52.9 78.5,53.2 79.5,53.4 79.9,53.5 80.5,53.6 81.5,53.9 82.5,54.1 83.5,54.4 83.8,54.5 84.5,54.8 85.5,55.1 86.1,55.5 86.5,55.8 87.0,56.5 87.2,57.5 86.9,58.5 86.5,59.1 86.0,59.5 85.5,59.7 84.5,60.1 83.5,60.4 82.9,60.5 82.5,60.6 81.5,60.7 80.5,60.8 79.5,60.9 78.5,61.0 77.5,61.1 76.5,61.2 75.5,61.3 74.5,61.4 73.7,61.5 73.5,61.5 72.5,61.6 71.5,61.7 70.5,61.9 69.5,62.0 68.5,62.1 67.5,62.3 66.7,62.5 66.5,62.5 65.5,62.8 64.5,63.1 63.5,63.4 63.1,63.5 62.5,63.7 61.5,64.0 60.5,64.2 59.5,64.4 58.9,64.5 58.5,64.6 57.5,64.6 56.5,64.5 56.5,64.5 55.5,64.3 54.5,64.0 53.5,63.6 53.2,63.5 52.5,63.2 51.5,62.8 50.7,62.5 50.5,62.4 49.5,62.0 48.5,61.7 48.0,61.5 47.5,61.3 46.5,60.9 45.5,60.5 45.4,60.5 44.5,60.2 43.5,59.8 42.5,59.5 42.5,59.5 41.5,59.2 40.5,58.9 39.5,58.7 38.9,58.5 38.5,58.4 37.5,58.1 36.5,57.9 35.5,57.6 34.9,57.5 34.5,57.4 33.5,57.1 32.5,56.9 31.5,56.6 30.9,56.5 30.5,56.4 29.5,56.1 28.5,55.9 27.5,55.5 27.4,55.5 26.5,55.0 25.6,54.5 25.5,54.4 24.5,53.7 24.2,53.5 23.5,53.0 22.5,52.6 22.0,52.5 21.5,52.3 20.5,52.2 19.5,52.0 18.5,51.9 17.5,51.8 16.5,51.7 15.5,51.6 14.5,51.5 14.2,51.5 13.5,51.4 12.5,51.3 11.5,51.2 10.5,51.1 9.5,51.0 8.5,50.9 7.5,50.8 6.5,50.7 5.5,50.6 4.7,50.5 4.5,50.5 3.5,50.4 2.5,50.2 1.5,50.1 0.5,50.1 0.0,50.1 0.0,49.5 0.0,48.5 0.0,47.5 0.0,46.5 0.0,45.5 0.0,44.5 0.0,43.5 0.0,42.5 0.0,41.5 0.0,40.5 0.0,39.5 0.0,38.5 0.0,37.5 0.0,36.5 0.0,36.4 0.5,36.4 1.3,36.5 1.5,36.5 2.5,36.6 3.5,36.7 4.5,36.8 5.5,36.9 6.5,37.0 7.5,37.1 8.5,37.1 9.5,37.2 10.5,37.3 11.5,37.3 12.5,37.4 13.5,37.4 14.5,37.5 15.5,37.4 16.5,37.4 17.5,37.2 18.5,37.0 19.5,36.5 19.5,36.5 19.5,36.4 19.1,35.5 18.5,35.1 17.7,34.5 17.5,34.4 16.5,33.8 15.9,33.5 15.5,33.2 14.5,32.8 13.8,32.5 13.5,32.3 12.5,31.8 11.5,31.5 11.5,31.5 10.5,31.0 9.5,30.6 9.0,30.5 8.5,30.2 7.5,29.8 6.5,29.5 6.3,29.5 5.5,29.0 4.5,28.7 3.6,28.5 3.5,28.4 2.5,27.9 1.5,27.7 0.5,27.6 0.0,27.6 0.0,27.5 0.0,26.5 0.0,26.4ZM93.5,39.4 94.5,39.0 95.5,38.7 96.5,38.7 97.5,38.9 98.5,39.2 99.5,39.5 99.5,39.5 100.5,39.9 101.5,40.2 102.5,40.5 102.5,40.5 103.5,40.9 104.5,41.2 105.5,41.4 105.7,41.5 106.5,41.8 107.5,42.1 108.5,42.4 109.0,42.5 109.5,42.7 110.5,43.0 111.5,43.3 112.3,43.5 112.5,43.6 113.5,43.9 114.5,44.2 115.5,44.5 115.6,44.5 116.5,44.8 117.5,45.1 118.5,45.4 118.9,45.5 119.5,45.7 120.5,46.0 121.5,46.3 122.1,46.5 122.5,46.6 123.5,47.0 124.5,47.3 125.4,47.5 125.5,47.5 126.5,47.9 127.5,48.2 128.5,48.5 128.6,48.5 129.5,48.8 130.5,49.1 131.5,49.4 132.2,49.5 132.5,49.6 133.5,49.8 134.5,50.0 135.5,50.2 136.5,50.4 136.9,50.5 137.5,50.7 138.5,51.0 139.5,51.2 140.4,51.5 140.5,51.5 141.5,51.8 142.5,52.1 143.0,52.1 143.0,52.5 143.0,53.5 143.0,54.5 143.0,55.5 143.0,56.5 143.0,57.5 143.0,58.5 143.0,58.8 142.5,58.8 141.5,58.5 141.4,58.5 140.5,58.3 139.5,58.0 138.5,57.6 138.1,57.5 137.5,57.3 136.5,57.0 135.5,56.7 134.9,56.5 134.5,56.4 133.5,56.1 132.5,55.8 131.7,55.5 131.5,55.5 130.5,55.2 129.5,54.9 128.5,54.5 128.5,54.5 127.5,54.2 126.5,53.9 125.5,53.6 125.2,53.5 124.5,53.3 123.5,53.0 122.5,52.7 122.0,52.5 121.5,52.4 120.5,52.1 119.5,51.8 118.8,51.5 118.5,51.4 117.5,51.1 116.5,50.8 115.5,50.5 115.5,50.5 114.5,50.2 113.5,49.9 112.5,49.6 112.3,49.5 111.5,49.3 110.5,49.0 109.5,48.7 109.1,48.5 108.5,48.3 107.5,48.1 106.5,47.7 105.8,47.5 105.5,47.4 104.5,47.1 103.5,46.8 102.6,46.5 102.5,46.5 101.5,46.2 100.5,45.9 99.5,45.6 99.3,45.5 98.5,45.3 97.5,45.0 96.5,44.8 95.9,44.5 95.5,44.3 94.5,43.7 94.3,43.5 93.5,42.6 93.4,42.5 92.8,41.5 92.6,40.5 93.2,39.5ZM137.5,68.3 138.5,68.1 139.5,68.2 140.4,68.5 140.5,68.5 141.5,69.2 141.9,69.5 142.5,70.1 143.0,70.1 143.0,70.5 143.0,71.5 143.0,72.5 143.0,73.5 143.0,73.8 142.5,73.8 141.5,73.9 140.5,74.1 139.5,74.1 138.5,74.0 137.5,73.7 136.9,73.5 136.5,73.3 135.5,72.6 135.3,72.5 134.5,71.7 134.1,71.5 133.5,70.5 133.4,70.5 133.5,70.5 134.5,69.7 134.7,69.5 135.5,69.2 136.5,68.7 136.9,68.5ZM7.5,80.4 8.0,80.5 8.5,80.7 9.5,81.1 10.5,81.4 10.8,81.5 11.5,81.9 12.5,82.3 13.2,82.5 13.5,82.7 14.5,83.2 15.5,83.5 15.6,83.5 16.5,84.0 17.5,84.4 17.9,84.5 18.5,84.9 19.5,85.3 20.3,85.5 20.5,85.6 21.5,86.1 22.5,86.5 22.6,86.5 23.5,87.0 24.5,87.4 24.9,87.5 25.5,87.9 26.5,88.3 27.2,88.5 27.5,88.7 28.5,89.1 29.5,89.5 29.6,89.5 30.5,90.0 31.5,90.4 31.9,90.5 32.5,90.9 33.5,91.3 34.2,91.5 34.5,91.7 35.5,92.2 36.5,92.5 36.5,92.5 37.5,93.0 38.5,93.4 38.8,93.5 39.5,93.9 40.5,94.3 41.1,94.5 41.5,94.7 42.5,95.2 43.5,95.5 43.5,95.5 44.5,96.1 45.5,96.4 45.8,96.5 46.5,96.9 47.5,97.3 48.1,97.5 48.5,97.8 49.5,98.2 50.5,98.5 50.5,98.5 51.5,98.9 52.5,99.0 53.5,99.1 54.5,99.1 55.5,99.1 56.5,99.3 57.1,99.5 57.5,99.7 58.5,100.2 59.1,100.5 59.5,100.7 60.5,101.3 61.0,101.5 61.5,101.8 62.5,102.2 63.3,102.5 63.5,102.6 64.5,103.1 65.5,103.4 65.7,103.5 66.5,103.9 67.5,104.3 68.1,104.5 68.5,104.7 69.5,105.1 70.5,105.5 70.5,105.5 71.5,106.0 72.5,106.4 72.7,106.5 73.5,106.9 74.5,107.3 74.9,107.5 75.5,107.8 76.5,108.2 77.2,108.5 77.5,108.6 78.5,108.9 79.5,109.1 80.5,109.3 80.9,109.5 81.5,109.7 82.5,110.1 83.5,110.5 83.5,110.5 84.5,110.9 85.5,111.3 86.1,111.5 86.5,111.7 87.5,112.1 88.5,112.4 88.6,112.5 89.5,112.8 90.5,113.2 91.2,113.5 91.5,113.6 92.5,114.0 93.5,114.4 93.8,114.5 94.5,114.8 95.5,115.2 96.4,115.5 96.5,115.6 97.5,116.0 98.5,116.3 98.9,116.5 99.5,116.7 100.5,117.1 101.5,117.5 101.5,117.5 102.5,117.9 103.5,118.2 104.5,118.5 104.5,118.5 105.5,118.8 106.5,119.1 107.3,119.5 107.5,119.6 108.5,120.3 108.7,120.5 109.5,121.2 110.0,121.5 110.5,121.9 111.5,122.3 111.9,122.5 112.5,122.8 113.5,123.2 113.9,123.5 114.5,124.1 114.7,124.5 114.8,125.5 114.5,125.9 113.5,126.3 112.5,126.2 111.5,125.9 110.5,125.6 110.2,125.5 109.5,125.3 108.5,125.1 107.5,125.1 106.5,125.1 105.5,125.0 104.5,124.7 103.9,124.5 103.5,124.3 102.5,123.8 101.9,123.5 101.5,123.3 100.5,122.9 99.6,122.5 99.5,122.5 98.5,122.1 97.5,121.7 97.1,121.5 96.5,121.3 95.5,120.9 94.5,120.5 94.5,120.5 93.5,120.1 92.5,119.7 91.9,119.5 91.5,119.3 90.5,118.9 89.5,118.6 89.3,118.5 88.5,118.2 87.5,117.8 86.8,117.5 86.5,117.4 85.5,117.0 84.5,116.6 84.2,116.5 83.5,116.2 82.5,115.8 81.6,115.5 81.5,115.5 80.5,115.1 79.5,114.7 79.1,114.5 78.5,114.2 77.5,113.6 77.3,113.5 76.5,112.9 75.6,112.5 75.5,112.4 74.5,112.0 73.5,111.6 73.2,111.5 72.5,111.2 71.5,110.9 70.5,110.5 70.5,110.5 69.5,110.1 68.5,109.7 67.9,109.5 67.5,109.3 66.5,108.9 65.5,108.5 65.5,108.5 64.5,108.0 63.5,107.7 63.1,107.5 62.5,107.2 61.5,106.8 60.6,106.5 60.5,106.4 59.5,106.0 58.5,105.7 57.7,105.5 57.5,105.4 56.5,105.1 55.5,104.8 54.7,104.5 54.5,104.4 53.5,103.7 53.3,103.5 52.5,102.7 52.3,102.5 51.5,101.6 51.3,101.5 50.5,100.8 49.9,100.5 49.5,100.2 48.5,99.8 47.7,99.5 47.5,99.4 46.5,98.9 45.5,98.5 45.4,98.5 44.5,98.0 43.5,97.6 43.1,97.5 42.5,97.1 41.5,96.7 40.8,96.5 40.5,96.3 39.5,95.8 38.5,95.5 38.4,95.5 37.5,95.0 36.5,94.6 36.2,94.5 35.5,94.1 34.5,93.7 33.9,93.5 33.5,93.3 32.5,92.8 31.5,92.5 31.5,92.5 30.5,91.9 29.5,91.6 29.2,91.5 28.5,91.1 27.5,90.7 26.9,90.5 26.5,90.2 25.5,89.8 24.6,89.5 24.5,89.5 23.5,88.9 22.5,88.6 22.3,88.5 21.5,88.0 20.5,87.7 20.0,87.5 19.5,87.2 18.5,86.8 17.7,86.5 17.5,86.4 16.5,85.9 15.5,85.5 15.4,85.5 14.5,85.0 13.5,84.6 13.1,84.5 12.5,84.2 11.5,83.7 10.8,83.5 10.5,83.3 9.5,82.8 8.5,82.5 8.5,82.5 7.5,81.8 7.0,81.5 6.8,80.5ZM0.5,116.1 1.5,116.1 2.5,116.3 3.5,116.4 4.5,116.5 4.5,116.5 5.5,116.6 6.5,116.7 7.5,116.9 8.5,117.0 9.5,117.1 10.5,117.2 11.5,117.3 12.5,117.4 13.0,117.5 13.5,117.6 14.5,117.7 15.5,117.8 16.5,117.9 17.5,118.0 18.5,118.1 19.5,118.2 20.5,118.4 20.8,118.5 21.5,118.8 22.5,119.5 22.5,119.5 23.2,120.5 23.4,121.5 23.3,122.5 22.9,123.5 22.5,123.9 21.8,124.5 21.5,124.6 20.5,125.0 19.5,125.2 18.5,125.3 17.5,125.4 16.5,125.5 16.4,125.5 15.5,125.6 14.5,125.7 13.5,125.8 12.5,126.0 11.5,126.1 10.5,126.2 9.5,126.3 8.5,126.4 7.9,126.5 7.5,126.5 6.5,126.7 5.5,126.8 4.5,126.9 3.5,127.0 2.5,127.1 1.5,127.2 0.5,127.3 0.0,127.3 0.0,126.5 0.0,125.5 0.0,124.5 0.0,123.5 0.0,122.5 0.0,121.5 0.0,120.5 0.0,119.5 0.0,118.5 0.0,117.5 0.0,116.5 0.0,116.1Z"/>
<path fill="#ff9200" d="M0.5,38.1 1.5,38.2 2.5,38.3 3.5,38.4 4.1,38.5 4.5,38.6 5.5,38.7 6.5,38.8 7.5,38.9 8.5,39.1 9.5,39.2 10.5,39.3 11.5,39.4 12.1,39.5 12.5,39.5 13.5,39.7 14.5,39.8 15.5,39.9 16.5,40.0 17.5,40.1 18.5,40.2 19.5,40.3 20.5,40.4 21.0,40.5 21.5,40.6 22.5,40.7 23.5,40.7 24.5,40.8 25.5,40.9 26.5,41.0 27.5,41.1 28.5,41.2 29.5,41.2 30.5,41.3 31.5,41.4 32.5,41.5 32.8,41.5 33.5,41.5 34.5,41.6 35.5,41.7 36.5,41.7 37.5,41.8 38.5,41.8 39.5,41.9 40.5,41.9 41.5,42.0 42.5,42.0 43.5,42.1 44.5,42.2 45.5,42.3 46.5,42.4 47.5,42.5 47.9,42.5 48.5,42.6 49.5,42.7 50.5,42.8 51.5,42.9 52.5,43.1 53.5,43.2 54.5,43.5 54.6,43.5 55.5,43.8 56.5,44.4 56.6,44.5 57.5,45.2 57.8,45.5 58.5,46.0 59.2,46.5 59.5,46.7 60.5,47.3 60.8,47.5 61.5,47.9 62.5,48.4 62.7,48.5 63.5,48.9 64.5,49.4 64.8,49.5 65.5,49.8 66.5,50.2 67.2,50.5 67.5,50.6 68.5,50.9 69.5,51.2 70.5,51.5 70.6,51.5 71.5,51.7 72.5,52.0 73.5,52.2 74.5,52.4 74.7,52.5 75.5,52.7 76.5,52.9 77.5,53.2 78.5,53.4 79.0,53.5 79.5,53.6 80.5,53.8 81.5,54.1 82.5,54.3 83.2,54.5 83.5,54.6 84.5,55.0 85.5,55.4 85.7,55.5 86.5,56.2 86.7,56.5 86.9,57.5 86.7,58.5 86.5,58.7 85.6,59.5 85.5,59.5 84.5,59.9 83.5,60.2 82.5,60.4 81.9,60.5 81.5,60.6 80.5,60.6 79.5,60.7 78.5,60.8 77.5,60.9 76.5,61.0 75.5,61.1 74.5,61.2 73.5,61.3 72.5,61.4 71.5,61.5 71.3,61.5 70.5,61.6 69.5,61.7 68.5,61.8 67.5,62.0 66.5,62.2 65.5,62.4 65.3,62.5 64.5,62.7 63.5,63.0 62.5,63.3 61.8,63.5 61.5,63.6 60.5,63.8 59.5,64.0 58.5,64.1 57.5,64.2 56.5,64.1 55.5,63.8 54.5,63.6 54.4,63.5 53.5,63.2 52.5,62.8 51.7,62.5 51.5,62.4 50.5,62.0 49.5,61.7 49.0,61.5 48.5,61.3 47.5,61.0 46.5,60.6 46.3,60.5 45.5,60.2 44.5,59.8 43.8,59.5 43.5,59.4 42.5,59.1 41.5,58.8 40.5,58.5 40.4,58.5 39.5,58.2 38.5,58.0 37.5,57.7 36.5,57.5 36.5,57.5 35.5,57.2 34.5,57.0 33.5,56.7 32.5,56.5 32.5,56.5 31.5,56.2 30.5,56.0 29.5,55.7 28.5,55.5 28.5,55.5 27.5,55.1 26.5,54.5 26.5,54.5 25.5,53.7 25.2,53.5 24.5,52.8 24.0,52.5 23.5,52.0 22.5,51.5 22.4,51.5 21.5,51.2 20.5,51.0 19.5,50.9 18.5,50.8 17.5,50.7 16.5,50.6 15.6,50.5 15.5,50.5 14.5,50.4 13.5,50.2 12.5,50.1 11.5,50.0 10.5,49.9 9.5,49.8 8.5,49.7 7.5,49.6 6.5,49.5 6.4,49.5 5.5,49.4 4.5,49.3 3.5,49.1 2.5,49.0 1.5,48.9 0.5,48.9 0.0,48.9 0.0,48.5 0.0,47.5 0.0,46.5 0.0,45.5 0.0,44.5 0.0,43.5 0.0,42.5 0.0,41.5 0.0,40.5 0.0,39.5 0.0,38.5 0.0,38.1ZM95.5,39.2 96.5,39.1 97.5,39.2 98.5,39.5 98.6,39.5 99.5,39.8 100.5,40.2 101.5,40.5 101.6,40.5 102.5,40.8 103.5,41.1 104.5,41.4 104.9,41.5 105.5,41.7 106.5,42.0 107.5,42.3 108.2,42.5 108.5,42.6 109.5,43.0 110.5,43.2 111.5,43.5 111.5,43.5 112.5,43.9 113.5,44.2 114.5,44.4 114.7,44.5 115.5,44.8 116.5,45.1 117.5,45.4 118.0,45.5 118.5,45.7 119.5,46.0 120.5,46.3 121.3,46.5 121.5,46.6 122.5,46.9 123.5,47.2 124.5,47.5 124.5,47.5 125.5,47.9 126.5,48.2 127.5,48.4 127.7,48.5 128.5,48.8 129.5,49.1 130.5,49.4 131.1,49.5 131.5,49.6 132.5,49.9 133.5,50.1 134.5,50.3 135.5,50.5 135.7,50.5 136.5,50.7 137.5,51.0 138.5,51.3 139.4,51.5 139.5,51.5 140.5,51.9 141.5,52.2 142.5,52.4 143.0,52.4 143.0,52.5 143.0,53.5 143.0,54.5 143.0,55.5 143.0,56.5 143.0,57.5 143.0,58.2 142.5,58.2 141.5,58.0 140.5,57.7 140.0,57.5 139.5,57.3 138.5,57.0 137.5,56.7 136.8,56.5 136.5,56.4 135.5,56.1 134.5,55.8 133.5,55.5 133.5,55.5 132.5,55.2 131.5,54.9 130.5,54.6 130.3,54.5 129.5,54.3 128.5,54.0 127.5,53.6 127.1,53.5 126.5,53.3 125.5,53.0 124.5,52.7 123.8,52.5 123.5,52.4 122.5,52.1 121.5,51.8 120.6,51.5 120.5,51.5 119.5,51.2 118.5,50.9 117.5,50.5 117.4,50.5 116.5,50.2 115.5,49.9 114.5,49.6 114.1,49.5 113.5,49.3 112.5,49.0 111.5,48.7 110.9,48.5 110.5,48.4 109.5,48.1 108.5,47.8 107.7,47.5 107.5,47.4 106.5,47.1 105.5,46.8 104.5,46.5 104.4,46.5 103.5,46.2 102.5,45.9 101.5,45.6 101.2,45.5 100.5,45.3 99.5,45.0 98.5,44.7 97.8,44.5 97.5,44.4 96.5,44.1 95.5,43.6 95.3,43.5 94.5,42.8 94.2,42.5 93.8,41.5 93.7,40.5 94.5,39.5 94.5,39.5ZM137.5,69.1 138.5,68.8 139.5,68.9 140.5,69.3 140.8,69.5 141.5,70.3 141.7,70.5 142.2,71.5 142.0,72.5 141.5,72.8 140.5,73.3 139.5,73.5 138.5,73.4 137.5,73.0 136.6,72.5 136.5,72.3 135.8,71.5 135.8,70.5 136.5,69.6 136.6,69.5ZM53.5,99.9 54.5,99.7 55.5,99.6 56.5,99.8 57.5,100.2 58.1,100.5 58.5,100.7 59.5,101.3 60.0,101.5 60.5,101.8 61.5,102.3 62.0,102.5 62.5,102.7 63.5,103.2 64.5,103.5 64.5,103.5 65.5,104.0 66.5,104.4 66.8,104.5 67.5,104.8 68.5,105.2 69.2,105.5 69.5,105.7 70.5,106.1 71.5,106.5 71.5,106.5 72.5,107.1 73.5,107.5 73.5,107.5 74.5,108.1 75.4,108.5 75.5,108.6 76.5,109.0 77.5,109.3 78.5,109.4 79.5,109.5 79.5,109.5 80.5,109.7 81.5,110.1 82.5,110.4 82.6,110.5 83.5,110.9 84.5,111.2 85.2,111.5 85.5,111.6 86.5,112.0 87.5,112.4 87.8,112.5 88.5,112.8 89.5,113.2 90.3,113.5 90.5,113.6 91.5,114.0 92.5,114.3 92.9,114.5 93.5,114.8 94.5,115.1 95.5,115.5 95.5,115.5 96.5,115.9 97.5,116.3 98.0,116.5 98.5,116.7 99.5,117.1 100.5,117.5 100.6,117.5 101.5,117.9 102.5,118.2 103.4,118.5 103.5,118.5 104.5,118.8 105.5,119.1 106.5,119.4 106.6,119.5 107.5,120.0 108.2,120.5 108.5,120.8 109.2,121.5 109.5,121.8 110.5,122.5 110.5,122.5 111.5,123.1 112.5,123.4 112.7,123.5 113.5,124.2 113.8,124.5 113.5,125.3 113.0,125.5 112.5,125.5 112.4,125.5 111.5,125.2 110.5,124.8 109.5,124.7 108.5,124.6 107.5,124.7 106.5,124.7 105.5,124.7 104.8,124.5 104.5,124.4 103.5,123.9 102.6,123.5 102.5,123.4 101.5,122.9 100.5,122.5 100.5,122.5 99.5,122.1 98.5,121.7 97.9,121.5 97.5,121.3 96.5,120.9 95.5,120.6 95.4,120.5 94.5,120.1 93.5,119.8 92.8,119.5 92.5,119.4 91.5,119.0 90.5,118.6 90.2,118.5 89.5,118.2 88.5,117.8 87.6,117.5 87.5,117.4 86.5,117.0 85.5,116.7 85.1,116.5 84.5,116.3 83.5,115.9 82.5,115.5 82.5,115.5 81.5,115.1 80.5,114.7 79.9,114.5 79.5,114.3 78.5,113.8 78.0,113.5 77.5,113.0 76.8,112.5 76.5,112.2 75.5,111.6 75.2,111.5 74.5,111.2 73.5,110.8 72.5,110.6 72.2,110.5 71.5,110.2 70.5,109.9 69.5,109.6 69.3,109.5 68.5,109.1 67.5,108.7 66.8,108.5 66.5,108.3 65.5,107.9 64.5,107.5 64.4,107.5 63.5,107.1 62.5,106.7 62.0,106.5 61.5,106.3 60.5,105.9 59.5,105.5 59.4,105.5 58.5,105.2 57.5,104.9 56.5,104.6 56.0,104.5 55.5,104.3 54.5,103.7 54.2,103.5 53.5,102.8 53.2,102.5 52.6,101.5 52.5,100.5ZM0.5,116.6 1.5,116.6 2.5,116.8 3.5,116.9 4.5,117.0 5.5,117.1 6.5,117.2 7.5,117.3 8.5,117.4 9.2,117.5 9.5,117.5 10.5,117.6 11.5,117.8 12.5,117.9 13.5,118.0 14.5,118.1 15.5,118.2 16.5,118.3 17.5,118.4 18.3,118.5 18.5,118.5 19.5,118.6 20.5,118.8 21.5,119.2 21.9,119.5 22.5,120.2 22.7,120.5 23.0,121.5 22.9,122.5 22.5,123.2 22.3,123.5 21.5,124.2 20.7,124.5 20.5,124.6 19.5,124.8 18.5,124.9 17.5,125.0 16.5,125.1 15.5,125.2 14.5,125.3 13.5,125.4 12.8,125.5 12.5,125.5 11.5,125.6 10.5,125.8 9.5,125.9 8.5,126.0 7.5,126.1 6.5,126.2 5.5,126.3 4.5,126.4 3.9,126.5 3.5,126.5 2.5,126.7 1.5,126.8 0.5,126.8 0.0,126.8 0.0,126.5 0.0,125.5 0.0,124.5 0.0,123.5 0.0,122.5 0.0,121.5 0.0,120.5 0.0,119.5 0.0,118.5 0.0,117.5 0.0,116.6Z"/>
<path fill="#ff6d00" d="M96.5,39.4 97.3,39.5 97.5,39.5 98.5,39.9 99.5,40.2 100.5,40.5 100.7,40.5 101.5,40.8 102.5,41.1 103.5,41.4 103.9,41.5 104.5,41.7 105.5,42.1 106.5,42.3 107.2,42.5 107.5,42.6 108.5,43.0 109.5,43.2 110.5,43.5 110.5,43.5 111.5,43.9 112.5,44.2 113.5,44.4 113.8,44.5 114.5,44.8 115.5,45.1 116.5,45.4 117.0,45.5 117.5,45.7 118.5,46.0 119.5,46.3 120.3,46.5 120.5,46.6 121.5,46.9 122.5,47.2 123.5,47.5 123.5,47.5 124.5,47.9 125.5,48.2 126.5,48.4 126.8,48.5 127.5,48.8 128.5,49.1 129.5,49.4 130.0,49.5 130.5,49.7 131.5,50.0 132.5,50.2 133.5,50.4 134.2,50.5 134.5,50.6 135.5,50.8 136.5,51.1 137.5,51.3 138.3,51.5 138.5,51.6 139.5,51.9 140.5,52.2 141.5,52.5 141.7,52.5 142.5,52.7 143.0,52.7 143.0,53.5 143.0,54.5 143.0,55.5 143.0,56.5 143.0,57.5 143.0,57.6 142.5,57.6 141.9,57.5 141.5,57.4 140.5,57.1 139.5,56.8 138.5,56.5 138.5,56.5 137.5,56.2 136.5,55.9 135.5,55.6 135.3,55.5 134.5,55.2 133.5,54.9 132.5,54.6 132.1,54.5 131.5,54.3 130.5,54.0 129.5,53.7 128.8,53.5 128.5,53.4 127.5,53.1 126.5,52.8 125.6,52.5 125.5,52.5 124.5,52.2 123.5,51.9 122.5,51.6 122.3,51.5 121.5,51.2 120.5,50.9 119.5,50.6 119.1,50.5 118.5,50.3 117.5,50.0 116.5,49.7 115.8,49.5 115.5,49.4 114.5,49.1 113.5,48.8 112.6,48.5 112.5,48.5 111.5,48.2 110.5,47.9 109.5,47.5 109.4,47.5 108.5,47.2 107.5,46.9 106.5,46.6 106.1,46.5 105.5,46.3 104.5,46.0 103.5,45.7 102.9,45.5 102.5,45.4 101.5,45.1 100.5,44.8 99.7,44.5 99.5,44.4 98.5,44.1 97.5,43.8 96.6,43.5 96.5,43.5 95.5,42.8 95.1,42.5 94.6,41.5 94.7,40.5 95.5,39.7 96.1,39.5ZM0.5,40.2 1.5,40.3 2.5,40.4 3.5,40.5 3.5,40.5 4.5,40.7 5.5,40.8 6.5,40.9 7.5,41.1 8.5,41.2 9.5,41.3 10.5,41.4 11.0,41.5 11.5,41.6 12.5,41.7 13.5,41.9 14.5,42.0 15.5,42.1 16.5,42.2 17.5,42.4 18.5,42.5 18.7,42.5 19.5,42.6 20.5,42.8 21.5,42.9 22.5,43.0 23.5,43.1 24.5,43.2 25.5,43.3 26.5,43.4 27.5,43.4 28.5,43.5 29.1,43.5 29.5,43.5 30.5,43.6 31.5,43.7 32.5,43.8 33.5,43.9 34.5,44.0 35.5,44.1 36.5,44.1 37.5,44.2 38.5,44.3 39.5,44.4 40.4,44.5 40.5,44.5 41.5,44.6 42.5,44.7 43.5,44.7 44.5,44.8 45.5,44.9 46.5,45.0 47.5,45.0 48.5,45.1 49.5,45.2 50.5,45.2 51.5,45.3 52.5,45.3 53.5,45.4 54.0,45.5 54.5,45.6 55.5,45.8 56.5,46.2 57.2,46.5 57.5,46.6 58.5,47.0 59.5,47.5 59.6,47.5 60.5,47.9 61.5,48.4 61.7,48.5 62.5,48.9 63.5,49.3 63.9,49.5 64.5,49.8 65.5,50.2 66.2,50.5 66.5,50.6 67.5,51.0 68.5,51.3 69.4,51.5 69.5,51.5 70.5,51.8 71.5,52.0 72.5,52.3 73.5,52.5 73.6,52.5 74.5,52.7 75.5,53.0 76.5,53.2 77.5,53.4 78.0,53.5 78.5,53.6 79.5,53.8 80.5,54.1 81.5,54.3 82.5,54.5 82.5,54.5 83.5,54.8 84.5,55.2 85.2,55.5 85.5,55.7 86.4,56.5 86.5,56.6 86.7,57.5 86.5,58.3 86.4,58.5 85.5,59.3 85.0,59.5 84.5,59.7 83.5,60.0 82.5,60.2 81.5,60.4 80.5,60.4 79.9,60.5 79.5,60.5 78.5,60.6 77.5,60.7 76.5,60.8 75.5,60.8 74.5,60.9 73.5,61.0 72.5,61.1 71.5,61.2 70.5,61.3 69.5,61.4 68.7,61.5 68.5,61.5 67.5,61.7 66.5,61.8 65.5,62.1 64.5,62.3 63.9,62.5 63.5,62.6 62.5,62.9 61.5,63.2 60.5,63.4 60.0,63.5 59.5,63.6 58.5,63.7 57.5,63.7 56.5,63.6 55.8,63.5 55.5,63.4 54.5,63.1 53.5,62.7 52.8,62.5 52.5,62.4 51.5,62.0 50.5,61.6 50.1,61.5 49.5,61.3 48.5,61.0 47.5,60.6 47.3,60.5 46.5,60.2 45.5,59.7 44.9,59.5 44.5,59.3 43.5,58.9 42.5,58.6 42.0,58.5 41.5,58.3 40.5,58.0 39.5,57.8 38.5,57.6 38.2,57.5 37.5,57.3 36.5,57.0 35.5,56.8 34.5,56.6 34.2,56.5 33.5,56.3 32.5,56.0 31.5,55.8 30.5,55.6 30.1,55.5 29.5,55.3 28.5,55.0 27.5,54.6 27.3,54.5 26.5,53.9 26.0,53.5 25.5,52.9 25.1,52.5 24.5,51.7 24.3,51.5 23.5,50.5 23.4,50.5 22.5,49.8 21.5,49.5 21.5,49.5 20.5,49.3 19.5,49.1 18.5,49.0 17.5,48.9 16.5,48.8 15.5,48.7 14.5,48.6 13.8,48.5 13.5,48.5 12.5,48.3 11.5,48.2 10.5,48.1 9.5,48.0 8.5,47.8 7.5,47.7 6.5,47.6 5.5,47.5 5.1,47.5 4.5,47.4 3.5,47.3 2.5,47.2 1.5,47.0 0.5,47.0 0.0,47.0 0.0,46.5 0.0,45.5 0.0,44.5 0.0,43.5 0.0,42.5 0.0,41.5 0.0,40.5 0.0,40.2ZM137.5,70.3 138.5,69.7 139.5,69.8 140.4,70.5 140.5,70.9 140.6,71.5 140.5,71.7 139.5,72.5 139.5,72.5 139.4,72.5 138.5,72.4 137.5,71.7 137.3,71.5 137.3,70.5ZM55.5,100.4 56.2,100.5 56.5,100.5 57.5,101.0 58.5,101.5 58.6,101.5 59.5,102.1 60.4,102.5 60.5,102.6 61.5,103.1 62.5,103.5 62.6,103.5 63.5,104.0 64.5,104.4 64.9,104.5 65.5,104.8 66.5,105.2 67.3,105.5 67.5,105.6 68.5,106.1 69.5,106.5 69.6,106.5 70.5,107.1 71.5,107.5 71.5,107.5 72.5,108.3 72.9,108.5 72.5,109.3 71.5,109.2 70.5,108.9 69.5,108.7 68.9,108.5 68.5,108.3 67.5,107.9 66.5,107.6 66.3,107.5 65.5,107.1 64.5,106.7 63.9,106.5 63.5,106.3 62.5,105.8 61.5,105.5 61.4,105.5 60.5,105.0 59.5,104.7 58.6,104.5 58.5,104.5 57.5,104.1 56.5,103.8 55.5,103.5 55.5,103.5 54.5,102.7 54.4,102.5 54.1,101.5 54.5,100.9 55.2,100.5ZM77.5,110.3 78.5,110.0 79.5,110.0 80.5,110.1 81.5,110.4 81.7,110.5 82.5,110.9 83.5,111.2 84.2,111.5 84.5,111.6 85.5,112.0 86.5,112.4 86.8,112.5 87.5,112.8 88.5,113.2 89.4,113.5 89.5,113.6 90.5,114.0 91.5,114.3 91.9,114.5 92.5,114.7 93.5,115.1 94.5,115.5 94.5,115.5 95.5,115.9 96.5,116.3 97.1,116.5 97.5,116.7 98.5,117.1 99.5,117.4 99.7,117.5 100.5,117.9 101.5,118.2 102.3,118.5 102.5,118.6 103.5,118.9 104.5,119.2 105.5,119.4 105.7,119.5 106.5,119.8 107.5,120.4 107.6,120.5 108.5,121.4 108.6,121.5 109.3,122.5 109.5,123.2 109.7,123.5 109.5,123.6 108.5,124.0 107.5,124.2 106.5,124.4 105.5,124.3 104.5,124.0 103.5,123.6 103.3,123.5 102.5,123.0 101.5,122.6 101.3,122.5 100.5,122.1 99.5,121.7 98.9,121.5 98.5,121.3 97.5,120.9 96.5,120.6 96.3,120.5 95.5,120.2 94.5,119.8 93.7,119.5 93.5,119.4 92.5,119.0 91.5,118.6 91.2,118.5 90.5,118.2 89.5,117.8 88.6,117.5 88.5,117.5 87.5,117.0 86.5,116.7 86.0,116.5 85.5,116.3 84.5,115.9 83.5,115.5 83.4,115.5 82.5,115.1 81.5,114.7 80.8,114.5 80.5,114.3 79.5,113.9 78.7,113.5 78.5,113.3 77.6,112.5 77.5,112.3 76.9,111.5 76.8,110.5ZM0.5,117.1 1.5,117.1 2.5,117.2 3.5,117.3 4.5,117.4 5.0,117.5 5.5,117.6 6.5,117.7 7.5,117.8 8.5,117.9 9.5,118.0 10.5,118.1 11.5,118.2 12.5,118.3 13.5,118.4 14.5,118.5 14.6,118.5 15.5,118.6 16.5,118.7 17.5,118.8 18.5,118.9 19.5,119.0 20.5,119.2 21.1,119.5 21.5,119.7 22.2,120.5 22.5,121.5 22.4,122.5 21.7,123.5 21.5,123.7 20.5,124.2 19.5,124.4 18.5,124.5 18.5,124.5 17.5,124.6 16.5,124.7 15.5,124.8 14.5,124.9 13.5,125.0 12.5,125.1 11.5,125.2 10.5,125.3 9.5,125.4 8.8,125.5 8.5,125.5 7.5,125.6 6.5,125.7 5.5,125.8 4.5,125.9 3.5,126.0 2.5,126.2 1.5,126.3 0.5,126.3 0.0,126.3 0.0,125.5 0.0,124.5 0.0,123.5 0.0,122.5 0.0,121.5 0.0,120.5 0.0,119.5 0.0,118.5 0.0,117.5 0.0,117.1Z"/>
<path fill="#ff4900" d="M96.5,40.1 97.5,40.1 98.5,40.3 99.4,40.5 99.5,40.5 100.5,40.9 101.5,41.2 102.5,41.5 102.7,41.5 103.5,41.8 104.5,42.1 105.5,42.4 106.0,42.5 106.5,42.7 107.5,43.0 108.5,43.3 109.3,43.5 109.5,43.6 110.5,44.0 111.5,44.2 112.5,44.5 112.6,44.5 113.5,44.9 114.5,45.2 115.5,45.4 115.8,45.5 116.5,45.8 117.5,46.1 118.5,46.4 119.1,46.5 119.5,46.7 120.5,47.0 121.5,47.3 122.3,47.5 122.5,47.6 123.5,47.9 124.5,48.2 125.5,48.5 125.6,48.5 126.5,48.9 127.5,49.2 128.5,49.4 128.8,49.5 129.5,49.8 130.5,50.1 131.5,50.3 132.5,50.5 132.5,50.5 133.5,50.8 134.5,51.0 135.5,51.2 136.5,51.4 136.8,51.5 137.5,51.7 138.5,52.0 139.5,52.3 140.2,52.5 140.5,52.6 141.5,52.9 142.5,53.1 143.0,53.1 143.0,53.5 143.0,54.5 143.0,55.5 143.0,56.5 143.0,57.0 142.5,57.0 141.5,56.8 140.5,56.5 140.3,56.5 139.5,56.2 138.5,55.9 137.5,55.6 137.1,55.5 136.5,55.3 135.5,55.0 134.5,54.7 133.8,54.5 133.5,54.4 132.5,54.0 131.5,53.8 130.6,53.5 130.5,53.5 129.5,53.1 128.5,52.8 127.5,52.5 127.4,52.5 126.5,52.2 125.5,51.9 124.5,51.6 124.1,51.5 123.5,51.3 122.5,51.0 121.5,50.7 120.9,50.5 120.5,50.4 119.5,50.0 118.5,49.8 117.6,49.5 117.5,49.5 116.5,49.1 115.5,48.8 114.5,48.5 114.4,48.5 113.5,48.2 112.5,47.9 111.5,47.6 111.1,47.5 110.5,47.3 109.5,47.0 108.5,46.7 107.9,46.5 107.5,46.4 106.5,46.0 105.5,45.7 104.6,45.5 104.5,45.5 103.5,45.1 102.5,44.8 101.5,44.5 101.4,44.5 100.5,44.2 99.5,43.8 98.5,43.5 98.4,43.5 97.5,43.1 96.5,42.7 96.2,42.5 95.5,41.6 95.5,41.5 95.5,41.3 95.7,40.5ZM28.5,45.5 29.5,45.4 30.5,45.4 31.5,45.5 31.8,45.5 32.5,45.6 33.5,45.6 34.5,45.7 35.5,45.8 36.5,45.9 37.5,46.0 38.5,46.1 39.5,46.1 40.5,46.2 41.5,46.3 42.5,46.4 43.4,46.5 43.5,46.5 44.5,46.6 45.5,46.7 46.5,46.7 47.5,46.8 48.5,46.8 49.5,46.9 50.5,46.9 51.5,46.9 52.5,47.0 53.5,47.0 54.5,47.1 55.5,47.3 56.5,47.4 56.9,47.5 57.5,47.6 58.5,47.8 59.5,48.1 60.5,48.5 60.5,48.5 61.5,48.9 62.5,49.4 62.8,49.5 63.5,49.8 64.5,50.2 65.2,50.5 65.5,50.6 66.5,51.0 67.5,51.3 68.1,51.5 68.5,51.6 69.5,51.9 70.5,52.1 71.5,52.3 72.3,52.5 72.5,52.6 73.5,52.8 74.5,53.0 75.5,53.2 76.5,53.4 76.9,53.5 77.5,53.6 78.5,53.9 79.5,54.1 80.5,54.3 81.5,54.5 81.6,54.5 82.5,54.7 83.5,55.1 84.5,55.4 84.7,55.5 85.5,56.0 86.1,56.5 86.5,57.5 86.1,58.5 85.5,59.0 84.5,59.5 84.4,59.5 83.5,59.8 82.5,60.0 81.5,60.1 80.5,60.2 79.5,60.3 78.5,60.4 77.5,60.5 77.0,60.5 76.5,60.5 75.5,60.6 74.5,60.7 73.5,60.7 72.5,60.8 71.5,60.9 70.5,61.0 69.5,61.1 68.5,61.2 67.5,61.3 66.5,61.5 66.4,61.5 65.5,61.7 64.5,61.9 63.5,62.2 62.5,62.5 62.3,62.5 61.5,62.7 60.5,62.9 59.5,63.1 58.5,63.3 57.5,63.3 56.5,63.2 55.5,62.9 54.5,62.6 54.1,62.5 53.5,62.3 52.5,61.9 51.5,61.6 51.3,61.5 50.5,61.2 49.5,60.9 48.5,60.6 48.3,60.5 47.5,60.2 46.5,59.8 45.9,59.5 45.5,59.3 44.5,58.8 43.6,58.5 43.5,58.5 42.5,58.1 41.5,57.8 40.5,57.6 40.2,57.5 39.5,57.3 38.5,57.0 37.5,56.8 36.5,56.6 36.2,56.5 35.5,56.3 34.5,56.0 33.5,55.8 32.5,55.6 32.1,55.5 31.5,55.3 30.5,55.1 29.5,54.8 28.5,54.5 28.4,54.5 27.5,54.0 26.9,53.5 26.5,53.1 26.0,52.5 25.5,51.6 25.4,51.5 25.1,50.5 24.8,49.5 24.8,48.5 25.1,47.5 25.5,46.9 25.9,46.5 26.5,46.1 27.5,45.7 28.4,45.5ZM79.5,110.4 80.4,110.5 80.5,110.5 81.5,110.9 82.5,111.3 83.2,111.5 83.5,111.7 84.5,112.1 85.5,112.4 85.7,112.5 86.5,112.8 87.5,113.2 88.3,113.5 88.5,113.6 89.5,114.0 90.5,114.4 90.9,114.5 91.5,114.8 92.5,115.2 93.5,115.5 93.5,115.5 94.5,116.0 95.5,116.3 96.0,116.5 96.5,116.7 97.5,117.1 98.5,117.5 98.6,117.5 99.5,117.9 100.5,118.3 101.2,118.5 101.5,118.6 102.5,119.0 103.5,119.3 104.4,119.5 104.5,119.5 105.5,119.9 106.5,120.2 106.9,120.5 107.5,121.0 108.0,121.5 108.4,122.5 107.9,123.5 107.5,123.7 106.5,123.9 105.5,123.9 104.5,123.6 104.2,123.5 103.5,123.1 102.5,122.6 102.2,122.5 101.5,122.1 100.5,121.7 99.9,121.5 99.5,121.3 98.5,120.9 97.5,120.6 97.4,120.5 96.5,120.1 95.5,119.7 94.8,119.5 94.5,119.4 93.5,118.9 92.5,118.6 92.2,118.5 91.5,118.2 90.5,117.8 89.6,117.5 89.5,117.4 88.5,117.0 87.5,116.6 87.1,116.5 86.5,116.2 85.5,115.8 84.5,115.5 84.5,115.5 83.5,115.1 82.5,114.7 81.9,114.5 81.5,114.3 80.5,113.9 79.5,113.5 79.5,113.5 78.5,112.7 78.3,112.5 78.0,111.5 78.5,110.8 79.1,110.5ZM0.5,117.6 1.5,117.7 2.5,117.8 3.5,117.9 4.5,118.0 5.5,118.1 6.5,118.2 7.5,118.2 8.5,118.3 9.5,118.4 10.3,118.5 10.5,118.5 11.5,118.6 12.5,118.7 13.5,118.8 14.5,118.9 15.5,119.0 16.5,119.1 17.5,119.2 18.5,119.3 19.5,119.4 20.0,119.5 20.5,119.6 21.5,120.3 21.7,120.5 22.0,121.5 21.9,122.5 21.5,123.1 21.0,123.5 20.5,123.8 19.5,124.0 18.5,124.1 17.5,124.2 16.5,124.3 15.5,124.4 14.5,124.5 14.5,124.5 13.5,124.6 12.5,124.7 11.5,124.8 10.5,124.9 9.5,125.0 8.5,125.1 7.5,125.1 6.5,125.2 5.5,125.3 4.5,125.5 4.0,125.5 3.5,125.5 2.5,125.6 1.5,125.7 0.5,125.8 0.0,125.8 0.0,125.5 0.0,124.5 0.0,123.5 0.0,122.5 0.0,121.5 0.0,120.5 0.0,119.5 0.0,118.5 0.0,117.6Z"/>
<path fill="#ff2400" d="M97.5,41.2 98.5,41.1 99.5,41.2 100.5,41.4 100.9,41.5 101.5,41.7 102.5,42.1 103.5,42.3 104.3,42.5 104.5,42.6 105.5,43.0 106.5,43.2 107.5,43.5 107.7,43.5 108.5,43.9 109.5,44.2 110.5,44.4 110.9,44.5 111.5,44.8 112.5,45.1 113.5,45.3 114.2,45.5 114.5,45.6 115.5,46.0 116.5,46.3 117.5,46.5 117.5,46.5 118.5,46.9 119.5,47.2 120.5,47.5 120.7,47.5 121.5,47.9 122.5,48.2 123.5,48.4 123.9,48.5 124.5,48.8 125.5,49.1 126.5,49.4 127.1,49.5 127.5,49.7 128.5,50.1 129.5,50.3 130.5,50.5 130.5,50.5 131.5,50.9 132.5,51.1 133.5,51.3 134.5,51.5 134.8,51.5 135.5,51.7 136.5,52.0 137.5,52.3 138.5,52.5 138.5,52.5 139.5,52.9 140.5,53.2 141.5,53.4 142.0,53.5 142.5,53.7 143.0,53.7 143.0,54.5 143.0,55.5 143.0,56.4 142.5,56.4 141.5,56.1 140.5,55.8 139.5,55.6 139.2,55.5 138.5,55.2 137.5,54.9 136.5,54.6 136.0,54.5 135.5,54.3 134.5,54.0 133.5,53.7 132.8,53.5 132.5,53.4 131.5,53.0 130.5,52.7 129.6,52.5 129.5,52.5 128.5,52.1 127.5,51.8 126.5,51.5 126.3,51.5 125.5,51.2 124.5,50.9 123.5,50.6 123.1,50.5 122.5,50.3 121.5,49.9 120.5,49.7 119.8,49.5 119.5,49.4 118.5,49.0 117.5,48.7 116.5,48.5 116.5,48.5 115.5,48.1 114.5,47.8 113.5,47.6 113.3,47.5 112.5,47.2 111.5,46.9 110.5,46.6 110.0,46.5 109.5,46.3 108.5,46.0 107.5,45.7 106.8,45.5 106.5,45.4 105.5,45.0 104.5,44.7 103.5,44.5 103.5,44.5 102.5,44.1 101.5,43.8 100.5,43.5 100.4,43.5 99.5,43.0 98.5,42.7 98.1,42.5 97.5,41.9 97.0,41.5ZM28.5,47.2 29.5,46.9 30.5,46.9 31.5,46.9 32.5,47.0 33.5,47.1 34.5,47.2 35.5,47.3 36.5,47.4 37.5,47.5 37.5,47.5 38.5,47.6 39.5,47.7 40.5,47.8 41.5,47.9 42.5,48.0 43.5,48.1 44.5,48.1 45.5,48.2 46.5,48.2 47.5,48.2 48.5,48.2 49.5,48.2 50.5,48.2 51.5,48.3 52.5,48.3 53.5,48.3 54.5,48.3 55.5,48.4 56.5,48.4 57.4,48.5 57.5,48.5 58.5,48.6 59.5,48.9 60.5,49.1 61.5,49.5 61.5,49.5 62.5,49.9 63.5,50.3 64.0,50.5 64.5,50.7 65.5,51.1 66.5,51.4 66.8,51.5 67.5,51.7 68.5,52.0 69.5,52.2 70.5,52.4 70.8,52.5 71.5,52.7 72.5,52.9 73.5,53.1 74.5,53.3 75.5,53.5 75.6,53.5 76.5,53.7 77.5,53.9 78.5,54.1 79.5,54.3 80.5,54.5 80.6,54.5 81.5,54.7 82.5,55.0 83.5,55.3 84.1,55.5 84.5,55.7 85.5,56.3 85.7,56.5 86.1,57.5 85.7,58.5 85.5,58.7 84.5,59.2 83.8,59.5 83.5,59.6 82.5,59.8 81.5,59.9 80.5,60.0 79.5,60.1 78.5,60.1 77.5,60.2 76.5,60.3 75.5,60.3 74.5,60.4 73.5,60.5 73.1,60.5 72.5,60.5 71.5,60.6 70.5,60.7 69.5,60.7 68.5,60.8 67.5,60.9 66.5,61.1 65.5,61.2 64.5,61.5 64.4,61.5 63.5,61.7 62.5,62.0 61.5,62.2 60.5,62.5 60.3,62.5 59.5,62.6 58.5,62.7 57.5,62.8 56.5,62.7 55.8,62.5 55.5,62.4 54.5,62.1 53.5,61.8 52.7,61.5 52.5,61.4 51.5,61.1 50.5,60.8 49.5,60.5 49.5,60.5 48.5,60.1 47.5,59.8 46.9,59.5 46.5,59.3 45.5,58.8 44.8,58.5 44.5,58.3 43.5,57.8 42.5,57.5 42.4,57.5 41.5,57.2 40.5,56.9 39.5,56.7 38.7,56.5 38.5,56.5 37.5,56.2 36.5,55.9 35.5,55.7 34.5,55.5 34.5,55.5 33.5,55.2 32.5,55.0 31.5,54.7 30.5,54.5 30.3,54.5 29.5,54.2 28.5,53.8 27.9,53.5 27.5,53.1 26.9,52.5 26.5,51.7 26.4,51.5 26.2,50.5 26.3,49.5 26.5,49.1 26.8,48.5 27.5,47.7 27.9,47.5ZM79.5,111.2 80.5,111.1 81.5,111.4 81.8,111.5 82.5,111.8 83.5,112.2 84.4,112.5 84.5,112.5 85.5,113.0 86.5,113.3 87.0,113.5 87.5,113.8 88.5,114.2 89.5,114.5 89.6,114.5 90.5,115.0 91.5,115.3 92.1,115.5 92.5,115.7 93.5,116.1 94.5,116.4 94.7,116.5 95.5,116.9 96.5,117.3 97.3,117.5 97.5,117.6 98.5,118.1 99.5,118.4 99.8,118.5 100.5,118.8 101.5,119.2 102.5,119.5 102.6,119.5 103.5,119.8 104.5,120.1 105.5,120.3 106.0,120.5 106.5,120.8 107.2,121.5 107.5,122.4 107.5,122.5 107.5,122.6 106.5,123.4 105.5,123.5 104.5,123.1 103.5,122.6 103.2,122.5 102.5,122.1 101.5,121.6 101.2,121.5 100.5,121.1 99.5,120.8 98.7,120.5 98.5,120.4 97.5,119.9 96.5,119.6 96.1,119.5 95.5,119.2 94.5,118.8 93.5,118.5 93.5,118.5 92.5,118.0 91.5,117.7 91.0,117.5 90.5,117.3 89.5,116.9 88.5,116.5 88.4,116.5 87.5,116.1 86.5,115.7 85.8,115.5 85.5,115.3 84.5,114.9 83.5,114.6 83.2,114.5 82.5,114.1 81.5,113.8 80.7,113.5 80.5,113.4 79.5,112.8 79.2,112.5 79.0,111.5ZM0.5,118.2 1.5,118.3 2.5,118.3 3.5,118.4 4.5,118.5 4.6,118.5 5.5,118.6 6.5,118.7 7.5,118.8 8.5,118.9 9.5,119.0 10.5,119.0 11.5,119.1 12.5,119.2 13.5,119.3 14.5,119.4 15.5,119.4 16.3,119.5 16.5,119.5 17.5,119.6 18.5,119.7 19.5,119.8 20.5,120.1 21.1,120.5 21.5,121.2 21.6,121.5 21.5,122.1 21.4,122.5 20.5,123.3 19.9,123.5 19.5,123.6 18.5,123.7 17.5,123.8 16.5,123.9 15.5,123.9 14.5,124.0 13.5,124.1 12.5,124.2 11.5,124.3 10.5,124.4 9.5,124.5 9.3,124.5 8.5,124.6 7.5,124.6 6.5,124.7 5.5,124.8 4.5,124.9 3.5,125.0 2.5,125.1 1.5,125.1 0.5,125.2 0.0,125.2 0.0,124.5 0.0,123.5 0.0,122.5 0.0,121.5 0.0,120.5 0.0,119.5 0.0,118.5 0.0,118.2Z"/>
<path fill="#ff0000" d="M29.5,48.4 30.5,48.3 31.5,48.4 32.5,48.5 32.7,48.5 33.5,48.6 34.5,48.7 35.5,48.8 36.5,48.9 37.5,49.1 38.5,49.2 39.5,49.3 40.5,49.4 41.5,49.5 41.7,49.5 42.5,49.6 43.5,49.7 44.5,49.7 45.5,49.7 46.5,49.6 47.5,49.5 47.7,49.5 48.5,49.4 49.5,49.4 50.5,49.4 51.5,49.4 52.5,49.4 53.5,49.4 54.5,49.4 55.5,49.4 56.5,49.4 57.5,49.4 58.5,49.4 59.1,49.5 59.5,49.6 60.5,49.8 61.5,50.1 62.5,50.5 62.6,50.5 63.5,50.8 64.5,51.2 65.4,51.5 65.5,51.5 66.5,51.9 67.5,52.1 68.5,52.4 69.1,52.5 69.5,52.6 70.5,52.8 71.5,53.0 72.5,53.2 73.5,53.4 74.1,53.5 74.5,53.6 75.5,53.8 76.5,54.0 77.5,54.2 78.5,54.4 79.3,54.5 79.5,54.5 80.5,54.8 81.5,55.0 82.5,55.2 83.4,55.5 83.5,55.5 84.5,56.1 85.3,56.5 85.5,56.9 85.7,57.5 85.5,58.1 85.2,58.5 84.5,58.9 83.5,59.3 83.0,59.5 82.5,59.6 81.5,59.7 80.5,59.8 79.5,59.8 78.5,59.9 77.5,59.9 76.5,60.0 75.5,60.0 74.5,60.1 73.5,60.1 72.5,60.2 71.5,60.2 70.5,60.3 69.5,60.4 68.5,60.5 68.0,60.5 67.5,60.5 66.5,60.6 65.5,60.8 64.5,61.0 63.5,61.2 62.5,61.4 62.3,61.5 61.5,61.7 60.5,61.9 59.5,62.0 58.5,62.2 57.5,62.2 56.5,62.0 55.5,61.8 54.5,61.6 54.3,61.5 53.5,61.2 52.5,60.9 51.5,60.6 51.2,60.5 50.5,60.3 49.5,60.0 48.5,59.7 48.0,59.5 47.5,59.3 46.5,58.8 46.0,58.5 45.5,58.2 44.5,57.6 44.2,57.5 43.5,57.1 42.5,56.7 41.8,56.5 41.5,56.4 40.5,56.1 39.5,55.8 38.5,55.6 37.9,55.5 37.5,55.4 36.5,55.1 35.5,54.9 34.5,54.7 33.7,54.5 33.5,54.5 32.5,54.2 31.5,53.9 30.5,53.7 29.6,53.5 29.5,53.5 28.5,52.9 28.1,52.5 27.5,51.5 27.5,51.2 27.5,50.5 27.5,50.4 27.9,49.5 28.5,48.9 29.2,48.5ZM137.5,53.5 137.5,53.5 137.5,53.5 137.5,53.5ZM81.5,112.5 81.6,112.5 81.5,112.5 81.3,112.5ZM83.5,113.5 83.9,113.5 83.5,113.5 83.4,113.5ZM86.5,114.5 86.7,114.5 86.5,114.5 86.2,114.5ZM88.5,115.5 88.8,115.5 88.5,115.5 88.5,115.5ZM91.5,116.5 91.8,116.5 91.5,116.5 91.3,116.5ZM94.5,117.5 94.5,117.5 94.5,117.5 94.1,117.5ZM96.5,118.5 96.8,118.5 96.5,118.5 96.4,118.5ZM0.5,118.9 1.5,118.9 2.5,119.0 3.5,119.1 4.5,119.2 5.5,119.2 6.5,119.3 7.5,119.4 8.5,119.4 9.5,119.5 9.7,119.5 10.5,119.6 11.5,119.7 12.5,119.7 13.5,119.8 14.5,119.9 15.5,120.0 16.5,120.1 17.5,120.1 18.5,120.2 19.5,120.3 20.2,120.5 20.5,120.7 21.0,121.5 20.7,122.5 20.5,122.7 19.5,123.1 18.5,123.2 17.5,123.3 16.5,123.4 15.5,123.5 15.1,123.5 14.5,123.5 13.5,123.6 12.5,123.7 11.5,123.7 10.5,123.8 9.5,123.9 8.5,123.9 7.5,124.0 6.5,124.1 5.5,124.2 4.5,124.2 3.5,124.3 2.5,124.4 1.5,124.5 1.5,124.5 0.5,124.5 0.0,124.5 0.0,124.5 0.0,123.5 0.0,122.5 0.0,121.5 0.0,120.5 0.0,119.5 0.0,118.9ZM99.5,119.5 99.6,119.5 99.5,119.5 99.2,119.5ZM101.5,120.4 102.5,120.4 103.5,120.5 103.5,120.5 104.5,120.8 105.5,121.1 106.2,121.5 106.2,122.5 105.5,122.7 104.6,122.5 104.5,122.4 103.5,121.8 102.9,121.5 102.5,120.8 101.5,120.6 101.3,120.5Z"/>
<path fill="#db0000" d="M30.5,50.4 31.5,50.5 32.0,50.5 32.5,50.6 33.5,50.8 34.5,50.9 35.5,51.0 36.5,51.2 37.5,51.3 38.5,51.4 39.5,51.5 39.6,51.5 40.5,51.6 41.5,51.8 42.5,51.8 43.5,51.7 44.5,51.6 44.7,51.5 45.5,51.3 46.5,51.0 47.5,50.8 48.5,50.6 49.5,50.5 49.6,50.5 50.5,50.5 51.4,50.5 51.5,50.5 52.5,50.5 53.0,50.5 53.5,50.5 54.5,50.4 55.5,50.4 56.5,50.3 57.5,50.2 58.5,50.3 59.5,50.3 60.4,50.5 60.5,50.5 61.5,50.8 62.5,51.1 63.5,51.4 63.7,51.5 64.5,51.8 65.5,52.1 66.5,52.4 67.1,52.5 67.5,52.6 68.5,52.8 69.5,53.0 70.5,53.2 71.5,53.4 72.2,53.5 72.5,53.6 73.5,53.8 74.5,54.0 75.5,54.1 76.5,54.3 77.5,54.5 77.7,54.5 78.5,54.7 79.5,54.9 80.5,55.1 81.5,55.2 82.5,55.5 82.7,55.5 83.5,55.9 84.5,56.4 84.7,56.5 85.3,57.5 84.6,58.5 84.5,58.5 83.5,59.0 82.5,59.3 81.7,59.5 81.5,59.5 80.5,59.6 79.5,59.6 78.5,59.6 77.5,59.7 76.5,59.7 75.5,59.7 74.5,59.8 73.5,59.8 72.5,59.8 71.5,59.9 70.5,59.9 69.5,59.9 68.5,60.0 67.5,60.1 66.5,60.2 65.5,60.3 64.5,60.5 64.3,60.5 63.5,60.6 62.5,60.8 61.5,61.0 60.5,61.2 59.5,61.4 58.5,61.5 57.5,61.5 56.5,61.4 55.5,61.1 54.5,60.9 53.5,60.6 53.2,60.5 52.5,60.3 51.5,60.0 50.5,59.7 49.5,59.5 49.5,59.5 48.5,59.1 47.5,58.7 47.1,58.5 46.5,58.1 45.6,57.5 45.5,57.4 44.5,56.6 44.3,56.5 43.5,55.8 42.9,55.5 42.5,55.2 41.5,54.8 40.5,54.6 40.2,54.5 39.5,54.2 38.5,54.0 37.5,53.8 36.5,53.6 36.0,53.5 35.5,53.3 34.5,53.0 33.5,52.8 32.5,52.6 31.8,52.5 31.5,52.4 30.5,52.0 29.7,51.5 30.3,50.5ZM0.5,119.8 1.5,119.8 2.5,119.9 3.5,119.9 4.5,120.0 5.5,120.1 6.5,120.1 7.5,120.2 8.5,120.2 9.5,120.3 10.5,120.3 11.5,120.4 12.5,120.4 13.5,120.5 14.0,120.5 14.5,120.6 15.5,120.7 16.5,120.7 17.5,120.8 18.5,120.9 19.5,121.1 20.1,121.5 19.5,122.4 19.2,122.5 18.5,122.6 17.5,122.6 16.5,122.7 15.5,122.7 14.5,122.8 13.5,122.8 12.5,122.9 11.5,123.0 10.5,123.0 9.5,123.1 8.5,123.2 7.5,123.2 6.5,123.3 5.5,123.4 4.5,123.4 3.8,123.5 3.5,123.5 2.5,123.6 1.5,123.6 0.5,123.6 0.0,123.6 0.0,123.5 0.0,122.5 0.0,121.5 0.0,120.5 0.0,119.8Z"/>
<path fill="#b60000" d="M54.5,51.5 55.5,51.4 56.5,51.3 57.5,51.2 58.5,51.2 59.5,51.2 60.5,51.4 61.2,51.5 61.5,51.6 62.5,51.8 63.5,52.1 64.5,52.4 64.9,52.5 65.5,52.7 66.5,52.9 67.5,53.1 68.5,53.3 69.5,53.5 69.6,53.5 70.5,53.7 71.5,53.9 72.5,54.0 73.5,54.2 74.5,54.3 75.5,54.5 75.7,54.5 76.5,54.7 77.5,54.9 78.5,55.0 79.5,55.2 80.5,55.4 81.5,55.5 81.5,55.5 82.5,55.8 83.5,56.3 84.0,56.5 84.5,57.3 84.6,57.5 84.5,57.7 83.9,58.5 83.5,58.6 82.5,59.0 81.5,59.2 80.5,59.2 79.5,59.3 78.5,59.3 77.5,59.3 76.5,59.4 75.5,59.4 74.5,59.4 73.5,59.4 72.5,59.5 71.5,59.5 71.0,59.5 70.5,59.5 69.5,59.5 68.5,59.6 67.5,59.6 66.5,59.6 65.5,59.7 64.5,59.8 63.5,60.0 62.5,60.1 61.5,60.3 60.5,60.5 60.2,60.5 59.5,60.6 58.5,60.6 57.5,60.6 56.5,60.5 56.4,60.5 55.5,60.3 54.5,60.1 53.5,59.8 52.5,59.6 52.1,59.5 51.5,59.3 50.5,59.1 49.5,58.8 48.5,58.5 48.4,58.5 47.5,57.9 46.9,57.5 46.5,57.1 45.9,56.5 45.5,55.7 45.4,55.5 45.2,54.5 45.5,53.8 45.6,53.5 46.5,52.7 46.8,52.5 47.5,52.1 48.5,51.8 49.5,51.6 50.5,51.6 51.5,51.6 52.5,51.6 53.5,51.5 54.1,51.5Z"/>
<path fill="#920000" d="M55.5,52.5 56.5,52.4 57.5,52.3 58.5,52.2 59.5,52.2 60.5,52.3 61.5,52.5 61.7,52.5 62.5,52.7 63.5,52.9 64.5,53.1 65.5,53.3 66.4,53.5 66.5,53.5 67.5,53.7 68.5,53.9 69.5,54.1 70.5,54.2 71.5,54.4 72.5,54.5 72.6,54.5 73.5,54.7 74.5,54.9 75.5,55.0 76.5,55.1 77.5,55.3 78.5,55.4 79.2,55.5 79.5,55.6 80.5,55.8 81.5,56.0 82.5,56.2 83.1,56.5 83.5,57.0 83.8,57.5 83.5,57.9 82.9,58.5 82.5,58.6 81.5,58.8 80.5,58.9 79.5,58.9 78.5,58.9 77.5,58.9 76.5,58.9 75.5,58.9 74.5,58.9 73.5,58.9 72.5,58.9 71.5,58.9 70.5,58.9 69.5,58.9 68.5,58.9 67.5,59.0 66.5,59.0 65.5,59.0 64.5,59.1 63.5,59.2 62.5,59.3 61.5,59.4 60.6,59.5 60.5,59.5 59.5,59.6 58.5,59.6 57.5,59.6 56.8,59.5 56.5,59.5 55.5,59.3 54.5,59.1 53.5,58.9 52.5,58.7 51.5,58.5 51.5,58.5 50.5,58.3 49.5,58.0 48.5,57.6 48.3,57.5 47.5,56.7 47.3,56.5 47.0,55.5 47.1,54.5 47.5,53.9 47.9,53.5 48.5,53.1 49.5,52.8 50.5,52.7 51.5,52.8 52.5,52.8 53.5,52.7 54.5,52.6 55.3,52.5Z"/>
</g>
<rect x="426" y="115" width="7" height="142.5" fill="url(#jet)"/>
<text class="ar" x="435" y="127.2" font-size="10" fill="#222">25</text>
<text class="ar" x="435" y="156.0" font-size="10" fill="#222">20</text>
<text class="ar" x="435" y="184.8" font-size="10" fill="#222">15</text>
<text class="ar" x="435" y="213.5" font-size="10" fill="#222">10</text>
<text class="ar" x="435" y="242.2" font-size="10" fill="#222">5</text>
<text class="ar" x="271.0" y="271.1" font-size="10" text-anchor="middle" fill="#222">400</text>
<text class="ar" x="318.5" y="271.1" font-size="10" text-anchor="middle" fill="#222">420</text>
<text class="ar" x="366.0" y="271.1" font-size="10" text-anchor="middle" fill="#222">440</text>
<text class="ar" x="413.5" y="271.1" font-size="10" text-anchor="middle" fill="#222">460</text>
<text class="ar" x="267.9" y="119.6" font-size="10" text-anchor="end" fill="#222">1250</text>
<text class="ar" x="267.9" y="143.3" font-size="10" text-anchor="end" fill="#222">1200</text>
<text class="ar" x="267.9" y="167.1" font-size="10" text-anchor="end" fill="#222">1150</text>
<text class="ar" x="267.9" y="190.8" font-size="10" text-anchor="end" fill="#222">1100</text>
<text class="ar" x="267.9" y="214.6" font-size="10" text-anchor="end" fill="#222">1050</text>
<text class="ar" x="267.9" y="238.3" font-size="10" text-anchor="end" fill="#222">1000</text>
<text class="ar" x="267.9" y="262.1" font-size="10" text-anchor="end" fill="#222">950</text>
<text class="ar" x="346.4" y="281.7" font-size="10.3" text-anchor="middle" fill="#222">Height (nm)</text>
<text class="ar" transform="translate(241.5,186) rotate(-90)" font-size="10.2" text-anchor="middle" fill="#222">Radius (nm)</text>
<text class="dj" x="323.8" y="110.2" font-size="11.3" fill="#222">NA=0.4</text>
<line x1="358.4" y1="150.9" x2="342.3" y2="168.8" stroke="#111" stroke-width="1.3"/>
<text class="dj" x="330.4" y="148" font-size="13.2" fill="#10102a" stroke="#10102a" stroke-width="0.2">η<tspan font-size="9.3">ext</tspan>=28%</text>
<text x="412.4" y="107.6" font-size="10" fill="#222"><tspan font-family="'Liberation Serif',serif" font-style="italic" font-size="11">η</tspan><tspan class="ar" font-size="7.8" dy="4.9">ext</tspan><tspan class="ar" dy="-4.9" dx="3.2">(%)</tspan></text>
</g>
</svg>
</body></html>
